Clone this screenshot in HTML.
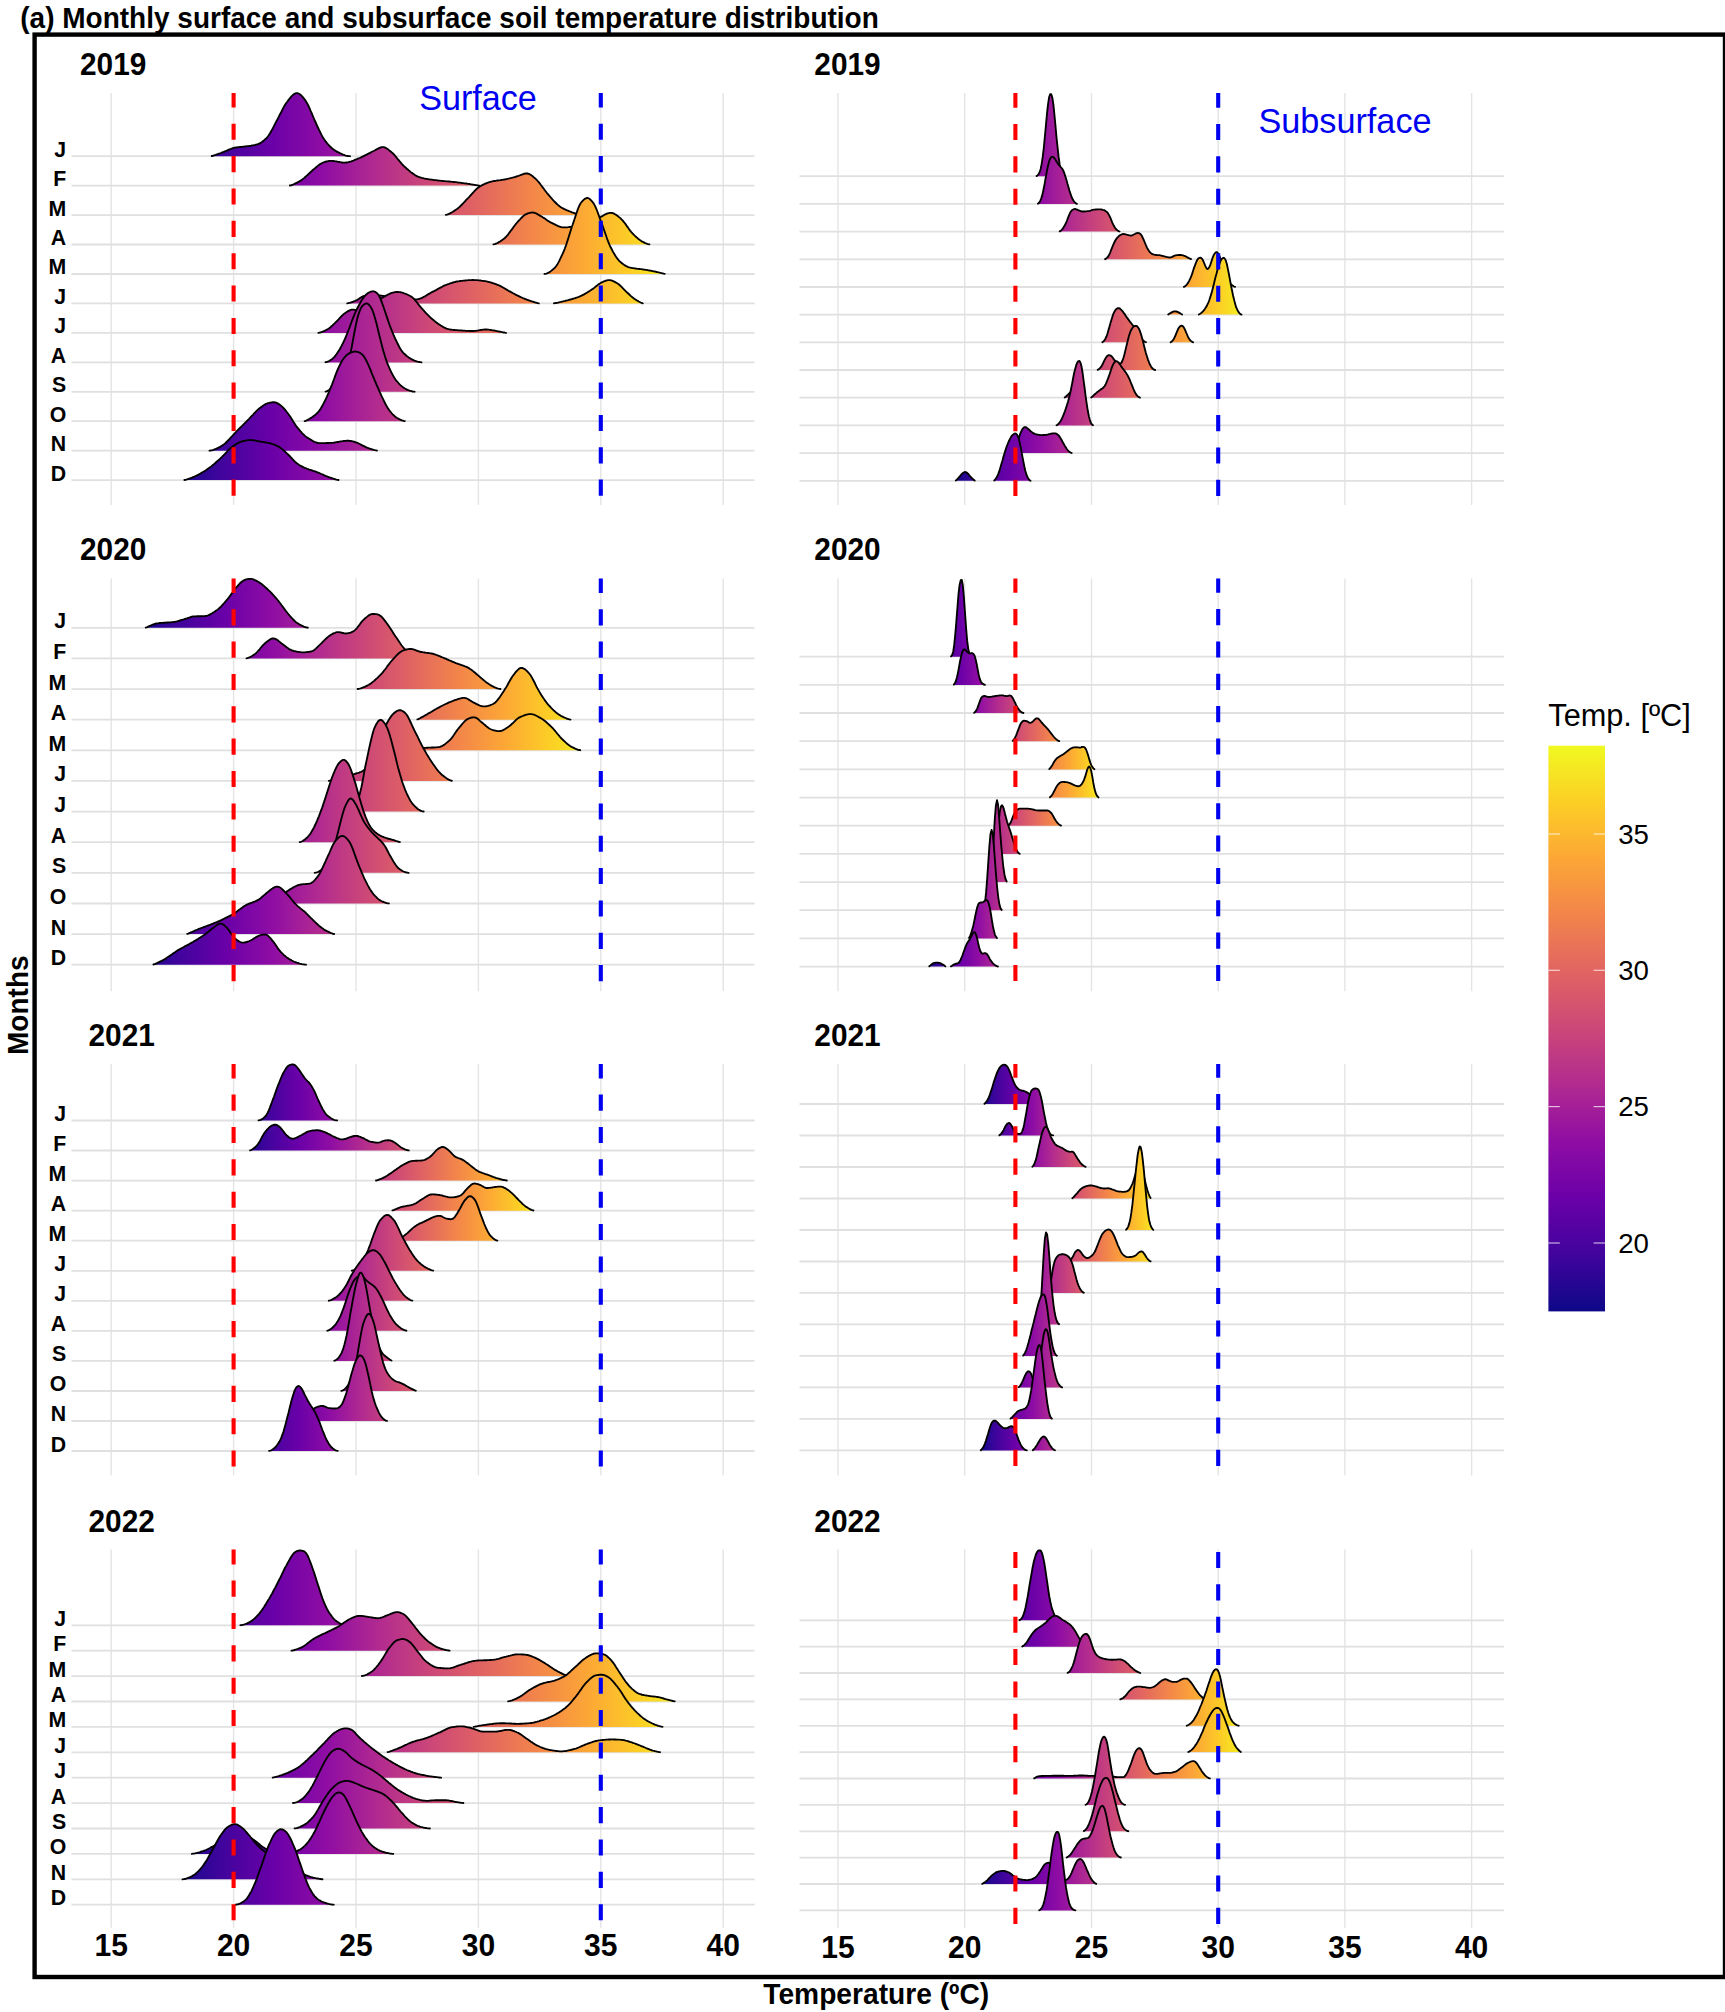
<!DOCTYPE html>
<html lang="en"><head><meta charset="utf-8"><title>Monthly surface and subsurface soil temperature distribution</title>
<style>html,body{margin:0;padding:0;background:#fff}svg{display:block}
text{font-family:"Liberation Sans",Arial,sans-serif;fill:#000}
.b{font-weight:bold}
.vg{stroke:#e4e4e4;stroke-width:1.4}
.hg{stroke:#e0e0e0;stroke-width:1.8}
.rl{fill:none;stroke:#000;stroke-width:1.85;stroke-linejoin:round;stroke-linecap:round}</style></head>
<body>
<svg width="1725" height="2012" viewBox="0 0 1725 2012">
<defs>
<linearGradient id="gL1" gradientUnits="userSpaceOnUse" x1="170.0" y1="0" x2="681.6" y2="0"><stop offset="0.0" stop-color="#0d0887"/><stop offset="0.1" stop-color="#41049d"/><stop offset="0.2" stop-color="#6a00a8"/><stop offset="0.3" stop-color="#8f0da4"/><stop offset="0.4" stop-color="#b12a90"/><stop offset="0.5" stop-color="#cc4778"/><stop offset="0.6" stop-color="#e16462"/><stop offset="0.7" stop-color="#f2844b"/><stop offset="0.8" stop-color="#fca636"/><stop offset="0.9" stop-color="#fcce25"/><stop offset="1.0" stop-color="#f0f921"/></linearGradient>
<linearGradient id="gL2" gradientUnits="userSpaceOnUse" x1="133.2" y1="0" x2="595.9" y2="0"><stop offset="0.0" stop-color="#0d0887"/><stop offset="0.1" stop-color="#41049d"/><stop offset="0.2" stop-color="#6a00a8"/><stop offset="0.3" stop-color="#8f0da4"/><stop offset="0.4" stop-color="#b12a90"/><stop offset="0.5" stop-color="#cc4778"/><stop offset="0.6" stop-color="#e16462"/><stop offset="0.7" stop-color="#f2844b"/><stop offset="0.8" stop-color="#fca636"/><stop offset="0.9" stop-color="#fcce25"/><stop offset="1.0" stop-color="#f0f921"/></linearGradient>
<linearGradient id="gL3" gradientUnits="userSpaceOnUse" x1="236.0" y1="0" x2="549.4" y2="0"><stop offset="0.0" stop-color="#0d0887"/><stop offset="0.1" stop-color="#41049d"/><stop offset="0.2" stop-color="#6a00a8"/><stop offset="0.3" stop-color="#8f0da4"/><stop offset="0.4" stop-color="#b12a90"/><stop offset="0.5" stop-color="#cc4778"/><stop offset="0.6" stop-color="#e16462"/><stop offset="0.7" stop-color="#f2844b"/><stop offset="0.8" stop-color="#fca636"/><stop offset="0.9" stop-color="#fcce25"/><stop offset="1.0" stop-color="#f0f921"/></linearGradient>
<linearGradient id="gL4" gradientUnits="userSpaceOnUse" x1="170.0" y1="0" x2="691.4" y2="0"><stop offset="0.0" stop-color="#0d0887"/><stop offset="0.1" stop-color="#41049d"/><stop offset="0.2" stop-color="#6a00a8"/><stop offset="0.3" stop-color="#8f0da4"/><stop offset="0.4" stop-color="#b12a90"/><stop offset="0.5" stop-color="#cc4778"/><stop offset="0.6" stop-color="#e16462"/><stop offset="0.7" stop-color="#f2844b"/><stop offset="0.8" stop-color="#fca636"/><stop offset="0.9" stop-color="#fcce25"/><stop offset="1.0" stop-color="#f0f921"/></linearGradient>
<linearGradient id="gR1" gradientUnits="userSpaceOnUse" x1="949.5" y1="0" x2="1248.6" y2="0"><stop offset="0.0" stop-color="#0d0887"/><stop offset="0.1" stop-color="#41049d"/><stop offset="0.2" stop-color="#6a00a8"/><stop offset="0.3" stop-color="#8f0da4"/><stop offset="0.4" stop-color="#b12a90"/><stop offset="0.5" stop-color="#cc4778"/><stop offset="0.6" stop-color="#e16462"/><stop offset="0.7" stop-color="#f2844b"/><stop offset="0.8" stop-color="#fca636"/><stop offset="0.9" stop-color="#fcce25"/><stop offset="1.0" stop-color="#f0f921"/></linearGradient>
<linearGradient id="gR2" gradientUnits="userSpaceOnUse" x1="924.2" y1="0" x2="1105.4" y2="0"><stop offset="0.0" stop-color="#0d0887"/><stop offset="0.1" stop-color="#41049d"/><stop offset="0.2" stop-color="#6a00a8"/><stop offset="0.3" stop-color="#8f0da4"/><stop offset="0.4" stop-color="#b12a90"/><stop offset="0.5" stop-color="#cc4778"/><stop offset="0.6" stop-color="#e16462"/><stop offset="0.7" stop-color="#f2844b"/><stop offset="0.8" stop-color="#fca636"/><stop offset="0.9" stop-color="#fcce25"/><stop offset="1.0" stop-color="#f0f921"/></linearGradient>
<linearGradient id="gR3" gradientUnits="userSpaceOnUse" x1="978.7" y1="0" x2="1161.1" y2="0"><stop offset="0.0" stop-color="#0d0887"/><stop offset="0.1" stop-color="#41049d"/><stop offset="0.2" stop-color="#6a00a8"/><stop offset="0.3" stop-color="#8f0da4"/><stop offset="0.4" stop-color="#b12a90"/><stop offset="0.5" stop-color="#cc4778"/><stop offset="0.6" stop-color="#e16462"/><stop offset="0.7" stop-color="#f2844b"/><stop offset="0.8" stop-color="#fca636"/><stop offset="0.9" stop-color="#fcce25"/><stop offset="1.0" stop-color="#f0f921"/></linearGradient>
<linearGradient id="gR4" gradientUnits="userSpaceOnUse" x1="977.4" y1="0" x2="1248.6" y2="0"><stop offset="0.0" stop-color="#0d0887"/><stop offset="0.1" stop-color="#41049d"/><stop offset="0.2" stop-color="#6a00a8"/><stop offset="0.3" stop-color="#8f0da4"/><stop offset="0.4" stop-color="#b12a90"/><stop offset="0.5" stop-color="#cc4778"/><stop offset="0.6" stop-color="#e16462"/><stop offset="0.7" stop-color="#f2844b"/><stop offset="0.8" stop-color="#fca636"/><stop offset="0.9" stop-color="#fcce25"/><stop offset="1.0" stop-color="#f0f921"/></linearGradient>
<linearGradient id="gbar" x1="0" y1="1" x2="0" y2="0"><stop offset="0.0" stop-color="#0d0887"/><stop offset="0.1" stop-color="#41049d"/><stop offset="0.2" stop-color="#6a00a8"/><stop offset="0.3" stop-color="#8f0da4"/><stop offset="0.4" stop-color="#b12a90"/><stop offset="0.5" stop-color="#cc4778"/><stop offset="0.6" stop-color="#e16462"/><stop offset="0.7" stop-color="#f2844b"/><stop offset="0.8" stop-color="#fca636"/><stop offset="0.9" stop-color="#fcce25"/><stop offset="1.0" stop-color="#f0f921"/></linearGradient>
</defs>
<rect width="1725" height="2012" fill="#fff"/>
<text transform="translate(20.3,27.5) scale(0.962,1)" font-size="29.1" class="b">(a) Monthly surface and subsurface soil temperature distribution</text>
<g id="L1"><line x1="111.2" y1="93.0" x2="111.2" y2="505.0" class="vg"/>
<line x1="233.6" y1="93.0" x2="233.6" y2="505.0" class="vg"/>
<line x1="356.0" y1="93.0" x2="356.0" y2="505.0" class="vg"/>
<line x1="478.4" y1="93.0" x2="478.4" y2="505.0" class="vg"/>
<line x1="600.8" y1="93.0" x2="600.8" y2="505.0" class="vg"/>
<line x1="723.2" y1="93.0" x2="723.2" y2="505.0" class="vg"/>
<line x1="71.5" y1="156.2" x2="754.5" y2="156.2" class="hg"/>
<line x1="71.5" y1="185.6" x2="754.5" y2="185.6" class="hg"/>
<line x1="71.5" y1="215.1" x2="754.5" y2="215.1" class="hg"/>
<line x1="71.5" y1="244.5" x2="754.5" y2="244.5" class="hg"/>
<line x1="71.5" y1="274.0" x2="754.5" y2="274.0" class="hg"/>
<line x1="71.5" y1="303.4" x2="754.5" y2="303.4" class="hg"/>
<line x1="71.5" y1="332.9" x2="754.5" y2="332.9" class="hg"/>
<line x1="71.5" y1="362.4" x2="754.5" y2="362.4" class="hg"/>
<line x1="71.5" y1="391.8" x2="754.5" y2="391.8" class="hg"/>
<line x1="71.5" y1="421.2" x2="754.5" y2="421.2" class="hg"/>
<line x1="71.5" y1="450.7" x2="754.5" y2="450.7" class="hg"/>
<line x1="71.5" y1="480.1" x2="754.5" y2="480.1" class="hg"/>
<path d="M211.7,156.2 L211.7,156.0 212.7,155.8 213.7,155.5 214.7,155.1 215.7,154.8 216.7,154.4 217.7,154.1 218.7,153.7 219.7,153.4 220.8,153.0 221.8,152.6 222.8,152.2 223.8,151.9 224.8,151.4 225.8,151.0 226.8,150.6 227.8,150.1 228.8,149.7 229.8,149.3 230.9,148.9 231.9,148.5 232.9,148.2 233.9,147.9 234.9,147.7 235.9,147.5 236.9,147.4 237.9,147.2 238.9,147.1 239.9,147.0 241.0,146.9 242.0,146.8 243.0,146.7 244.0,146.6 245.0,146.5 246.0,146.4 247.0,146.2 248.0,146.1 249.0,146.0 250.0,145.8 251.1,145.7 252.1,145.5 253.1,145.4 254.1,145.2 255.1,145.0 256.1,144.7 257.1,144.4 258.1,144.1 259.1,143.6 260.1,143.1 261.2,142.5 262.2,141.8 263.2,141.0 264.2,140.2 265.2,139.3 266.2,138.4 267.2,137.3 268.2,136.0 269.2,134.5 270.2,132.9 271.3,131.1 272.3,129.3 273.3,127.3 274.3,125.4 275.3,123.4 276.3,121.5 277.3,119.6 278.3,117.7 279.3,115.7 280.3,113.7 281.4,111.7 282.4,109.7 283.4,107.8 284.4,106.0 285.4,104.3 286.4,102.8 287.4,101.5 288.4,100.1 289.4,98.9 290.4,97.6 291.5,96.4 292.5,95.4 293.5,94.5 294.5,93.8 295.5,93.3 296.5,93.1 297.5,93.1 298.5,93.5 299.5,94.0 300.5,94.8 301.6,95.8 302.6,96.9 303.6,98.1 304.6,99.4 305.6,100.8 306.6,102.4 307.6,104.1 308.6,106.2 309.6,108.4 310.6,110.8 311.7,113.2 312.7,115.7 313.7,118.0 314.7,120.3 315.7,122.5 316.7,124.8 317.7,127.0 318.7,129.2 319.7,131.3 320.8,133.4 321.8,135.4 322.8,137.2 323.8,138.8 324.8,140.3 325.8,141.6 326.8,142.9 327.8,144.1 328.8,145.2 329.8,146.3 330.9,147.3 331.9,148.2 332.9,149.0 333.9,149.8 334.9,150.4 335.9,151.0 336.9,151.6 337.9,152.2 338.9,152.7 339.9,153.2 341.0,153.7 342.0,154.1 343.0,154.6 344.0,154.9 345.0,155.3 346.0,155.6 347.0,155.8 348.0,156.0 349.0,156.1 350.0,156.2 L350.0,156.2 Z" fill="url(#gL1)"/>
<polyline points="211.7,156.0 212.7,155.8 213.7,155.5 214.7,155.1 215.7,154.8 216.7,154.4 217.7,154.1 218.7,153.7 219.7,153.4 220.8,153.0 221.8,152.6 222.8,152.2 223.8,151.9 224.8,151.4 225.8,151.0 226.8,150.6 227.8,150.1 228.8,149.7 229.8,149.3 230.9,148.9 231.9,148.5 232.9,148.2 233.9,147.9 234.9,147.7 235.9,147.5 236.9,147.4 237.9,147.2 238.9,147.1 239.9,147.0 241.0,146.9 242.0,146.8 243.0,146.7 244.0,146.6 245.0,146.5 246.0,146.4 247.0,146.2 248.0,146.1 249.0,146.0 250.0,145.8 251.1,145.7 252.1,145.5 253.1,145.4 254.1,145.2 255.1,145.0 256.1,144.7 257.1,144.4 258.1,144.1 259.1,143.6 260.1,143.1 261.2,142.5 262.2,141.8 263.2,141.0 264.2,140.2 265.2,139.3 266.2,138.4 267.2,137.3 268.2,136.0 269.2,134.5 270.2,132.9 271.3,131.1 272.3,129.3 273.3,127.3 274.3,125.4 275.3,123.4 276.3,121.5 277.3,119.6 278.3,117.7 279.3,115.7 280.3,113.7 281.4,111.7 282.4,109.7 283.4,107.8 284.4,106.0 285.4,104.3 286.4,102.8 287.4,101.5 288.4,100.1 289.4,98.9 290.4,97.6 291.5,96.4 292.5,95.4 293.5,94.5 294.5,93.8 295.5,93.3 296.5,93.1 297.5,93.1 298.5,93.5 299.5,94.0 300.5,94.8 301.6,95.8 302.6,96.9 303.6,98.1 304.6,99.4 305.6,100.8 306.6,102.4 307.6,104.1 308.6,106.2 309.6,108.4 310.6,110.8 311.7,113.2 312.7,115.7 313.7,118.0 314.7,120.3 315.7,122.5 316.7,124.8 317.7,127.0 318.7,129.2 319.7,131.3 320.8,133.4 321.8,135.4 322.8,137.2 323.8,138.8 324.8,140.3 325.8,141.6 326.8,142.9 327.8,144.1 328.8,145.2 329.8,146.3 330.9,147.3 331.9,148.2 332.9,149.0 333.9,149.8 334.9,150.4 335.9,151.0 336.9,151.6 337.9,152.2 338.9,152.7 339.9,153.2 341.0,153.7 342.0,154.1 343.0,154.6 344.0,154.9 345.0,155.3 346.0,155.6 347.0,155.8 348.0,156.0 349.0,156.1 350.0,156.2" class="rl"/>
<path d="M289.9,185.6 L289.9,185.5 290.9,185.3 291.9,185.0 293.0,184.6 294.0,184.2 295.0,183.7 296.0,183.2 297.0,182.7 298.0,182.2 299.0,181.6 300.0,181.0 301.0,180.4 302.0,179.7 303.0,178.9 304.0,178.1 305.0,177.2 306.1,176.3 307.1,175.4 308.1,174.4 309.1,173.5 310.1,172.5 311.1,171.6 312.1,170.7 313.1,169.8 314.1,169.0 315.1,168.1 316.1,167.3 317.1,166.4 318.1,165.6 319.1,164.8 320.2,164.1 321.2,163.5 322.2,163.0 323.2,162.5 324.2,162.2 325.2,161.8 326.2,161.5 327.2,161.3 328.2,161.1 329.2,160.9 330.2,160.8 331.2,160.8 332.2,160.9 333.3,161.0 334.3,161.1 335.3,161.3 336.3,161.4 337.3,161.6 338.3,161.8 339.3,162.0 340.3,162.2 341.3,162.3 342.3,162.5 343.3,162.6 344.3,162.6 345.3,162.6 346.4,162.5 347.4,162.4 348.4,162.2 349.4,161.9 350.4,161.6 351.4,161.3 352.4,160.9 353.4,160.6 354.4,160.2 355.4,159.7 356.4,159.3 357.4,158.9 358.4,158.4 359.5,158.0 360.5,157.6 361.5,157.2 362.5,156.7 363.5,156.2 364.5,155.7 365.5,155.2 366.5,154.7 367.5,154.1 368.5,153.6 369.5,153.1 370.5,152.6 371.5,152.0 372.5,151.5 373.6,151.0 374.6,150.5 375.6,149.9 376.6,149.4 377.6,148.8 378.6,148.3 379.6,147.8 380.6,147.5 381.6,147.2 382.6,147.1 383.6,147.2 384.6,147.4 385.6,147.9 386.7,148.4 387.7,149.1 388.7,149.9 389.7,150.7 390.7,151.5 391.7,152.4 392.7,153.3 393.7,154.2 394.7,155.3 395.7,156.5 396.7,157.7 397.7,159.0 398.7,160.2 399.8,161.5 400.8,162.7 401.8,163.9 402.8,165.0 403.8,166.0 404.8,166.9 405.8,167.8 406.8,168.7 407.8,169.5 408.8,170.4 409.8,171.2 410.8,172.1 411.8,172.9 412.9,173.6 413.9,174.3 414.9,175.0 415.9,175.6 416.9,176.1 417.9,176.6 418.9,177.0 419.9,177.3 420.9,177.6 421.9,177.9 422.9,178.1 423.9,178.4 424.9,178.6 425.9,178.8 427.0,178.9 428.0,179.1 429.0,179.3 430.0,179.4 431.0,179.6 432.0,179.7 433.0,179.8 434.0,180.0 435.0,180.1 436.0,180.2 437.0,180.4 438.0,180.5 439.0,180.6 440.1,180.7 441.1,180.8 442.1,180.9 443.1,181.0 444.1,181.1 445.1,181.2 446.1,181.3 447.1,181.4 448.1,181.4 449.1,181.5 450.1,181.6 451.1,181.7 452.1,181.8 453.2,181.9 454.2,182.0 455.2,182.1 456.2,182.2 457.2,182.3 458.2,182.5 459.2,182.6 460.2,182.7 461.2,182.8 462.2,183.0 463.2,183.1 464.2,183.3 465.2,183.4 466.3,183.5 467.3,183.7 468.3,183.8 469.3,184.0 470.3,184.2 471.3,184.3 472.3,184.5 473.3,184.6 474.3,184.8 475.3,185.0 476.3,185.1 477.3,185.3 478.3,185.5 479.3,185.6 L479.3,185.6 Z" fill="url(#gL1)"/>
<polyline points="289.9,185.5 290.9,185.3 291.9,185.0 293.0,184.6 294.0,184.2 295.0,183.7 296.0,183.2 297.0,182.7 298.0,182.2 299.0,181.6 300.0,181.0 301.0,180.4 302.0,179.7 303.0,178.9 304.0,178.1 305.0,177.2 306.1,176.3 307.1,175.4 308.1,174.4 309.1,173.5 310.1,172.5 311.1,171.6 312.1,170.7 313.1,169.8 314.1,169.0 315.1,168.1 316.1,167.3 317.1,166.4 318.1,165.6 319.1,164.8 320.2,164.1 321.2,163.5 322.2,163.0 323.2,162.5 324.2,162.2 325.2,161.8 326.2,161.5 327.2,161.3 328.2,161.1 329.2,160.9 330.2,160.8 331.2,160.8 332.2,160.9 333.3,161.0 334.3,161.1 335.3,161.3 336.3,161.4 337.3,161.6 338.3,161.8 339.3,162.0 340.3,162.2 341.3,162.3 342.3,162.5 343.3,162.6 344.3,162.6 345.3,162.6 346.4,162.5 347.4,162.4 348.4,162.2 349.4,161.9 350.4,161.6 351.4,161.3 352.4,160.9 353.4,160.6 354.4,160.2 355.4,159.7 356.4,159.3 357.4,158.9 358.4,158.4 359.5,158.0 360.5,157.6 361.5,157.2 362.5,156.7 363.5,156.2 364.5,155.7 365.5,155.2 366.5,154.7 367.5,154.1 368.5,153.6 369.5,153.1 370.5,152.6 371.5,152.0 372.5,151.5 373.6,151.0 374.6,150.5 375.6,149.9 376.6,149.4 377.6,148.8 378.6,148.3 379.6,147.8 380.6,147.5 381.6,147.2 382.6,147.1 383.6,147.2 384.6,147.4 385.6,147.9 386.7,148.4 387.7,149.1 388.7,149.9 389.7,150.7 390.7,151.5 391.7,152.4 392.7,153.3 393.7,154.2 394.7,155.3 395.7,156.5 396.7,157.7 397.7,159.0 398.7,160.2 399.8,161.5 400.8,162.7 401.8,163.9 402.8,165.0 403.8,166.0 404.8,166.9 405.8,167.8 406.8,168.7 407.8,169.5 408.8,170.4 409.8,171.2 410.8,172.1 411.8,172.9 412.9,173.6 413.9,174.3 414.9,175.0 415.9,175.6 416.9,176.1 417.9,176.6 418.9,177.0 419.9,177.3 420.9,177.6 421.9,177.9 422.9,178.1 423.9,178.4 424.9,178.6 425.9,178.8 427.0,178.9 428.0,179.1 429.0,179.3 430.0,179.4 431.0,179.6 432.0,179.7 433.0,179.8 434.0,180.0 435.0,180.1 436.0,180.2 437.0,180.4 438.0,180.5 439.0,180.6 440.1,180.7 441.1,180.8 442.1,180.9 443.1,181.0 444.1,181.1 445.1,181.2 446.1,181.3 447.1,181.4 448.1,181.4 449.1,181.5 450.1,181.6 451.1,181.7 452.1,181.8 453.2,181.9 454.2,182.0 455.2,182.1 456.2,182.2 457.2,182.3 458.2,182.5 459.2,182.6 460.2,182.7 461.2,182.8 462.2,183.0 463.2,183.1 464.2,183.3 465.2,183.4 466.3,183.5 467.3,183.7 468.3,183.8 469.3,184.0 470.3,184.2 471.3,184.3 472.3,184.5 473.3,184.6 474.3,184.8 475.3,185.0 476.3,185.1 477.3,185.3 478.3,185.5 479.3,185.6" class="rl"/>
<path d="M445.8,215.1 L445.8,214.9 446.9,214.7 447.9,214.3 448.9,213.9 449.9,213.4 450.9,212.8 451.9,212.3 452.9,211.7 453.9,211.0 454.9,210.4 455.9,209.7 457.0,209.0 458.0,208.2 459.0,207.4 460.0,206.5 461.0,205.5 462.0,204.5 463.0,203.5 464.0,202.4 465.0,201.3 466.0,200.2 467.0,199.1 468.1,198.1 469.1,197.0 470.1,195.9 471.1,194.8 472.1,193.7 473.1,192.6 474.1,191.5 475.1,190.4 476.1,189.4 477.1,188.5 478.1,187.7 479.2,186.9 480.2,186.3 481.2,185.7 482.2,185.2 483.2,184.6 484.2,184.2 485.2,183.7 486.2,183.3 487.2,182.9 488.2,182.5 489.3,182.2 490.3,181.9 491.3,181.6 492.3,181.4 493.3,181.2 494.3,181.0 495.3,180.8 496.3,180.7 497.3,180.5 498.3,180.4 499.3,180.3 500.4,180.2 501.4,180.0 502.4,179.9 503.4,179.7 504.4,179.5 505.4,179.3 506.4,179.1 507.4,178.9 508.4,178.7 509.4,178.4 510.4,178.2 511.5,177.9 512.5,177.6 513.5,177.4 514.5,177.1 515.5,176.8 516.5,176.5 517.5,176.2 518.5,175.9 519.5,175.5 520.5,175.1 521.6,174.7 522.6,174.3 523.6,174.0 524.6,173.7 525.6,173.5 526.6,173.4 527.6,173.5 528.6,173.8 529.6,174.2 530.6,174.8 531.6,175.5 532.7,176.3 533.7,177.2 534.7,178.0 535.7,178.9 536.7,179.9 537.7,181.0 538.7,182.1 539.7,183.3 540.7,184.7 541.7,186.0 542.7,187.4 543.8,188.8 544.8,190.2 545.8,191.5 546.8,192.8 547.8,194.0 548.8,195.2 549.8,196.4 550.8,197.5 551.8,198.7 552.8,199.8 553.8,200.9 554.9,202.0 555.9,203.0 556.9,204.0 557.9,204.9 558.9,205.7 559.9,206.5 560.9,207.2 561.9,207.8 562.9,208.3 563.9,208.9 565.0,209.4 566.0,209.9 567.0,210.3 568.0,210.7 569.0,211.1 570.0,211.5 571.0,211.9 572.0,212.3 573.0,212.6 574.0,213.0 575.0,213.3 576.1,213.7 577.1,214.0 578.1,214.3 579.1,214.6 580.1,214.8 581.1,215.0 L581.1,215.1 Z" fill="url(#gL1)"/>
<polyline points="445.8,214.9 446.9,214.7 447.9,214.3 448.9,213.9 449.9,213.4 450.9,212.8 451.9,212.3 452.9,211.7 453.9,211.0 454.9,210.4 455.9,209.7 457.0,209.0 458.0,208.2 459.0,207.4 460.0,206.5 461.0,205.5 462.0,204.5 463.0,203.5 464.0,202.4 465.0,201.3 466.0,200.2 467.0,199.1 468.1,198.1 469.1,197.0 470.1,195.9 471.1,194.8 472.1,193.7 473.1,192.6 474.1,191.5 475.1,190.4 476.1,189.4 477.1,188.5 478.1,187.7 479.2,186.9 480.2,186.3 481.2,185.7 482.2,185.2 483.2,184.6 484.2,184.2 485.2,183.7 486.2,183.3 487.2,182.9 488.2,182.5 489.3,182.2 490.3,181.9 491.3,181.6 492.3,181.4 493.3,181.2 494.3,181.0 495.3,180.8 496.3,180.7 497.3,180.5 498.3,180.4 499.3,180.3 500.4,180.2 501.4,180.0 502.4,179.9 503.4,179.7 504.4,179.5 505.4,179.3 506.4,179.1 507.4,178.9 508.4,178.7 509.4,178.4 510.4,178.2 511.5,177.9 512.5,177.6 513.5,177.4 514.5,177.1 515.5,176.8 516.5,176.5 517.5,176.2 518.5,175.9 519.5,175.5 520.5,175.1 521.6,174.7 522.6,174.3 523.6,174.0 524.6,173.7 525.6,173.5 526.6,173.4 527.6,173.5 528.6,173.8 529.6,174.2 530.6,174.8 531.6,175.5 532.7,176.3 533.7,177.2 534.7,178.0 535.7,178.9 536.7,179.9 537.7,181.0 538.7,182.1 539.7,183.3 540.7,184.7 541.7,186.0 542.7,187.4 543.8,188.8 544.8,190.2 545.8,191.5 546.8,192.8 547.8,194.0 548.8,195.2 549.8,196.4 550.8,197.5 551.8,198.7 552.8,199.8 553.8,200.9 554.9,202.0 555.9,203.0 556.9,204.0 557.9,204.9 558.9,205.7 559.9,206.5 560.9,207.2 561.9,207.8 562.9,208.3 563.9,208.9 565.0,209.4 566.0,209.9 567.0,210.3 568.0,210.7 569.0,211.1 570.0,211.5 571.0,211.9 572.0,212.3 573.0,212.6 574.0,213.0 575.0,213.3 576.1,213.7 577.1,214.0 578.1,214.3 579.1,214.6 580.1,214.8 581.1,215.0" class="rl"/>
<path d="M493.4,244.5 L493.4,244.4 494.5,244.2 495.5,243.9 496.5,243.4 497.5,243.0 498.5,242.4 499.5,241.8 500.5,241.2 501.5,240.5 502.5,239.8 503.6,239.0 504.6,238.2 505.6,237.3 506.6,236.2 507.6,235.1 508.6,233.8 509.6,232.4 510.6,231.0 511.7,229.6 512.7,228.2 513.7,226.8 514.7,225.5 515.7,224.2 516.7,223.0 517.7,221.9 518.7,220.7 519.8,219.6 520.8,218.5 521.8,217.5 522.8,216.5 523.8,215.6 524.8,214.9 525.8,214.3 526.8,213.8 527.9,213.4 528.9,213.1 529.9,212.8 530.9,212.6 531.9,212.5 532.9,212.6 533.9,212.7 534.9,213.0 536.0,213.4 537.0,213.9 538.0,214.5 539.0,215.1 540.0,215.7 541.0,216.2 542.0,216.8 543.0,217.5 544.1,218.1 545.1,218.8 546.1,219.5 547.1,220.2 548.1,220.9 549.1,221.5 550.1,222.1 551.1,222.6 552.2,223.1 553.2,223.7 554.2,224.2 555.2,224.7 556.2,225.2 557.2,225.6 558.2,226.1 559.2,226.5 560.3,226.8 561.3,227.1 562.3,227.3 563.3,227.4 564.3,227.4 565.3,227.4 566.3,227.3 567.3,227.3 568.4,227.2 569.4,227.0 570.4,226.9 571.4,226.8 572.4,226.6 573.4,226.5 574.4,226.3 575.4,226.1 576.5,225.9 577.5,225.7 578.5,225.5 579.5,225.2 580.5,224.9 581.5,224.6 582.5,224.4 583.5,224.0 584.6,223.7 585.6,223.4 586.6,223.0 587.6,222.6 588.6,222.2 589.6,221.8 590.6,221.4 591.6,220.9 592.7,220.5 593.7,220.1 594.7,219.6 595.7,219.2 596.7,218.7 597.7,218.3 598.7,217.9 599.7,217.4 600.8,216.9 601.8,216.3 602.8,215.8 603.8,215.2 604.8,214.7 605.8,214.2 606.8,213.7 607.8,213.3 608.9,213.1 609.9,212.9 610.9,212.9 611.9,213.0 612.9,213.2 613.9,213.6 614.9,214.2 615.9,214.8 617.0,215.5 618.0,216.3 619.0,217.1 620.0,217.9 621.0,218.8 622.0,219.8 623.0,220.9 624.0,222.2 625.1,223.5 626.1,224.9 627.1,226.4 628.1,227.8 629.1,229.2 630.1,230.6 631.1,231.8 632.1,233.0 633.2,234.1 634.2,235.1 635.2,236.1 636.2,237.0 637.2,237.9 638.2,238.8 639.2,239.6 640.2,240.3 641.3,241.0 642.3,241.6 643.3,242.1 644.3,242.6 645.3,243.1 646.3,243.5 647.3,243.9 648.3,244.2 649.4,244.4 L649.4,244.5 Z" fill="url(#gL1)"/>
<polyline points="493.4,244.4 494.5,244.2 495.5,243.9 496.5,243.4 497.5,243.0 498.5,242.4 499.5,241.8 500.5,241.2 501.5,240.5 502.5,239.8 503.6,239.0 504.6,238.2 505.6,237.3 506.6,236.2 507.6,235.1 508.6,233.8 509.6,232.4 510.6,231.0 511.7,229.6 512.7,228.2 513.7,226.8 514.7,225.5 515.7,224.2 516.7,223.0 517.7,221.9 518.7,220.7 519.8,219.6 520.8,218.5 521.8,217.5 522.8,216.5 523.8,215.6 524.8,214.9 525.8,214.3 526.8,213.8 527.9,213.4 528.9,213.1 529.9,212.8 530.9,212.6 531.9,212.5 532.9,212.6 533.9,212.7 534.9,213.0 536.0,213.4 537.0,213.9 538.0,214.5 539.0,215.1 540.0,215.7 541.0,216.2 542.0,216.8 543.0,217.5 544.1,218.1 545.1,218.8 546.1,219.5 547.1,220.2 548.1,220.9 549.1,221.5 550.1,222.1 551.1,222.6 552.2,223.1 553.2,223.7 554.2,224.2 555.2,224.7 556.2,225.2 557.2,225.6 558.2,226.1 559.2,226.5 560.3,226.8 561.3,227.1 562.3,227.3 563.3,227.4 564.3,227.4 565.3,227.4 566.3,227.3 567.3,227.3 568.4,227.2 569.4,227.0 570.4,226.9 571.4,226.8 572.4,226.6 573.4,226.5 574.4,226.3 575.4,226.1 576.5,225.9 577.5,225.7 578.5,225.5 579.5,225.2 580.5,224.9 581.5,224.6 582.5,224.4 583.5,224.0 584.6,223.7 585.6,223.4 586.6,223.0 587.6,222.6 588.6,222.2 589.6,221.8 590.6,221.4 591.6,220.9 592.7,220.5 593.7,220.1 594.7,219.6 595.7,219.2 596.7,218.7 597.7,218.3 598.7,217.9 599.7,217.4 600.8,216.9 601.8,216.3 602.8,215.8 603.8,215.2 604.8,214.7 605.8,214.2 606.8,213.7 607.8,213.3 608.9,213.1 609.9,212.9 610.9,212.9 611.9,213.0 612.9,213.2 613.9,213.6 614.9,214.2 615.9,214.8 617.0,215.5 618.0,216.3 619.0,217.1 620.0,217.9 621.0,218.8 622.0,219.8 623.0,220.9 624.0,222.2 625.1,223.5 626.1,224.9 627.1,226.4 628.1,227.8 629.1,229.2 630.1,230.6 631.1,231.8 632.1,233.0 633.2,234.1 634.2,235.1 635.2,236.1 636.2,237.0 637.2,237.9 638.2,238.8 639.2,239.6 640.2,240.3 641.3,241.0 642.3,241.6 643.3,242.1 644.3,242.6 645.3,243.1 646.3,243.5 647.3,243.9 648.3,244.2 649.4,244.4" class="rl"/>
<path d="M544.5,274.0 L544.5,273.9 545.5,273.8 546.5,273.6 547.5,273.2 548.5,272.7 549.5,272.1 550.5,271.4 551.5,270.6 552.6,269.8 553.6,268.9 554.6,268.0 555.6,266.8 556.6,265.5 557.6,263.9 558.6,262.1 559.6,260.2 560.6,258.1 561.6,255.9 562.7,253.7 563.7,251.3 564.7,248.8 565.7,246.1 566.7,243.2 567.7,240.1 568.7,237.0 569.7,233.7 570.7,230.5 571.7,227.3 572.8,224.3 573.8,221.3 574.8,218.3 575.8,215.2 576.8,212.2 577.8,209.4 578.8,206.9 579.8,204.7 580.8,203.0 581.9,201.7 582.9,200.6 583.9,199.6 584.9,198.8 585.9,198.3 586.9,198.0 587.9,198.0 588.9,198.4 589.9,199.2 590.9,200.1 592.0,201.3 593.0,202.6 594.0,204.1 595.0,205.9 596.0,208.1 597.0,210.5 598.0,213.2 599.0,216.0 600.0,218.9 601.0,221.6 602.1,224.4 603.1,227.2 604.1,230.1 605.1,233.0 606.1,235.8 607.1,238.7 608.1,241.4 609.1,243.9 610.1,246.2 611.2,248.3 612.2,250.2 613.2,252.1 614.2,253.8 615.2,255.5 616.2,257.0 617.2,258.4 618.2,259.7 619.2,260.8 620.2,261.8 621.3,262.7 622.3,263.5 623.3,264.3 624.3,265.0 625.3,265.6 626.3,266.2 627.3,266.7 628.3,267.1 629.3,267.4 630.3,267.7 631.4,267.9 632.4,268.1 633.4,268.2 634.4,268.4 635.4,268.5 636.4,268.6 637.4,268.8 638.4,268.9 639.4,269.0 640.4,269.1 641.5,269.2 642.5,269.3 643.5,269.5 644.5,269.6 645.5,269.8 646.5,269.9 647.5,270.1 648.5,270.3 649.5,270.5 650.6,270.7 651.6,270.9 652.6,271.1 653.6,271.3 654.6,271.5 655.6,271.7 656.6,272.0 657.6,272.2 658.6,272.4 659.6,272.7 660.7,272.9 661.7,273.2 662.7,273.4 663.7,273.7 664.7,273.9 L664.7,274.0 Z" fill="url(#gL1)"/>
<polyline points="544.5,273.9 545.5,273.8 546.5,273.6 547.5,273.2 548.5,272.7 549.5,272.1 550.5,271.4 551.5,270.6 552.6,269.8 553.6,268.9 554.6,268.0 555.6,266.8 556.6,265.5 557.6,263.9 558.6,262.1 559.6,260.2 560.6,258.1 561.6,255.9 562.7,253.7 563.7,251.3 564.7,248.8 565.7,246.1 566.7,243.2 567.7,240.1 568.7,237.0 569.7,233.7 570.7,230.5 571.7,227.3 572.8,224.3 573.8,221.3 574.8,218.3 575.8,215.2 576.8,212.2 577.8,209.4 578.8,206.9 579.8,204.7 580.8,203.0 581.9,201.7 582.9,200.6 583.9,199.6 584.9,198.8 585.9,198.3 586.9,198.0 587.9,198.0 588.9,198.4 589.9,199.2 590.9,200.1 592.0,201.3 593.0,202.6 594.0,204.1 595.0,205.9 596.0,208.1 597.0,210.5 598.0,213.2 599.0,216.0 600.0,218.9 601.0,221.6 602.1,224.4 603.1,227.2 604.1,230.1 605.1,233.0 606.1,235.8 607.1,238.7 608.1,241.4 609.1,243.9 610.1,246.2 611.2,248.3 612.2,250.2 613.2,252.1 614.2,253.8 615.2,255.5 616.2,257.0 617.2,258.4 618.2,259.7 619.2,260.8 620.2,261.8 621.3,262.7 622.3,263.5 623.3,264.3 624.3,265.0 625.3,265.6 626.3,266.2 627.3,266.7 628.3,267.1 629.3,267.4 630.3,267.7 631.4,267.9 632.4,268.1 633.4,268.2 634.4,268.4 635.4,268.5 636.4,268.6 637.4,268.8 638.4,268.9 639.4,269.0 640.4,269.1 641.5,269.2 642.5,269.3 643.5,269.5 644.5,269.6 645.5,269.8 646.5,269.9 647.5,270.1 648.5,270.3 649.5,270.5 650.6,270.7 651.6,270.9 652.6,271.1 653.6,271.3 654.6,271.5 655.6,271.7 656.6,272.0 657.6,272.2 658.6,272.4 659.6,272.7 660.7,272.9 661.7,273.2 662.7,273.4 663.7,273.7 664.7,273.9" class="rl"/>
<path d="M347.2,303.4 L347.2,303.3 348.2,303.2 349.2,302.9 350.3,302.6 351.3,302.3 352.3,302.0 353.3,301.6 354.3,301.2 355.3,300.8 356.3,300.3 357.3,299.8 358.3,299.2 359.3,298.5 360.3,297.9 361.3,297.2 362.4,296.7 363.4,296.2 364.4,295.9 365.4,295.7 366.4,295.6 367.4,295.5 368.4,295.4 369.4,295.3 370.4,295.2 371.4,295.2 372.4,295.1 373.4,295.1 374.5,295.1 375.5,295.1 376.5,295.1 377.5,295.1 378.5,295.2 379.5,295.3 380.5,295.5 381.5,295.6 382.5,295.8 383.5,296.0 384.5,296.2 385.5,296.5 386.6,296.7 387.6,296.9 388.6,297.1 389.6,297.2 390.6,297.4 391.6,297.5 392.6,297.6 393.6,297.8 394.6,297.9 395.6,298.0 396.6,298.1 397.6,298.2 398.7,298.3 399.7,298.4 400.7,298.5 401.7,298.6 402.7,298.7 403.7,298.8 404.7,298.9 405.7,299.0 406.7,299.0 407.7,299.1 408.7,299.2 409.8,299.2 410.8,299.3 411.8,299.3 412.8,299.4 413.8,299.4 414.8,299.4 415.8,299.4 416.8,299.3 417.8,299.2 418.8,299.0 419.8,298.7 420.8,298.3 421.9,297.9 422.9,297.4 423.9,296.8 424.9,296.3 425.9,295.7 426.9,295.1 427.9,294.4 428.9,293.8 429.9,293.3 430.9,292.7 431.9,292.2 432.9,291.6 434.0,291.1 435.0,290.6 436.0,290.1 437.0,289.5 438.0,288.9 439.0,288.4 440.0,287.8 441.0,287.3 442.0,286.8 443.0,286.2 444.0,285.7 445.0,285.3 446.1,284.9 447.1,284.5 448.1,284.1 449.1,283.8 450.1,283.4 451.1,283.1 452.1,282.8 453.1,282.5 454.1,282.2 455.1,282.0 456.1,281.7 457.1,281.5 458.2,281.3 459.2,281.2 460.2,281.0 461.2,280.9 462.2,280.8 463.2,280.7 464.2,280.6 465.2,280.5 466.2,280.4 467.2,280.3 468.2,280.2 469.3,280.1 470.3,280.1 471.3,280.1 472.3,280.0 473.3,280.0 474.3,280.1 475.3,280.1 476.3,280.1 477.3,280.2 478.3,280.3 479.3,280.4 480.3,280.5 481.4,280.7 482.4,280.8 483.4,280.9 484.4,281.1 485.4,281.2 486.4,281.4 487.4,281.6 488.4,281.8 489.4,282.1 490.4,282.4 491.4,282.7 492.4,283.0 493.5,283.3 494.5,283.7 495.5,284.0 496.5,284.4 497.5,284.8 498.5,285.2 499.5,285.6 500.5,286.1 501.5,286.6 502.5,287.2 503.5,287.8 504.5,288.4 505.6,289.0 506.6,289.6 507.6,290.2 508.6,290.8 509.6,291.3 510.6,291.9 511.6,292.4 512.6,293.0 513.6,293.5 514.6,294.0 515.6,294.6 516.6,295.1 517.7,295.6 518.7,296.1 519.7,296.6 520.7,297.1 521.7,297.5 522.7,298.0 523.7,298.4 524.7,298.8 525.7,299.2 526.7,299.6 527.7,300.0 528.8,300.3 529.8,300.7 530.8,301.0 531.8,301.4 532.8,301.7 533.8,302.0 534.8,302.3 535.8,302.6 536.8,302.9 537.8,303.2 538.8,303.3 L538.8,303.4 Z" fill="url(#gL1)"/>
<polyline points="347.2,303.3 348.2,303.2 349.2,302.9 350.3,302.6 351.3,302.3 352.3,302.0 353.3,301.6 354.3,301.2 355.3,300.8 356.3,300.3 357.3,299.8 358.3,299.2 359.3,298.5 360.3,297.9 361.3,297.2 362.4,296.7 363.4,296.2 364.4,295.9 365.4,295.7 366.4,295.6 367.4,295.5 368.4,295.4 369.4,295.3 370.4,295.2 371.4,295.2 372.4,295.1 373.4,295.1 374.5,295.1 375.5,295.1 376.5,295.1 377.5,295.1 378.5,295.2 379.5,295.3 380.5,295.5 381.5,295.6 382.5,295.8 383.5,296.0 384.5,296.2 385.5,296.5 386.6,296.7 387.6,296.9 388.6,297.1 389.6,297.2 390.6,297.4 391.6,297.5 392.6,297.6 393.6,297.8 394.6,297.9 395.6,298.0 396.6,298.1 397.6,298.2 398.7,298.3 399.7,298.4 400.7,298.5 401.7,298.6 402.7,298.7 403.7,298.8 404.7,298.9 405.7,299.0 406.7,299.0 407.7,299.1 408.7,299.2 409.8,299.2 410.8,299.3 411.8,299.3 412.8,299.4 413.8,299.4 414.8,299.4 415.8,299.4 416.8,299.3 417.8,299.2 418.8,299.0 419.8,298.7 420.8,298.3 421.9,297.9 422.9,297.4 423.9,296.8 424.9,296.3 425.9,295.7 426.9,295.1 427.9,294.4 428.9,293.8 429.9,293.3 430.9,292.7 431.9,292.2 432.9,291.6 434.0,291.1 435.0,290.6 436.0,290.1 437.0,289.5 438.0,288.9 439.0,288.4 440.0,287.8 441.0,287.3 442.0,286.8 443.0,286.2 444.0,285.7 445.0,285.3 446.1,284.9 447.1,284.5 448.1,284.1 449.1,283.8 450.1,283.4 451.1,283.1 452.1,282.8 453.1,282.5 454.1,282.2 455.1,282.0 456.1,281.7 457.1,281.5 458.2,281.3 459.2,281.2 460.2,281.0 461.2,280.9 462.2,280.8 463.2,280.7 464.2,280.6 465.2,280.5 466.2,280.4 467.2,280.3 468.2,280.2 469.3,280.1 470.3,280.1 471.3,280.1 472.3,280.0 473.3,280.0 474.3,280.1 475.3,280.1 476.3,280.1 477.3,280.2 478.3,280.3 479.3,280.4 480.3,280.5 481.4,280.7 482.4,280.8 483.4,280.9 484.4,281.1 485.4,281.2 486.4,281.4 487.4,281.6 488.4,281.8 489.4,282.1 490.4,282.4 491.4,282.7 492.4,283.0 493.5,283.3 494.5,283.7 495.5,284.0 496.5,284.4 497.5,284.8 498.5,285.2 499.5,285.6 500.5,286.1 501.5,286.6 502.5,287.2 503.5,287.8 504.5,288.4 505.6,289.0 506.6,289.6 507.6,290.2 508.6,290.8 509.6,291.3 510.6,291.9 511.6,292.4 512.6,293.0 513.6,293.5 514.6,294.0 515.6,294.6 516.6,295.1 517.7,295.6 518.7,296.1 519.7,296.6 520.7,297.1 521.7,297.5 522.7,298.0 523.7,298.4 524.7,298.8 525.7,299.2 526.7,299.6 527.7,300.0 528.8,300.3 529.8,300.7 530.8,301.0 531.8,301.4 532.8,301.7 533.8,302.0 534.8,302.3 535.8,302.6 536.8,302.9 537.8,303.2 538.8,303.3" class="rl"/>
<path d="M553.9,303.4 L553.9,303.4 554.9,303.2 555.9,303.0 556.9,302.8 558.0,302.6 559.0,302.3 560.0,302.1 561.0,301.9 562.0,301.6 563.1,301.4 564.1,301.1 565.1,300.9 566.1,300.6 567.1,300.3 568.2,300.1 569.2,299.8 570.2,299.5 571.2,299.3 572.3,299.0 573.3,298.7 574.3,298.4 575.3,298.1 576.3,297.7 577.4,297.4 578.4,297.0 579.4,296.6 580.4,296.2 581.5,295.7 582.5,295.2 583.5,294.7 584.5,294.1 585.5,293.5 586.6,292.9 587.6,292.3 588.6,291.6 589.6,291.0 590.7,290.3 591.7,289.6 592.7,288.9 593.7,288.2 594.7,287.4 595.8,286.5 596.8,285.7 597.8,284.9 598.8,284.1 599.9,283.5 600.9,282.9 601.9,282.3 602.9,281.9 603.9,281.4 605.0,281.0 606.0,280.7 607.0,280.4 608.0,280.2 609.1,280.1 610.1,280.2 611.1,280.4 612.1,280.7 613.1,281.1 614.2,281.6 615.2,282.1 616.2,282.7 617.2,283.3 618.3,284.0 619.3,284.8 620.3,285.7 621.3,286.7 622.3,287.7 623.4,288.8 624.4,289.8 625.4,290.8 626.4,291.8 627.4,292.8 628.5,293.8 629.5,294.7 630.5,295.7 631.5,296.6 632.6,297.4 633.6,298.2 634.6,299.0 635.6,299.6 636.6,300.3 637.7,300.9 638.7,301.5 639.7,302.0 640.7,302.5 641.8,303.0 642.8,303.3 L642.8,303.4 Z" fill="url(#gL1)"/>
<polyline points="553.9,303.4 554.9,303.2 555.9,303.0 556.9,302.8 558.0,302.6 559.0,302.3 560.0,302.1 561.0,301.9 562.0,301.6 563.1,301.4 564.1,301.1 565.1,300.9 566.1,300.6 567.1,300.3 568.2,300.1 569.2,299.8 570.2,299.5 571.2,299.3 572.3,299.0 573.3,298.7 574.3,298.4 575.3,298.1 576.3,297.7 577.4,297.4 578.4,297.0 579.4,296.6 580.4,296.2 581.5,295.7 582.5,295.2 583.5,294.7 584.5,294.1 585.5,293.5 586.6,292.9 587.6,292.3 588.6,291.6 589.6,291.0 590.7,290.3 591.7,289.6 592.7,288.9 593.7,288.2 594.7,287.4 595.8,286.5 596.8,285.7 597.8,284.9 598.8,284.1 599.9,283.5 600.9,282.9 601.9,282.3 602.9,281.9 603.9,281.4 605.0,281.0 606.0,280.7 607.0,280.4 608.0,280.2 609.1,280.1 610.1,280.2 611.1,280.4 612.1,280.7 613.1,281.1 614.2,281.6 615.2,282.1 616.2,282.7 617.2,283.3 618.3,284.0 619.3,284.8 620.3,285.7 621.3,286.7 622.3,287.7 623.4,288.8 624.4,289.8 625.4,290.8 626.4,291.8 627.4,292.8 628.5,293.8 629.5,294.7 630.5,295.7 631.5,296.6 632.6,297.4 633.6,298.2 634.6,299.0 635.6,299.6 636.6,300.3 637.7,300.9 638.7,301.5 639.7,302.0 640.7,302.5 641.8,303.0 642.8,303.3" class="rl"/>
<path d="M318.4,332.9 L318.4,332.8 319.4,332.7 320.4,332.4 321.4,332.1 322.5,331.7 323.5,331.3 324.5,330.9 325.5,330.4 326.5,329.9 327.5,329.3 328.5,328.7 329.5,328.0 330.5,327.2 331.5,326.3 332.5,325.4 333.5,324.4 334.6,323.4 335.6,322.3 336.6,321.3 337.6,320.3 338.6,319.3 339.6,318.2 340.6,317.1 341.6,316.0 342.6,315.1 343.6,314.2 344.6,313.4 345.6,312.7 346.7,312.0 347.7,311.4 348.7,310.8 349.7,310.3 350.7,309.9 351.7,309.7 352.7,309.6 353.7,309.6 354.7,309.8 355.7,310.2 356.7,310.6 357.7,311.0 358.8,311.3 359.8,311.6 360.8,311.8 361.8,311.8 362.8,311.6 363.8,311.2 364.8,310.6 365.8,309.9 366.8,309.1 367.8,308.2 368.8,307.3 369.8,306.4 370.9,305.5 371.9,304.6 372.9,303.8 373.9,303.1 374.9,302.4 375.9,301.8 376.9,301.2 377.9,300.6 378.9,299.9 379.9,299.3 380.9,298.6 381.9,298.0 383.0,297.4 384.0,296.8 385.0,296.2 386.0,295.6 387.0,295.1 388.0,294.5 389.0,294.1 390.0,293.6 391.0,293.2 392.0,292.9 393.0,292.6 394.0,292.3 395.1,292.1 396.1,292.0 397.1,292.0 398.1,292.0 399.1,292.1 400.1,292.2 401.1,292.4 402.1,292.6 403.1,292.9 404.1,293.3 405.1,293.6 406.1,294.0 407.2,294.5 408.2,295.0 409.2,295.5 410.2,296.0 411.2,296.6 412.2,297.3 413.2,298.1 414.2,299.1 415.2,300.3 416.2,301.5 417.2,302.8 418.2,304.2 419.2,305.4 420.3,306.6 421.3,307.8 422.3,308.9 423.3,310.1 424.3,311.2 425.3,312.3 426.3,313.4 427.3,314.4 428.3,315.4 429.3,316.4 430.3,317.4 431.3,318.3 432.4,319.2 433.4,320.0 434.4,320.9 435.4,321.7 436.4,322.5 437.4,323.2 438.4,323.9 439.4,324.6 440.4,325.2 441.4,325.9 442.4,326.5 443.4,327.1 444.5,327.7 445.5,328.1 446.5,328.6 447.5,328.9 448.5,329.2 449.5,329.3 450.5,329.5 451.5,329.6 452.5,329.8 453.5,329.9 454.5,330.0 455.5,330.1 456.6,330.1 457.6,330.2 458.6,330.3 459.6,330.4 460.6,330.4 461.6,330.5 462.6,330.6 463.6,330.6 464.6,330.7 465.6,330.8 466.6,330.8 467.6,330.9 468.7,330.9 469.7,331.0 470.7,331.0 471.7,331.0 472.7,331.0 473.7,331.0 474.7,330.9 475.7,330.8 476.7,330.7 477.7,330.6 478.7,330.4 479.7,330.2 480.8,330.0 481.8,329.9 482.8,329.7 483.8,329.6 484.8,329.5 485.8,329.5 486.8,329.5 487.8,329.6 488.8,329.7 489.8,329.8 490.8,330.0 491.8,330.2 492.9,330.3 493.9,330.5 494.9,330.7 495.9,330.9 496.9,331.1 497.9,331.3 498.9,331.5 499.9,331.7 500.9,331.9 501.9,332.1 502.9,332.3 503.9,332.5 505.0,332.7 506.0,332.8 L506.0,332.9 Z" fill="url(#gL1)"/>
<polyline points="318.4,332.8 319.4,332.7 320.4,332.4 321.4,332.1 322.5,331.7 323.5,331.3 324.5,330.9 325.5,330.4 326.5,329.9 327.5,329.3 328.5,328.7 329.5,328.0 330.5,327.2 331.5,326.3 332.5,325.4 333.5,324.4 334.6,323.4 335.6,322.3 336.6,321.3 337.6,320.3 338.6,319.3 339.6,318.2 340.6,317.1 341.6,316.0 342.6,315.1 343.6,314.2 344.6,313.4 345.6,312.7 346.7,312.0 347.7,311.4 348.7,310.8 349.7,310.3 350.7,309.9 351.7,309.7 352.7,309.6 353.7,309.6 354.7,309.8 355.7,310.2 356.7,310.6 357.7,311.0 358.8,311.3 359.8,311.6 360.8,311.8 361.8,311.8 362.8,311.6 363.8,311.2 364.8,310.6 365.8,309.9 366.8,309.1 367.8,308.2 368.8,307.3 369.8,306.4 370.9,305.5 371.9,304.6 372.9,303.8 373.9,303.1 374.9,302.4 375.9,301.8 376.9,301.2 377.9,300.6 378.9,299.9 379.9,299.3 380.9,298.6 381.9,298.0 383.0,297.4 384.0,296.8 385.0,296.2 386.0,295.6 387.0,295.1 388.0,294.5 389.0,294.1 390.0,293.6 391.0,293.2 392.0,292.9 393.0,292.6 394.0,292.3 395.1,292.1 396.1,292.0 397.1,292.0 398.1,292.0 399.1,292.1 400.1,292.2 401.1,292.4 402.1,292.6 403.1,292.9 404.1,293.3 405.1,293.6 406.1,294.0 407.2,294.5 408.2,295.0 409.2,295.5 410.2,296.0 411.2,296.6 412.2,297.3 413.2,298.1 414.2,299.1 415.2,300.3 416.2,301.5 417.2,302.8 418.2,304.2 419.2,305.4 420.3,306.6 421.3,307.8 422.3,308.9 423.3,310.1 424.3,311.2 425.3,312.3 426.3,313.4 427.3,314.4 428.3,315.4 429.3,316.4 430.3,317.4 431.3,318.3 432.4,319.2 433.4,320.0 434.4,320.9 435.4,321.7 436.4,322.5 437.4,323.2 438.4,323.9 439.4,324.6 440.4,325.2 441.4,325.9 442.4,326.5 443.4,327.1 444.5,327.7 445.5,328.1 446.5,328.6 447.5,328.9 448.5,329.2 449.5,329.3 450.5,329.5 451.5,329.6 452.5,329.8 453.5,329.9 454.5,330.0 455.5,330.1 456.6,330.1 457.6,330.2 458.6,330.3 459.6,330.4 460.6,330.4 461.6,330.5 462.6,330.6 463.6,330.6 464.6,330.7 465.6,330.8 466.6,330.8 467.6,330.9 468.7,330.9 469.7,331.0 470.7,331.0 471.7,331.0 472.7,331.0 473.7,331.0 474.7,330.9 475.7,330.8 476.7,330.7 477.7,330.6 478.7,330.4 479.7,330.2 480.8,330.0 481.8,329.9 482.8,329.7 483.8,329.6 484.8,329.5 485.8,329.5 486.8,329.5 487.8,329.6 488.8,329.7 489.8,329.8 490.8,330.0 491.8,330.2 492.9,330.3 493.9,330.5 494.9,330.7 495.9,330.9 496.9,331.1 497.9,331.3 498.9,331.5 499.9,331.7 500.9,331.9 501.9,332.1 502.9,332.3 503.9,332.5 505.0,332.7 506.0,332.8" class="rl"/>
<path d="M325.5,362.4 L325.5,362.2 326.5,362.1 327.5,361.7 328.5,361.3 329.6,360.8 330.6,360.1 331.6,359.4 332.6,358.7 333.6,357.7 334.6,356.6 335.6,355.4 336.6,354.0 337.6,352.5 338.6,350.9 339.7,349.3 340.7,347.5 341.7,345.7 342.7,343.7 343.7,341.6 344.7,339.4 345.7,337.1 346.7,334.7 347.7,332.1 348.8,329.5 349.8,326.7 350.8,324.0 351.8,321.3 352.8,318.7 353.8,316.2 354.8,313.8 355.8,311.5 356.8,309.3 357.9,307.2 358.9,305.3 359.9,303.4 360.9,301.6 361.9,300.0 362.9,298.4 363.9,297.1 364.9,295.9 365.9,294.8 366.9,293.9 368.0,293.1 369.0,292.5 370.0,292.0 371.0,291.6 372.0,291.4 373.0,291.3 374.0,291.4 375.0,291.8 376.0,292.4 377.1,293.3 378.1,294.4 379.1,296.0 380.1,298.0 381.1,300.4 382.1,303.1 383.1,305.9 384.1,308.8 385.1,311.8 386.1,314.8 387.2,317.9 388.2,321.0 389.2,323.8 390.2,326.6 391.2,329.2 392.2,331.7 393.2,334.1 394.2,336.4 395.2,338.7 396.3,340.8 397.3,343.0 398.3,345.0 399.3,347.0 400.3,348.7 401.3,350.3 402.3,351.6 403.3,352.8 404.3,353.8 405.4,354.8 406.4,355.7 407.4,356.4 408.4,357.2 409.4,357.9 410.4,358.5 411.4,359.1 412.4,359.6 413.4,360.1 414.4,360.6 415.5,361.0 416.5,361.3 417.5,361.6 418.5,361.8 419.5,362.0 420.5,362.2 421.5,362.3 L421.5,362.4 Z" fill="url(#gL1)"/>
<polyline points="325.5,362.2 326.5,362.1 327.5,361.7 328.5,361.3 329.6,360.8 330.6,360.1 331.6,359.4 332.6,358.7 333.6,357.7 334.6,356.6 335.6,355.4 336.6,354.0 337.6,352.5 338.6,350.9 339.7,349.3 340.7,347.5 341.7,345.7 342.7,343.7 343.7,341.6 344.7,339.4 345.7,337.1 346.7,334.7 347.7,332.1 348.8,329.5 349.8,326.7 350.8,324.0 351.8,321.3 352.8,318.7 353.8,316.2 354.8,313.8 355.8,311.5 356.8,309.3 357.9,307.2 358.9,305.3 359.9,303.4 360.9,301.6 361.9,300.0 362.9,298.4 363.9,297.1 364.9,295.9 365.9,294.8 366.9,293.9 368.0,293.1 369.0,292.5 370.0,292.0 371.0,291.6 372.0,291.4 373.0,291.3 374.0,291.4 375.0,291.8 376.0,292.4 377.1,293.3 378.1,294.4 379.1,296.0 380.1,298.0 381.1,300.4 382.1,303.1 383.1,305.9 384.1,308.8 385.1,311.8 386.1,314.8 387.2,317.9 388.2,321.0 389.2,323.8 390.2,326.6 391.2,329.2 392.2,331.7 393.2,334.1 394.2,336.4 395.2,338.7 396.3,340.8 397.3,343.0 398.3,345.0 399.3,347.0 400.3,348.7 401.3,350.3 402.3,351.6 403.3,352.8 404.3,353.8 405.4,354.8 406.4,355.7 407.4,356.4 408.4,357.2 409.4,357.9 410.4,358.5 411.4,359.1 412.4,359.6 413.4,360.1 414.4,360.6 415.5,361.0 416.5,361.3 417.5,361.6 418.5,361.8 419.5,362.0 420.5,362.2 421.5,362.3" class="rl"/>
<path d="M325.5,391.8 L325.5,391.6 326.5,391.3 327.5,390.8 328.5,390.3 329.6,389.6 330.6,388.8 331.6,388.0 332.6,387.0 333.6,385.9 334.6,384.7 335.6,383.3 336.6,381.9 337.7,380.3 338.7,378.7 339.7,377.1 340.7,375.3 341.7,373.4 342.7,371.3 343.7,369.2 344.7,367.1 345.7,364.9 346.8,362.7 347.8,360.4 348.8,358.0 349.8,355.1 350.8,351.4 351.8,346.7 352.8,341.2 353.8,335.6 354.9,330.0 355.9,324.8 356.9,320.2 357.9,316.3 358.9,313.1 359.9,310.4 360.9,308.2 361.9,306.6 363.0,305.4 364.0,304.5 365.0,303.9 366.0,303.5 367.0,303.5 368.0,304.0 369.0,304.8 370.0,306.0 371.0,307.5 372.1,309.5 373.1,312.0 374.1,315.0 375.1,318.4 376.1,322.1 377.1,326.0 378.1,330.2 379.1,334.5 380.2,338.8 381.2,342.9 382.2,346.8 383.2,350.4 384.2,353.8 385.2,357.1 386.2,360.1 387.2,362.9 388.3,365.5 389.3,367.9 390.3,370.1 391.3,372.2 392.3,374.1 393.3,376.0 394.3,377.7 395.3,379.3 396.3,380.7 397.4,381.9 398.4,383.0 399.4,384.1 400.4,385.1 401.4,386.0 402.4,386.8 403.4,387.5 404.4,388.2 405.5,388.8 406.5,389.3 407.5,389.8 408.5,390.2 409.5,390.6 410.5,390.9 411.5,391.2 412.5,391.5 413.6,391.6 414.6,391.7 L414.6,391.8 Z" fill="url(#gL1)"/>
<polyline points="325.5,391.6 326.5,391.3 327.5,390.8 328.5,390.3 329.6,389.6 330.6,388.8 331.6,388.0 332.6,387.0 333.6,385.9 334.6,384.7 335.6,383.3 336.6,381.9 337.7,380.3 338.7,378.7 339.7,377.1 340.7,375.3 341.7,373.4 342.7,371.3 343.7,369.2 344.7,367.1 345.7,364.9 346.8,362.7 347.8,360.4 348.8,358.0 349.8,355.1 350.8,351.4 351.8,346.7 352.8,341.2 353.8,335.6 354.9,330.0 355.9,324.8 356.9,320.2 357.9,316.3 358.9,313.1 359.9,310.4 360.9,308.2 361.9,306.6 363.0,305.4 364.0,304.5 365.0,303.9 366.0,303.5 367.0,303.5 368.0,304.0 369.0,304.8 370.0,306.0 371.0,307.5 372.1,309.5 373.1,312.0 374.1,315.0 375.1,318.4 376.1,322.1 377.1,326.0 378.1,330.2 379.1,334.5 380.2,338.8 381.2,342.9 382.2,346.8 383.2,350.4 384.2,353.8 385.2,357.1 386.2,360.1 387.2,362.9 388.3,365.5 389.3,367.9 390.3,370.1 391.3,372.2 392.3,374.1 393.3,376.0 394.3,377.7 395.3,379.3 396.3,380.7 397.4,381.9 398.4,383.0 399.4,384.1 400.4,385.1 401.4,386.0 402.4,386.8 403.4,387.5 404.4,388.2 405.5,388.8 406.5,389.3 407.5,389.8 408.5,390.2 409.5,390.6 410.5,390.9 411.5,391.2 412.5,391.5 413.6,391.6 414.6,391.7" class="rl"/>
<path d="M304.6,421.2 L304.6,421.1 305.7,420.8 306.7,420.4 307.7,419.9 308.7,419.3 309.7,418.8 310.7,418.1 311.7,417.5 312.7,416.8 313.7,416.1 314.8,415.3 315.8,414.4 316.8,413.5 317.8,412.5 318.8,411.3 319.8,409.9 320.8,408.4 321.8,406.7 322.9,404.8 323.9,402.9 324.9,400.9 325.9,398.8 326.9,396.7 327.9,394.4 328.9,392.1 329.9,389.6 330.9,387.2 332.0,384.6 333.0,381.9 334.0,379.2 335.0,376.4 336.0,373.7 337.0,371.2 338.0,368.8 339.0,366.6 340.1,364.5 341.1,362.5 342.1,360.8 343.1,359.3 344.1,358.0 345.1,356.8 346.1,355.7 347.1,354.8 348.2,354.0 349.2,353.4 350.2,352.9 351.2,352.5 352.2,352.1 353.2,351.8 354.2,351.6 355.2,351.5 356.2,351.6 357.3,351.8 358.3,352.1 359.3,352.5 360.3,353.1 361.3,353.7 362.3,354.6 363.3,355.7 364.3,357.1 365.4,358.9 366.4,360.8 367.4,362.9 368.4,365.0 369.4,367.3 370.4,369.7 371.4,372.3 372.4,374.8 373.5,377.4 374.5,379.8 375.5,382.2 376.5,384.6 377.5,386.9 378.5,389.2 379.5,391.5 380.5,393.7 381.5,395.9 382.6,398.1 383.6,400.2 384.6,402.3 385.6,404.2 386.6,406.0 387.6,407.7 388.6,409.2 389.6,410.7 390.7,412.0 391.7,413.3 392.7,414.4 393.7,415.3 394.7,416.2 395.7,417.0 396.7,417.7 397.7,418.3 398.8,418.9 399.8,419.4 400.8,419.8 401.8,420.3 402.8,420.6 403.8,420.9 404.8,421.1 L404.8,421.2 Z" fill="url(#gL1)"/>
<polyline points="304.6,421.1 305.7,420.8 306.7,420.4 307.7,419.9 308.7,419.3 309.7,418.8 310.7,418.1 311.7,417.5 312.7,416.8 313.7,416.1 314.8,415.3 315.8,414.4 316.8,413.5 317.8,412.5 318.8,411.3 319.8,409.9 320.8,408.4 321.8,406.7 322.9,404.8 323.9,402.9 324.9,400.9 325.9,398.8 326.9,396.7 327.9,394.4 328.9,392.1 329.9,389.6 330.9,387.2 332.0,384.6 333.0,381.9 334.0,379.2 335.0,376.4 336.0,373.7 337.0,371.2 338.0,368.8 339.0,366.6 340.1,364.5 341.1,362.5 342.1,360.8 343.1,359.3 344.1,358.0 345.1,356.8 346.1,355.7 347.1,354.8 348.2,354.0 349.2,353.4 350.2,352.9 351.2,352.5 352.2,352.1 353.2,351.8 354.2,351.6 355.2,351.5 356.2,351.6 357.3,351.8 358.3,352.1 359.3,352.5 360.3,353.1 361.3,353.7 362.3,354.6 363.3,355.7 364.3,357.1 365.4,358.9 366.4,360.8 367.4,362.9 368.4,365.0 369.4,367.3 370.4,369.7 371.4,372.3 372.4,374.8 373.5,377.4 374.5,379.8 375.5,382.2 376.5,384.6 377.5,386.9 378.5,389.2 379.5,391.5 380.5,393.7 381.5,395.9 382.6,398.1 383.6,400.2 384.6,402.3 385.6,404.2 386.6,406.0 387.6,407.7 388.6,409.2 389.6,410.7 390.7,412.0 391.7,413.3 392.7,414.4 393.7,415.3 394.7,416.2 395.7,417.0 396.7,417.7 397.7,418.3 398.8,418.9 399.8,419.4 400.8,419.8 401.8,420.3 402.8,420.6 403.8,420.9 404.8,421.1" class="rl"/>
<path d="M209.5,450.7 L209.5,450.6 210.5,450.5 211.5,450.3 212.5,450.1 213.5,449.8 214.5,449.4 215.5,449.0 216.5,448.6 217.5,448.1 218.5,447.6 219.6,447.0 220.6,446.5 221.6,445.9 222.6,445.3 223.6,444.6 224.6,443.9 225.6,443.0 226.6,442.0 227.6,441.0 228.6,440.0 229.6,438.8 230.7,437.7 231.7,436.6 232.7,435.5 233.7,434.4 234.7,433.3 235.7,432.3 236.7,431.2 237.7,430.2 238.7,429.2 239.7,428.2 240.7,427.2 241.8,426.2 242.8,425.2 243.8,424.2 244.8,423.2 245.8,422.2 246.8,421.1 247.8,420.1 248.8,419.1 249.8,418.0 250.8,416.9 251.8,415.9 252.9,414.8 253.9,413.7 254.9,412.6 255.9,411.6 256.9,410.6 257.9,409.7 258.9,408.8 259.9,408.0 260.9,407.2 261.9,406.5 262.9,405.7 264.0,405.1 265.0,404.4 266.0,403.9 267.0,403.5 268.0,403.1 269.0,402.9 270.0,402.6 271.0,402.5 272.0,402.3 273.0,402.2 274.0,402.2 275.1,402.3 276.1,402.6 277.1,403.1 278.1,403.6 279.1,404.3 280.1,405.0 281.1,405.8 282.1,406.6 283.1,407.6 284.1,408.7 285.1,409.9 286.2,411.2 287.2,412.5 288.2,413.8 289.2,415.2 290.2,416.6 291.2,418.2 292.2,419.8 293.2,421.4 294.2,423.0 295.2,424.6 296.2,426.0 297.3,427.4 298.3,428.7 299.3,429.9 300.3,431.1 301.3,432.2 302.3,433.3 303.3,434.3 304.3,435.2 305.3,436.1 306.3,436.9 307.3,437.6 308.4,438.3 309.4,438.9 310.4,439.5 311.4,440.1 312.4,440.7 313.4,441.3 314.4,441.8 315.4,442.2 316.4,442.5 317.4,442.8 318.4,443.0 319.5,443.1 320.5,443.1 321.5,443.1 322.5,443.1 323.5,443.1 324.5,443.1 325.5,443.1 326.5,443.0 327.5,443.0 328.5,443.0 329.5,442.9 330.6,442.9 331.6,442.8 332.6,442.8 333.6,442.7 334.6,442.5 335.6,442.4 336.6,442.2 337.6,442.0 338.6,441.8 339.6,441.6 340.6,441.4 341.7,441.3 342.7,441.1 343.7,441.0 344.7,440.9 345.7,440.8 346.7,440.7 347.7,440.7 348.7,440.7 349.7,440.8 350.7,441.0 351.7,441.2 352.8,441.4 353.8,441.7 354.8,442.0 355.8,442.3 356.8,442.6 357.8,443.0 358.8,443.5 359.8,444.0 360.8,444.5 361.8,445.1 362.8,445.7 363.9,446.2 364.9,446.7 365.9,447.2 366.9,447.6 367.9,448.0 368.9,448.3 369.9,448.7 370.9,449.0 371.9,449.3 372.9,449.6 373.9,449.9 375.0,450.2 376.0,450.4 377.0,450.6 L377.0,450.7 Z" fill="url(#gL1)"/>
<polyline points="209.5,450.6 210.5,450.5 211.5,450.3 212.5,450.1 213.5,449.8 214.5,449.4 215.5,449.0 216.5,448.6 217.5,448.1 218.5,447.6 219.6,447.0 220.6,446.5 221.6,445.9 222.6,445.3 223.6,444.6 224.6,443.9 225.6,443.0 226.6,442.0 227.6,441.0 228.6,440.0 229.6,438.8 230.7,437.7 231.7,436.6 232.7,435.5 233.7,434.4 234.7,433.3 235.7,432.3 236.7,431.2 237.7,430.2 238.7,429.2 239.7,428.2 240.7,427.2 241.8,426.2 242.8,425.2 243.8,424.2 244.8,423.2 245.8,422.2 246.8,421.1 247.8,420.1 248.8,419.1 249.8,418.0 250.8,416.9 251.8,415.9 252.9,414.8 253.9,413.7 254.9,412.6 255.9,411.6 256.9,410.6 257.9,409.7 258.9,408.8 259.9,408.0 260.9,407.2 261.9,406.5 262.9,405.7 264.0,405.1 265.0,404.4 266.0,403.9 267.0,403.5 268.0,403.1 269.0,402.9 270.0,402.6 271.0,402.5 272.0,402.3 273.0,402.2 274.0,402.2 275.1,402.3 276.1,402.6 277.1,403.1 278.1,403.6 279.1,404.3 280.1,405.0 281.1,405.8 282.1,406.6 283.1,407.6 284.1,408.7 285.1,409.9 286.2,411.2 287.2,412.5 288.2,413.8 289.2,415.2 290.2,416.6 291.2,418.2 292.2,419.8 293.2,421.4 294.2,423.0 295.2,424.6 296.2,426.0 297.3,427.4 298.3,428.7 299.3,429.9 300.3,431.1 301.3,432.2 302.3,433.3 303.3,434.3 304.3,435.2 305.3,436.1 306.3,436.9 307.3,437.6 308.4,438.3 309.4,438.9 310.4,439.5 311.4,440.1 312.4,440.7 313.4,441.3 314.4,441.8 315.4,442.2 316.4,442.5 317.4,442.8 318.4,443.0 319.5,443.1 320.5,443.1 321.5,443.1 322.5,443.1 323.5,443.1 324.5,443.1 325.5,443.1 326.5,443.0 327.5,443.0 328.5,443.0 329.5,442.9 330.6,442.9 331.6,442.8 332.6,442.8 333.6,442.7 334.6,442.5 335.6,442.4 336.6,442.2 337.6,442.0 338.6,441.8 339.6,441.6 340.6,441.4 341.7,441.3 342.7,441.1 343.7,441.0 344.7,440.9 345.7,440.8 346.7,440.7 347.7,440.7 348.7,440.7 349.7,440.8 350.7,441.0 351.7,441.2 352.8,441.4 353.8,441.7 354.8,442.0 355.8,442.3 356.8,442.6 357.8,443.0 358.8,443.5 359.8,444.0 360.8,444.5 361.8,445.1 362.8,445.7 363.9,446.2 364.9,446.7 365.9,447.2 366.9,447.6 367.9,448.0 368.9,448.3 369.9,448.7 370.9,449.0 371.9,449.3 372.9,449.6 373.9,449.9 375.0,450.2 376.0,450.4 377.0,450.6" class="rl"/>
<path d="M184.4,480.1 L184.4,480.0 185.4,479.8 186.4,479.6 187.4,479.2 188.4,478.9 189.5,478.5 190.5,478.2 191.5,477.8 192.5,477.4 193.5,476.9 194.5,476.5 195.5,476.0 196.5,475.6 197.5,475.1 198.5,474.6 199.5,474.1 200.5,473.5 201.5,472.9 202.5,472.3 203.5,471.7 204.6,471.1 205.6,470.4 206.6,469.7 207.6,469.0 208.6,468.3 209.6,467.6 210.6,466.9 211.6,466.1 212.6,465.3 213.6,464.5 214.6,463.6 215.6,462.7 216.6,461.8 217.6,460.9 218.7,460.0 219.7,459.1 220.7,458.1 221.7,457.2 222.7,456.2 223.7,455.2 224.7,454.2 225.7,453.1 226.7,452.0 227.7,450.9 228.7,449.9 229.7,448.9 230.7,448.0 231.7,447.2 232.7,446.4 233.8,445.7 234.8,445.0 235.8,444.3 236.8,443.7 237.8,443.1 238.8,442.6 239.8,442.2 240.8,441.8 241.8,441.5 242.8,441.2 243.8,441.0 244.8,440.8 245.8,440.6 246.8,440.4 247.8,440.2 248.9,440.1 249.9,440.1 250.9,440.0 251.9,440.1 252.9,440.2 253.9,440.3 254.9,440.5 255.9,440.7 256.9,440.9 257.9,441.1 258.9,441.3 259.9,441.5 260.9,441.7 261.9,441.8 263.0,442.0 264.0,442.1 265.0,442.3 266.0,442.5 267.0,442.6 268.0,442.8 269.0,443.0 270.0,443.3 271.0,443.5 272.0,443.9 273.0,444.2 274.0,444.6 275.0,445.0 276.0,445.4 277.0,445.9 278.1,446.4 279.1,447.0 280.1,447.6 281.1,448.3 282.1,449.1 283.1,449.9 284.1,450.8 285.1,451.7 286.1,452.6 287.1,453.6 288.1,454.5 289.1,455.5 290.1,456.5 291.1,457.6 292.1,458.7 293.2,459.8 294.2,460.9 295.2,461.9 296.2,462.8 297.2,463.6 298.2,464.3 299.2,465.0 300.2,465.6 301.2,466.1 302.2,466.6 303.2,467.1 304.2,467.6 305.2,468.0 306.2,468.4 307.2,468.8 308.3,469.2 309.3,469.6 310.3,469.9 311.3,470.2 312.3,470.5 313.3,470.9 314.3,471.2 315.3,471.5 316.3,471.9 317.3,472.3 318.3,472.7 319.3,473.1 320.3,473.5 321.3,474.0 322.4,474.4 323.4,474.9 324.4,475.3 325.4,475.8 326.4,476.2 327.4,476.6 328.4,477.0 329.4,477.3 330.4,477.7 331.4,478.0 332.4,478.3 333.4,478.7 334.4,479.0 335.4,479.3 336.4,479.6 337.5,479.8 338.5,480.0 L338.5,480.1 Z" fill="url(#gL1)"/>
<polyline points="184.4,480.0 185.4,479.8 186.4,479.6 187.4,479.2 188.4,478.9 189.5,478.5 190.5,478.2 191.5,477.8 192.5,477.4 193.5,476.9 194.5,476.5 195.5,476.0 196.5,475.6 197.5,475.1 198.5,474.6 199.5,474.1 200.5,473.5 201.5,472.9 202.5,472.3 203.5,471.7 204.6,471.1 205.6,470.4 206.6,469.7 207.6,469.0 208.6,468.3 209.6,467.6 210.6,466.9 211.6,466.1 212.6,465.3 213.6,464.5 214.6,463.6 215.6,462.7 216.6,461.8 217.6,460.9 218.7,460.0 219.7,459.1 220.7,458.1 221.7,457.2 222.7,456.2 223.7,455.2 224.7,454.2 225.7,453.1 226.7,452.0 227.7,450.9 228.7,449.9 229.7,448.9 230.7,448.0 231.7,447.2 232.7,446.4 233.8,445.7 234.8,445.0 235.8,444.3 236.8,443.7 237.8,443.1 238.8,442.6 239.8,442.2 240.8,441.8 241.8,441.5 242.8,441.2 243.8,441.0 244.8,440.8 245.8,440.6 246.8,440.4 247.8,440.2 248.9,440.1 249.9,440.1 250.9,440.0 251.9,440.1 252.9,440.2 253.9,440.3 254.9,440.5 255.9,440.7 256.9,440.9 257.9,441.1 258.9,441.3 259.9,441.5 260.9,441.7 261.9,441.8 263.0,442.0 264.0,442.1 265.0,442.3 266.0,442.5 267.0,442.6 268.0,442.8 269.0,443.0 270.0,443.3 271.0,443.5 272.0,443.9 273.0,444.2 274.0,444.6 275.0,445.0 276.0,445.4 277.0,445.9 278.1,446.4 279.1,447.0 280.1,447.6 281.1,448.3 282.1,449.1 283.1,449.9 284.1,450.8 285.1,451.7 286.1,452.6 287.1,453.6 288.1,454.5 289.1,455.5 290.1,456.5 291.1,457.6 292.1,458.7 293.2,459.8 294.2,460.9 295.2,461.9 296.2,462.8 297.2,463.6 298.2,464.3 299.2,465.0 300.2,465.6 301.2,466.1 302.2,466.6 303.2,467.1 304.2,467.6 305.2,468.0 306.2,468.4 307.2,468.8 308.3,469.2 309.3,469.6 310.3,469.9 311.3,470.2 312.3,470.5 313.3,470.9 314.3,471.2 315.3,471.5 316.3,471.9 317.3,472.3 318.3,472.7 319.3,473.1 320.3,473.5 321.3,474.0 322.4,474.4 323.4,474.9 324.4,475.3 325.4,475.8 326.4,476.2 327.4,476.6 328.4,477.0 329.4,477.3 330.4,477.7 331.4,478.0 332.4,478.3 333.4,478.7 334.4,479.0 335.4,479.3 336.4,479.6 337.5,479.8 338.5,480.0" class="rl"/>
<path d="M233.6,93.0V107.5M233.6,123.8V139.8M233.6,156.1V172.2M233.6,188.5V204.6M233.6,220.8V236.9M233.6,253.2V269.2M233.6,285.5V301.6M233.6,317.9V334.0M233.6,350.2V366.3M233.6,382.6V398.7M233.6,414.9V431.0M233.6,447.2V463.4M233.6,479.6V495.7" stroke="#ff0000" stroke-width="4.1" fill="none"/>
<path d="M600.8,93.0V107.5M600.8,123.8V139.8M600.8,156.1V172.2M600.8,188.5V204.6M600.8,220.8V236.9M600.8,253.2V269.2M600.8,285.5V301.6M600.8,317.9V334.0M600.8,350.2V366.3M600.8,382.6V398.7M600.8,414.9V431.0M600.8,447.2V463.4M600.8,479.6V495.7" stroke="#0000f0" stroke-width="4.1" fill="none"/>
<text transform="translate(80.0,74.8) scale(0.947,1)" font-size="31.5" class="b">2019</text>
<text transform="translate(66.2,156.6) scale(0.98,1)" font-size="21.7" text-anchor="end" class="b">J</text>
<text transform="translate(66.2,186.0) scale(0.98,1)" font-size="21.7" text-anchor="end" class="b">F</text>
<text transform="translate(66.2,215.5) scale(0.98,1)" font-size="21.7" text-anchor="end" class="b">M</text>
<text transform="translate(66.2,244.9) scale(0.98,1)" font-size="21.7" text-anchor="end" class="b">A</text>
<text transform="translate(66.2,274.4) scale(0.98,1)" font-size="21.7" text-anchor="end" class="b">M</text>
<text transform="translate(66.2,303.8) scale(0.98,1)" font-size="21.7" text-anchor="end" class="b">J</text>
<text transform="translate(66.2,333.3) scale(0.98,1)" font-size="21.7" text-anchor="end" class="b">J</text>
<text transform="translate(66.2,362.8) scale(0.98,1)" font-size="21.7" text-anchor="end" class="b">A</text>
<text transform="translate(66.2,392.2) scale(0.98,1)" font-size="21.7" text-anchor="end" class="b">S</text>
<text transform="translate(66.2,421.6) scale(0.98,1)" font-size="21.7" text-anchor="end" class="b">O</text>
<text transform="translate(66.2,451.1) scale(0.98,1)" font-size="21.7" text-anchor="end" class="b">N</text>
<text transform="translate(66.2,480.5) scale(0.98,1)" font-size="21.7" text-anchor="end" class="b">D</text></g>
<g id="L2"><line x1="111.2" y1="578.5" x2="111.2" y2="991.3" class="vg"/>
<line x1="233.6" y1="578.5" x2="233.6" y2="991.3" class="vg"/>
<line x1="356.0" y1="578.5" x2="356.0" y2="991.3" class="vg"/>
<line x1="478.4" y1="578.5" x2="478.4" y2="991.3" class="vg"/>
<line x1="600.8" y1="578.5" x2="600.8" y2="991.3" class="vg"/>
<line x1="723.2" y1="578.5" x2="723.2" y2="991.3" class="vg"/>
<line x1="71.5" y1="627.8" x2="754.5" y2="627.8" class="hg"/>
<line x1="71.5" y1="658.4" x2="754.5" y2="658.4" class="hg"/>
<line x1="71.5" y1="689.1" x2="754.5" y2="689.1" class="hg"/>
<line x1="71.5" y1="719.7" x2="754.5" y2="719.7" class="hg"/>
<line x1="71.5" y1="750.3" x2="754.5" y2="750.3" class="hg"/>
<line x1="71.5" y1="780.9" x2="754.5" y2="780.9" class="hg"/>
<line x1="71.5" y1="811.6" x2="754.5" y2="811.6" class="hg"/>
<line x1="71.5" y1="842.2" x2="754.5" y2="842.2" class="hg"/>
<line x1="71.5" y1="872.8" x2="754.5" y2="872.8" class="hg"/>
<line x1="71.5" y1="903.5" x2="754.5" y2="903.5" class="hg"/>
<line x1="71.5" y1="934.1" x2="754.5" y2="934.1" class="hg"/>
<line x1="71.5" y1="964.7" x2="754.5" y2="964.7" class="hg"/>
<path d="M145.7,627.8 L145.7,627.6 146.7,627.3 147.7,626.8 148.7,626.4 149.7,625.9 150.7,625.5 151.7,625.1 152.7,624.7 153.7,624.3 154.7,624.0 155.7,623.7 156.7,623.5 157.7,623.3 158.7,623.2 159.8,623.0 160.8,622.9 161.8,622.9 162.8,622.8 163.8,622.7 164.8,622.7 165.8,622.6 166.8,622.5 167.8,622.5 168.8,622.4 169.8,622.3 170.8,622.3 171.8,622.2 172.9,622.1 173.9,621.9 174.9,621.8 175.9,621.6 176.9,621.4 177.9,621.1 178.9,620.8 179.9,620.5 180.9,620.2 181.9,619.9 182.9,619.6 183.9,619.3 184.9,618.9 185.9,618.6 187.0,618.3 188.0,618.0 189.0,617.7 190.0,617.3 191.0,617.0 192.0,616.7 193.0,616.5 194.0,616.4 195.0,616.3 196.0,616.3 197.0,616.2 198.0,616.2 199.0,616.2 200.0,616.2 201.1,616.2 202.1,616.1 203.1,616.1 204.1,616.1 205.1,616.0 206.1,615.8 207.1,615.6 208.1,615.3 209.1,614.9 210.1,614.4 211.1,613.9 212.1,613.3 213.1,612.6 214.2,612.0 215.2,611.3 216.2,610.6 217.2,609.9 218.2,609.1 219.2,608.2 220.2,607.3 221.2,606.3 222.2,605.2 223.2,604.1 224.2,603.0 225.2,601.8 226.2,600.7 227.2,599.5 228.3,598.2 229.3,596.9 230.3,595.5 231.3,594.1 232.3,592.7 233.3,591.3 234.3,589.9 235.3,588.6 236.3,587.4 237.3,586.3 238.3,585.1 239.3,584.0 240.3,583.0 241.4,582.0 242.4,581.2 243.4,580.6 244.4,580.1 245.4,579.7 246.4,579.4 247.4,579.2 248.4,579.0 249.4,578.9 250.4,578.8 251.4,578.9 252.4,579.1 253.4,579.4 254.4,579.9 255.5,580.3 256.5,580.9 257.5,581.4 258.5,582.0 259.5,582.6 260.5,583.3 261.5,584.0 262.5,584.8 263.5,585.6 264.5,586.5 265.5,587.4 266.5,588.3 267.5,589.2 268.5,590.2 269.6,591.1 270.6,592.2 271.6,593.2 272.6,594.3 273.6,595.4 274.6,596.5 275.6,597.6 276.6,598.8 277.6,600.0 278.6,601.2 279.6,602.5 280.6,603.8 281.6,605.2 282.7,606.6 283.7,608.0 284.7,609.4 285.7,610.7 286.7,612.0 287.7,613.3 288.7,614.5 289.7,615.7 290.7,616.8 291.7,617.9 292.7,619.0 293.7,620.0 294.7,621.0 295.7,621.9 296.8,622.7 297.8,623.3 298.8,624.0 299.8,624.6 300.8,625.1 301.8,625.7 302.8,626.1 303.8,626.6 304.8,627.0 305.8,627.3 306.8,627.5 307.8,627.7 L307.8,627.8 Z" fill="url(#gL2)"/>
<polyline points="145.7,627.6 146.7,627.3 147.7,626.8 148.7,626.4 149.7,625.9 150.7,625.5 151.7,625.1 152.7,624.7 153.7,624.3 154.7,624.0 155.7,623.7 156.7,623.5 157.7,623.3 158.7,623.2 159.8,623.0 160.8,622.9 161.8,622.9 162.8,622.8 163.8,622.7 164.8,622.7 165.8,622.6 166.8,622.5 167.8,622.5 168.8,622.4 169.8,622.3 170.8,622.3 171.8,622.2 172.9,622.1 173.9,621.9 174.9,621.8 175.9,621.6 176.9,621.4 177.9,621.1 178.9,620.8 179.9,620.5 180.9,620.2 181.9,619.9 182.9,619.6 183.9,619.3 184.9,618.9 185.9,618.6 187.0,618.3 188.0,618.0 189.0,617.7 190.0,617.3 191.0,617.0 192.0,616.7 193.0,616.5 194.0,616.4 195.0,616.3 196.0,616.3 197.0,616.2 198.0,616.2 199.0,616.2 200.0,616.2 201.1,616.2 202.1,616.1 203.1,616.1 204.1,616.1 205.1,616.0 206.1,615.8 207.1,615.6 208.1,615.3 209.1,614.9 210.1,614.4 211.1,613.9 212.1,613.3 213.1,612.6 214.2,612.0 215.2,611.3 216.2,610.6 217.2,609.9 218.2,609.1 219.2,608.2 220.2,607.3 221.2,606.3 222.2,605.2 223.2,604.1 224.2,603.0 225.2,601.8 226.2,600.7 227.2,599.5 228.3,598.2 229.3,596.9 230.3,595.5 231.3,594.1 232.3,592.7 233.3,591.3 234.3,589.9 235.3,588.6 236.3,587.4 237.3,586.3 238.3,585.1 239.3,584.0 240.3,583.0 241.4,582.0 242.4,581.2 243.4,580.6 244.4,580.1 245.4,579.7 246.4,579.4 247.4,579.2 248.4,579.0 249.4,578.9 250.4,578.8 251.4,578.9 252.4,579.1 253.4,579.4 254.4,579.9 255.5,580.3 256.5,580.9 257.5,581.4 258.5,582.0 259.5,582.6 260.5,583.3 261.5,584.0 262.5,584.8 263.5,585.6 264.5,586.5 265.5,587.4 266.5,588.3 267.5,589.2 268.5,590.2 269.6,591.1 270.6,592.2 271.6,593.2 272.6,594.3 273.6,595.4 274.6,596.5 275.6,597.6 276.6,598.8 277.6,600.0 278.6,601.2 279.6,602.5 280.6,603.8 281.6,605.2 282.7,606.6 283.7,608.0 284.7,609.4 285.7,610.7 286.7,612.0 287.7,613.3 288.7,614.5 289.7,615.7 290.7,616.8 291.7,617.9 292.7,619.0 293.7,620.0 294.7,621.0 295.7,621.9 296.8,622.7 297.8,623.3 298.8,624.0 299.8,624.6 300.8,625.1 301.8,625.7 302.8,626.1 303.8,626.6 304.8,627.0 305.8,627.3 306.8,627.5 307.8,627.7" class="rl"/>
<path d="M246.5,658.4 L246.5,658.3 247.5,658.1 248.5,657.7 249.5,657.3 250.5,656.8 251.5,656.3 252.5,655.7 253.5,655.0 254.5,654.4 255.5,653.6 256.5,652.7 257.5,651.7 258.5,650.5 259.6,649.3 260.6,648.0 261.6,646.8 262.6,645.7 263.6,644.6 264.6,643.7 265.6,642.8 266.6,642.0 267.6,641.2 268.6,640.4 269.6,639.7 270.6,639.1 271.6,638.7 272.6,638.5 273.6,638.4 274.7,638.6 275.7,639.0 276.7,639.6 277.7,640.3 278.7,641.1 279.7,641.9 280.7,642.7 281.7,643.5 282.7,644.2 283.7,644.9 284.7,645.7 285.7,646.5 286.7,647.3 287.7,648.0 288.7,648.7 289.8,649.4 290.8,649.9 291.8,650.4 292.8,650.7 293.8,651.0 294.8,651.2 295.8,651.4 296.8,651.6 297.8,651.8 298.8,651.9 299.8,652.1 300.8,652.2 301.8,652.3 302.8,652.3 303.8,652.3 304.9,652.3 305.9,652.2 306.9,652.1 307.9,652.0 308.9,651.9 309.9,651.7 310.9,651.5 311.9,651.2 312.9,650.8 313.9,650.2 314.9,649.4 315.9,648.6 316.9,647.6 317.9,646.6 318.9,645.6 320.0,644.6 321.0,643.6 322.0,642.7 323.0,641.7 324.0,640.7 325.0,639.7 326.0,638.7 327.0,637.8 328.0,636.9 329.0,636.1 330.0,635.4 331.0,634.8 332.0,634.2 333.0,633.7 334.0,633.2 335.1,632.8 336.1,632.4 337.1,632.2 338.1,632.1 339.1,632.1 340.1,632.3 341.1,632.5 342.1,632.8 343.1,633.0 344.1,633.3 345.1,633.4 346.1,633.5 347.1,633.4 348.1,633.2 349.1,633.0 350.1,632.7 351.2,632.3 352.2,631.8 353.2,631.3 354.2,630.7 355.2,629.9 356.2,628.9 357.2,627.8 358.2,626.4 359.2,625.1 360.2,623.7 361.2,622.4 362.2,621.2 363.2,620.2 364.2,619.2 365.2,618.3 366.3,617.4 367.3,616.6 368.3,615.8 369.3,615.1 370.3,614.6 371.3,614.2 372.3,614.0 373.3,613.9 374.3,614.0 375.3,614.1 376.3,614.2 377.3,614.4 378.3,614.7 379.3,615.1 380.3,615.7 381.4,616.5 382.4,617.6 383.4,618.8 384.4,620.1 385.4,621.4 386.4,622.8 387.4,624.1 388.4,625.5 389.4,627.0 390.4,628.5 391.4,630.0 392.4,631.6 393.4,633.2 394.4,634.8 395.4,636.3 396.5,637.8 397.5,639.3 398.5,640.8 399.5,642.3 400.5,643.8 401.5,645.2 402.5,646.5 403.5,647.7 404.5,648.8 405.5,649.9 406.5,650.9 407.5,651.9 408.5,652.8 409.5,653.6 410.5,654.3 411.6,655.0 412.6,655.6 413.6,656.1 414.6,656.6 415.6,657.1 416.6,657.5 417.6,657.9 418.6,658.1 419.6,658.3 L419.6,658.4 Z" fill="url(#gL2)"/>
<polyline points="246.5,658.3 247.5,658.1 248.5,657.7 249.5,657.3 250.5,656.8 251.5,656.3 252.5,655.7 253.5,655.0 254.5,654.4 255.5,653.6 256.5,652.7 257.5,651.7 258.5,650.5 259.6,649.3 260.6,648.0 261.6,646.8 262.6,645.7 263.6,644.6 264.6,643.7 265.6,642.8 266.6,642.0 267.6,641.2 268.6,640.4 269.6,639.7 270.6,639.1 271.6,638.7 272.6,638.5 273.6,638.4 274.7,638.6 275.7,639.0 276.7,639.6 277.7,640.3 278.7,641.1 279.7,641.9 280.7,642.7 281.7,643.5 282.7,644.2 283.7,644.9 284.7,645.7 285.7,646.5 286.7,647.3 287.7,648.0 288.7,648.7 289.8,649.4 290.8,649.9 291.8,650.4 292.8,650.7 293.8,651.0 294.8,651.2 295.8,651.4 296.8,651.6 297.8,651.8 298.8,651.9 299.8,652.1 300.8,652.2 301.8,652.3 302.8,652.3 303.8,652.3 304.9,652.3 305.9,652.2 306.9,652.1 307.9,652.0 308.9,651.9 309.9,651.7 310.9,651.5 311.9,651.2 312.9,650.8 313.9,650.2 314.9,649.4 315.9,648.6 316.9,647.6 317.9,646.6 318.9,645.6 320.0,644.6 321.0,643.6 322.0,642.7 323.0,641.7 324.0,640.7 325.0,639.7 326.0,638.7 327.0,637.8 328.0,636.9 329.0,636.1 330.0,635.4 331.0,634.8 332.0,634.2 333.0,633.7 334.0,633.2 335.1,632.8 336.1,632.4 337.1,632.2 338.1,632.1 339.1,632.1 340.1,632.3 341.1,632.5 342.1,632.8 343.1,633.0 344.1,633.3 345.1,633.4 346.1,633.5 347.1,633.4 348.1,633.2 349.1,633.0 350.1,632.7 351.2,632.3 352.2,631.8 353.2,631.3 354.2,630.7 355.2,629.9 356.2,628.9 357.2,627.8 358.2,626.4 359.2,625.1 360.2,623.7 361.2,622.4 362.2,621.2 363.2,620.2 364.2,619.2 365.2,618.3 366.3,617.4 367.3,616.6 368.3,615.8 369.3,615.1 370.3,614.6 371.3,614.2 372.3,614.0 373.3,613.9 374.3,614.0 375.3,614.1 376.3,614.2 377.3,614.4 378.3,614.7 379.3,615.1 380.3,615.7 381.4,616.5 382.4,617.6 383.4,618.8 384.4,620.1 385.4,621.4 386.4,622.8 387.4,624.1 388.4,625.5 389.4,627.0 390.4,628.5 391.4,630.0 392.4,631.6 393.4,633.2 394.4,634.8 395.4,636.3 396.5,637.8 397.5,639.3 398.5,640.8 399.5,642.3 400.5,643.8 401.5,645.2 402.5,646.5 403.5,647.7 404.5,648.8 405.5,649.9 406.5,650.9 407.5,651.9 408.5,652.8 409.5,653.6 410.5,654.3 411.6,655.0 412.6,655.6 413.6,656.1 414.6,656.6 415.6,657.1 416.6,657.5 417.6,657.9 418.6,658.1 419.6,658.3" class="rl"/>
<path d="M357.6,689.1 L357.6,689.0 358.6,688.8 359.6,688.6 360.7,688.3 361.7,688.0 362.7,687.6 363.7,687.2 364.7,686.8 365.7,686.3 366.7,685.8 367.7,685.3 368.8,684.7 369.8,684.1 370.8,683.5 371.8,682.7 372.8,681.9 373.8,681.1 374.8,680.2 375.8,679.3 376.9,678.4 377.9,677.4 378.9,676.4 379.9,675.4 380.9,674.4 381.9,673.3 382.9,672.1 383.9,670.8 385.0,669.5 386.0,668.2 387.0,666.8 388.0,665.4 389.0,664.1 390.0,662.8 391.0,661.5 392.0,660.3 393.1,659.2 394.1,658.1 395.1,657.0 396.1,655.9 397.1,654.9 398.1,653.9 399.1,653.0 400.1,652.2 401.2,651.5 402.2,650.9 403.2,650.5 404.2,650.1 405.2,649.8 406.2,649.5 407.2,649.3 408.2,649.1 409.3,649.0 410.3,649.0 411.3,649.0 412.3,649.2 413.3,649.4 414.3,649.7 415.3,650.1 416.3,650.5 417.4,650.8 418.4,651.2 419.4,651.5 420.4,651.8 421.4,652.0 422.4,652.2 423.4,652.4 424.4,652.5 425.5,652.6 426.5,652.8 427.5,652.9 428.5,653.0 429.5,653.2 430.5,653.3 431.5,653.5 432.5,653.7 433.6,654.0 434.6,654.3 435.6,654.6 436.6,655.0 437.6,655.4 438.6,655.8 439.6,656.2 440.6,656.6 441.7,657.1 442.7,657.5 443.7,657.9 444.7,658.3 445.7,658.7 446.7,659.2 447.7,659.6 448.7,660.1 449.8,660.5 450.8,660.9 451.8,661.4 452.8,661.8 453.8,662.2 454.8,662.7 455.8,663.1 456.8,663.4 457.9,663.8 458.9,664.2 459.9,664.5 460.9,664.8 461.9,665.2 462.9,665.5 463.9,665.9 464.9,666.3 466.0,666.7 467.0,667.1 468.0,667.7 469.0,668.2 470.0,668.9 471.0,669.6 472.0,670.3 473.0,671.1 474.1,672.0 475.1,672.8 476.1,673.7 477.1,674.5 478.1,675.4 479.1,676.2 480.1,677.1 481.1,678.0 482.2,678.9 483.2,679.7 484.2,680.6 485.2,681.4 486.2,682.2 487.2,682.9 488.2,683.6 489.2,684.3 490.3,685.0 491.3,685.6 492.3,686.2 493.3,686.7 494.3,687.2 495.3,687.6 496.3,688.0 497.3,688.3 498.4,688.6 499.4,688.8 500.4,689.0 L500.4,689.1 Z" fill="url(#gL2)"/>
<polyline points="357.6,689.0 358.6,688.8 359.6,688.6 360.7,688.3 361.7,688.0 362.7,687.6 363.7,687.2 364.7,686.8 365.7,686.3 366.7,685.8 367.7,685.3 368.8,684.7 369.8,684.1 370.8,683.5 371.8,682.7 372.8,681.9 373.8,681.1 374.8,680.2 375.8,679.3 376.9,678.4 377.9,677.4 378.9,676.4 379.9,675.4 380.9,674.4 381.9,673.3 382.9,672.1 383.9,670.8 385.0,669.5 386.0,668.2 387.0,666.8 388.0,665.4 389.0,664.1 390.0,662.8 391.0,661.5 392.0,660.3 393.1,659.2 394.1,658.1 395.1,657.0 396.1,655.9 397.1,654.9 398.1,653.9 399.1,653.0 400.1,652.2 401.2,651.5 402.2,650.9 403.2,650.5 404.2,650.1 405.2,649.8 406.2,649.5 407.2,649.3 408.2,649.1 409.3,649.0 410.3,649.0 411.3,649.0 412.3,649.2 413.3,649.4 414.3,649.7 415.3,650.1 416.3,650.5 417.4,650.8 418.4,651.2 419.4,651.5 420.4,651.8 421.4,652.0 422.4,652.2 423.4,652.4 424.4,652.5 425.5,652.6 426.5,652.8 427.5,652.9 428.5,653.0 429.5,653.2 430.5,653.3 431.5,653.5 432.5,653.7 433.6,654.0 434.6,654.3 435.6,654.6 436.6,655.0 437.6,655.4 438.6,655.8 439.6,656.2 440.6,656.6 441.7,657.1 442.7,657.5 443.7,657.9 444.7,658.3 445.7,658.7 446.7,659.2 447.7,659.6 448.7,660.1 449.8,660.5 450.8,660.9 451.8,661.4 452.8,661.8 453.8,662.2 454.8,662.7 455.8,663.1 456.8,663.4 457.9,663.8 458.9,664.2 459.9,664.5 460.9,664.8 461.9,665.2 462.9,665.5 463.9,665.9 464.9,666.3 466.0,666.7 467.0,667.1 468.0,667.7 469.0,668.2 470.0,668.9 471.0,669.6 472.0,670.3 473.0,671.1 474.1,672.0 475.1,672.8 476.1,673.7 477.1,674.5 478.1,675.4 479.1,676.2 480.1,677.1 481.1,678.0 482.2,678.9 483.2,679.7 484.2,680.6 485.2,681.4 486.2,682.2 487.2,682.9 488.2,683.6 489.2,684.3 490.3,685.0 491.3,685.6 492.3,686.2 493.3,686.7 494.3,687.2 495.3,687.6 496.3,688.0 497.3,688.3 498.4,688.6 499.4,688.8 500.4,689.0" class="rl"/>
<path d="M417.4,719.7 L417.4,719.4 418.4,719.1 419.4,718.5 420.4,718.0 421.4,717.4 422.5,716.8 423.5,716.3 424.5,715.7 425.5,715.1 426.5,714.6 427.5,714.0 428.5,713.4 429.5,712.8 430.5,712.3 431.5,711.7 432.5,711.1 433.5,710.5 434.5,709.9 435.5,709.3 436.6,708.7 437.6,708.2 438.6,707.6 439.6,707.1 440.6,706.5 441.6,706.0 442.6,705.5 443.6,705.0 444.6,704.5 445.6,704.0 446.6,703.6 447.6,703.1 448.6,702.6 449.6,702.2 450.7,701.8 451.7,701.4 452.7,701.0 453.7,700.6 454.7,700.2 455.7,699.9 456.7,699.6 457.7,699.2 458.7,698.9 459.7,698.6 460.7,698.3 461.7,698.1 462.7,697.9 463.7,697.8 464.8,697.9 465.8,698.1 466.8,698.5 467.8,699.0 468.8,699.6 469.8,700.3 470.8,700.9 471.8,701.5 472.8,702.1 473.8,702.6 474.8,703.1 475.8,703.6 476.8,704.2 477.8,704.7 478.9,705.2 479.9,705.6 480.9,705.9 481.9,706.2 482.9,706.4 483.9,706.4 484.9,706.4 485.9,706.3 486.9,706.1 487.9,705.9 488.9,705.6 489.9,705.3 490.9,704.9 491.9,704.5 493.0,704.0 494.0,703.4 495.0,702.7 496.0,701.8 497.0,700.7 498.0,699.4 499.0,698.1 500.0,696.7 501.0,695.2 502.0,693.7 503.0,692.2 504.0,690.7 505.0,689.1 506.1,687.4 507.1,685.7 508.1,683.8 509.1,682.0 510.1,680.2 511.1,678.5 512.1,676.9 513.1,675.5 514.1,674.2 515.1,672.9 516.1,671.7 517.1,670.6 518.1,669.6 519.1,668.7 520.2,668.2 521.2,667.9 522.2,668.0 523.2,668.3 524.2,668.8 525.2,669.5 526.2,670.4 527.2,671.3 528.2,672.4 529.2,673.5 530.2,674.8 531.2,676.3 532.2,678.1 533.2,680.0 534.3,682.0 535.3,684.1 536.3,686.2 537.3,688.1 538.3,689.9 539.3,691.6 540.3,693.3 541.3,694.9 542.3,696.4 543.3,698.0 544.3,699.5 545.3,700.9 546.3,702.3 547.3,703.6 548.4,704.8 549.4,706.0 550.4,707.0 551.4,708.1 552.4,709.1 553.4,710.1 554.4,711.0 555.4,711.9 556.4,712.7 557.4,713.5 558.4,714.3 559.4,714.9 560.4,715.5 561.4,716.1 562.5,716.6 563.5,717.1 564.5,717.6 565.5,718.0 566.5,718.5 567.5,718.8 568.5,719.1 569.5,719.4 570.5,719.6 L570.5,719.7 Z" fill="url(#gL2)"/>
<polyline points="417.4,719.4 418.4,719.1 419.4,718.5 420.4,718.0 421.4,717.4 422.5,716.8 423.5,716.3 424.5,715.7 425.5,715.1 426.5,714.6 427.5,714.0 428.5,713.4 429.5,712.8 430.5,712.3 431.5,711.7 432.5,711.1 433.5,710.5 434.5,709.9 435.5,709.3 436.6,708.7 437.6,708.2 438.6,707.6 439.6,707.1 440.6,706.5 441.6,706.0 442.6,705.5 443.6,705.0 444.6,704.5 445.6,704.0 446.6,703.6 447.6,703.1 448.6,702.6 449.6,702.2 450.7,701.8 451.7,701.4 452.7,701.0 453.7,700.6 454.7,700.2 455.7,699.9 456.7,699.6 457.7,699.2 458.7,698.9 459.7,698.6 460.7,698.3 461.7,698.1 462.7,697.9 463.7,697.8 464.8,697.9 465.8,698.1 466.8,698.5 467.8,699.0 468.8,699.6 469.8,700.3 470.8,700.9 471.8,701.5 472.8,702.1 473.8,702.6 474.8,703.1 475.8,703.6 476.8,704.2 477.8,704.7 478.9,705.2 479.9,705.6 480.9,705.9 481.9,706.2 482.9,706.4 483.9,706.4 484.9,706.4 485.9,706.3 486.9,706.1 487.9,705.9 488.9,705.6 489.9,705.3 490.9,704.9 491.9,704.5 493.0,704.0 494.0,703.4 495.0,702.7 496.0,701.8 497.0,700.7 498.0,699.4 499.0,698.1 500.0,696.7 501.0,695.2 502.0,693.7 503.0,692.2 504.0,690.7 505.0,689.1 506.1,687.4 507.1,685.7 508.1,683.8 509.1,682.0 510.1,680.2 511.1,678.5 512.1,676.9 513.1,675.5 514.1,674.2 515.1,672.9 516.1,671.7 517.1,670.6 518.1,669.6 519.1,668.7 520.2,668.2 521.2,667.9 522.2,668.0 523.2,668.3 524.2,668.8 525.2,669.5 526.2,670.4 527.2,671.3 528.2,672.4 529.2,673.5 530.2,674.8 531.2,676.3 532.2,678.1 533.2,680.0 534.3,682.0 535.3,684.1 536.3,686.2 537.3,688.1 538.3,689.9 539.3,691.6 540.3,693.3 541.3,694.9 542.3,696.4 543.3,698.0 544.3,699.5 545.3,700.9 546.3,702.3 547.3,703.6 548.4,704.8 549.4,706.0 550.4,707.0 551.4,708.1 552.4,709.1 553.4,710.1 554.4,711.0 555.4,711.9 556.4,712.7 557.4,713.5 558.4,714.3 559.4,714.9 560.4,715.5 561.4,716.1 562.5,716.6 563.5,717.1 564.5,717.6 565.5,718.0 566.5,718.5 567.5,718.8 568.5,719.1 569.5,719.4 570.5,719.6" class="rl"/>
<path d="M405.5,750.3 L405.5,750.2 406.5,750.1 407.5,750.0 408.5,749.8 409.6,749.6 410.6,749.5 411.6,749.3 412.6,749.1 413.6,749.0 414.6,748.8 415.6,748.7 416.6,748.6 417.6,748.5 418.6,748.3 419.7,748.2 420.7,748.1 421.7,748.0 422.7,748.0 423.7,747.9 424.7,747.8 425.7,747.8 426.7,747.7 427.7,747.7 428.7,747.6 429.8,747.6 430.8,747.6 431.8,747.5 432.8,747.5 433.8,747.5 434.8,747.4 435.8,747.4 436.8,747.3 437.8,747.2 438.8,747.1 439.9,746.8 440.9,746.5 441.9,746.1 442.9,745.5 443.9,744.9 444.9,744.2 445.9,743.4 446.9,742.6 447.9,741.8 448.9,740.9 449.9,740.0 451.0,738.9 452.0,737.6 453.0,736.2 454.0,734.8 455.0,733.3 456.0,731.8 457.0,730.4 458.0,729.0 459.0,727.8 460.0,726.6 461.1,725.3 462.1,724.1 463.1,723.0 464.1,721.9 465.1,720.9 466.1,720.0 467.1,719.3 468.1,718.8 469.1,718.4 470.1,718.0 471.2,717.7 472.2,717.5 473.2,717.3 474.2,717.3 475.2,717.5 476.2,717.9 477.2,718.5 478.2,719.3 479.2,720.1 480.2,721.1 481.3,722.0 482.3,722.8 483.3,723.6 484.3,724.5 485.3,725.3 486.3,726.2 487.3,727.0 488.3,727.8 489.3,728.5 490.3,729.0 491.4,729.5 492.4,729.9 493.4,730.2 494.4,730.5 495.4,730.7 496.4,730.9 497.4,731.1 498.4,731.1 499.4,731.2 500.4,731.0 501.5,730.8 502.5,730.4 503.5,729.9 504.5,729.4 505.5,728.8 506.5,728.1 507.5,727.4 508.5,726.7 509.5,726.0 510.5,725.2 511.5,724.3 512.6,723.3 513.6,722.3 514.6,721.3 515.6,720.3 516.6,719.4 517.6,718.6 518.6,717.9 519.6,717.3 520.6,716.8 521.6,716.4 522.7,716.0 523.7,715.6 524.7,715.2 525.7,714.9 526.7,714.6 527.7,714.4 528.7,714.2 529.7,714.1 530.7,714.1 531.7,714.2 532.8,714.4 533.8,714.6 534.8,715.0 535.8,715.5 536.8,716.0 537.8,716.5 538.8,717.1 539.8,717.6 540.8,718.2 541.8,718.8 542.9,719.5 543.9,720.2 544.9,721.0 545.9,721.8 546.9,722.7 547.9,723.6 548.9,724.5 549.9,725.5 550.9,726.4 551.9,727.4 553.0,728.5 554.0,729.6 555.0,730.8 556.0,732.0 557.0,733.3 558.0,734.5 559.0,735.7 560.0,736.9 561.0,738.0 562.0,739.0 563.1,740.0 564.1,741.0 565.1,741.9 566.1,742.9 567.1,743.7 568.1,744.6 569.1,745.3 570.1,746.0 571.1,746.7 572.1,747.2 573.2,747.7 574.2,748.2 575.2,748.7 576.2,749.1 577.2,749.5 578.2,749.8 579.2,750.0 580.2,750.2 L580.2,750.3 Z" fill="url(#gL2)"/>
<polyline points="405.5,750.2 406.5,750.1 407.5,750.0 408.5,749.8 409.6,749.6 410.6,749.5 411.6,749.3 412.6,749.1 413.6,749.0 414.6,748.8 415.6,748.7 416.6,748.6 417.6,748.5 418.6,748.3 419.7,748.2 420.7,748.1 421.7,748.0 422.7,748.0 423.7,747.9 424.7,747.8 425.7,747.8 426.7,747.7 427.7,747.7 428.7,747.6 429.8,747.6 430.8,747.6 431.8,747.5 432.8,747.5 433.8,747.5 434.8,747.4 435.8,747.4 436.8,747.3 437.8,747.2 438.8,747.1 439.9,746.8 440.9,746.5 441.9,746.1 442.9,745.5 443.9,744.9 444.9,744.2 445.9,743.4 446.9,742.6 447.9,741.8 448.9,740.9 449.9,740.0 451.0,738.9 452.0,737.6 453.0,736.2 454.0,734.8 455.0,733.3 456.0,731.8 457.0,730.4 458.0,729.0 459.0,727.8 460.0,726.6 461.1,725.3 462.1,724.1 463.1,723.0 464.1,721.9 465.1,720.9 466.1,720.0 467.1,719.3 468.1,718.8 469.1,718.4 470.1,718.0 471.2,717.7 472.2,717.5 473.2,717.3 474.2,717.3 475.2,717.5 476.2,717.9 477.2,718.5 478.2,719.3 479.2,720.1 480.2,721.1 481.3,722.0 482.3,722.8 483.3,723.6 484.3,724.5 485.3,725.3 486.3,726.2 487.3,727.0 488.3,727.8 489.3,728.5 490.3,729.0 491.4,729.5 492.4,729.9 493.4,730.2 494.4,730.5 495.4,730.7 496.4,730.9 497.4,731.1 498.4,731.1 499.4,731.2 500.4,731.0 501.5,730.8 502.5,730.4 503.5,729.9 504.5,729.4 505.5,728.8 506.5,728.1 507.5,727.4 508.5,726.7 509.5,726.0 510.5,725.2 511.5,724.3 512.6,723.3 513.6,722.3 514.6,721.3 515.6,720.3 516.6,719.4 517.6,718.6 518.6,717.9 519.6,717.3 520.6,716.8 521.6,716.4 522.7,716.0 523.7,715.6 524.7,715.2 525.7,714.9 526.7,714.6 527.7,714.4 528.7,714.2 529.7,714.1 530.7,714.1 531.7,714.2 532.8,714.4 533.8,714.6 534.8,715.0 535.8,715.5 536.8,716.0 537.8,716.5 538.8,717.1 539.8,717.6 540.8,718.2 541.8,718.8 542.9,719.5 543.9,720.2 544.9,721.0 545.9,721.8 546.9,722.7 547.9,723.6 548.9,724.5 549.9,725.5 550.9,726.4 551.9,727.4 553.0,728.5 554.0,729.6 555.0,730.8 556.0,732.0 557.0,733.3 558.0,734.5 559.0,735.7 560.0,736.9 561.0,738.0 562.0,739.0 563.1,740.0 564.1,741.0 565.1,741.9 566.1,742.9 567.1,743.7 568.1,744.6 569.1,745.3 570.1,746.0 571.1,746.7 572.1,747.2 573.2,747.7 574.2,748.2 575.2,748.7 576.2,749.1 577.2,749.5 578.2,749.8 579.2,750.0 580.2,750.2" class="rl"/>
<path d="M328.8,780.9 L328.8,780.8 329.8,780.6 330.8,780.3 331.8,780.0 332.8,779.7 333.9,779.4 334.9,779.1 335.9,778.8 336.9,778.5 337.9,778.2 338.9,777.9 339.9,777.6 340.9,777.3 341.9,777.0 342.9,776.7 343.9,776.4 344.9,776.2 346.0,775.9 347.0,775.7 348.0,775.4 349.0,775.2 350.0,775.0 351.0,774.8 352.0,774.5 353.0,774.3 354.0,774.1 355.0,773.8 356.0,773.5 357.0,773.2 358.1,772.9 359.1,772.6 360.1,772.2 361.1,771.8 362.1,771.3 363.1,770.7 364.1,770.0 365.1,769.2 366.1,768.0 367.1,766.7 368.1,765.2 369.2,763.5 370.2,761.7 371.2,759.8 372.2,757.8 373.2,755.7 374.2,753.6 375.2,751.4 376.2,749.3 377.2,747.1 378.2,744.9 379.2,742.4 380.2,739.8 381.3,737.1 382.3,734.3 383.3,731.6 384.3,729.0 385.3,726.6 386.3,724.5 387.3,722.5 388.3,720.8 389.3,719.1 390.3,717.5 391.3,716.1 392.3,714.8 393.4,713.7 394.4,712.8 395.4,712.0 396.4,711.4 397.4,710.8 398.4,710.4 399.4,710.2 400.4,710.2 401.4,710.5 402.4,711.0 403.4,711.6 404.5,712.3 405.5,713.3 406.5,714.5 407.5,716.0 408.5,717.8 409.5,719.8 410.5,722.0 411.5,724.2 412.5,726.4 413.5,728.5 414.5,730.6 415.5,732.6 416.6,734.7 417.6,736.7 418.6,738.8 419.6,740.8 420.6,742.8 421.6,744.8 422.6,746.7 423.6,748.5 424.6,750.3 425.6,752.1 426.6,753.9 427.6,755.6 428.7,757.2 429.7,758.9 430.7,760.4 431.7,761.9 432.7,763.4 433.7,764.9 434.7,766.3 435.7,767.7 436.7,769.1 437.7,770.4 438.7,771.6 439.8,772.7 440.8,773.8 441.8,774.7 442.8,775.5 443.8,776.3 444.8,777.1 445.8,777.8 446.8,778.5 447.8,779.1 448.8,779.7 449.8,780.1 450.8,780.5 451.9,780.8 L451.9,780.9 Z" fill="url(#gL2)"/>
<polyline points="328.8,780.8 329.8,780.6 330.8,780.3 331.8,780.0 332.8,779.7 333.9,779.4 334.9,779.1 335.9,778.8 336.9,778.5 337.9,778.2 338.9,777.9 339.9,777.6 340.9,777.3 341.9,777.0 342.9,776.7 343.9,776.4 344.9,776.2 346.0,775.9 347.0,775.7 348.0,775.4 349.0,775.2 350.0,775.0 351.0,774.8 352.0,774.5 353.0,774.3 354.0,774.1 355.0,773.8 356.0,773.5 357.0,773.2 358.1,772.9 359.1,772.6 360.1,772.2 361.1,771.8 362.1,771.3 363.1,770.7 364.1,770.0 365.1,769.2 366.1,768.0 367.1,766.7 368.1,765.2 369.2,763.5 370.2,761.7 371.2,759.8 372.2,757.8 373.2,755.7 374.2,753.6 375.2,751.4 376.2,749.3 377.2,747.1 378.2,744.9 379.2,742.4 380.2,739.8 381.3,737.1 382.3,734.3 383.3,731.6 384.3,729.0 385.3,726.6 386.3,724.5 387.3,722.5 388.3,720.8 389.3,719.1 390.3,717.5 391.3,716.1 392.3,714.8 393.4,713.7 394.4,712.8 395.4,712.0 396.4,711.4 397.4,710.8 398.4,710.4 399.4,710.2 400.4,710.2 401.4,710.5 402.4,711.0 403.4,711.6 404.5,712.3 405.5,713.3 406.5,714.5 407.5,716.0 408.5,717.8 409.5,719.8 410.5,722.0 411.5,724.2 412.5,726.4 413.5,728.5 414.5,730.6 415.5,732.6 416.6,734.7 417.6,736.7 418.6,738.8 419.6,740.8 420.6,742.8 421.6,744.8 422.6,746.7 423.6,748.5 424.6,750.3 425.6,752.1 426.6,753.9 427.6,755.6 428.7,757.2 429.7,758.9 430.7,760.4 431.7,761.9 432.7,763.4 433.7,764.9 434.7,766.3 435.7,767.7 436.7,769.1 437.7,770.4 438.7,771.6 439.8,772.7 440.8,773.8 441.8,774.7 442.8,775.5 443.8,776.3 444.8,777.1 445.8,777.8 446.8,778.5 447.8,779.1 448.8,779.7 449.8,780.1 450.8,780.5 451.9,780.8" class="rl"/>
<path d="M346.0,811.6 L346.0,811.5 347.1,811.4 348.1,811.2 349.1,810.9 350.1,810.4 351.1,809.8 352.2,809.2 353.2,808.4 354.2,807.5 355.2,806.3 356.2,804.7 357.3,802.3 358.3,799.3 359.3,795.7 360.3,791.6 361.4,787.2 362.4,782.2 363.4,776.8 364.4,771.3 365.4,766.0 366.5,760.9 367.5,756.1 368.5,751.4 369.5,746.8 370.5,742.3 371.6,737.8 372.6,733.8 373.6,730.3 374.6,727.6 375.7,725.3 376.7,723.4 377.7,721.9 378.7,720.7 379.7,720.0 380.8,719.8 381.8,720.2 382.8,721.0 383.8,722.2 384.9,723.6 385.9,725.3 386.9,727.3 387.9,729.6 388.9,732.5 390.0,735.9 391.0,739.5 392.0,743.3 393.0,747.2 394.0,751.1 395.1,755.2 396.1,759.5 397.1,763.6 398.1,767.7 399.2,771.5 400.2,775.1 401.2,778.4 402.2,781.7 403.2,784.7 404.3,787.5 405.3,790.1 406.3,792.5 407.3,794.8 408.4,796.9 409.4,798.9 410.4,800.7 411.4,802.3 412.4,803.7 413.5,804.9 414.5,806.0 415.5,806.9 416.5,807.8 417.5,808.7 418.6,809.5 419.6,810.1 420.6,810.7 421.6,811.1 422.7,811.4 423.7,811.5 L423.7,811.6 Z" fill="url(#gL2)"/>
<polyline points="346.0,811.5 347.1,811.4 348.1,811.2 349.1,810.9 350.1,810.4 351.1,809.8 352.2,809.2 353.2,808.4 354.2,807.5 355.2,806.3 356.2,804.7 357.3,802.3 358.3,799.3 359.3,795.7 360.3,791.6 361.4,787.2 362.4,782.2 363.4,776.8 364.4,771.3 365.4,766.0 366.5,760.9 367.5,756.1 368.5,751.4 369.5,746.8 370.5,742.3 371.6,737.8 372.6,733.8 373.6,730.3 374.6,727.6 375.7,725.3 376.7,723.4 377.7,721.9 378.7,720.7 379.7,720.0 380.8,719.8 381.8,720.2 382.8,721.0 383.8,722.2 384.9,723.6 385.9,725.3 386.9,727.3 387.9,729.6 388.9,732.5 390.0,735.9 391.0,739.5 392.0,743.3 393.0,747.2 394.0,751.1 395.1,755.2 396.1,759.5 397.1,763.6 398.1,767.7 399.2,771.5 400.2,775.1 401.2,778.4 402.2,781.7 403.2,784.7 404.3,787.5 405.3,790.1 406.3,792.5 407.3,794.8 408.4,796.9 409.4,798.9 410.4,800.7 411.4,802.3 412.4,803.7 413.5,804.9 414.5,806.0 415.5,806.9 416.5,807.8 417.5,808.7 418.6,809.5 419.6,810.1 420.6,810.7 421.6,811.1 422.7,811.4 423.7,811.5" class="rl"/>
<path d="M299.7,842.2 L299.7,842.1 300.7,841.9 301.7,841.5 302.7,841.0 303.7,840.3 304.8,839.6 305.8,838.7 306.8,837.8 307.8,836.8 308.8,835.7 309.8,834.5 310.8,833.0 311.8,831.3 312.8,829.5 313.9,827.6 314.9,825.5 315.9,823.3 316.9,821.1 317.9,818.7 318.9,816.3 319.9,813.7 320.9,810.9 322.0,808.1 323.0,805.1 324.0,802.1 325.0,799.1 326.0,796.0 327.0,792.9 328.0,789.7 329.0,786.5 330.1,783.3 331.1,780.3 332.1,777.4 333.1,774.7 334.1,772.3 335.1,770.0 336.1,767.9 337.1,765.9 338.1,764.2 339.2,762.9 340.2,761.8 341.2,760.9 342.2,760.2 343.2,759.9 344.2,759.9 345.2,760.4 346.2,761.3 347.3,762.5 348.3,764.0 349.3,765.8 350.3,768.1 351.3,770.7 352.3,773.6 353.3,776.7 354.3,779.9 355.4,783.3 356.4,786.8 357.4,790.5 358.4,794.1 359.4,797.7 360.4,801.1 361.4,804.4 362.4,807.7 363.4,810.9 364.5,813.8 365.5,816.6 366.5,819.0 367.5,821.3 368.5,823.4 369.5,825.3 370.5,827.0 371.5,828.5 372.6,829.7 373.6,830.7 374.6,831.7 375.6,832.5 376.6,833.3 377.6,834.0 378.6,834.6 379.6,835.2 380.7,835.8 381.7,836.3 382.7,836.7 383.7,837.1 384.7,837.5 385.7,837.9 386.7,838.2 387.7,838.5 388.7,838.8 389.8,839.0 390.8,839.3 391.8,839.6 392.8,839.9 393.8,840.2 394.8,840.5 395.8,840.9 396.8,841.2 397.9,841.5 398.9,841.8 399.9,842.1 L399.9,842.2 Z" fill="url(#gL2)"/>
<polyline points="299.7,842.1 300.7,841.9 301.7,841.5 302.7,841.0 303.7,840.3 304.8,839.6 305.8,838.7 306.8,837.8 307.8,836.8 308.8,835.7 309.8,834.5 310.8,833.0 311.8,831.3 312.8,829.5 313.9,827.6 314.9,825.5 315.9,823.3 316.9,821.1 317.9,818.7 318.9,816.3 319.9,813.7 320.9,810.9 322.0,808.1 323.0,805.1 324.0,802.1 325.0,799.1 326.0,796.0 327.0,792.9 328.0,789.7 329.0,786.5 330.1,783.3 331.1,780.3 332.1,777.4 333.1,774.7 334.1,772.3 335.1,770.0 336.1,767.9 337.1,765.9 338.1,764.2 339.2,762.9 340.2,761.8 341.2,760.9 342.2,760.2 343.2,759.9 344.2,759.9 345.2,760.4 346.2,761.3 347.3,762.5 348.3,764.0 349.3,765.8 350.3,768.1 351.3,770.7 352.3,773.6 353.3,776.7 354.3,779.9 355.4,783.3 356.4,786.8 357.4,790.5 358.4,794.1 359.4,797.7 360.4,801.1 361.4,804.4 362.4,807.7 363.4,810.9 364.5,813.8 365.5,816.6 366.5,819.0 367.5,821.3 368.5,823.4 369.5,825.3 370.5,827.0 371.5,828.5 372.6,829.7 373.6,830.7 374.6,831.7 375.6,832.5 376.6,833.3 377.6,834.0 378.6,834.6 379.6,835.2 380.7,835.8 381.7,836.3 382.7,836.7 383.7,837.1 384.7,837.5 385.7,837.9 386.7,838.2 387.7,838.5 388.7,838.8 389.8,839.0 390.8,839.3 391.8,839.6 392.8,839.9 393.8,840.2 394.8,840.5 395.8,840.9 396.8,841.2 397.9,841.5 398.9,841.8 399.9,842.1" class="rl"/>
<path d="M314.7,872.8 L314.7,872.8 315.7,872.6 316.8,872.4 317.8,872.0 318.8,871.5 319.8,870.9 320.8,870.2 321.9,869.4 322.9,868.5 323.9,867.6 324.9,866.5 326.0,865.2 327.0,863.6 328.0,861.9 329.0,859.9 330.0,857.7 331.1,855.4 332.1,852.8 333.1,849.9 334.1,846.6 335.1,843.0 336.2,839.2 337.2,835.3 338.2,831.4 339.2,827.4 340.2,823.3 341.3,819.1 342.3,815.2 343.3,811.7 344.3,808.7 345.3,806.1 346.4,803.9 347.4,801.9 348.4,800.2 349.4,799.1 350.5,798.5 351.5,798.7 352.5,799.4 353.5,800.6 354.5,802.2 355.6,803.9 356.6,805.8 357.6,807.8 358.6,810.0 359.6,812.3 360.7,814.8 361.7,817.1 362.7,819.3 363.7,821.2 364.7,822.9 365.8,824.5 366.8,826.0 367.8,827.4 368.8,828.7 369.9,830.0 370.9,831.2 371.9,832.4 372.9,833.4 373.9,834.5 375.0,835.5 376.0,836.4 377.0,837.4 378.0,838.4 379.0,839.4 380.1,840.3 381.1,841.3 382.1,842.4 383.1,843.6 384.1,844.9 385.2,846.5 386.2,848.3 387.2,850.2 388.2,852.2 389.2,854.1 390.3,856.0 391.3,857.8 392.3,859.5 393.3,861.2 394.4,862.9 395.4,864.5 396.4,865.9 397.4,867.2 398.4,868.3 399.5,869.1 400.5,869.8 401.5,870.4 402.5,871.0 403.5,871.5 404.6,871.9 405.6,872.3 406.6,872.5 407.6,872.7 408.6,872.8 L408.6,872.8 Z" fill="url(#gL2)"/>
<polyline points="314.7,872.8 315.7,872.6 316.8,872.4 317.8,872.0 318.8,871.5 319.8,870.9 320.8,870.2 321.9,869.4 322.9,868.5 323.9,867.6 324.9,866.5 326.0,865.2 327.0,863.6 328.0,861.9 329.0,859.9 330.0,857.7 331.1,855.4 332.1,852.8 333.1,849.9 334.1,846.6 335.1,843.0 336.2,839.2 337.2,835.3 338.2,831.4 339.2,827.4 340.2,823.3 341.3,819.1 342.3,815.2 343.3,811.7 344.3,808.7 345.3,806.1 346.4,803.9 347.4,801.9 348.4,800.2 349.4,799.1 350.5,798.5 351.5,798.7 352.5,799.4 353.5,800.6 354.5,802.2 355.6,803.9 356.6,805.8 357.6,807.8 358.6,810.0 359.6,812.3 360.7,814.8 361.7,817.1 362.7,819.3 363.7,821.2 364.7,822.9 365.8,824.5 366.8,826.0 367.8,827.4 368.8,828.7 369.9,830.0 370.9,831.2 371.9,832.4 372.9,833.4 373.9,834.5 375.0,835.5 376.0,836.4 377.0,837.4 378.0,838.4 379.0,839.4 380.1,840.3 381.1,841.3 382.1,842.4 383.1,843.6 384.1,844.9 385.2,846.5 386.2,848.3 387.2,850.2 388.2,852.2 389.2,854.1 390.3,856.0 391.3,857.8 392.3,859.5 393.3,861.2 394.4,862.9 395.4,864.5 396.4,865.9 397.4,867.2 398.4,868.3 399.5,869.1 400.5,869.8 401.5,870.4 402.5,871.0 403.5,871.5 404.6,871.9 405.6,872.3 406.6,872.5 407.6,872.7 408.6,872.8" class="rl"/>
<path d="M267.8,903.5 L267.8,903.3 268.8,903.0 269.8,902.6 270.8,902.1 271.8,901.6 272.8,901.1 273.8,900.5 274.8,900.0 275.8,899.4 276.8,898.8 277.9,898.2 278.9,897.6 279.9,896.9 280.9,896.3 281.9,895.5 282.9,894.7 283.9,893.9 284.9,893.1 285.9,892.3 286.9,891.4 288.0,890.7 289.0,890.0 290.0,889.4 291.0,888.8 292.0,888.2 293.0,887.6 294.0,887.0 295.0,886.5 296.0,886.0 297.0,885.6 298.0,885.2 299.1,884.9 300.1,884.7 301.1,884.5 302.1,884.3 303.1,884.2 304.1,884.1 305.1,884.1 306.1,884.0 307.1,883.9 308.1,883.8 309.2,883.6 310.2,883.4 311.2,883.0 312.2,882.4 313.2,881.6 314.2,880.6 315.2,879.5 316.2,878.3 317.2,877.1 318.2,875.7 319.3,874.2 320.3,872.4 321.3,870.5 322.3,868.4 323.3,866.2 324.3,864.0 325.3,861.8 326.3,859.5 327.3,857.4 328.3,855.1 329.4,852.8 330.4,850.5 331.4,848.2 332.4,846.0 333.4,844.0 334.4,842.4 335.4,841.0 336.4,839.8 337.4,838.7 338.4,837.8 339.4,837.0 340.5,836.3 341.5,836.0 342.5,835.9 343.5,836.1 344.5,836.6 345.5,837.4 346.5,838.3 347.5,839.4 348.5,840.6 349.5,842.1 350.6,843.9 351.6,846.1 352.6,848.6 353.6,851.3 354.6,854.1 355.6,856.9 356.6,859.7 357.6,862.3 358.6,864.8 359.6,867.4 360.7,869.9 361.7,872.4 362.7,874.7 363.7,877.0 364.7,879.2 365.7,881.2 366.7,883.2 367.7,885.1 368.7,886.9 369.7,888.7 370.7,890.4 371.8,891.9 372.8,893.3 373.8,894.6 374.8,895.7 375.8,896.7 376.8,897.7 377.8,898.6 378.8,899.4 379.8,900.1 380.8,900.7 381.9,901.3 382.9,901.7 383.9,902.1 384.9,902.5 385.9,902.8 386.9,903.1 387.9,903.3 388.9,903.4 L388.9,903.5 Z" fill="url(#gL2)"/>
<polyline points="267.8,903.3 268.8,903.0 269.8,902.6 270.8,902.1 271.8,901.6 272.8,901.1 273.8,900.5 274.8,900.0 275.8,899.4 276.8,898.8 277.9,898.2 278.9,897.6 279.9,896.9 280.9,896.3 281.9,895.5 282.9,894.7 283.9,893.9 284.9,893.1 285.9,892.3 286.9,891.4 288.0,890.7 289.0,890.0 290.0,889.4 291.0,888.8 292.0,888.2 293.0,887.6 294.0,887.0 295.0,886.5 296.0,886.0 297.0,885.6 298.0,885.2 299.1,884.9 300.1,884.7 301.1,884.5 302.1,884.3 303.1,884.2 304.1,884.1 305.1,884.1 306.1,884.0 307.1,883.9 308.1,883.8 309.2,883.6 310.2,883.4 311.2,883.0 312.2,882.4 313.2,881.6 314.2,880.6 315.2,879.5 316.2,878.3 317.2,877.1 318.2,875.7 319.3,874.2 320.3,872.4 321.3,870.5 322.3,868.4 323.3,866.2 324.3,864.0 325.3,861.8 326.3,859.5 327.3,857.4 328.3,855.1 329.4,852.8 330.4,850.5 331.4,848.2 332.4,846.0 333.4,844.0 334.4,842.4 335.4,841.0 336.4,839.8 337.4,838.7 338.4,837.8 339.4,837.0 340.5,836.3 341.5,836.0 342.5,835.9 343.5,836.1 344.5,836.6 345.5,837.4 346.5,838.3 347.5,839.4 348.5,840.6 349.5,842.1 350.6,843.9 351.6,846.1 352.6,848.6 353.6,851.3 354.6,854.1 355.6,856.9 356.6,859.7 357.6,862.3 358.6,864.8 359.6,867.4 360.7,869.9 361.7,872.4 362.7,874.7 363.7,877.0 364.7,879.2 365.7,881.2 366.7,883.2 367.7,885.1 368.7,886.9 369.7,888.7 370.7,890.4 371.8,891.9 372.8,893.3 373.8,894.6 374.8,895.7 375.8,896.7 376.8,897.7 377.8,898.6 378.8,899.4 379.8,900.1 380.8,900.7 381.9,901.3 382.9,901.7 383.9,902.1 384.9,902.5 385.9,902.8 386.9,903.1 387.9,903.3 388.9,903.4" class="rl"/>
<path d="M187.3,934.1 L187.3,933.9 188.3,933.6 189.3,933.1 190.3,932.7 191.3,932.2 192.4,931.8 193.4,931.3 194.4,930.9 195.4,930.4 196.4,930.0 197.4,929.6 198.4,929.1 199.4,928.7 200.5,928.3 201.5,927.9 202.5,927.6 203.5,927.2 204.5,926.8 205.5,926.5 206.5,926.1 207.5,925.7 208.6,925.3 209.6,925.0 210.6,924.6 211.6,924.2 212.6,923.8 213.6,923.4 214.6,922.9 215.6,922.5 216.7,922.1 217.7,921.7 218.7,921.2 219.7,920.8 220.7,920.3 221.7,919.9 222.7,919.4 223.8,918.9 224.8,918.4 225.8,917.9 226.8,917.4 227.8,916.9 228.8,916.4 229.8,915.9 230.8,915.3 231.9,914.8 232.9,914.2 233.9,913.6 234.9,912.9 235.9,912.2 236.9,911.5 237.9,910.7 238.9,909.9 240.0,909.2 241.0,908.4 242.0,907.7 243.0,906.9 244.0,906.3 245.0,905.7 246.0,905.1 247.0,904.6 248.1,904.1 249.1,903.7 250.1,903.3 251.1,902.9 252.1,902.6 253.1,902.2 254.1,901.8 255.1,901.4 256.2,900.9 257.2,900.4 258.2,899.9 259.2,899.2 260.2,898.5 261.2,897.7 262.2,896.8 263.2,895.9 264.3,895.0 265.3,894.1 266.3,893.2 267.3,892.4 268.3,891.6 269.3,890.8 270.3,890.0 271.3,889.2 272.4,888.5 273.4,887.8 274.4,887.3 275.4,886.8 276.4,886.6 277.4,886.6 278.4,886.8 279.4,887.2 280.5,887.8 281.5,888.6 282.5,889.5 283.5,890.5 284.5,891.5 285.5,892.6 286.5,893.6 287.5,894.6 288.6,895.8 289.6,896.9 290.6,898.2 291.6,899.5 292.6,900.7 293.6,901.9 294.6,903.1 295.7,904.2 296.7,905.2 297.7,906.1 298.7,906.9 299.7,907.8 300.7,908.6 301.7,909.4 302.7,910.2 303.8,911.0 304.8,911.9 305.8,912.8 306.8,913.8 307.8,914.8 308.8,915.8 309.8,916.9 310.8,917.9 311.9,918.9 312.9,920.0 313.9,920.9 314.9,921.9 315.9,922.8 316.9,923.8 317.9,924.7 318.9,925.6 320.0,926.5 321.0,927.3 322.0,928.1 323.0,928.8 324.0,929.5 325.0,930.1 326.0,930.7 327.0,931.2 328.1,931.7 329.1,932.2 330.1,932.7 331.1,933.1 332.1,933.4 333.1,933.8 334.1,934.0 L334.1,934.1 Z" fill="url(#gL2)"/>
<polyline points="187.3,933.9 188.3,933.6 189.3,933.1 190.3,932.7 191.3,932.2 192.4,931.8 193.4,931.3 194.4,930.9 195.4,930.4 196.4,930.0 197.4,929.6 198.4,929.1 199.4,928.7 200.5,928.3 201.5,927.9 202.5,927.6 203.5,927.2 204.5,926.8 205.5,926.5 206.5,926.1 207.5,925.7 208.6,925.3 209.6,925.0 210.6,924.6 211.6,924.2 212.6,923.8 213.6,923.4 214.6,922.9 215.6,922.5 216.7,922.1 217.7,921.7 218.7,921.2 219.7,920.8 220.7,920.3 221.7,919.9 222.7,919.4 223.8,918.9 224.8,918.4 225.8,917.9 226.8,917.4 227.8,916.9 228.8,916.4 229.8,915.9 230.8,915.3 231.9,914.8 232.9,914.2 233.9,913.6 234.9,912.9 235.9,912.2 236.9,911.5 237.9,910.7 238.9,909.9 240.0,909.2 241.0,908.4 242.0,907.7 243.0,906.9 244.0,906.3 245.0,905.7 246.0,905.1 247.0,904.6 248.1,904.1 249.1,903.7 250.1,903.3 251.1,902.9 252.1,902.6 253.1,902.2 254.1,901.8 255.1,901.4 256.2,900.9 257.2,900.4 258.2,899.9 259.2,899.2 260.2,898.5 261.2,897.7 262.2,896.8 263.2,895.9 264.3,895.0 265.3,894.1 266.3,893.2 267.3,892.4 268.3,891.6 269.3,890.8 270.3,890.0 271.3,889.2 272.4,888.5 273.4,887.8 274.4,887.3 275.4,886.8 276.4,886.6 277.4,886.6 278.4,886.8 279.4,887.2 280.5,887.8 281.5,888.6 282.5,889.5 283.5,890.5 284.5,891.5 285.5,892.6 286.5,893.6 287.5,894.6 288.6,895.8 289.6,896.9 290.6,898.2 291.6,899.5 292.6,900.7 293.6,901.9 294.6,903.1 295.7,904.2 296.7,905.2 297.7,906.1 298.7,906.9 299.7,907.8 300.7,908.6 301.7,909.4 302.7,910.2 303.8,911.0 304.8,911.9 305.8,912.8 306.8,913.8 307.8,914.8 308.8,915.8 309.8,916.9 310.8,917.9 311.9,918.9 312.9,920.0 313.9,920.9 314.9,921.9 315.9,922.8 316.9,923.8 317.9,924.7 318.9,925.6 320.0,926.5 321.0,927.3 322.0,928.1 323.0,928.8 324.0,929.5 325.0,930.1 326.0,930.7 327.0,931.2 328.1,931.7 329.1,932.2 330.1,932.7 331.1,933.1 332.1,933.4 333.1,933.8 334.1,934.0" class="rl"/>
<path d="M153.5,964.7 L153.5,964.5 154.5,964.2 155.5,963.9 156.5,963.4 157.5,962.9 158.5,962.4 159.5,961.9 160.5,961.4 161.6,960.9 162.6,960.4 163.6,959.8 164.6,959.2 165.6,958.6 166.6,958.0 167.6,957.3 168.6,956.6 169.6,955.9 170.6,955.2 171.7,954.5 172.7,953.8 173.7,953.1 174.7,952.4 175.7,951.7 176.7,951.0 177.7,950.4 178.7,949.8 179.7,949.2 180.7,948.7 181.8,948.1 182.8,947.5 183.8,947.0 184.8,946.4 185.8,945.9 186.8,945.4 187.8,944.8 188.8,944.3 189.8,943.7 190.8,943.1 191.9,942.5 192.9,942.0 193.9,941.4 194.9,940.8 195.9,940.2 196.9,939.6 197.9,939.0 198.9,938.3 199.9,937.7 200.9,937.1 201.9,936.4 203.0,935.8 204.0,935.1 205.0,934.4 206.0,933.6 207.0,932.8 208.0,932.0 209.0,931.2 210.0,930.3 211.0,929.5 212.0,928.7 213.1,927.9 214.1,927.2 215.1,926.4 216.1,925.6 217.1,924.9 218.1,924.3 219.1,923.8 220.1,923.6 221.1,923.6 222.1,923.9 223.2,924.5 224.2,925.2 225.2,926.2 226.2,927.2 227.2,928.2 228.2,929.4 229.2,930.8 230.2,932.2 231.2,933.7 232.2,935.2 233.3,936.5 234.3,937.6 235.3,938.6 236.3,939.4 237.3,940.2 238.3,940.9 239.3,941.5 240.3,942.0 241.3,942.4 242.3,942.6 243.3,942.6 244.4,942.5 245.4,942.3 246.4,942.0 247.4,941.7 248.4,941.4 249.4,941.0 250.4,940.5 251.4,940.1 252.4,939.5 253.4,938.8 254.5,938.1 255.5,937.5 256.5,936.8 257.5,936.3 258.5,935.9 259.5,935.5 260.5,935.2 261.5,934.9 262.5,934.6 263.5,934.5 264.6,934.4 265.6,934.5 266.6,934.8 267.6,935.5 268.6,936.3 269.6,937.3 270.6,938.4 271.6,939.6 272.6,940.8 273.6,942.1 274.7,943.5 275.7,945.0 276.7,946.5 277.7,948.0 278.7,949.4 279.7,950.7 280.7,951.9 281.7,952.9 282.7,953.9 283.7,954.9 284.8,955.7 285.8,956.6 286.8,957.4 287.8,958.1 288.8,958.8 289.8,959.4 290.8,959.9 291.8,960.5 292.8,961.0 293.8,961.5 294.8,961.9 295.9,962.3 296.9,962.7 297.9,963.0 298.9,963.3 299.9,963.6 300.9,963.8 301.9,964.1 302.9,964.3 303.9,964.4 304.9,964.6 306.0,964.7 L306.0,964.7 Z" fill="url(#gL2)"/>
<polyline points="153.5,964.5 154.5,964.2 155.5,963.9 156.5,963.4 157.5,962.9 158.5,962.4 159.5,961.9 160.5,961.4 161.6,960.9 162.6,960.4 163.6,959.8 164.6,959.2 165.6,958.6 166.6,958.0 167.6,957.3 168.6,956.6 169.6,955.9 170.6,955.2 171.7,954.5 172.7,953.8 173.7,953.1 174.7,952.4 175.7,951.7 176.7,951.0 177.7,950.4 178.7,949.8 179.7,949.2 180.7,948.7 181.8,948.1 182.8,947.5 183.8,947.0 184.8,946.4 185.8,945.9 186.8,945.4 187.8,944.8 188.8,944.3 189.8,943.7 190.8,943.1 191.9,942.5 192.9,942.0 193.9,941.4 194.9,940.8 195.9,940.2 196.9,939.6 197.9,939.0 198.9,938.3 199.9,937.7 200.9,937.1 201.9,936.4 203.0,935.8 204.0,935.1 205.0,934.4 206.0,933.6 207.0,932.8 208.0,932.0 209.0,931.2 210.0,930.3 211.0,929.5 212.0,928.7 213.1,927.9 214.1,927.2 215.1,926.4 216.1,925.6 217.1,924.9 218.1,924.3 219.1,923.8 220.1,923.6 221.1,923.6 222.1,923.9 223.2,924.5 224.2,925.2 225.2,926.2 226.2,927.2 227.2,928.2 228.2,929.4 229.2,930.8 230.2,932.2 231.2,933.7 232.2,935.2 233.3,936.5 234.3,937.6 235.3,938.6 236.3,939.4 237.3,940.2 238.3,940.9 239.3,941.5 240.3,942.0 241.3,942.4 242.3,942.6 243.3,942.6 244.4,942.5 245.4,942.3 246.4,942.0 247.4,941.7 248.4,941.4 249.4,941.0 250.4,940.5 251.4,940.1 252.4,939.5 253.4,938.8 254.5,938.1 255.5,937.5 256.5,936.8 257.5,936.3 258.5,935.9 259.5,935.5 260.5,935.2 261.5,934.9 262.5,934.6 263.5,934.5 264.6,934.4 265.6,934.5 266.6,934.8 267.6,935.5 268.6,936.3 269.6,937.3 270.6,938.4 271.6,939.6 272.6,940.8 273.6,942.1 274.7,943.5 275.7,945.0 276.7,946.5 277.7,948.0 278.7,949.4 279.7,950.7 280.7,951.9 281.7,952.9 282.7,953.9 283.7,954.9 284.8,955.7 285.8,956.6 286.8,957.4 287.8,958.1 288.8,958.8 289.8,959.4 290.8,959.9 291.8,960.5 292.8,961.0 293.8,961.5 294.8,961.9 295.9,962.3 296.9,962.7 297.9,963.0 298.9,963.3 299.9,963.6 300.9,963.8 301.9,964.1 302.9,964.3 303.9,964.4 304.9,964.6 306.0,964.7" class="rl"/>
<path d="M233.6,578.5V593.0M233.6,609.2V625.4M233.6,641.6V657.7M233.6,674.0V690.1M233.6,706.3V722.4M233.6,738.6V754.8M233.6,771.0V787.1M233.6,803.4V819.5M233.6,835.7V851.8M233.6,868.0V884.1M233.6,900.4V916.5M233.6,932.8V948.9M233.6,965.1V981.2" stroke="#ff0000" stroke-width="4.1" fill="none"/>
<path d="M600.8,578.5V593.0M600.8,609.2V625.4M600.8,641.6V657.7M600.8,674.0V690.1M600.8,706.3V722.4M600.8,738.6V754.8M600.8,771.0V787.1M600.8,803.4V819.5M600.8,835.7V851.8M600.8,868.0V884.1M600.8,900.4V916.5M600.8,932.8V948.9M600.8,965.1V981.2" stroke="#0000f0" stroke-width="4.1" fill="none"/>
<text transform="translate(80.0,559.6) scale(0.947,1)" font-size="31.5" class="b">2020</text>
<text transform="translate(66.2,628.2) scale(0.98,1)" font-size="21.7" text-anchor="end" class="b">J</text>
<text transform="translate(66.2,658.8) scale(0.98,1)" font-size="21.7" text-anchor="end" class="b">F</text>
<text transform="translate(66.2,689.5) scale(0.98,1)" font-size="21.7" text-anchor="end" class="b">M</text>
<text transform="translate(66.2,720.1) scale(0.98,1)" font-size="21.7" text-anchor="end" class="b">A</text>
<text transform="translate(66.2,750.7) scale(0.98,1)" font-size="21.7" text-anchor="end" class="b">M</text>
<text transform="translate(66.2,781.3) scale(0.98,1)" font-size="21.7" text-anchor="end" class="b">J</text>
<text transform="translate(66.2,812.0) scale(0.98,1)" font-size="21.7" text-anchor="end" class="b">J</text>
<text transform="translate(66.2,842.6) scale(0.98,1)" font-size="21.7" text-anchor="end" class="b">A</text>
<text transform="translate(66.2,873.2) scale(0.98,1)" font-size="21.7" text-anchor="end" class="b">S</text>
<text transform="translate(66.2,903.9) scale(0.98,1)" font-size="21.7" text-anchor="end" class="b">O</text>
<text transform="translate(66.2,934.5) scale(0.98,1)" font-size="21.7" text-anchor="end" class="b">N</text>
<text transform="translate(66.2,965.1) scale(0.98,1)" font-size="21.7" text-anchor="end" class="b">D</text></g>
<g id="L3"><line x1="111.2" y1="1064.1" x2="111.2" y2="1475.5" class="vg"/>
<line x1="233.6" y1="1064.1" x2="233.6" y2="1475.5" class="vg"/>
<line x1="356.0" y1="1064.1" x2="356.0" y2="1475.5" class="vg"/>
<line x1="478.4" y1="1064.1" x2="478.4" y2="1475.5" class="vg"/>
<line x1="600.8" y1="1064.1" x2="600.8" y2="1475.5" class="vg"/>
<line x1="723.2" y1="1064.1" x2="723.2" y2="1475.5" class="vg"/>
<line x1="71.5" y1="1120.5" x2="754.5" y2="1120.5" class="hg"/>
<line x1="71.5" y1="1150.5" x2="754.5" y2="1150.5" class="hg"/>
<line x1="71.5" y1="1180.6" x2="754.5" y2="1180.6" class="hg"/>
<line x1="71.5" y1="1210.7" x2="754.5" y2="1210.7" class="hg"/>
<line x1="71.5" y1="1240.7" x2="754.5" y2="1240.7" class="hg"/>
<line x1="71.5" y1="1270.8" x2="754.5" y2="1270.8" class="hg"/>
<line x1="71.5" y1="1300.8" x2="754.5" y2="1300.8" class="hg"/>
<line x1="71.5" y1="1330.8" x2="754.5" y2="1330.8" class="hg"/>
<line x1="71.5" y1="1360.9" x2="754.5" y2="1360.9" class="hg"/>
<line x1="71.5" y1="1391.0" x2="754.5" y2="1391.0" class="hg"/>
<line x1="71.5" y1="1421.0" x2="754.5" y2="1421.0" class="hg"/>
<line x1="71.5" y1="1451.0" x2="754.5" y2="1451.0" class="hg"/>
<path d="M258.5,1120.5 L258.5,1120.4 259.6,1120.2 260.6,1119.9 261.6,1119.4 262.6,1118.7 263.7,1117.9 264.7,1117.0 265.7,1115.9 266.7,1114.4 267.7,1112.6 268.8,1110.3 269.8,1107.8 270.8,1105.1 271.8,1102.5 272.8,1099.7 273.9,1097.0 274.9,1094.1 275.9,1091.2 276.9,1088.4 277.9,1085.7 279.0,1083.1 280.0,1080.5 281.0,1078.0 282.0,1075.7 283.0,1073.5 284.1,1071.6 285.1,1069.9 286.1,1068.3 287.1,1067.0 288.1,1066.0 289.2,1065.3 290.2,1064.9 291.2,1064.7 292.2,1064.5 293.2,1064.5 294.3,1064.8 295.3,1065.3 296.3,1066.3 297.3,1067.5 298.3,1068.8 299.4,1070.2 300.4,1071.7 301.4,1073.2 302.4,1074.9 303.5,1076.4 304.5,1077.8 305.5,1079.0 306.5,1080.1 307.5,1081.1 308.6,1082.1 309.6,1083.3 310.6,1084.7 311.6,1086.3 312.6,1088.0 313.7,1089.9 314.7,1091.9 315.7,1094.1 316.7,1096.5 317.7,1098.9 318.8,1101.2 319.8,1103.4 320.8,1105.5 321.8,1107.5 322.8,1109.4 323.9,1111.1 324.9,1112.7 325.9,1114.0 326.9,1115.1 327.9,1116.0 329.0,1116.8 330.0,1117.5 331.0,1118.2 332.0,1118.8 333.0,1119.4 334.1,1119.8 335.1,1120.1 336.1,1120.3 337.1,1120.4 L337.1,1120.5 Z" fill="url(#gL3)"/>
<polyline points="258.5,1120.4 259.6,1120.2 260.6,1119.9 261.6,1119.4 262.6,1118.7 263.7,1117.9 264.7,1117.0 265.7,1115.9 266.7,1114.4 267.7,1112.6 268.8,1110.3 269.8,1107.8 270.8,1105.1 271.8,1102.5 272.8,1099.7 273.9,1097.0 274.9,1094.1 275.9,1091.2 276.9,1088.4 277.9,1085.7 279.0,1083.1 280.0,1080.5 281.0,1078.0 282.0,1075.7 283.0,1073.5 284.1,1071.6 285.1,1069.9 286.1,1068.3 287.1,1067.0 288.1,1066.0 289.2,1065.3 290.2,1064.9 291.2,1064.7 292.2,1064.5 293.2,1064.5 294.3,1064.8 295.3,1065.3 296.3,1066.3 297.3,1067.5 298.3,1068.8 299.4,1070.2 300.4,1071.7 301.4,1073.2 302.4,1074.9 303.5,1076.4 304.5,1077.8 305.5,1079.0 306.5,1080.1 307.5,1081.1 308.6,1082.1 309.6,1083.3 310.6,1084.7 311.6,1086.3 312.6,1088.0 313.7,1089.9 314.7,1091.9 315.7,1094.1 316.7,1096.5 317.7,1098.9 318.8,1101.2 319.8,1103.4 320.8,1105.5 321.8,1107.5 322.8,1109.4 323.9,1111.1 324.9,1112.7 325.9,1114.0 326.9,1115.1 327.9,1116.0 329.0,1116.8 330.0,1117.5 331.0,1118.2 332.0,1118.8 333.0,1119.4 334.1,1119.8 335.1,1120.1 336.1,1120.3 337.1,1120.4" class="rl"/>
<path d="M250.1,1150.5 L250.1,1150.4 251.1,1150.0 252.1,1149.5 253.1,1148.8 254.1,1148.0 255.1,1147.1 256.2,1146.1 257.2,1145.0 258.2,1143.7 259.2,1142.2 260.2,1140.5 261.2,1138.6 262.2,1136.7 263.2,1134.9 264.2,1133.3 265.3,1131.9 266.3,1130.6 267.3,1129.3 268.3,1128.3 269.3,1127.3 270.3,1126.6 271.3,1125.9 272.3,1125.4 273.3,1125.0 274.4,1124.7 275.4,1124.7 276.4,1124.9 277.4,1125.4 278.4,1126.0 279.4,1126.8 280.4,1127.7 281.4,1128.8 282.4,1130.1 283.5,1131.5 284.5,1132.9 285.5,1134.1 286.5,1135.1 287.5,1136.0 288.5,1136.9 289.5,1137.6 290.5,1138.2 291.5,1138.6 292.6,1138.7 293.6,1138.7 294.6,1138.4 295.6,1138.0 296.6,1137.6 297.6,1137.1 298.6,1136.6 299.6,1136.0 300.6,1135.5 301.7,1135.0 302.7,1134.4 303.7,1133.9 304.7,1133.3 305.7,1132.7 306.7,1132.2 307.7,1131.7 308.7,1131.4 309.7,1131.1 310.8,1130.9 311.8,1130.7 312.8,1130.5 313.8,1130.4 314.8,1130.3 315.8,1130.2 316.8,1130.2 317.8,1130.2 318.8,1130.3 319.9,1130.5 320.9,1130.8 321.9,1131.1 322.9,1131.5 323.9,1131.8 324.9,1132.2 325.9,1132.6 326.9,1133.1 327.9,1133.6 329.0,1134.1 330.0,1134.7 331.0,1135.2 332.0,1135.8 333.0,1136.3 334.0,1136.7 335.0,1137.2 336.0,1137.6 337.0,1138.0 338.1,1138.4 339.1,1138.8 340.1,1139.1 341.1,1139.3 342.1,1139.4 343.1,1139.4 344.1,1139.2 345.1,1139.0 346.1,1138.6 347.2,1138.2 348.2,1137.8 349.2,1137.4 350.2,1137.1 351.2,1136.8 352.2,1136.5 353.2,1136.2 354.2,1136.0 355.2,1135.9 356.3,1135.9 357.3,1136.0 358.3,1136.2 359.3,1136.6 360.3,1136.9 361.3,1137.4 362.3,1137.8 363.3,1138.2 364.3,1138.7 365.4,1139.3 366.4,1139.8 367.4,1140.4 368.4,1140.9 369.4,1141.3 370.4,1141.6 371.4,1141.9 372.4,1142.0 373.4,1142.2 374.5,1142.4 375.5,1142.5 376.5,1142.6 377.5,1142.6 378.5,1142.6 379.5,1142.4 380.5,1142.1 381.5,1141.7 382.5,1141.2 383.6,1140.9 384.6,1140.6 385.6,1140.4 386.6,1140.3 387.6,1140.2 388.6,1140.2 389.6,1140.3 390.6,1140.5 391.6,1140.9 392.7,1141.4 393.7,1142.0 394.7,1142.6 395.7,1143.3 396.7,1144.0 397.7,1144.8 398.7,1145.6 399.7,1146.4 400.7,1147.2 401.8,1147.8 402.8,1148.4 403.8,1148.8 404.8,1149.3 405.8,1149.7 406.8,1150.0 407.8,1150.3 408.8,1150.4 L408.8,1150.5 Z" fill="url(#gL3)"/>
<polyline points="250.1,1150.4 251.1,1150.0 252.1,1149.5 253.1,1148.8 254.1,1148.0 255.1,1147.1 256.2,1146.1 257.2,1145.0 258.2,1143.7 259.2,1142.2 260.2,1140.5 261.2,1138.6 262.2,1136.7 263.2,1134.9 264.2,1133.3 265.3,1131.9 266.3,1130.6 267.3,1129.3 268.3,1128.3 269.3,1127.3 270.3,1126.6 271.3,1125.9 272.3,1125.4 273.3,1125.0 274.4,1124.7 275.4,1124.7 276.4,1124.9 277.4,1125.4 278.4,1126.0 279.4,1126.8 280.4,1127.7 281.4,1128.8 282.4,1130.1 283.5,1131.5 284.5,1132.9 285.5,1134.1 286.5,1135.1 287.5,1136.0 288.5,1136.9 289.5,1137.6 290.5,1138.2 291.5,1138.6 292.6,1138.7 293.6,1138.7 294.6,1138.4 295.6,1138.0 296.6,1137.6 297.6,1137.1 298.6,1136.6 299.6,1136.0 300.6,1135.5 301.7,1135.0 302.7,1134.4 303.7,1133.9 304.7,1133.3 305.7,1132.7 306.7,1132.2 307.7,1131.7 308.7,1131.4 309.7,1131.1 310.8,1130.9 311.8,1130.7 312.8,1130.5 313.8,1130.4 314.8,1130.3 315.8,1130.2 316.8,1130.2 317.8,1130.2 318.8,1130.3 319.9,1130.5 320.9,1130.8 321.9,1131.1 322.9,1131.5 323.9,1131.8 324.9,1132.2 325.9,1132.6 326.9,1133.1 327.9,1133.6 329.0,1134.1 330.0,1134.7 331.0,1135.2 332.0,1135.8 333.0,1136.3 334.0,1136.7 335.0,1137.2 336.0,1137.6 337.0,1138.0 338.1,1138.4 339.1,1138.8 340.1,1139.1 341.1,1139.3 342.1,1139.4 343.1,1139.4 344.1,1139.2 345.1,1139.0 346.1,1138.6 347.2,1138.2 348.2,1137.8 349.2,1137.4 350.2,1137.1 351.2,1136.8 352.2,1136.5 353.2,1136.2 354.2,1136.0 355.2,1135.9 356.3,1135.9 357.3,1136.0 358.3,1136.2 359.3,1136.6 360.3,1136.9 361.3,1137.4 362.3,1137.8 363.3,1138.2 364.3,1138.7 365.4,1139.3 366.4,1139.8 367.4,1140.4 368.4,1140.9 369.4,1141.3 370.4,1141.6 371.4,1141.9 372.4,1142.0 373.4,1142.2 374.5,1142.4 375.5,1142.5 376.5,1142.6 377.5,1142.6 378.5,1142.6 379.5,1142.4 380.5,1142.1 381.5,1141.7 382.5,1141.2 383.6,1140.9 384.6,1140.6 385.6,1140.4 386.6,1140.3 387.6,1140.2 388.6,1140.2 389.6,1140.3 390.6,1140.5 391.6,1140.9 392.7,1141.4 393.7,1142.0 394.7,1142.6 395.7,1143.3 396.7,1144.0 397.7,1144.8 398.7,1145.6 399.7,1146.4 400.7,1147.2 401.8,1147.8 402.8,1148.4 403.8,1148.8 404.8,1149.3 405.8,1149.7 406.8,1150.0 407.8,1150.3 408.8,1150.4" class="rl"/>
<path d="M376.0,1180.6 L376.0,1180.5 377.0,1180.3 378.0,1180.0 379.0,1179.6 380.0,1179.2 381.0,1178.8 382.0,1178.4 383.1,1177.9 384.1,1177.4 385.1,1176.9 386.1,1176.3 387.1,1175.7 388.1,1175.0 389.1,1174.3 390.2,1173.6 391.2,1172.9 392.2,1172.2 393.2,1171.5 394.2,1170.8 395.2,1170.1 396.2,1169.4 397.3,1168.6 398.3,1167.9 399.3,1167.2 400.3,1166.5 401.3,1165.9 402.3,1165.3 403.3,1164.7 404.4,1164.1 405.4,1163.6 406.4,1163.1 407.4,1162.6 408.4,1162.1 409.4,1161.7 410.4,1161.4 411.5,1161.1 412.5,1160.9 413.5,1160.8 414.5,1160.8 415.5,1160.7 416.5,1160.7 417.5,1160.7 418.6,1160.6 419.6,1160.6 420.6,1160.6 421.6,1160.5 422.6,1160.4 423.6,1160.2 424.7,1159.9 425.7,1159.4 426.7,1158.9 427.7,1158.3 428.7,1157.7 429.7,1157.0 430.7,1156.2 431.8,1155.3 432.8,1154.2 433.8,1153.1 434.8,1152.0 435.8,1150.9 436.8,1149.9 437.8,1149.1 438.9,1148.4 439.9,1147.8 440.9,1147.3 441.9,1147.0 442.9,1147.0 443.9,1147.2 444.9,1147.6 446.0,1148.2 447.0,1149.0 448.0,1149.8 449.0,1150.6 450.0,1151.6 451.0,1152.6 452.0,1153.7 453.1,1154.8 454.1,1155.8 455.1,1156.6 456.1,1157.2 457.1,1157.6 458.1,1158.0 459.1,1158.4 460.2,1158.7 461.2,1159.1 462.2,1159.6 463.2,1160.1 464.2,1160.7 465.2,1161.4 466.2,1162.2 467.3,1163.0 468.3,1163.8 469.3,1164.6 470.3,1165.4 471.3,1166.2 472.3,1167.0 473.3,1167.8 474.4,1168.6 475.4,1169.4 476.4,1170.1 477.4,1170.7 478.4,1171.3 479.4,1171.8 480.4,1172.2 481.5,1172.6 482.5,1173.0 483.5,1173.4 484.5,1173.7 485.5,1174.1 486.5,1174.4 487.5,1174.7 488.6,1175.1 489.6,1175.5 490.6,1175.9 491.6,1176.3 492.6,1176.7 493.6,1177.1 494.7,1177.4 495.7,1177.8 496.7,1178.1 497.7,1178.4 498.7,1178.7 499.7,1179.0 500.7,1179.3 501.8,1179.5 502.8,1179.8 503.8,1180.0 504.8,1180.2 505.8,1180.4 506.8,1180.5 L506.8,1180.6 Z" fill="url(#gL3)"/>
<polyline points="376.0,1180.5 377.0,1180.3 378.0,1180.0 379.0,1179.6 380.0,1179.2 381.0,1178.8 382.0,1178.4 383.1,1177.9 384.1,1177.4 385.1,1176.9 386.1,1176.3 387.1,1175.7 388.1,1175.0 389.1,1174.3 390.2,1173.6 391.2,1172.9 392.2,1172.2 393.2,1171.5 394.2,1170.8 395.2,1170.1 396.2,1169.4 397.3,1168.6 398.3,1167.9 399.3,1167.2 400.3,1166.5 401.3,1165.9 402.3,1165.3 403.3,1164.7 404.4,1164.1 405.4,1163.6 406.4,1163.1 407.4,1162.6 408.4,1162.1 409.4,1161.7 410.4,1161.4 411.5,1161.1 412.5,1160.9 413.5,1160.8 414.5,1160.8 415.5,1160.7 416.5,1160.7 417.5,1160.7 418.6,1160.6 419.6,1160.6 420.6,1160.6 421.6,1160.5 422.6,1160.4 423.6,1160.2 424.7,1159.9 425.7,1159.4 426.7,1158.9 427.7,1158.3 428.7,1157.7 429.7,1157.0 430.7,1156.2 431.8,1155.3 432.8,1154.2 433.8,1153.1 434.8,1152.0 435.8,1150.9 436.8,1149.9 437.8,1149.1 438.9,1148.4 439.9,1147.8 440.9,1147.3 441.9,1147.0 442.9,1147.0 443.9,1147.2 444.9,1147.6 446.0,1148.2 447.0,1149.0 448.0,1149.8 449.0,1150.6 450.0,1151.6 451.0,1152.6 452.0,1153.7 453.1,1154.8 454.1,1155.8 455.1,1156.6 456.1,1157.2 457.1,1157.6 458.1,1158.0 459.1,1158.4 460.2,1158.7 461.2,1159.1 462.2,1159.6 463.2,1160.1 464.2,1160.7 465.2,1161.4 466.2,1162.2 467.3,1163.0 468.3,1163.8 469.3,1164.6 470.3,1165.4 471.3,1166.2 472.3,1167.0 473.3,1167.8 474.4,1168.6 475.4,1169.4 476.4,1170.1 477.4,1170.7 478.4,1171.3 479.4,1171.8 480.4,1172.2 481.5,1172.6 482.5,1173.0 483.5,1173.4 484.5,1173.7 485.5,1174.1 486.5,1174.4 487.5,1174.7 488.6,1175.1 489.6,1175.5 490.6,1175.9 491.6,1176.3 492.6,1176.7 493.6,1177.1 494.7,1177.4 495.7,1177.8 496.7,1178.1 497.7,1178.4 498.7,1178.7 499.7,1179.0 500.7,1179.3 501.8,1179.5 502.8,1179.8 503.8,1180.0 504.8,1180.2 505.8,1180.4 506.8,1180.5" class="rl"/>
<path d="M392.5,1210.7 L392.5,1210.4 393.6,1210.1 394.6,1209.7 395.6,1209.2 396.6,1208.8 397.6,1208.3 398.6,1208.0 399.6,1207.6 400.7,1207.2 401.7,1206.9 402.7,1206.7 403.7,1206.5 404.7,1206.3 405.7,1206.1 406.7,1205.9 407.8,1205.7 408.8,1205.6 409.8,1205.4 410.8,1205.2 411.8,1204.9 412.8,1204.6 413.8,1204.2 414.8,1203.8 415.9,1203.2 416.9,1202.6 417.9,1201.9 418.9,1201.2 419.9,1200.5 420.9,1199.9 421.9,1199.2 423.0,1198.6 424.0,1198.0 425.0,1197.3 426.0,1196.7 427.0,1196.1 428.0,1195.5 429.0,1195.0 430.1,1194.7 431.1,1194.5 432.1,1194.4 433.1,1194.4 434.1,1194.4 435.1,1194.5 436.1,1194.6 437.1,1194.7 438.2,1194.9 439.2,1195.0 440.2,1195.1 441.2,1195.3 442.2,1195.5 443.2,1195.8 444.2,1196.1 445.3,1196.4 446.3,1196.7 447.3,1196.9 448.3,1197.2 449.3,1197.3 450.3,1197.4 451.3,1197.4 452.4,1197.3 453.4,1197.3 454.4,1197.1 455.4,1197.0 456.4,1196.8 457.4,1196.5 458.4,1196.3 459.4,1195.9 460.5,1195.5 461.5,1194.8 462.5,1193.9 463.5,1192.8 464.5,1191.6 465.5,1190.4 466.5,1189.3 467.6,1188.2 468.6,1187.2 469.6,1186.3 470.6,1185.3 471.6,1184.5 472.6,1183.9 473.6,1183.6 474.6,1183.5 475.7,1183.6 476.7,1183.8 477.7,1184.1 478.7,1184.4 479.7,1184.8 480.7,1185.2 481.7,1185.8 482.8,1186.4 483.8,1187.0 484.8,1187.5 485.8,1187.8 486.8,1188.0 487.8,1188.0 488.8,1187.9 489.9,1187.8 490.9,1187.6 491.9,1187.5 492.9,1187.3 493.9,1187.2 494.9,1187.0 495.9,1186.9 496.9,1186.8 498.0,1186.7 499.0,1186.6 500.0,1186.6 501.0,1186.6 502.0,1186.8 503.0,1187.1 504.0,1187.6 505.1,1188.1 506.1,1188.8 507.1,1189.4 508.1,1190.1 509.1,1190.8 510.1,1191.6 511.1,1192.5 512.2,1193.4 513.2,1194.4 514.2,1195.4 515.2,1196.4 516.2,1197.5 517.2,1198.5 518.2,1199.5 519.2,1200.6 520.3,1201.7 521.3,1202.7 522.3,1203.7 523.3,1204.6 524.3,1205.4 525.3,1206.2 526.3,1206.9 527.4,1207.5 528.4,1208.2 529.4,1208.8 530.4,1209.3 531.4,1209.8 532.4,1210.2 533.4,1210.5 L533.4,1210.7 Z" fill="url(#gL3)"/>
<polyline points="392.5,1210.4 393.6,1210.1 394.6,1209.7 395.6,1209.2 396.6,1208.8 397.6,1208.3 398.6,1208.0 399.6,1207.6 400.7,1207.2 401.7,1206.9 402.7,1206.7 403.7,1206.5 404.7,1206.3 405.7,1206.1 406.7,1205.9 407.8,1205.7 408.8,1205.6 409.8,1205.4 410.8,1205.2 411.8,1204.9 412.8,1204.6 413.8,1204.2 414.8,1203.8 415.9,1203.2 416.9,1202.6 417.9,1201.9 418.9,1201.2 419.9,1200.5 420.9,1199.9 421.9,1199.2 423.0,1198.6 424.0,1198.0 425.0,1197.3 426.0,1196.7 427.0,1196.1 428.0,1195.5 429.0,1195.0 430.1,1194.7 431.1,1194.5 432.1,1194.4 433.1,1194.4 434.1,1194.4 435.1,1194.5 436.1,1194.6 437.1,1194.7 438.2,1194.9 439.2,1195.0 440.2,1195.1 441.2,1195.3 442.2,1195.5 443.2,1195.8 444.2,1196.1 445.3,1196.4 446.3,1196.7 447.3,1196.9 448.3,1197.2 449.3,1197.3 450.3,1197.4 451.3,1197.4 452.4,1197.3 453.4,1197.3 454.4,1197.1 455.4,1197.0 456.4,1196.8 457.4,1196.5 458.4,1196.3 459.4,1195.9 460.5,1195.5 461.5,1194.8 462.5,1193.9 463.5,1192.8 464.5,1191.6 465.5,1190.4 466.5,1189.3 467.6,1188.2 468.6,1187.2 469.6,1186.3 470.6,1185.3 471.6,1184.5 472.6,1183.9 473.6,1183.6 474.6,1183.5 475.7,1183.6 476.7,1183.8 477.7,1184.1 478.7,1184.4 479.7,1184.8 480.7,1185.2 481.7,1185.8 482.8,1186.4 483.8,1187.0 484.8,1187.5 485.8,1187.8 486.8,1188.0 487.8,1188.0 488.8,1187.9 489.9,1187.8 490.9,1187.6 491.9,1187.5 492.9,1187.3 493.9,1187.2 494.9,1187.0 495.9,1186.9 496.9,1186.8 498.0,1186.7 499.0,1186.6 500.0,1186.6 501.0,1186.6 502.0,1186.8 503.0,1187.1 504.0,1187.6 505.1,1188.1 506.1,1188.8 507.1,1189.4 508.1,1190.1 509.1,1190.8 510.1,1191.6 511.1,1192.5 512.2,1193.4 513.2,1194.4 514.2,1195.4 515.2,1196.4 516.2,1197.5 517.2,1198.5 518.2,1199.5 519.2,1200.6 520.3,1201.7 521.3,1202.7 522.3,1203.7 523.3,1204.6 524.3,1205.4 525.3,1206.2 526.3,1206.9 527.4,1207.5 528.4,1208.2 529.4,1208.8 530.4,1209.3 531.4,1209.8 532.4,1210.2 533.4,1210.5" class="rl"/>
<path d="M397.2,1240.7 L397.2,1240.4 398.3,1239.9 399.3,1239.3 400.3,1238.6 401.3,1237.9 402.3,1237.1 403.3,1236.4 404.3,1235.6 405.3,1234.8 406.4,1233.9 407.4,1233.1 408.4,1232.1 409.4,1231.2 410.4,1230.3 411.4,1229.3 412.4,1228.4 413.4,1227.6 414.4,1226.8 415.5,1226.1 416.5,1225.4 417.5,1224.8 418.5,1224.2 419.5,1223.7 420.5,1223.2 421.5,1222.8 422.5,1222.3 423.6,1221.8 424.6,1221.3 425.6,1220.8 426.6,1220.3 427.6,1219.8 428.6,1219.3 429.6,1218.8 430.6,1218.3 431.7,1217.8 432.7,1217.4 433.7,1217.0 434.7,1216.7 435.7,1216.4 436.7,1216.1 437.7,1215.9 438.7,1215.8 439.7,1215.8 440.8,1216.0 441.8,1216.4 442.8,1217.0 443.8,1217.5 444.8,1218.0 445.8,1218.4 446.8,1218.6 447.8,1218.9 448.9,1219.0 449.9,1219.2 450.9,1219.2 451.9,1219.1 452.9,1218.7 453.9,1217.9 454.9,1216.8 455.9,1215.3 457.0,1213.7 458.0,1212.0 459.0,1210.3 460.0,1208.6 461.0,1206.7 462.0,1204.8 463.0,1203.0 464.0,1201.4 465.0,1200.1 466.1,1198.8 467.1,1197.8 468.1,1196.9 469.1,1196.4 470.1,1196.2 471.1,1196.4 472.1,1197.0 473.1,1197.9 474.2,1199.0 475.2,1200.4 476.2,1202.3 477.2,1204.7 478.2,1207.4 479.2,1210.3 480.2,1213.1 481.2,1215.9 482.3,1218.7 483.3,1221.4 484.3,1224.0 485.3,1226.4 486.3,1228.6 487.3,1230.7 488.3,1232.6 489.3,1234.2 490.3,1235.6 491.4,1236.7 492.4,1237.7 493.4,1238.6 494.4,1239.3 495.4,1239.9 496.4,1240.4 497.4,1240.6 L497.4,1240.7 Z" fill="url(#gL3)"/>
<polyline points="397.2,1240.4 398.3,1239.9 399.3,1239.3 400.3,1238.6 401.3,1237.9 402.3,1237.1 403.3,1236.4 404.3,1235.6 405.3,1234.8 406.4,1233.9 407.4,1233.1 408.4,1232.1 409.4,1231.2 410.4,1230.3 411.4,1229.3 412.4,1228.4 413.4,1227.6 414.4,1226.8 415.5,1226.1 416.5,1225.4 417.5,1224.8 418.5,1224.2 419.5,1223.7 420.5,1223.2 421.5,1222.8 422.5,1222.3 423.6,1221.8 424.6,1221.3 425.6,1220.8 426.6,1220.3 427.6,1219.8 428.6,1219.3 429.6,1218.8 430.6,1218.3 431.7,1217.8 432.7,1217.4 433.7,1217.0 434.7,1216.7 435.7,1216.4 436.7,1216.1 437.7,1215.9 438.7,1215.8 439.7,1215.8 440.8,1216.0 441.8,1216.4 442.8,1217.0 443.8,1217.5 444.8,1218.0 445.8,1218.4 446.8,1218.6 447.8,1218.9 448.9,1219.0 449.9,1219.2 450.9,1219.2 451.9,1219.1 452.9,1218.7 453.9,1217.9 454.9,1216.8 455.9,1215.3 457.0,1213.7 458.0,1212.0 459.0,1210.3 460.0,1208.6 461.0,1206.7 462.0,1204.8 463.0,1203.0 464.0,1201.4 465.0,1200.1 466.1,1198.8 467.1,1197.8 468.1,1196.9 469.1,1196.4 470.1,1196.2 471.1,1196.4 472.1,1197.0 473.1,1197.9 474.2,1199.0 475.2,1200.4 476.2,1202.3 477.2,1204.7 478.2,1207.4 479.2,1210.3 480.2,1213.1 481.2,1215.9 482.3,1218.7 483.3,1221.4 484.3,1224.0 485.3,1226.4 486.3,1228.6 487.3,1230.7 488.3,1232.6 489.3,1234.2 490.3,1235.6 491.4,1236.7 492.4,1237.7 493.4,1238.6 494.4,1239.3 495.4,1239.9 496.4,1240.4 497.4,1240.6" class="rl"/>
<path d="M351.8,1270.8 L351.8,1270.6 352.9,1270.5 353.9,1270.1 354.9,1269.6 355.9,1268.9 356.9,1268.2 358.0,1267.3 359.0,1266.3 360.0,1265.3 361.0,1264.0 362.0,1262.5 363.0,1260.8 364.1,1258.9 365.1,1256.9 366.1,1254.7 367.1,1252.4 368.1,1250.0 369.1,1247.4 370.2,1244.6 371.2,1241.7 372.2,1238.8 373.2,1236.0 374.2,1233.3 375.3,1230.6 376.3,1228.1 377.3,1225.6 378.3,1223.5 379.3,1221.6 380.3,1220.1 381.4,1218.9 382.4,1217.8 383.4,1216.8 384.4,1216.0 385.4,1215.4 386.4,1215.0 387.5,1215.0 388.5,1215.2 389.5,1215.7 390.5,1216.5 391.5,1217.5 392.5,1218.6 393.6,1219.8 394.6,1221.1 395.6,1222.7 396.6,1224.6 397.6,1226.7 398.7,1228.9 399.7,1231.1 400.7,1233.4 401.7,1235.5 402.7,1237.5 403.7,1239.4 404.8,1241.3 405.8,1243.2 406.8,1245.0 407.8,1246.8 408.8,1248.5 409.8,1250.2 410.9,1251.8 411.9,1253.4 412.9,1254.9 413.9,1256.4 414.9,1257.8 416.0,1259.1 417.0,1260.3 418.0,1261.4 419.0,1262.4 420.0,1263.3 421.0,1264.2 422.1,1265.0 423.1,1265.8 424.1,1266.5 425.1,1267.1 426.1,1267.7 427.1,1268.2 428.2,1268.8 429.2,1269.2 430.2,1269.7 431.2,1270.1 432.2,1270.4 433.2,1270.6 L433.2,1270.8 Z" fill="url(#gL3)"/>
<polyline points="351.8,1270.6 352.9,1270.5 353.9,1270.1 354.9,1269.6 355.9,1268.9 356.9,1268.2 358.0,1267.3 359.0,1266.3 360.0,1265.3 361.0,1264.0 362.0,1262.5 363.0,1260.8 364.1,1258.9 365.1,1256.9 366.1,1254.7 367.1,1252.4 368.1,1250.0 369.1,1247.4 370.2,1244.6 371.2,1241.7 372.2,1238.8 373.2,1236.0 374.2,1233.3 375.3,1230.6 376.3,1228.1 377.3,1225.6 378.3,1223.5 379.3,1221.6 380.3,1220.1 381.4,1218.9 382.4,1217.8 383.4,1216.8 384.4,1216.0 385.4,1215.4 386.4,1215.0 387.5,1215.0 388.5,1215.2 389.5,1215.7 390.5,1216.5 391.5,1217.5 392.5,1218.6 393.6,1219.8 394.6,1221.1 395.6,1222.7 396.6,1224.6 397.6,1226.7 398.7,1228.9 399.7,1231.1 400.7,1233.4 401.7,1235.5 402.7,1237.5 403.7,1239.4 404.8,1241.3 405.8,1243.2 406.8,1245.0 407.8,1246.8 408.8,1248.5 409.8,1250.2 410.9,1251.8 411.9,1253.4 412.9,1254.9 413.9,1256.4 414.9,1257.8 416.0,1259.1 417.0,1260.3 418.0,1261.4 419.0,1262.4 420.0,1263.3 421.0,1264.2 422.1,1265.0 423.1,1265.8 424.1,1266.5 425.1,1267.1 426.1,1267.7 427.1,1268.2 428.2,1268.8 429.2,1269.2 430.2,1269.7 431.2,1270.1 432.2,1270.4 433.2,1270.6" class="rl"/>
<path d="M328.8,1300.8 L328.8,1300.7 329.9,1300.4 330.9,1300.1 331.9,1299.7 332.9,1299.1 333.9,1298.5 334.9,1297.9 336.0,1297.2 337.0,1296.5 338.0,1295.6 339.0,1294.7 340.0,1293.6 341.1,1292.5 342.1,1291.3 343.1,1289.9 344.1,1288.5 345.1,1287.0 346.2,1285.3 347.2,1283.5 348.2,1281.5 349.2,1279.5 350.2,1277.5 351.2,1275.5 352.3,1273.7 353.3,1271.9 354.3,1270.3 355.3,1268.7 356.3,1267.2 357.4,1265.7 358.4,1264.3 359.4,1262.9 360.4,1261.5 361.4,1260.2 362.4,1258.8 363.5,1257.5 364.5,1256.2 365.5,1255.0 366.5,1253.8 367.5,1252.9 368.6,1252.1 369.6,1251.4 370.6,1250.8 371.6,1250.4 372.6,1250.2 373.7,1250.2 374.7,1250.4 375.7,1250.9 376.7,1251.6 377.7,1252.3 378.7,1253.3 379.8,1254.4 380.8,1255.7 381.8,1257.3 382.8,1258.9 383.8,1260.7 384.9,1262.5 385.9,1264.5 386.9,1266.5 387.9,1268.6 388.9,1270.7 390.0,1272.7 391.0,1274.8 392.0,1276.7 393.0,1278.6 394.0,1280.4 395.0,1282.2 396.1,1283.9 397.1,1285.6 398.1,1287.2 399.1,1288.7 400.1,1290.2 401.2,1291.7 402.2,1293.0 403.2,1294.3 404.2,1295.4 405.2,1296.4 406.2,1297.3 407.3,1298.1 408.3,1298.8 409.3,1299.4 410.3,1300.0 411.3,1300.4 412.4,1300.6 L412.4,1300.8 Z" fill="url(#gL3)"/>
<polyline points="328.8,1300.7 329.9,1300.4 330.9,1300.1 331.9,1299.7 332.9,1299.1 333.9,1298.5 334.9,1297.9 336.0,1297.2 337.0,1296.5 338.0,1295.6 339.0,1294.7 340.0,1293.6 341.1,1292.5 342.1,1291.3 343.1,1289.9 344.1,1288.5 345.1,1287.0 346.2,1285.3 347.2,1283.5 348.2,1281.5 349.2,1279.5 350.2,1277.5 351.2,1275.5 352.3,1273.7 353.3,1271.9 354.3,1270.3 355.3,1268.7 356.3,1267.2 357.4,1265.7 358.4,1264.3 359.4,1262.9 360.4,1261.5 361.4,1260.2 362.4,1258.8 363.5,1257.5 364.5,1256.2 365.5,1255.0 366.5,1253.8 367.5,1252.9 368.6,1252.1 369.6,1251.4 370.6,1250.8 371.6,1250.4 372.6,1250.2 373.7,1250.2 374.7,1250.4 375.7,1250.9 376.7,1251.6 377.7,1252.3 378.7,1253.3 379.8,1254.4 380.8,1255.7 381.8,1257.3 382.8,1258.9 383.8,1260.7 384.9,1262.5 385.9,1264.5 386.9,1266.5 387.9,1268.6 388.9,1270.7 390.0,1272.7 391.0,1274.8 392.0,1276.7 393.0,1278.6 394.0,1280.4 395.0,1282.2 396.1,1283.9 397.1,1285.6 398.1,1287.2 399.1,1288.7 400.1,1290.2 401.2,1291.7 402.2,1293.0 403.2,1294.3 404.2,1295.4 405.2,1296.4 406.2,1297.3 407.3,1298.1 408.3,1298.8 409.3,1299.4 410.3,1300.0 411.3,1300.4 412.4,1300.6" class="rl"/>
<path d="M327.3,1330.8 L327.3,1330.7 328.4,1330.4 329.4,1329.9 330.4,1329.3 331.4,1328.6 332.4,1327.7 333.4,1326.8 334.4,1325.7 335.5,1324.5 336.5,1323.1 337.5,1321.6 338.5,1319.8 339.5,1317.9 340.5,1315.8 341.5,1313.4 342.5,1310.7 343.6,1307.9 344.6,1305.1 345.6,1302.1 346.6,1299.0 347.6,1295.9 348.6,1292.9 349.6,1290.1 350.7,1287.4 351.7,1285.0 352.7,1282.8 353.7,1281.0 354.7,1279.6 355.7,1278.4 356.7,1277.5 357.7,1276.9 358.8,1276.5 359.8,1276.2 360.8,1276.0 361.8,1276.1 362.8,1276.6 363.8,1277.5 364.8,1278.7 365.9,1279.8 366.9,1280.9 367.9,1281.7 368.9,1282.5 369.9,1283.2 370.9,1283.9 371.9,1284.6 372.9,1285.4 374.0,1286.3 375.0,1287.2 376.0,1288.4 377.0,1289.7 378.0,1291.3 379.0,1293.0 380.0,1294.9 381.1,1296.8 382.1,1298.8 383.1,1300.9 384.1,1303.0 385.1,1305.3 386.1,1307.5 387.1,1309.8 388.2,1311.9 389.2,1313.9 390.2,1315.7 391.2,1317.3 392.2,1318.9 393.2,1320.4 394.2,1321.9 395.2,1323.1 396.3,1324.3 397.3,1325.3 398.3,1326.2 399.3,1327.0 400.3,1327.8 401.3,1328.5 402.3,1329.1 403.4,1329.7 404.4,1330.1 405.4,1330.5 406.4,1330.7 L406.4,1330.8 Z" fill="url(#gL3)"/>
<polyline points="327.3,1330.7 328.4,1330.4 329.4,1329.9 330.4,1329.3 331.4,1328.6 332.4,1327.7 333.4,1326.8 334.4,1325.7 335.5,1324.5 336.5,1323.1 337.5,1321.6 338.5,1319.8 339.5,1317.9 340.5,1315.8 341.5,1313.4 342.5,1310.7 343.6,1307.9 344.6,1305.1 345.6,1302.1 346.6,1299.0 347.6,1295.9 348.6,1292.9 349.6,1290.1 350.7,1287.4 351.7,1285.0 352.7,1282.8 353.7,1281.0 354.7,1279.6 355.7,1278.4 356.7,1277.5 357.7,1276.9 358.8,1276.5 359.8,1276.2 360.8,1276.0 361.8,1276.1 362.8,1276.6 363.8,1277.5 364.8,1278.7 365.9,1279.8 366.9,1280.9 367.9,1281.7 368.9,1282.5 369.9,1283.2 370.9,1283.9 371.9,1284.6 372.9,1285.4 374.0,1286.3 375.0,1287.2 376.0,1288.4 377.0,1289.7 378.0,1291.3 379.0,1293.0 380.0,1294.9 381.1,1296.8 382.1,1298.8 383.1,1300.9 384.1,1303.0 385.1,1305.3 386.1,1307.5 387.1,1309.8 388.2,1311.9 389.2,1313.9 390.2,1315.7 391.2,1317.3 392.2,1318.9 393.2,1320.4 394.2,1321.9 395.2,1323.1 396.3,1324.3 397.3,1325.3 398.3,1326.2 399.3,1327.0 400.3,1327.8 401.3,1328.5 402.3,1329.1 403.4,1329.7 404.4,1330.1 405.4,1330.5 406.4,1330.7" class="rl"/>
<path d="M334.3,1360.9 L334.3,1360.7 335.3,1360.4 336.3,1359.8 337.4,1359.0 338.4,1357.9 339.4,1356.6 340.4,1355.0 341.5,1353.1 342.5,1350.7 343.5,1347.8 344.5,1344.3 345.5,1340.2 346.6,1335.5 347.6,1330.2 348.6,1324.4 349.6,1318.3 350.6,1312.2 351.7,1306.3 352.7,1300.7 353.7,1295.3 354.7,1290.3 355.7,1285.6 356.8,1281.4 357.8,1277.9 358.8,1275.0 359.8,1273.1 360.8,1272.6 361.9,1273.4 362.9,1275.4 363.9,1278.3 364.9,1282.1 366.0,1286.8 367.0,1292.1 368.0,1297.9 369.0,1303.9 370.0,1309.7 371.1,1315.2 372.1,1320.3 373.1,1325.1 374.1,1329.6 375.1,1333.7 376.2,1337.5 377.2,1341.0 378.2,1344.2 379.2,1347.1 380.2,1349.5 381.3,1351.5 382.3,1353.1 383.3,1354.3 384.3,1355.3 385.4,1356.2 386.4,1357.0 387.4,1357.8 388.4,1358.5 389.4,1359.3 390.5,1360.0 391.5,1360.5 L391.5,1360.9 Z" fill="url(#gL3)"/>
<polyline points="334.3,1360.7 335.3,1360.4 336.3,1359.8 337.4,1359.0 338.4,1357.9 339.4,1356.6 340.4,1355.0 341.5,1353.1 342.5,1350.7 343.5,1347.8 344.5,1344.3 345.5,1340.2 346.6,1335.5 347.6,1330.2 348.6,1324.4 349.6,1318.3 350.6,1312.2 351.7,1306.3 352.7,1300.7 353.7,1295.3 354.7,1290.3 355.7,1285.6 356.8,1281.4 357.8,1277.9 358.8,1275.0 359.8,1273.1 360.8,1272.6 361.9,1273.4 362.9,1275.4 363.9,1278.3 364.9,1282.1 366.0,1286.8 367.0,1292.1 368.0,1297.9 369.0,1303.9 370.0,1309.7 371.1,1315.2 372.1,1320.3 373.1,1325.1 374.1,1329.6 375.1,1333.7 376.2,1337.5 377.2,1341.0 378.2,1344.2 379.2,1347.1 380.2,1349.5 381.3,1351.5 382.3,1353.1 383.3,1354.3 384.3,1355.3 385.4,1356.2 386.4,1357.0 387.4,1357.8 388.4,1358.5 389.4,1359.3 390.5,1360.0 391.5,1360.5" class="rl"/>
<path d="M341.3,1391.0 L341.3,1390.8 342.3,1390.6 343.3,1390.1 344.3,1389.4 345.4,1388.5 346.4,1387.4 347.4,1386.1 348.4,1384.4 349.4,1382.4 350.5,1380.1 351.5,1377.6 352.5,1374.9 353.5,1371.8 354.5,1368.3 355.6,1364.1 356.6,1359.3 357.6,1353.6 358.6,1347.6 359.7,1341.4 360.7,1335.4 361.7,1330.1 362.7,1325.8 363.7,1322.3 364.8,1319.5 365.8,1317.2 366.8,1315.3 367.8,1314.2 368.8,1313.8 369.9,1314.4 370.9,1315.6 371.9,1317.5 372.9,1320.1 374.0,1323.4 375.0,1327.5 376.0,1331.9 377.0,1336.5 378.0,1341.1 379.1,1345.8 380.1,1350.3 381.1,1354.6 382.1,1358.8 383.1,1362.6 384.2,1365.9 385.2,1368.6 386.2,1370.8 387.2,1372.8 388.3,1374.4 389.3,1375.8 390.3,1377.0 391.3,1378.1 392.3,1379.0 393.4,1379.8 394.4,1380.5 395.4,1381.1 396.4,1381.5 397.5,1381.9 398.5,1382.2 399.5,1382.5 400.5,1382.9 401.5,1383.3 402.6,1383.8 403.6,1384.3 404.6,1384.9 405.6,1385.5 406.6,1386.1 407.7,1386.7 408.7,1387.3 409.7,1387.9 410.7,1388.4 411.8,1388.9 412.8,1389.4 413.8,1389.9 414.8,1390.4 415.8,1390.7 L415.8,1391.0 Z" fill="url(#gL3)"/>
<polyline points="341.3,1390.8 342.3,1390.6 343.3,1390.1 344.3,1389.4 345.4,1388.5 346.4,1387.4 347.4,1386.1 348.4,1384.4 349.4,1382.4 350.5,1380.1 351.5,1377.6 352.5,1374.9 353.5,1371.8 354.5,1368.3 355.6,1364.1 356.6,1359.3 357.6,1353.6 358.6,1347.6 359.7,1341.4 360.7,1335.4 361.7,1330.1 362.7,1325.8 363.7,1322.3 364.8,1319.5 365.8,1317.2 366.8,1315.3 367.8,1314.2 368.8,1313.8 369.9,1314.4 370.9,1315.6 371.9,1317.5 372.9,1320.1 374.0,1323.4 375.0,1327.5 376.0,1331.9 377.0,1336.5 378.0,1341.1 379.1,1345.8 380.1,1350.3 381.1,1354.6 382.1,1358.8 383.1,1362.6 384.2,1365.9 385.2,1368.6 386.2,1370.8 387.2,1372.8 388.3,1374.4 389.3,1375.8 390.3,1377.0 391.3,1378.1 392.3,1379.0 393.4,1379.8 394.4,1380.5 395.4,1381.1 396.4,1381.5 397.5,1381.9 398.5,1382.2 399.5,1382.5 400.5,1382.9 401.5,1383.3 402.6,1383.8 403.6,1384.3 404.6,1384.9 405.6,1385.5 406.6,1386.1 407.7,1386.7 408.7,1387.3 409.7,1387.9 410.7,1388.4 411.8,1388.9 412.8,1389.4 413.8,1389.9 414.8,1390.4 415.8,1390.7" class="rl"/>
<path d="M298.9,1421.0 L298.9,1420.7 299.9,1420.3 300.9,1419.8 301.9,1419.1 302.9,1418.4 303.9,1417.6 304.9,1416.8 306.0,1415.9 307.0,1414.9 308.0,1413.8 309.0,1412.8 310.0,1411.7 311.0,1410.8 312.0,1410.0 313.0,1409.2 314.1,1408.5 315.1,1407.9 316.1,1407.4 317.1,1407.0 318.1,1406.6 319.1,1406.3 320.1,1406.1 321.2,1405.9 322.2,1405.9 323.2,1406.0 324.2,1406.3 325.2,1406.7 326.2,1407.2 327.2,1407.6 328.2,1407.9 329.3,1408.1 330.3,1408.2 331.3,1408.3 332.3,1408.4 333.3,1408.5 334.3,1408.5 335.3,1408.5 336.3,1408.4 337.4,1408.2 338.4,1407.8 339.4,1407.1 340.4,1406.2 341.4,1405.0 342.4,1403.4 343.4,1401.2 344.4,1398.6 345.5,1395.7 346.5,1392.5 347.5,1389.0 348.5,1385.2 349.5,1381.4 350.5,1377.6 351.5,1373.8 352.6,1370.2 353.6,1366.8 354.6,1363.8 355.6,1361.4 356.6,1359.3 357.6,1357.6 358.6,1356.3 359.6,1355.5 360.7,1355.5 361.7,1356.1 362.7,1357.2 363.7,1358.9 364.7,1361.2 365.7,1364.3 366.7,1368.1 367.7,1372.5 368.8,1377.3 369.8,1382.1 370.8,1387.0 371.8,1391.7 372.8,1395.8 373.8,1399.4 374.8,1402.6 375.8,1405.5 376.9,1408.1 377.9,1410.4 378.9,1412.6 379.9,1414.5 380.9,1416.1 381.9,1417.4 382.9,1418.5 383.9,1419.4 385.0,1420.1 386.0,1420.6 387.0,1420.9 L387.0,1421.0 Z" fill="url(#gL3)"/>
<polyline points="298.9,1420.7 299.9,1420.3 300.9,1419.8 301.9,1419.1 302.9,1418.4 303.9,1417.6 304.9,1416.8 306.0,1415.9 307.0,1414.9 308.0,1413.8 309.0,1412.8 310.0,1411.7 311.0,1410.8 312.0,1410.0 313.0,1409.2 314.1,1408.5 315.1,1407.9 316.1,1407.4 317.1,1407.0 318.1,1406.6 319.1,1406.3 320.1,1406.1 321.2,1405.9 322.2,1405.9 323.2,1406.0 324.2,1406.3 325.2,1406.7 326.2,1407.2 327.2,1407.6 328.2,1407.9 329.3,1408.1 330.3,1408.2 331.3,1408.3 332.3,1408.4 333.3,1408.5 334.3,1408.5 335.3,1408.5 336.3,1408.4 337.4,1408.2 338.4,1407.8 339.4,1407.1 340.4,1406.2 341.4,1405.0 342.4,1403.4 343.4,1401.2 344.4,1398.6 345.5,1395.7 346.5,1392.5 347.5,1389.0 348.5,1385.2 349.5,1381.4 350.5,1377.6 351.5,1373.8 352.6,1370.2 353.6,1366.8 354.6,1363.8 355.6,1361.4 356.6,1359.3 357.6,1357.6 358.6,1356.3 359.6,1355.5 360.7,1355.5 361.7,1356.1 362.7,1357.2 363.7,1358.9 364.7,1361.2 365.7,1364.3 366.7,1368.1 367.7,1372.5 368.8,1377.3 369.8,1382.1 370.8,1387.0 371.8,1391.7 372.8,1395.8 373.8,1399.4 374.8,1402.6 375.8,1405.5 376.9,1408.1 377.9,1410.4 378.9,1412.6 379.9,1414.5 380.9,1416.1 381.9,1417.4 382.9,1418.5 383.9,1419.4 385.0,1420.1 386.0,1420.6 387.0,1420.9" class="rl"/>
<path d="M269.1,1451.0 L269.1,1450.9 270.2,1450.7 271.2,1450.3 272.2,1449.7 273.2,1449.0 274.2,1448.2 275.3,1447.2 276.3,1446.1 277.3,1444.8 278.3,1443.3 279.4,1441.6 280.4,1439.6 281.4,1437.3 282.4,1434.7 283.5,1431.6 284.5,1428.1 285.5,1424.4 286.5,1420.5 287.5,1416.5 288.6,1412.4 289.6,1408.3 290.6,1404.2 291.6,1400.3 292.7,1396.6 293.7,1393.3 294.7,1390.4 295.7,1388.3 296.8,1386.9 297.8,1386.1 298.8,1386.0 299.8,1386.5 300.8,1387.6 301.9,1389.0 302.9,1390.9 303.9,1393.0 304.9,1395.1 306.0,1397.1 307.0,1399.1 308.0,1401.0 309.0,1402.8 310.1,1404.4 311.1,1406.0 312.1,1407.5 313.1,1409.1 314.2,1410.7 315.2,1412.6 316.2,1414.6 317.2,1416.8 318.2,1419.2 319.3,1421.6 320.3,1424.3 321.3,1427.0 322.3,1429.8 323.4,1432.4 324.4,1434.9 325.4,1437.3 326.4,1439.5 327.5,1441.5 328.5,1443.3 329.5,1444.9 330.5,1446.2 331.5,1447.3 332.6,1448.3 333.6,1449.1 334.6,1449.8 335.6,1450.3 336.7,1450.7 337.7,1450.9 L337.7,1451.0 Z" fill="url(#gL3)"/>
<polyline points="269.1,1450.9 270.2,1450.7 271.2,1450.3 272.2,1449.7 273.2,1449.0 274.2,1448.2 275.3,1447.2 276.3,1446.1 277.3,1444.8 278.3,1443.3 279.4,1441.6 280.4,1439.6 281.4,1437.3 282.4,1434.7 283.5,1431.6 284.5,1428.1 285.5,1424.4 286.5,1420.5 287.5,1416.5 288.6,1412.4 289.6,1408.3 290.6,1404.2 291.6,1400.3 292.7,1396.6 293.7,1393.3 294.7,1390.4 295.7,1388.3 296.8,1386.9 297.8,1386.1 298.8,1386.0 299.8,1386.5 300.8,1387.6 301.9,1389.0 302.9,1390.9 303.9,1393.0 304.9,1395.1 306.0,1397.1 307.0,1399.1 308.0,1401.0 309.0,1402.8 310.1,1404.4 311.1,1406.0 312.1,1407.5 313.1,1409.1 314.2,1410.7 315.2,1412.6 316.2,1414.6 317.2,1416.8 318.2,1419.2 319.3,1421.6 320.3,1424.3 321.3,1427.0 322.3,1429.8 323.4,1432.4 324.4,1434.9 325.4,1437.3 326.4,1439.5 327.5,1441.5 328.5,1443.3 329.5,1444.9 330.5,1446.2 331.5,1447.3 332.6,1448.3 333.6,1449.1 334.6,1449.8 335.6,1450.3 336.7,1450.7 337.7,1450.9" class="rl"/>
<path d="M233.6,1064.1V1078.4M233.6,1094.6V1110.7M233.6,1127.0V1143.1M233.6,1159.3V1175.4M233.6,1191.7V1207.8M233.6,1224.0V1240.1M233.6,1256.4V1272.5M233.6,1288.8V1304.8M233.6,1321.1V1337.2M233.6,1353.5V1369.5M233.6,1385.8V1401.9M233.6,1418.2V1434.2M233.6,1450.5V1466.6" stroke="#ff0000" stroke-width="4.1" fill="none"/>
<path d="M600.8,1064.1V1078.4M600.8,1094.6V1110.7M600.8,1127.0V1143.1M600.8,1159.3V1175.4M600.8,1191.7V1207.8M600.8,1224.0V1240.1M600.8,1256.4V1272.5M600.8,1288.8V1304.8M600.8,1321.1V1337.2M600.8,1353.5V1369.5M600.8,1385.8V1401.9M600.8,1418.2V1434.2M600.8,1450.5V1466.6" stroke="#0000f0" stroke-width="4.1" fill="none"/>
<text transform="translate(88.5,1045.7) scale(0.947,1)" font-size="31.5" class="b">2021</text>
<text transform="translate(66.2,1120.9) scale(0.98,1)" font-size="21.7" text-anchor="end" class="b">J</text>
<text transform="translate(66.2,1151.0) scale(0.98,1)" font-size="21.7" text-anchor="end" class="b">F</text>
<text transform="translate(66.2,1181.0) scale(0.98,1)" font-size="21.7" text-anchor="end" class="b">M</text>
<text transform="translate(66.2,1211.1) scale(0.98,1)" font-size="21.7" text-anchor="end" class="b">A</text>
<text transform="translate(66.2,1241.1) scale(0.98,1)" font-size="21.7" text-anchor="end" class="b">M</text>
<text transform="translate(66.2,1271.2) scale(0.98,1)" font-size="21.7" text-anchor="end" class="b">J</text>
<text transform="translate(66.2,1301.2) scale(0.98,1)" font-size="21.7" text-anchor="end" class="b">J</text>
<text transform="translate(66.2,1331.2) scale(0.98,1)" font-size="21.7" text-anchor="end" class="b">A</text>
<text transform="translate(66.2,1361.3) scale(0.98,1)" font-size="21.7" text-anchor="end" class="b">S</text>
<text transform="translate(66.2,1391.4) scale(0.98,1)" font-size="21.7" text-anchor="end" class="b">O</text>
<text transform="translate(66.2,1421.4) scale(0.98,1)" font-size="21.7" text-anchor="end" class="b">N</text>
<text transform="translate(66.2,1451.5) scale(0.98,1)" font-size="21.7" text-anchor="end" class="b">D</text></g>
<g id="L4"><line x1="111.2" y1="1549.5" x2="111.2" y2="1927.7" class="vg"/>
<line x1="233.6" y1="1549.5" x2="233.6" y2="1927.7" class="vg"/>
<line x1="356.0" y1="1549.5" x2="356.0" y2="1927.7" class="vg"/>
<line x1="478.4" y1="1549.5" x2="478.4" y2="1927.7" class="vg"/>
<line x1="600.8" y1="1549.5" x2="600.8" y2="1927.7" class="vg"/>
<line x1="723.2" y1="1549.5" x2="723.2" y2="1927.7" class="vg"/>
<line x1="71.5" y1="1625.3" x2="754.5" y2="1625.3" class="hg"/>
<line x1="71.5" y1="1650.7" x2="754.5" y2="1650.7" class="hg"/>
<line x1="71.5" y1="1676.1" x2="754.5" y2="1676.1" class="hg"/>
<line x1="71.5" y1="1701.5" x2="754.5" y2="1701.5" class="hg"/>
<line x1="71.5" y1="1726.9" x2="754.5" y2="1726.9" class="hg"/>
<line x1="71.5" y1="1752.3" x2="754.5" y2="1752.3" class="hg"/>
<line x1="71.5" y1="1777.7" x2="754.5" y2="1777.7" class="hg"/>
<line x1="71.5" y1="1803.1" x2="754.5" y2="1803.1" class="hg"/>
<line x1="71.5" y1="1828.5" x2="754.5" y2="1828.5" class="hg"/>
<line x1="71.5" y1="1853.9" x2="754.5" y2="1853.9" class="hg"/>
<line x1="71.5" y1="1879.3" x2="754.5" y2="1879.3" class="hg"/>
<line x1="71.5" y1="1904.7" x2="754.5" y2="1904.7" class="hg"/>
<path d="M240.4,1625.3 L240.4,1625.2 241.5,1625.1 242.5,1624.9 243.5,1624.7 244.5,1624.4 245.5,1624.0 246.6,1623.6 247.6,1623.1 248.6,1622.6 249.6,1622.1 250.6,1621.5 251.6,1620.9 252.7,1620.1 253.7,1619.3 254.7,1618.3 255.7,1617.3 256.7,1616.3 257.8,1615.2 258.8,1614.1 259.8,1612.9 260.8,1611.6 261.8,1610.2 262.8,1608.7 263.9,1607.2 264.9,1605.6 265.9,1604.0 266.9,1602.3 267.9,1600.6 269.0,1598.9 270.0,1597.2 271.0,1595.4 272.0,1593.6 273.0,1591.7 274.0,1589.8 275.1,1587.9 276.1,1586.0 277.1,1584.0 278.1,1582.0 279.1,1580.0 280.2,1577.9 281.2,1575.8 282.2,1573.7 283.2,1571.6 284.2,1569.5 285.2,1567.5 286.3,1565.6 287.3,1563.7 288.3,1561.9 289.3,1560.1 290.3,1558.3 291.4,1556.6 292.4,1555.0 293.4,1553.7 294.4,1552.7 295.4,1551.9 296.5,1551.4 297.5,1550.9 298.5,1550.6 299.5,1550.5 300.5,1550.5 301.5,1550.6 302.6,1550.8 303.6,1551.2 304.6,1551.7 305.6,1552.6 306.6,1553.9 307.7,1555.7 308.7,1558.0 309.7,1560.5 310.7,1563.1 311.7,1565.8 312.7,1568.7 313.8,1571.7 314.8,1574.9 315.8,1578.0 316.8,1581.2 317.8,1584.4 318.9,1587.6 319.9,1590.8 320.9,1593.9 321.9,1596.9 322.9,1599.7 323.9,1602.2 325.0,1604.6 326.0,1606.8 327.0,1608.9 328.0,1610.8 329.0,1612.5 330.1,1614.0 331.1,1615.4 332.1,1616.8 333.1,1618.0 334.1,1619.1 335.1,1620.1 336.2,1621.0 337.2,1621.8 338.2,1622.4 339.2,1623.0 340.2,1623.6 341.3,1624.0 342.3,1624.5 343.3,1624.8 344.3,1625.1 345.3,1625.2 L345.3,1625.3 Z" fill="url(#gL4)"/>
<polyline points="240.4,1625.2 241.5,1625.1 242.5,1624.9 243.5,1624.7 244.5,1624.4 245.5,1624.0 246.6,1623.6 247.6,1623.1 248.6,1622.6 249.6,1622.1 250.6,1621.5 251.6,1620.9 252.7,1620.1 253.7,1619.3 254.7,1618.3 255.7,1617.3 256.7,1616.3 257.8,1615.2 258.8,1614.1 259.8,1612.9 260.8,1611.6 261.8,1610.2 262.8,1608.7 263.9,1607.2 264.9,1605.6 265.9,1604.0 266.9,1602.3 267.9,1600.6 269.0,1598.9 270.0,1597.2 271.0,1595.4 272.0,1593.6 273.0,1591.7 274.0,1589.8 275.1,1587.9 276.1,1586.0 277.1,1584.0 278.1,1582.0 279.1,1580.0 280.2,1577.9 281.2,1575.8 282.2,1573.7 283.2,1571.6 284.2,1569.5 285.2,1567.5 286.3,1565.6 287.3,1563.7 288.3,1561.9 289.3,1560.1 290.3,1558.3 291.4,1556.6 292.4,1555.0 293.4,1553.7 294.4,1552.7 295.4,1551.9 296.5,1551.4 297.5,1550.9 298.5,1550.6 299.5,1550.5 300.5,1550.5 301.5,1550.6 302.6,1550.8 303.6,1551.2 304.6,1551.7 305.6,1552.6 306.6,1553.9 307.7,1555.7 308.7,1558.0 309.7,1560.5 310.7,1563.1 311.7,1565.8 312.7,1568.7 313.8,1571.7 314.8,1574.9 315.8,1578.0 316.8,1581.2 317.8,1584.4 318.9,1587.6 319.9,1590.8 320.9,1593.9 321.9,1596.9 322.9,1599.7 323.9,1602.2 325.0,1604.6 326.0,1606.8 327.0,1608.9 328.0,1610.8 329.0,1612.5 330.1,1614.0 331.1,1615.4 332.1,1616.8 333.1,1618.0 334.1,1619.1 335.1,1620.1 336.2,1621.0 337.2,1621.8 338.2,1622.4 339.2,1623.0 340.2,1623.6 341.3,1624.0 342.3,1624.5 343.3,1624.8 344.3,1625.1 345.3,1625.2" class="rl"/>
<path d="M291.5,1650.7 L291.5,1650.6 292.5,1650.5 293.5,1650.3 294.5,1650.0 295.5,1649.7 296.5,1649.4 297.5,1649.0 298.5,1648.6 299.5,1648.2 300.5,1647.8 301.5,1647.3 302.6,1646.8 303.6,1646.2 304.6,1645.6 305.6,1644.9 306.6,1644.1 307.6,1643.3 308.6,1642.6 309.6,1641.8 310.6,1641.0 311.6,1640.2 312.6,1639.5 313.6,1638.9 314.6,1638.3 315.6,1637.7 316.7,1637.2 317.7,1636.7 318.7,1636.2 319.7,1635.7 320.7,1635.2 321.7,1634.7 322.7,1634.2 323.7,1633.7 324.7,1633.3 325.7,1632.8 326.7,1632.3 327.7,1631.8 328.7,1631.3 329.7,1630.8 330.8,1630.3 331.8,1629.8 332.8,1629.4 333.8,1628.9 334.8,1628.4 335.8,1627.9 336.8,1627.3 337.8,1626.8 338.8,1626.2 339.8,1625.6 340.8,1625.0 341.8,1624.3 342.8,1623.6 343.8,1622.8 344.9,1622.1 345.9,1621.4 346.9,1620.7 347.9,1620.1 348.9,1619.5 349.9,1619.0 350.9,1618.5 351.9,1618.0 352.9,1617.6 353.9,1617.2 354.9,1616.8 355.9,1616.4 356.9,1616.2 357.9,1616.0 359.0,1615.8 360.0,1615.8 361.0,1615.9 362.0,1616.0 363.0,1616.1 364.0,1616.2 365.0,1616.4 366.0,1616.6 367.0,1616.7 368.0,1616.9 369.0,1617.1 370.0,1617.2 371.0,1617.4 372.0,1617.5 373.0,1617.7 374.1,1617.9 375.1,1618.0 376.1,1618.1 377.1,1618.2 378.1,1618.2 379.1,1618.1 380.1,1618.0 381.1,1617.7 382.1,1617.4 383.1,1617.0 384.1,1616.6 385.1,1616.1 386.1,1615.7 387.1,1615.3 388.2,1614.9 389.2,1614.5 390.2,1614.1 391.2,1613.7 392.2,1613.3 393.2,1612.9 394.2,1612.5 395.2,1612.3 396.2,1612.1 397.2,1612.1 398.2,1612.2 399.2,1612.4 400.2,1612.7 401.2,1613.1 402.3,1613.5 403.3,1614.0 404.3,1614.6 405.3,1615.4 406.3,1616.4 407.3,1617.5 408.3,1618.7 409.3,1619.9 410.3,1621.1 411.3,1622.3 412.3,1623.6 413.3,1624.8 414.3,1626.1 415.3,1627.5 416.4,1628.8 417.4,1630.1 418.4,1631.4 419.4,1632.6 420.4,1633.8 421.4,1634.9 422.4,1635.9 423.4,1637.0 424.4,1638.0 425.4,1639.0 426.4,1639.9 427.4,1640.8 428.4,1641.6 429.4,1642.4 430.5,1643.1 431.5,1643.8 432.5,1644.4 433.5,1645.1 434.5,1645.7 435.5,1646.3 436.5,1646.8 437.5,1647.3 438.5,1647.7 439.5,1648.1 440.5,1648.5 441.5,1648.8 442.5,1649.1 443.5,1649.4 444.6,1649.7 445.6,1650.0 446.6,1650.2 447.6,1650.4 448.6,1650.5 449.6,1650.6 L449.6,1650.7 Z" fill="url(#gL4)"/>
<polyline points="291.5,1650.6 292.5,1650.5 293.5,1650.3 294.5,1650.0 295.5,1649.7 296.5,1649.4 297.5,1649.0 298.5,1648.6 299.5,1648.2 300.5,1647.8 301.5,1647.3 302.6,1646.8 303.6,1646.2 304.6,1645.6 305.6,1644.9 306.6,1644.1 307.6,1643.3 308.6,1642.6 309.6,1641.8 310.6,1641.0 311.6,1640.2 312.6,1639.5 313.6,1638.9 314.6,1638.3 315.6,1637.7 316.7,1637.2 317.7,1636.7 318.7,1636.2 319.7,1635.7 320.7,1635.2 321.7,1634.7 322.7,1634.2 323.7,1633.7 324.7,1633.3 325.7,1632.8 326.7,1632.3 327.7,1631.8 328.7,1631.3 329.7,1630.8 330.8,1630.3 331.8,1629.8 332.8,1629.4 333.8,1628.9 334.8,1628.4 335.8,1627.9 336.8,1627.3 337.8,1626.8 338.8,1626.2 339.8,1625.6 340.8,1625.0 341.8,1624.3 342.8,1623.6 343.8,1622.8 344.9,1622.1 345.9,1621.4 346.9,1620.7 347.9,1620.1 348.9,1619.5 349.9,1619.0 350.9,1618.5 351.9,1618.0 352.9,1617.6 353.9,1617.2 354.9,1616.8 355.9,1616.4 356.9,1616.2 357.9,1616.0 359.0,1615.8 360.0,1615.8 361.0,1615.9 362.0,1616.0 363.0,1616.1 364.0,1616.2 365.0,1616.4 366.0,1616.6 367.0,1616.7 368.0,1616.9 369.0,1617.1 370.0,1617.2 371.0,1617.4 372.0,1617.5 373.0,1617.7 374.1,1617.9 375.1,1618.0 376.1,1618.1 377.1,1618.2 378.1,1618.2 379.1,1618.1 380.1,1618.0 381.1,1617.7 382.1,1617.4 383.1,1617.0 384.1,1616.6 385.1,1616.1 386.1,1615.7 387.1,1615.3 388.2,1614.9 389.2,1614.5 390.2,1614.1 391.2,1613.7 392.2,1613.3 393.2,1612.9 394.2,1612.5 395.2,1612.3 396.2,1612.1 397.2,1612.1 398.2,1612.2 399.2,1612.4 400.2,1612.7 401.2,1613.1 402.3,1613.5 403.3,1614.0 404.3,1614.6 405.3,1615.4 406.3,1616.4 407.3,1617.5 408.3,1618.7 409.3,1619.9 410.3,1621.1 411.3,1622.3 412.3,1623.6 413.3,1624.8 414.3,1626.1 415.3,1627.5 416.4,1628.8 417.4,1630.1 418.4,1631.4 419.4,1632.6 420.4,1633.8 421.4,1634.9 422.4,1635.9 423.4,1637.0 424.4,1638.0 425.4,1639.0 426.4,1639.9 427.4,1640.8 428.4,1641.6 429.4,1642.4 430.5,1643.1 431.5,1643.8 432.5,1644.4 433.5,1645.1 434.5,1645.7 435.5,1646.3 436.5,1646.8 437.5,1647.3 438.5,1647.7 439.5,1648.1 440.5,1648.5 441.5,1648.8 442.5,1649.1 443.5,1649.4 444.6,1649.7 445.6,1650.0 446.6,1650.2 447.6,1650.4 448.6,1650.5 449.6,1650.6" class="rl"/>
<path d="M361.9,1676.1 L361.9,1676.0 362.9,1675.9 363.9,1675.6 364.9,1675.3 366.0,1674.9 367.0,1674.5 368.0,1673.9 369.0,1673.4 370.0,1672.7 371.0,1672.1 372.0,1671.4 373.0,1670.6 374.0,1669.7 375.0,1668.6 376.0,1667.5 377.0,1666.3 378.1,1665.0 379.1,1663.6 380.1,1662.3 381.1,1660.8 382.1,1659.4 383.1,1657.8 384.1,1656.1 385.1,1654.4 386.1,1652.7 387.1,1651.0 388.1,1649.5 389.1,1648.1 390.2,1646.8 391.2,1645.5 392.2,1644.3 393.2,1643.2 394.2,1642.2 395.2,1641.3 396.2,1640.7 397.2,1640.2 398.2,1639.8 399.2,1639.6 400.2,1639.3 401.2,1639.1 402.3,1639.0 403.3,1639.0 404.3,1639.2 405.3,1639.5 406.3,1639.9 407.3,1640.4 408.3,1641.0 409.3,1641.7 410.3,1642.5 411.3,1643.5 412.3,1644.6 413.3,1645.9 414.4,1647.2 415.4,1648.6 416.4,1649.9 417.4,1651.2 418.4,1652.5 419.4,1653.7 420.4,1655.0 421.4,1656.3 422.4,1657.6 423.4,1658.8 424.4,1659.9 425.4,1660.9 426.5,1661.8 427.5,1662.6 428.5,1663.3 429.5,1664.0 430.5,1664.7 431.5,1665.3 432.5,1665.9 433.5,1666.4 434.5,1666.8 435.5,1667.2 436.5,1667.5 437.5,1667.7 438.6,1667.8 439.6,1667.9 440.6,1668.0 441.6,1668.1 442.6,1668.2 443.6,1668.2 444.6,1668.3 445.6,1668.3 446.6,1668.3 447.6,1668.3 448.6,1668.3 449.6,1668.3 450.7,1668.1 451.7,1667.9 452.7,1667.7 453.7,1667.3 454.7,1667.0 455.7,1666.6 456.7,1666.2 457.7,1665.8 458.7,1665.4 459.7,1665.1 460.7,1664.8 461.7,1664.4 462.8,1664.1 463.8,1663.8 464.8,1663.5 465.8,1663.2 466.8,1662.9 467.8,1662.5 468.8,1662.2 469.8,1661.9 470.8,1661.7 471.8,1661.4 472.8,1661.2 473.8,1661.0 474.9,1660.8 475.9,1660.7 476.9,1660.6 477.9,1660.5 478.9,1660.4 479.9,1660.4 480.9,1660.3 481.9,1660.3 482.9,1660.3 483.9,1660.2 484.9,1660.2 485.9,1660.2 487.0,1660.2 488.0,1660.1 489.0,1660.1 490.0,1660.0 491.0,1660.0 492.0,1659.9 493.0,1659.8 494.0,1659.7 495.0,1659.6 496.0,1659.4 497.0,1659.1 498.0,1658.9 499.1,1658.6 500.1,1658.3 501.1,1658.0 502.1,1657.7 503.1,1657.4 504.1,1657.1 505.1,1656.8 506.1,1656.6 507.1,1656.3 508.1,1656.1 509.1,1655.8 510.1,1655.6 511.2,1655.3 512.2,1655.1 513.2,1654.8 514.2,1654.6 515.2,1654.5 516.2,1654.4 517.2,1654.3 518.2,1654.3 519.2,1654.3 520.2,1654.4 521.2,1654.4 522.2,1654.5 523.3,1654.5 524.3,1654.6 525.3,1654.7 526.3,1654.8 527.3,1655.0 528.3,1655.2 529.3,1655.5 530.3,1655.8 531.3,1656.1 532.3,1656.6 533.3,1657.0 534.3,1657.4 535.4,1657.9 536.4,1658.4 537.4,1658.9 538.4,1659.4 539.4,1659.9 540.4,1660.5 541.4,1661.1 542.4,1661.7 543.4,1662.3 544.4,1662.9 545.4,1663.5 546.4,1664.2 547.5,1664.8 548.5,1665.5 549.5,1666.2 550.5,1666.9 551.5,1667.6 552.5,1668.3 553.5,1668.9 554.5,1669.6 555.5,1670.2 556.5,1670.7 557.5,1671.3 558.5,1671.8 559.6,1672.4 560.6,1672.9 561.6,1673.4 562.6,1673.9 563.6,1674.4 564.6,1674.8 565.6,1675.2 566.6,1675.6 567.6,1675.9 L567.6,1676.1 Z" fill="url(#gL4)"/>
<polyline points="361.9,1676.0 362.9,1675.9 363.9,1675.6 364.9,1675.3 366.0,1674.9 367.0,1674.5 368.0,1673.9 369.0,1673.4 370.0,1672.7 371.0,1672.1 372.0,1671.4 373.0,1670.6 374.0,1669.7 375.0,1668.6 376.0,1667.5 377.0,1666.3 378.1,1665.0 379.1,1663.6 380.1,1662.3 381.1,1660.8 382.1,1659.4 383.1,1657.8 384.1,1656.1 385.1,1654.4 386.1,1652.7 387.1,1651.0 388.1,1649.5 389.1,1648.1 390.2,1646.8 391.2,1645.5 392.2,1644.3 393.2,1643.2 394.2,1642.2 395.2,1641.3 396.2,1640.7 397.2,1640.2 398.2,1639.8 399.2,1639.6 400.2,1639.3 401.2,1639.1 402.3,1639.0 403.3,1639.0 404.3,1639.2 405.3,1639.5 406.3,1639.9 407.3,1640.4 408.3,1641.0 409.3,1641.7 410.3,1642.5 411.3,1643.5 412.3,1644.6 413.3,1645.9 414.4,1647.2 415.4,1648.6 416.4,1649.9 417.4,1651.2 418.4,1652.5 419.4,1653.7 420.4,1655.0 421.4,1656.3 422.4,1657.6 423.4,1658.8 424.4,1659.9 425.4,1660.9 426.5,1661.8 427.5,1662.6 428.5,1663.3 429.5,1664.0 430.5,1664.7 431.5,1665.3 432.5,1665.9 433.5,1666.4 434.5,1666.8 435.5,1667.2 436.5,1667.5 437.5,1667.7 438.6,1667.8 439.6,1667.9 440.6,1668.0 441.6,1668.1 442.6,1668.2 443.6,1668.2 444.6,1668.3 445.6,1668.3 446.6,1668.3 447.6,1668.3 448.6,1668.3 449.6,1668.3 450.7,1668.1 451.7,1667.9 452.7,1667.7 453.7,1667.3 454.7,1667.0 455.7,1666.6 456.7,1666.2 457.7,1665.8 458.7,1665.4 459.7,1665.1 460.7,1664.8 461.7,1664.4 462.8,1664.1 463.8,1663.8 464.8,1663.5 465.8,1663.2 466.8,1662.9 467.8,1662.5 468.8,1662.2 469.8,1661.9 470.8,1661.7 471.8,1661.4 472.8,1661.2 473.8,1661.0 474.9,1660.8 475.9,1660.7 476.9,1660.6 477.9,1660.5 478.9,1660.4 479.9,1660.4 480.9,1660.3 481.9,1660.3 482.9,1660.3 483.9,1660.2 484.9,1660.2 485.9,1660.2 487.0,1660.2 488.0,1660.1 489.0,1660.1 490.0,1660.0 491.0,1660.0 492.0,1659.9 493.0,1659.8 494.0,1659.7 495.0,1659.6 496.0,1659.4 497.0,1659.1 498.0,1658.9 499.1,1658.6 500.1,1658.3 501.1,1658.0 502.1,1657.7 503.1,1657.4 504.1,1657.1 505.1,1656.8 506.1,1656.6 507.1,1656.3 508.1,1656.1 509.1,1655.8 510.1,1655.6 511.2,1655.3 512.2,1655.1 513.2,1654.8 514.2,1654.6 515.2,1654.5 516.2,1654.4 517.2,1654.3 518.2,1654.3 519.2,1654.3 520.2,1654.4 521.2,1654.4 522.2,1654.5 523.3,1654.5 524.3,1654.6 525.3,1654.7 526.3,1654.8 527.3,1655.0 528.3,1655.2 529.3,1655.5 530.3,1655.8 531.3,1656.1 532.3,1656.6 533.3,1657.0 534.3,1657.4 535.4,1657.9 536.4,1658.4 537.4,1658.9 538.4,1659.4 539.4,1659.9 540.4,1660.5 541.4,1661.1 542.4,1661.7 543.4,1662.3 544.4,1662.9 545.4,1663.5 546.4,1664.2 547.5,1664.8 548.5,1665.5 549.5,1666.2 550.5,1666.9 551.5,1667.6 552.5,1668.3 553.5,1668.9 554.5,1669.6 555.5,1670.2 556.5,1670.7 557.5,1671.3 558.5,1671.8 559.6,1672.4 560.6,1672.9 561.6,1673.4 562.6,1673.9 563.6,1674.4 564.6,1674.8 565.6,1675.2 566.6,1675.6 567.6,1675.9" class="rl"/>
<path d="M508.1,1701.5 L508.1,1701.4 509.1,1701.2 510.2,1700.9 511.2,1700.6 512.2,1700.3 513.2,1699.9 514.2,1699.5 515.2,1699.1 516.2,1698.7 517.2,1698.2 518.2,1697.7 519.2,1697.2 520.2,1696.5 521.3,1695.9 522.3,1695.2 523.3,1694.4 524.3,1693.7 525.3,1692.9 526.3,1692.2 527.3,1691.5 528.3,1690.8 529.3,1690.1 530.3,1689.5 531.4,1688.9 532.4,1688.3 533.4,1687.7 534.4,1687.2 535.4,1686.6 536.4,1686.1 537.4,1685.6 538.4,1685.1 539.4,1684.6 540.4,1684.2 541.4,1683.8 542.5,1683.5 543.5,1683.2 544.5,1682.9 545.5,1682.7 546.5,1682.4 547.5,1682.2 548.5,1682.0 549.5,1681.8 550.5,1681.6 551.5,1681.4 552.6,1681.1 553.6,1680.9 554.6,1680.6 555.6,1680.2 556.6,1679.9 557.6,1679.5 558.6,1679.1 559.6,1678.6 560.6,1678.2 561.6,1677.7 562.6,1677.2 563.7,1676.6 564.7,1676.0 565.7,1675.4 566.7,1674.7 567.7,1673.9 568.7,1673.0 569.7,1672.1 570.7,1671.2 571.7,1670.2 572.7,1669.3 573.7,1668.3 574.8,1667.4 575.8,1666.5 576.8,1665.6 577.8,1664.7 578.8,1663.7 579.8,1662.8 580.8,1661.8 581.8,1660.9 582.8,1660.0 583.8,1659.2 584.9,1658.5 585.9,1657.8 586.9,1657.1 587.9,1656.5 588.9,1655.9 589.9,1655.4 590.9,1654.8 591.9,1654.4 592.9,1654.0 593.9,1653.7 594.9,1653.5 596.0,1653.4 597.0,1653.4 598.0,1653.4 599.0,1653.5 600.0,1653.7 601.0,1653.8 602.0,1654.0 603.0,1654.2 604.0,1654.5 605.0,1654.9 606.1,1655.5 607.1,1656.3 608.1,1657.2 609.1,1658.1 610.1,1659.1 611.1,1660.2 612.1,1661.4 613.1,1662.6 614.1,1664.0 615.1,1665.6 616.1,1667.2 617.2,1668.8 618.2,1670.4 619.2,1672.1 620.2,1673.6 621.2,1675.1 622.2,1676.6 623.2,1678.1 624.2,1679.5 625.2,1681.0 626.2,1682.4 627.3,1683.7 628.3,1684.9 629.3,1686.1 630.3,1687.1 631.3,1688.1 632.3,1689.1 633.3,1689.9 634.3,1690.8 635.3,1691.6 636.3,1692.3 637.3,1692.9 638.4,1693.5 639.4,1693.9 640.4,1694.2 641.4,1694.5 642.4,1694.8 643.4,1695.0 644.4,1695.2 645.4,1695.3 646.4,1695.5 647.4,1695.7 648.5,1695.8 649.5,1696.0 650.5,1696.1 651.5,1696.3 652.5,1696.4 653.5,1696.5 654.5,1696.6 655.5,1696.7 656.5,1696.9 657.5,1697.0 658.5,1697.2 659.6,1697.4 660.6,1697.6 661.6,1697.9 662.6,1698.2 663.6,1698.5 664.6,1698.8 665.6,1699.1 666.6,1699.3 667.6,1699.6 668.6,1699.9 669.6,1700.2 670.7,1700.4 671.7,1700.7 672.7,1701.0 673.7,1701.2 674.7,1701.4 L674.7,1701.5 Z" fill="url(#gL4)"/>
<polyline points="508.1,1701.4 509.1,1701.2 510.2,1700.9 511.2,1700.6 512.2,1700.3 513.2,1699.9 514.2,1699.5 515.2,1699.1 516.2,1698.7 517.2,1698.2 518.2,1697.7 519.2,1697.2 520.2,1696.5 521.3,1695.9 522.3,1695.2 523.3,1694.4 524.3,1693.7 525.3,1692.9 526.3,1692.2 527.3,1691.5 528.3,1690.8 529.3,1690.1 530.3,1689.5 531.4,1688.9 532.4,1688.3 533.4,1687.7 534.4,1687.2 535.4,1686.6 536.4,1686.1 537.4,1685.6 538.4,1685.1 539.4,1684.6 540.4,1684.2 541.4,1683.8 542.5,1683.5 543.5,1683.2 544.5,1682.9 545.5,1682.7 546.5,1682.4 547.5,1682.2 548.5,1682.0 549.5,1681.8 550.5,1681.6 551.5,1681.4 552.6,1681.1 553.6,1680.9 554.6,1680.6 555.6,1680.2 556.6,1679.9 557.6,1679.5 558.6,1679.1 559.6,1678.6 560.6,1678.2 561.6,1677.7 562.6,1677.2 563.7,1676.6 564.7,1676.0 565.7,1675.4 566.7,1674.7 567.7,1673.9 568.7,1673.0 569.7,1672.1 570.7,1671.2 571.7,1670.2 572.7,1669.3 573.7,1668.3 574.8,1667.4 575.8,1666.5 576.8,1665.6 577.8,1664.7 578.8,1663.7 579.8,1662.8 580.8,1661.8 581.8,1660.9 582.8,1660.0 583.8,1659.2 584.9,1658.5 585.9,1657.8 586.9,1657.1 587.9,1656.5 588.9,1655.9 589.9,1655.4 590.9,1654.8 591.9,1654.4 592.9,1654.0 593.9,1653.7 594.9,1653.5 596.0,1653.4 597.0,1653.4 598.0,1653.4 599.0,1653.5 600.0,1653.7 601.0,1653.8 602.0,1654.0 603.0,1654.2 604.0,1654.5 605.0,1654.9 606.1,1655.5 607.1,1656.3 608.1,1657.2 609.1,1658.1 610.1,1659.1 611.1,1660.2 612.1,1661.4 613.1,1662.6 614.1,1664.0 615.1,1665.6 616.1,1667.2 617.2,1668.8 618.2,1670.4 619.2,1672.1 620.2,1673.6 621.2,1675.1 622.2,1676.6 623.2,1678.1 624.2,1679.5 625.2,1681.0 626.2,1682.4 627.3,1683.7 628.3,1684.9 629.3,1686.1 630.3,1687.1 631.3,1688.1 632.3,1689.1 633.3,1689.9 634.3,1690.8 635.3,1691.6 636.3,1692.3 637.3,1692.9 638.4,1693.5 639.4,1693.9 640.4,1694.2 641.4,1694.5 642.4,1694.8 643.4,1695.0 644.4,1695.2 645.4,1695.3 646.4,1695.5 647.4,1695.7 648.5,1695.8 649.5,1696.0 650.5,1696.1 651.5,1696.3 652.5,1696.4 653.5,1696.5 654.5,1696.6 655.5,1696.7 656.5,1696.9 657.5,1697.0 658.5,1697.2 659.6,1697.4 660.6,1697.6 661.6,1697.9 662.6,1698.2 663.6,1698.5 664.6,1698.8 665.6,1699.1 666.6,1699.3 667.6,1699.6 668.6,1699.9 669.6,1700.2 670.7,1700.4 671.7,1700.7 672.7,1701.0 673.7,1701.2 674.7,1701.4" class="rl"/>
<path d="M473.7,1726.9 L473.7,1726.8 474.7,1726.7 475.7,1726.5 476.7,1726.3 477.7,1726.1 478.7,1725.9 479.8,1725.7 480.8,1725.6 481.8,1725.4 482.8,1725.2 483.8,1725.1 484.8,1724.9 485.8,1724.8 486.8,1724.6 487.8,1724.5 488.8,1724.4 489.8,1724.2 490.9,1724.1 491.9,1724.0 492.9,1723.8 493.9,1723.7 494.9,1723.6 495.9,1723.5 496.9,1723.4 497.9,1723.3 498.9,1723.3 499.9,1723.2 501.0,1723.2 502.0,1723.2 503.0,1723.2 504.0,1723.2 505.0,1723.2 506.0,1723.3 507.0,1723.3 508.0,1723.4 509.0,1723.4 510.0,1723.5 511.0,1723.5 512.1,1723.6 513.1,1723.7 514.1,1723.7 515.1,1723.7 516.1,1723.8 517.1,1723.8 518.1,1723.8 519.1,1723.8 520.1,1723.7 521.1,1723.7 522.2,1723.7 523.2,1723.6 524.2,1723.6 525.2,1723.5 526.2,1723.4 527.2,1723.4 528.2,1723.3 529.2,1723.2 530.2,1723.1 531.2,1723.0 532.3,1722.9 533.3,1722.7 534.3,1722.5 535.3,1722.2 536.3,1721.9 537.3,1721.7 538.3,1721.4 539.3,1721.1 540.3,1720.7 541.3,1720.4 542.3,1720.1 543.4,1719.8 544.4,1719.4 545.4,1719.1 546.4,1718.7 547.4,1718.3 548.4,1717.9 549.4,1717.4 550.4,1717.0 551.4,1716.5 552.4,1716.0 553.5,1715.5 554.5,1715.0 555.5,1714.5 556.5,1713.9 557.5,1713.3 558.5,1712.7 559.5,1712.1 560.5,1711.4 561.5,1710.7 562.5,1710.0 563.5,1709.3 564.6,1708.5 565.6,1707.7 566.6,1706.8 567.6,1705.9 568.6,1705.0 569.6,1703.9 570.6,1702.8 571.6,1701.7 572.6,1700.5 573.6,1699.2 574.7,1698.0 575.7,1696.7 576.7,1695.4 577.7,1694.1 578.7,1692.7 579.7,1691.3 580.7,1689.9 581.7,1688.4 582.7,1687.0 583.7,1685.6 584.7,1684.4 585.8,1683.2 586.8,1682.1 587.8,1681.1 588.8,1680.1 589.8,1679.1 590.8,1678.2 591.8,1677.4 592.8,1676.7 593.8,1676.1 594.8,1675.6 595.9,1675.3 596.9,1675.1 597.9,1675.0 598.9,1674.8 599.9,1674.7 600.9,1674.7 601.9,1674.7 602.9,1674.8 603.9,1675.0 604.9,1675.4 605.9,1675.9 607.0,1676.4 608.0,1677.0 609.0,1677.6 610.0,1678.4 611.0,1679.3 612.0,1680.3 613.0,1681.4 614.0,1682.6 615.0,1683.8 616.0,1685.1 617.1,1686.3 618.1,1687.7 619.1,1689.0 620.1,1690.5 621.1,1692.0 622.1,1693.6 623.1,1695.2 624.1,1696.8 625.1,1698.4 626.1,1699.8 627.2,1701.2 628.2,1702.6 629.2,1703.9 630.2,1705.1 631.2,1706.4 632.2,1707.6 633.2,1708.7 634.2,1709.8 635.2,1710.9 636.2,1711.9 637.2,1712.9 638.3,1713.9 639.3,1714.8 640.3,1715.7 641.3,1716.6 642.3,1717.4 643.3,1718.2 644.3,1718.9 645.3,1719.6 646.3,1720.3 647.3,1720.9 648.4,1721.5 649.4,1722.0 650.4,1722.5 651.4,1723.0 652.4,1723.5 653.4,1723.9 654.4,1724.4 655.4,1724.8 656.4,1725.1 657.4,1725.5 658.4,1725.8 659.5,1726.1 660.5,1726.4 661.5,1726.6 662.5,1726.8 L662.5,1726.9 Z" fill="url(#gL4)"/>
<polyline points="473.7,1726.8 474.7,1726.7 475.7,1726.5 476.7,1726.3 477.7,1726.1 478.7,1725.9 479.8,1725.7 480.8,1725.6 481.8,1725.4 482.8,1725.2 483.8,1725.1 484.8,1724.9 485.8,1724.8 486.8,1724.6 487.8,1724.5 488.8,1724.4 489.8,1724.2 490.9,1724.1 491.9,1724.0 492.9,1723.8 493.9,1723.7 494.9,1723.6 495.9,1723.5 496.9,1723.4 497.9,1723.3 498.9,1723.3 499.9,1723.2 501.0,1723.2 502.0,1723.2 503.0,1723.2 504.0,1723.2 505.0,1723.2 506.0,1723.3 507.0,1723.3 508.0,1723.4 509.0,1723.4 510.0,1723.5 511.0,1723.5 512.1,1723.6 513.1,1723.7 514.1,1723.7 515.1,1723.7 516.1,1723.8 517.1,1723.8 518.1,1723.8 519.1,1723.8 520.1,1723.7 521.1,1723.7 522.2,1723.7 523.2,1723.6 524.2,1723.6 525.2,1723.5 526.2,1723.4 527.2,1723.4 528.2,1723.3 529.2,1723.2 530.2,1723.1 531.2,1723.0 532.3,1722.9 533.3,1722.7 534.3,1722.5 535.3,1722.2 536.3,1721.9 537.3,1721.7 538.3,1721.4 539.3,1721.1 540.3,1720.7 541.3,1720.4 542.3,1720.1 543.4,1719.8 544.4,1719.4 545.4,1719.1 546.4,1718.7 547.4,1718.3 548.4,1717.9 549.4,1717.4 550.4,1717.0 551.4,1716.5 552.4,1716.0 553.5,1715.5 554.5,1715.0 555.5,1714.5 556.5,1713.9 557.5,1713.3 558.5,1712.7 559.5,1712.1 560.5,1711.4 561.5,1710.7 562.5,1710.0 563.5,1709.3 564.6,1708.5 565.6,1707.7 566.6,1706.8 567.6,1705.9 568.6,1705.0 569.6,1703.9 570.6,1702.8 571.6,1701.7 572.6,1700.5 573.6,1699.2 574.7,1698.0 575.7,1696.7 576.7,1695.4 577.7,1694.1 578.7,1692.7 579.7,1691.3 580.7,1689.9 581.7,1688.4 582.7,1687.0 583.7,1685.6 584.7,1684.4 585.8,1683.2 586.8,1682.1 587.8,1681.1 588.8,1680.1 589.8,1679.1 590.8,1678.2 591.8,1677.4 592.8,1676.7 593.8,1676.1 594.8,1675.6 595.9,1675.3 596.9,1675.1 597.9,1675.0 598.9,1674.8 599.9,1674.7 600.9,1674.7 601.9,1674.7 602.9,1674.8 603.9,1675.0 604.9,1675.4 605.9,1675.9 607.0,1676.4 608.0,1677.0 609.0,1677.6 610.0,1678.4 611.0,1679.3 612.0,1680.3 613.0,1681.4 614.0,1682.6 615.0,1683.8 616.0,1685.1 617.1,1686.3 618.1,1687.7 619.1,1689.0 620.1,1690.5 621.1,1692.0 622.1,1693.6 623.1,1695.2 624.1,1696.8 625.1,1698.4 626.1,1699.8 627.2,1701.2 628.2,1702.6 629.2,1703.9 630.2,1705.1 631.2,1706.4 632.2,1707.6 633.2,1708.7 634.2,1709.8 635.2,1710.9 636.2,1711.9 637.2,1712.9 638.3,1713.9 639.3,1714.8 640.3,1715.7 641.3,1716.6 642.3,1717.4 643.3,1718.2 644.3,1718.9 645.3,1719.6 646.3,1720.3 647.3,1720.9 648.4,1721.5 649.4,1722.0 650.4,1722.5 651.4,1723.0 652.4,1723.5 653.4,1723.9 654.4,1724.4 655.4,1724.8 656.4,1725.1 657.4,1725.5 658.4,1725.8 659.5,1726.1 660.5,1726.4 661.5,1726.6 662.5,1726.8" class="rl"/>
<path d="M387.6,1752.3 L387.6,1752.1 388.6,1751.9 389.6,1751.6 390.6,1751.2 391.6,1750.9 392.6,1750.5 393.6,1750.1 394.6,1749.7 395.6,1749.4 396.6,1749.0 397.6,1748.6 398.7,1748.2 399.7,1747.7 400.7,1747.3 401.7,1746.8 402.7,1746.4 403.7,1745.9 404.7,1745.4 405.7,1744.9 406.7,1744.5 407.7,1744.0 408.7,1743.5 409.7,1743.1 410.7,1742.7 411.7,1742.3 412.7,1741.9 413.7,1741.6 414.7,1741.3 415.7,1741.0 416.7,1740.7 417.7,1740.4 418.8,1740.1 419.8,1739.9 420.8,1739.6 421.8,1739.3 422.8,1739.1 423.8,1738.8 424.8,1738.5 425.8,1738.2 426.8,1737.8 427.8,1737.5 428.8,1737.1 429.8,1736.7 430.8,1736.3 431.8,1735.8 432.8,1735.4 433.8,1735.0 434.8,1734.5 435.8,1734.1 436.8,1733.6 437.9,1733.2 438.9,1732.7 439.9,1732.3 440.9,1731.8 441.9,1731.3 442.9,1730.8 443.9,1730.3 444.9,1729.8 445.9,1729.3 446.9,1728.8 447.9,1728.4 448.9,1728.0 449.9,1727.7 450.9,1727.4 451.9,1727.2 452.9,1727.1 453.9,1726.9 454.9,1726.8 455.9,1726.6 456.9,1726.5 458.0,1726.4 459.0,1726.4 460.0,1726.3 461.0,1726.3 462.0,1726.3 463.0,1726.4 464.0,1726.5 465.0,1726.7 466.0,1726.9 467.0,1727.1 468.0,1727.3 469.0,1727.5 470.0,1727.7 471.0,1728.0 472.0,1728.3 473.0,1728.6 474.0,1729.0 475.0,1729.3 476.0,1729.7 477.1,1730.1 478.1,1730.5 479.1,1730.8 480.1,1731.1 481.1,1731.3 482.1,1731.5 483.1,1731.6 484.1,1731.6 485.1,1731.6 486.1,1731.6 487.1,1731.6 488.1,1731.6 489.1,1731.6 490.1,1731.6 491.1,1731.6 492.1,1731.6 493.1,1731.6 494.1,1731.6 495.1,1731.6 496.1,1731.6 497.2,1731.5 498.2,1731.4 499.2,1731.2 500.2,1731.0 501.2,1730.8 502.2,1730.6 503.2,1730.4 504.2,1730.2 505.2,1730.0 506.2,1729.9 507.2,1729.8 508.2,1729.8 509.2,1729.9 510.2,1730.0 511.2,1730.2 512.2,1730.5 513.2,1730.8 514.2,1731.2 515.2,1731.6 516.3,1732.0 517.3,1732.5 518.3,1732.9 519.3,1733.5 520.3,1734.1 521.3,1734.7 522.3,1735.4 523.3,1736.2 524.3,1736.9 525.3,1737.7 526.3,1738.4 527.3,1739.1 528.3,1739.8 529.3,1740.5 530.3,1741.2 531.3,1741.9 532.3,1742.6 533.3,1743.3 534.3,1743.9 535.3,1744.5 536.4,1745.1 537.4,1745.6 538.4,1746.0 539.4,1746.5 540.4,1747.0 541.4,1747.4 542.4,1747.8 543.4,1748.2 544.4,1748.5 545.4,1748.9 546.4,1749.2 547.4,1749.4 548.4,1749.7 549.4,1749.9 550.4,1750.1 551.4,1750.2 552.4,1750.4 553.4,1750.6 554.4,1750.7 555.4,1750.9 556.5,1751.0 557.5,1751.1 558.5,1751.2 559.5,1751.3 560.5,1751.3 561.5,1751.3 562.5,1751.3 563.5,1751.2 564.5,1751.1 565.5,1751.0 566.5,1750.8 567.5,1750.6 568.5,1750.4 569.5,1750.2 570.5,1750.0 571.5,1749.7 572.5,1749.5 573.5,1749.2 574.5,1748.9 575.6,1748.6 576.6,1748.3 577.6,1747.9 578.6,1747.5 579.6,1747.0 580.6,1746.6 581.6,1746.1 582.6,1745.7 583.6,1745.3 584.6,1744.8 585.6,1744.4 586.6,1744.1 587.6,1743.7 588.6,1743.3 589.6,1743.0 590.6,1742.6 591.6,1742.3 592.6,1741.9 593.6,1741.6 594.6,1741.3 595.7,1741.0 596.7,1740.8 597.7,1740.6 598.7,1740.4 599.7,1740.3 600.7,1740.2 601.7,1740.1 602.7,1740.0 603.7,1739.9 604.7,1739.8 605.7,1739.7 606.7,1739.6 607.7,1739.6 608.7,1739.5 609.7,1739.5 610.7,1739.5 611.7,1739.4 612.7,1739.4 613.7,1739.5 614.8,1739.5 615.8,1739.5 616.8,1739.6 617.8,1739.6 618.8,1739.6 619.8,1739.7 620.8,1739.8 621.8,1739.9 622.8,1740.0 623.8,1740.2 624.8,1740.4 625.8,1740.7 626.8,1740.9 627.8,1741.2 628.8,1741.5 629.8,1741.8 630.8,1742.1 631.8,1742.4 632.8,1742.8 633.8,1743.1 634.9,1743.5 635.9,1743.9 636.9,1744.3 637.9,1744.7 638.9,1745.1 639.9,1745.5 640.9,1745.9 641.9,1746.3 642.9,1746.7 643.9,1747.1 644.9,1747.5 645.9,1748.0 646.9,1748.4 647.9,1748.8 648.9,1749.2 649.9,1749.6 650.9,1750.0 651.9,1750.3 652.9,1750.6 654.0,1750.9 655.0,1751.2 656.0,1751.4 657.0,1751.7 658.0,1751.9 659.0,1752.1 660.0,1752.2 L660.0,1752.3 Z" fill="url(#gL4)"/>
<polyline points="387.6,1752.1 388.6,1751.9 389.6,1751.6 390.6,1751.2 391.6,1750.9 392.6,1750.5 393.6,1750.1 394.6,1749.7 395.6,1749.4 396.6,1749.0 397.6,1748.6 398.7,1748.2 399.7,1747.7 400.7,1747.3 401.7,1746.8 402.7,1746.4 403.7,1745.9 404.7,1745.4 405.7,1744.9 406.7,1744.5 407.7,1744.0 408.7,1743.5 409.7,1743.1 410.7,1742.7 411.7,1742.3 412.7,1741.9 413.7,1741.6 414.7,1741.3 415.7,1741.0 416.7,1740.7 417.7,1740.4 418.8,1740.1 419.8,1739.9 420.8,1739.6 421.8,1739.3 422.8,1739.1 423.8,1738.8 424.8,1738.5 425.8,1738.2 426.8,1737.8 427.8,1737.5 428.8,1737.1 429.8,1736.7 430.8,1736.3 431.8,1735.8 432.8,1735.4 433.8,1735.0 434.8,1734.5 435.8,1734.1 436.8,1733.6 437.9,1733.2 438.9,1732.7 439.9,1732.3 440.9,1731.8 441.9,1731.3 442.9,1730.8 443.9,1730.3 444.9,1729.8 445.9,1729.3 446.9,1728.8 447.9,1728.4 448.9,1728.0 449.9,1727.7 450.9,1727.4 451.9,1727.2 452.9,1727.1 453.9,1726.9 454.9,1726.8 455.9,1726.6 456.9,1726.5 458.0,1726.4 459.0,1726.4 460.0,1726.3 461.0,1726.3 462.0,1726.3 463.0,1726.4 464.0,1726.5 465.0,1726.7 466.0,1726.9 467.0,1727.1 468.0,1727.3 469.0,1727.5 470.0,1727.7 471.0,1728.0 472.0,1728.3 473.0,1728.6 474.0,1729.0 475.0,1729.3 476.0,1729.7 477.1,1730.1 478.1,1730.5 479.1,1730.8 480.1,1731.1 481.1,1731.3 482.1,1731.5 483.1,1731.6 484.1,1731.6 485.1,1731.6 486.1,1731.6 487.1,1731.6 488.1,1731.6 489.1,1731.6 490.1,1731.6 491.1,1731.6 492.1,1731.6 493.1,1731.6 494.1,1731.6 495.1,1731.6 496.1,1731.6 497.2,1731.5 498.2,1731.4 499.2,1731.2 500.2,1731.0 501.2,1730.8 502.2,1730.6 503.2,1730.4 504.2,1730.2 505.2,1730.0 506.2,1729.9 507.2,1729.8 508.2,1729.8 509.2,1729.9 510.2,1730.0 511.2,1730.2 512.2,1730.5 513.2,1730.8 514.2,1731.2 515.2,1731.6 516.3,1732.0 517.3,1732.5 518.3,1732.9 519.3,1733.5 520.3,1734.1 521.3,1734.7 522.3,1735.4 523.3,1736.2 524.3,1736.9 525.3,1737.7 526.3,1738.4 527.3,1739.1 528.3,1739.8 529.3,1740.5 530.3,1741.2 531.3,1741.9 532.3,1742.6 533.3,1743.3 534.3,1743.9 535.3,1744.5 536.4,1745.1 537.4,1745.6 538.4,1746.0 539.4,1746.5 540.4,1747.0 541.4,1747.4 542.4,1747.8 543.4,1748.2 544.4,1748.5 545.4,1748.9 546.4,1749.2 547.4,1749.4 548.4,1749.7 549.4,1749.9 550.4,1750.1 551.4,1750.2 552.4,1750.4 553.4,1750.6 554.4,1750.7 555.4,1750.9 556.5,1751.0 557.5,1751.1 558.5,1751.2 559.5,1751.3 560.5,1751.3 561.5,1751.3 562.5,1751.3 563.5,1751.2 564.5,1751.1 565.5,1751.0 566.5,1750.8 567.5,1750.6 568.5,1750.4 569.5,1750.2 570.5,1750.0 571.5,1749.7 572.5,1749.5 573.5,1749.2 574.5,1748.9 575.6,1748.6 576.6,1748.3 577.6,1747.9 578.6,1747.5 579.6,1747.0 580.6,1746.6 581.6,1746.1 582.6,1745.7 583.6,1745.3 584.6,1744.8 585.6,1744.4 586.6,1744.1 587.6,1743.7 588.6,1743.3 589.6,1743.0 590.6,1742.6 591.6,1742.3 592.6,1741.9 593.6,1741.6 594.6,1741.3 595.7,1741.0 596.7,1740.8 597.7,1740.6 598.7,1740.4 599.7,1740.3 600.7,1740.2 601.7,1740.1 602.7,1740.0 603.7,1739.9 604.7,1739.8 605.7,1739.7 606.7,1739.6 607.7,1739.6 608.7,1739.5 609.7,1739.5 610.7,1739.5 611.7,1739.4 612.7,1739.4 613.7,1739.5 614.8,1739.5 615.8,1739.5 616.8,1739.6 617.8,1739.6 618.8,1739.6 619.8,1739.7 620.8,1739.8 621.8,1739.9 622.8,1740.0 623.8,1740.2 624.8,1740.4 625.8,1740.7 626.8,1740.9 627.8,1741.2 628.8,1741.5 629.8,1741.8 630.8,1742.1 631.8,1742.4 632.8,1742.8 633.8,1743.1 634.9,1743.5 635.9,1743.9 636.9,1744.3 637.9,1744.7 638.9,1745.1 639.9,1745.5 640.9,1745.9 641.9,1746.3 642.9,1746.7 643.9,1747.1 644.9,1747.5 645.9,1748.0 646.9,1748.4 647.9,1748.8 648.9,1749.2 649.9,1749.6 650.9,1750.0 651.9,1750.3 652.9,1750.6 654.0,1750.9 655.0,1751.2 656.0,1751.4 657.0,1751.7 658.0,1751.9 659.0,1752.1 660.0,1752.2" class="rl"/>
<path d="M272.7,1777.7 L272.7,1777.6 273.7,1777.4 274.7,1777.2 275.7,1776.9 276.7,1776.7 277.7,1776.4 278.7,1776.1 279.8,1775.7 280.8,1775.4 281.8,1775.1 282.8,1774.7 283.8,1774.3 284.8,1774.0 285.8,1773.6 286.8,1773.2 287.8,1772.8 288.8,1772.3 289.8,1771.9 290.8,1771.4 291.9,1770.9 292.9,1770.4 293.9,1769.9 294.9,1769.4 295.9,1768.8 296.9,1768.2 297.9,1767.6 298.9,1766.9 299.9,1766.2 300.9,1765.4 301.9,1764.6 303.0,1763.8 304.0,1762.9 305.0,1762.0 306.0,1761.0 307.0,1760.1 308.0,1759.1 309.0,1758.1 310.0,1757.2 311.0,1756.2 312.0,1755.3 313.0,1754.3 314.0,1753.3 315.1,1752.3 316.1,1751.3 317.1,1750.3 318.1,1749.2 319.1,1748.2 320.1,1747.2 321.1,1746.2 322.1,1745.1 323.1,1744.1 324.1,1743.1 325.1,1742.0 326.1,1740.9 327.2,1739.8 328.2,1738.7 329.2,1737.6 330.2,1736.6 331.2,1735.6 332.2,1734.6 333.2,1733.8 334.2,1733.0 335.2,1732.3 336.2,1731.7 337.2,1731.0 338.3,1730.5 339.3,1729.9 340.3,1729.5 341.3,1729.1 342.3,1728.8 343.3,1728.6 344.3,1728.4 345.3,1728.3 346.3,1728.3 347.3,1728.4 348.3,1728.6 349.3,1728.9 350.4,1729.3 351.4,1729.7 352.4,1730.3 353.4,1731.1 354.4,1732.0 355.4,1733.1 356.4,1734.3 357.4,1735.4 358.4,1736.5 359.4,1737.5 360.4,1738.5 361.5,1739.4 362.5,1740.3 363.5,1741.2 364.5,1742.1 365.5,1742.9 366.5,1743.8 367.5,1744.6 368.5,1745.4 369.5,1746.3 370.5,1747.1 371.5,1747.9 372.5,1748.7 373.6,1749.5 374.6,1750.3 375.6,1751.0 376.6,1751.8 377.6,1752.6 378.6,1753.3 379.6,1754.0 380.6,1754.8 381.6,1755.5 382.6,1756.2 383.6,1756.9 384.7,1757.5 385.7,1758.2 386.7,1758.9 387.7,1759.5 388.7,1760.2 389.7,1760.8 390.7,1761.4 391.7,1762.0 392.7,1762.6 393.7,1763.2 394.7,1763.8 395.7,1764.4 396.8,1764.9 397.8,1765.5 398.8,1766.0 399.8,1766.6 400.8,1767.1 401.8,1767.6 402.8,1768.1 403.8,1768.6 404.8,1769.1 405.8,1769.5 406.8,1770.0 407.8,1770.4 408.9,1770.8 409.9,1771.2 410.9,1771.6 411.9,1771.9 412.9,1772.3 413.9,1772.6 414.9,1773.0 415.9,1773.3 416.9,1773.6 417.9,1773.9 418.9,1774.1 420.0,1774.4 421.0,1774.6 422.0,1774.8 423.0,1775.0 424.0,1775.2 425.0,1775.4 426.0,1775.6 427.0,1775.8 428.0,1776.0 429.0,1776.1 430.0,1776.3 431.0,1776.4 432.1,1776.6 433.1,1776.7 434.1,1776.9 435.1,1777.0 436.1,1777.1 437.1,1777.2 438.1,1777.4 439.1,1777.5 440.1,1777.6 441.1,1777.7 L441.1,1777.7 Z" fill="url(#gL4)"/>
<polyline points="272.7,1777.6 273.7,1777.4 274.7,1777.2 275.7,1776.9 276.7,1776.7 277.7,1776.4 278.7,1776.1 279.8,1775.7 280.8,1775.4 281.8,1775.1 282.8,1774.7 283.8,1774.3 284.8,1774.0 285.8,1773.6 286.8,1773.2 287.8,1772.8 288.8,1772.3 289.8,1771.9 290.8,1771.4 291.9,1770.9 292.9,1770.4 293.9,1769.9 294.9,1769.4 295.9,1768.8 296.9,1768.2 297.9,1767.6 298.9,1766.9 299.9,1766.2 300.9,1765.4 301.9,1764.6 303.0,1763.8 304.0,1762.9 305.0,1762.0 306.0,1761.0 307.0,1760.1 308.0,1759.1 309.0,1758.1 310.0,1757.2 311.0,1756.2 312.0,1755.3 313.0,1754.3 314.0,1753.3 315.1,1752.3 316.1,1751.3 317.1,1750.3 318.1,1749.2 319.1,1748.2 320.1,1747.2 321.1,1746.2 322.1,1745.1 323.1,1744.1 324.1,1743.1 325.1,1742.0 326.1,1740.9 327.2,1739.8 328.2,1738.7 329.2,1737.6 330.2,1736.6 331.2,1735.6 332.2,1734.6 333.2,1733.8 334.2,1733.0 335.2,1732.3 336.2,1731.7 337.2,1731.0 338.3,1730.5 339.3,1729.9 340.3,1729.5 341.3,1729.1 342.3,1728.8 343.3,1728.6 344.3,1728.4 345.3,1728.3 346.3,1728.3 347.3,1728.4 348.3,1728.6 349.3,1728.9 350.4,1729.3 351.4,1729.7 352.4,1730.3 353.4,1731.1 354.4,1732.0 355.4,1733.1 356.4,1734.3 357.4,1735.4 358.4,1736.5 359.4,1737.5 360.4,1738.5 361.5,1739.4 362.5,1740.3 363.5,1741.2 364.5,1742.1 365.5,1742.9 366.5,1743.8 367.5,1744.6 368.5,1745.4 369.5,1746.3 370.5,1747.1 371.5,1747.9 372.5,1748.7 373.6,1749.5 374.6,1750.3 375.6,1751.0 376.6,1751.8 377.6,1752.6 378.6,1753.3 379.6,1754.0 380.6,1754.8 381.6,1755.5 382.6,1756.2 383.6,1756.9 384.7,1757.5 385.7,1758.2 386.7,1758.9 387.7,1759.5 388.7,1760.2 389.7,1760.8 390.7,1761.4 391.7,1762.0 392.7,1762.6 393.7,1763.2 394.7,1763.8 395.7,1764.4 396.8,1764.9 397.8,1765.5 398.8,1766.0 399.8,1766.6 400.8,1767.1 401.8,1767.6 402.8,1768.1 403.8,1768.6 404.8,1769.1 405.8,1769.5 406.8,1770.0 407.8,1770.4 408.9,1770.8 409.9,1771.2 410.9,1771.6 411.9,1771.9 412.9,1772.3 413.9,1772.6 414.9,1773.0 415.9,1773.3 416.9,1773.6 417.9,1773.9 418.9,1774.1 420.0,1774.4 421.0,1774.6 422.0,1774.8 423.0,1775.0 424.0,1775.2 425.0,1775.4 426.0,1775.6 427.0,1775.8 428.0,1776.0 429.0,1776.1 430.0,1776.3 431.0,1776.4 432.1,1776.6 433.1,1776.7 434.1,1776.9 435.1,1777.0 436.1,1777.1 437.1,1777.2 438.1,1777.4 439.1,1777.5 440.1,1777.6 441.1,1777.7" class="rl"/>
<path d="M293.0,1803.1 L293.0,1803.0 294.1,1802.9 295.1,1802.7 296.1,1802.4 297.1,1802.0 298.1,1801.5 299.1,1801.0 300.1,1800.4 301.1,1799.8 302.1,1799.0 303.1,1798.2 304.1,1797.3 305.1,1796.2 306.1,1795.0 307.2,1793.7 308.2,1792.4 309.2,1791.0 310.2,1789.5 311.2,1787.8 312.2,1786.1 313.2,1784.3 314.2,1782.4 315.2,1780.4 316.2,1778.5 317.2,1776.5 318.2,1774.5 319.2,1772.4 320.3,1770.3 321.3,1768.2 322.3,1766.1 323.3,1764.2 324.3,1762.3 325.3,1760.6 326.3,1758.9 327.3,1757.3 328.3,1755.8 329.3,1754.4 330.3,1753.1 331.3,1752.0 332.3,1751.2 333.4,1750.5 334.4,1749.9 335.4,1749.4 336.4,1749.0 337.4,1748.8 338.4,1748.7 339.4,1748.8 340.4,1749.1 341.4,1749.5 342.4,1750.0 343.4,1750.6 344.4,1751.2 345.4,1752.0 346.5,1752.9 347.5,1753.9 348.5,1754.9 349.5,1755.9 350.5,1756.9 351.5,1757.8 352.5,1758.6 353.5,1759.3 354.5,1760.1 355.5,1760.8 356.5,1761.4 357.5,1762.1 358.6,1762.7 359.6,1763.3 360.6,1763.9 361.6,1764.5 362.6,1765.0 363.6,1765.5 364.6,1766.0 365.6,1766.5 366.6,1767.0 367.6,1767.5 368.6,1768.0 369.6,1768.5 370.6,1769.1 371.7,1769.6 372.7,1770.3 373.7,1770.9 374.7,1771.6 375.7,1772.2 376.7,1772.9 377.7,1773.6 378.7,1774.4 379.7,1775.1 380.7,1775.9 381.7,1776.7 382.7,1777.5 383.7,1778.4 384.8,1779.2 385.8,1780.1 386.8,1781.0 387.8,1781.8 388.8,1782.7 389.8,1783.5 390.8,1784.3 391.8,1785.1 392.8,1785.9 393.8,1786.7 394.8,1787.5 395.8,1788.2 396.8,1789.0 397.9,1789.7 398.9,1790.4 399.9,1791.0 400.9,1791.6 401.9,1792.2 402.9,1792.8 403.9,1793.4 404.9,1793.9 405.9,1794.5 406.9,1795.0 407.9,1795.5 408.9,1796.0 409.9,1796.4 411.0,1796.9 412.0,1797.3 413.0,1797.8 414.0,1798.2 415.0,1798.5 416.0,1798.9 417.0,1799.1 418.0,1799.4 419.0,1799.6 420.0,1799.9 421.0,1800.1 422.0,1800.3 423.1,1800.5 424.1,1800.6 425.1,1800.7 426.1,1800.8 427.1,1800.8 428.1,1800.8 429.1,1800.7 430.1,1800.6 431.1,1800.5 432.1,1800.4 433.1,1800.3 434.1,1800.3 435.1,1800.2 436.2,1800.2 437.2,1800.2 438.2,1800.2 439.2,1800.2 440.2,1800.2 441.2,1800.2 442.2,1800.2 443.2,1800.2 444.2,1800.2 445.2,1800.2 446.2,1800.2 447.2,1800.3 448.2,1800.4 449.3,1800.6 450.3,1800.8 451.3,1801.0 452.3,1801.2 453.3,1801.4 454.3,1801.6 455.3,1801.8 456.3,1802.0 457.3,1802.1 458.3,1802.3 459.3,1802.5 460.3,1802.6 461.3,1802.8 462.4,1802.9 463.4,1803.0 L463.4,1803.1 Z" fill="url(#gL4)"/>
<polyline points="293.0,1803.0 294.1,1802.9 295.1,1802.7 296.1,1802.4 297.1,1802.0 298.1,1801.5 299.1,1801.0 300.1,1800.4 301.1,1799.8 302.1,1799.0 303.1,1798.2 304.1,1797.3 305.1,1796.2 306.1,1795.0 307.2,1793.7 308.2,1792.4 309.2,1791.0 310.2,1789.5 311.2,1787.8 312.2,1786.1 313.2,1784.3 314.2,1782.4 315.2,1780.4 316.2,1778.5 317.2,1776.5 318.2,1774.5 319.2,1772.4 320.3,1770.3 321.3,1768.2 322.3,1766.1 323.3,1764.2 324.3,1762.3 325.3,1760.6 326.3,1758.9 327.3,1757.3 328.3,1755.8 329.3,1754.4 330.3,1753.1 331.3,1752.0 332.3,1751.2 333.4,1750.5 334.4,1749.9 335.4,1749.4 336.4,1749.0 337.4,1748.8 338.4,1748.7 339.4,1748.8 340.4,1749.1 341.4,1749.5 342.4,1750.0 343.4,1750.6 344.4,1751.2 345.4,1752.0 346.5,1752.9 347.5,1753.9 348.5,1754.9 349.5,1755.9 350.5,1756.9 351.5,1757.8 352.5,1758.6 353.5,1759.3 354.5,1760.1 355.5,1760.8 356.5,1761.4 357.5,1762.1 358.6,1762.7 359.6,1763.3 360.6,1763.9 361.6,1764.5 362.6,1765.0 363.6,1765.5 364.6,1766.0 365.6,1766.5 366.6,1767.0 367.6,1767.5 368.6,1768.0 369.6,1768.5 370.6,1769.1 371.7,1769.6 372.7,1770.3 373.7,1770.9 374.7,1771.6 375.7,1772.2 376.7,1772.9 377.7,1773.6 378.7,1774.4 379.7,1775.1 380.7,1775.9 381.7,1776.7 382.7,1777.5 383.7,1778.4 384.8,1779.2 385.8,1780.1 386.8,1781.0 387.8,1781.8 388.8,1782.7 389.8,1783.5 390.8,1784.3 391.8,1785.1 392.8,1785.9 393.8,1786.7 394.8,1787.5 395.8,1788.2 396.8,1789.0 397.9,1789.7 398.9,1790.4 399.9,1791.0 400.9,1791.6 401.9,1792.2 402.9,1792.8 403.9,1793.4 404.9,1793.9 405.9,1794.5 406.9,1795.0 407.9,1795.5 408.9,1796.0 409.9,1796.4 411.0,1796.9 412.0,1797.3 413.0,1797.8 414.0,1798.2 415.0,1798.5 416.0,1798.9 417.0,1799.1 418.0,1799.4 419.0,1799.6 420.0,1799.9 421.0,1800.1 422.0,1800.3 423.1,1800.5 424.1,1800.6 425.1,1800.7 426.1,1800.8 427.1,1800.8 428.1,1800.8 429.1,1800.7 430.1,1800.6 431.1,1800.5 432.1,1800.4 433.1,1800.3 434.1,1800.3 435.1,1800.2 436.2,1800.2 437.2,1800.2 438.2,1800.2 439.2,1800.2 440.2,1800.2 441.2,1800.2 442.2,1800.2 443.2,1800.2 444.2,1800.2 445.2,1800.2 446.2,1800.2 447.2,1800.3 448.2,1800.4 449.3,1800.6 450.3,1800.8 451.3,1801.0 452.3,1801.2 453.3,1801.4 454.3,1801.6 455.3,1801.8 456.3,1802.0 457.3,1802.1 458.3,1802.3 459.3,1802.5 460.3,1802.6 461.3,1802.8 462.4,1802.9 463.4,1803.0" class="rl"/>
<path d="M294.6,1828.5 L294.6,1828.4 295.6,1828.3 296.6,1828.1 297.6,1827.8 298.6,1827.5 299.7,1827.1 300.7,1826.6 301.7,1826.1 302.7,1825.6 303.7,1825.1 304.7,1824.5 305.7,1823.9 306.7,1823.2 307.7,1822.4 308.7,1821.5 309.7,1820.5 310.8,1819.5 311.8,1818.4 312.8,1817.3 313.8,1816.0 314.8,1814.7 315.8,1813.3 316.8,1811.6 317.8,1809.9 318.8,1808.1 319.8,1806.3 320.9,1804.5 321.9,1802.7 322.9,1801.1 323.9,1799.5 324.9,1798.0 325.9,1796.5 326.9,1795.0 327.9,1793.6 328.9,1792.2 329.9,1790.9 330.9,1789.7 332.0,1788.6 333.0,1787.6 334.0,1786.6 335.0,1785.7 336.0,1784.9 337.0,1784.1 338.0,1783.4 339.0,1782.8 340.0,1782.3 341.0,1781.9 342.0,1781.6 343.1,1781.4 344.1,1781.1 345.1,1781.0 346.1,1780.9 347.1,1780.9 348.1,1780.9 349.1,1781.1 350.1,1781.4 351.1,1781.7 352.1,1782.0 353.2,1782.4 354.2,1782.8 355.2,1783.1 356.2,1783.5 357.2,1784.0 358.2,1784.4 359.2,1784.9 360.2,1785.3 361.2,1785.8 362.2,1786.2 363.2,1786.7 364.3,1787.1 365.3,1787.4 366.3,1787.8 367.3,1788.1 368.3,1788.5 369.3,1788.8 370.3,1789.1 371.3,1789.4 372.3,1789.8 373.3,1790.1 374.3,1790.5 375.4,1790.8 376.4,1791.2 377.4,1791.5 378.4,1791.9 379.4,1792.3 380.4,1792.7 381.4,1793.2 382.4,1793.7 383.4,1794.3 384.4,1794.9 385.5,1795.6 386.5,1796.4 387.5,1797.3 388.5,1798.1 389.5,1799.1 390.5,1800.0 391.5,1801.0 392.5,1802.0 393.5,1803.1 394.5,1804.2 395.5,1805.4 396.6,1806.6 397.6,1807.8 398.6,1809.1 399.6,1810.3 400.6,1811.5 401.6,1812.6 402.6,1813.7 403.6,1814.8 404.6,1816.0 405.6,1817.1 406.6,1818.1 407.7,1819.2 408.7,1820.1 409.7,1821.0 410.7,1821.8 411.7,1822.5 412.7,1823.1 413.7,1823.7 414.7,1824.3 415.7,1824.9 416.7,1825.4 417.7,1825.8 418.8,1826.2 419.8,1826.6 420.8,1826.9 421.8,1827.1 422.8,1827.4 423.8,1827.6 424.8,1827.8 425.8,1828.0 426.8,1828.2 427.8,1828.3 428.9,1828.4 429.9,1828.5 L429.9,1828.5 Z" fill="url(#gL4)"/>
<polyline points="294.6,1828.4 295.6,1828.3 296.6,1828.1 297.6,1827.8 298.6,1827.5 299.7,1827.1 300.7,1826.6 301.7,1826.1 302.7,1825.6 303.7,1825.1 304.7,1824.5 305.7,1823.9 306.7,1823.2 307.7,1822.4 308.7,1821.5 309.7,1820.5 310.8,1819.5 311.8,1818.4 312.8,1817.3 313.8,1816.0 314.8,1814.7 315.8,1813.3 316.8,1811.6 317.8,1809.9 318.8,1808.1 319.8,1806.3 320.9,1804.5 321.9,1802.7 322.9,1801.1 323.9,1799.5 324.9,1798.0 325.9,1796.5 326.9,1795.0 327.9,1793.6 328.9,1792.2 329.9,1790.9 330.9,1789.7 332.0,1788.6 333.0,1787.6 334.0,1786.6 335.0,1785.7 336.0,1784.9 337.0,1784.1 338.0,1783.4 339.0,1782.8 340.0,1782.3 341.0,1781.9 342.0,1781.6 343.1,1781.4 344.1,1781.1 345.1,1781.0 346.1,1780.9 347.1,1780.9 348.1,1780.9 349.1,1781.1 350.1,1781.4 351.1,1781.7 352.1,1782.0 353.2,1782.4 354.2,1782.8 355.2,1783.1 356.2,1783.5 357.2,1784.0 358.2,1784.4 359.2,1784.9 360.2,1785.3 361.2,1785.8 362.2,1786.2 363.2,1786.7 364.3,1787.1 365.3,1787.4 366.3,1787.8 367.3,1788.1 368.3,1788.5 369.3,1788.8 370.3,1789.1 371.3,1789.4 372.3,1789.8 373.3,1790.1 374.3,1790.5 375.4,1790.8 376.4,1791.2 377.4,1791.5 378.4,1791.9 379.4,1792.3 380.4,1792.7 381.4,1793.2 382.4,1793.7 383.4,1794.3 384.4,1794.9 385.5,1795.6 386.5,1796.4 387.5,1797.3 388.5,1798.1 389.5,1799.1 390.5,1800.0 391.5,1801.0 392.5,1802.0 393.5,1803.1 394.5,1804.2 395.5,1805.4 396.6,1806.6 397.6,1807.8 398.6,1809.1 399.6,1810.3 400.6,1811.5 401.6,1812.6 402.6,1813.7 403.6,1814.8 404.6,1816.0 405.6,1817.1 406.6,1818.1 407.7,1819.2 408.7,1820.1 409.7,1821.0 410.7,1821.8 411.7,1822.5 412.7,1823.1 413.7,1823.7 414.7,1824.3 415.7,1824.9 416.7,1825.4 417.7,1825.8 418.8,1826.2 419.8,1826.6 420.8,1826.9 421.8,1827.1 422.8,1827.4 423.8,1827.6 424.8,1827.8 425.8,1828.0 426.8,1828.2 427.8,1828.3 428.9,1828.4 429.9,1828.5" class="rl"/>
<path d="M191.9,1853.9 L191.9,1853.8 192.9,1853.7 193.9,1853.6 194.9,1853.4 195.9,1853.1 196.9,1852.9 198.0,1852.6 199.0,1852.4 200.0,1852.1 201.0,1851.7 202.0,1851.4 203.0,1851.1 204.0,1850.7 205.0,1850.4 206.0,1850.0 207.0,1849.5 208.0,1849.0 209.0,1848.5 210.0,1848.0 211.0,1847.4 212.0,1846.8 213.1,1846.3 214.1,1845.7 215.1,1845.1 216.1,1844.5 217.1,1843.9 218.1,1843.3 219.1,1842.7 220.1,1842.1 221.1,1841.4 222.1,1840.8 223.1,1840.1 224.1,1839.5 225.1,1839.0 226.1,1838.5 227.1,1838.1 228.2,1837.7 229.2,1837.4 230.2,1837.1 231.2,1836.8 232.2,1836.6 233.2,1836.4 234.2,1836.2 235.2,1836.1 236.2,1836.0 237.2,1835.9 238.2,1835.9 239.2,1836.0 240.2,1836.1 241.2,1836.2 242.2,1836.3 243.3,1836.5 244.3,1836.7 245.3,1836.9 246.3,1837.1 247.3,1837.3 248.3,1837.6 249.3,1837.9 250.3,1838.2 251.3,1838.6 252.3,1839.1 253.3,1839.6 254.3,1840.2 255.3,1840.9 256.3,1841.7 257.3,1842.5 258.4,1843.4 259.4,1844.3 260.4,1845.2 261.4,1846.0 262.4,1846.7 263.4,1847.4 264.4,1848.0 265.4,1848.6 266.4,1849.1 267.4,1849.6 268.4,1850.1 269.4,1850.6 270.4,1851.0 271.4,1851.4 272.4,1851.7 273.4,1851.9 274.5,1852.1 275.5,1852.2 276.5,1852.2 277.5,1852.3 278.5,1852.3 279.5,1852.3 280.5,1852.3 281.5,1852.4 282.5,1852.4 283.5,1852.4 284.5,1852.4 285.5,1852.4 286.5,1852.5 287.5,1852.5 288.5,1852.5 289.6,1852.5 290.6,1852.4 291.6,1852.4 292.6,1852.2 293.6,1852.0 294.6,1851.8 295.6,1851.4 296.6,1851.1 297.6,1850.7 298.6,1850.2 299.6,1849.8 300.6,1849.2 301.6,1848.5 302.6,1847.8 303.6,1846.9 304.7,1845.9 305.7,1844.8 306.7,1843.7 307.7,1842.5 308.7,1841.2 309.7,1839.8 310.7,1838.4 311.7,1836.8 312.7,1835.1 313.7,1833.3 314.7,1831.5 315.7,1829.6 316.7,1827.6 317.7,1825.4 318.7,1823.2 319.8,1820.9 320.8,1818.5 321.8,1816.3 322.8,1814.1 323.8,1812.0 324.8,1810.0 325.8,1808.0 326.8,1806.1 327.8,1804.3 328.8,1802.5 329.8,1800.8 330.8,1799.3 331.8,1797.8 332.8,1796.5 333.8,1795.3 334.8,1794.3 335.9,1793.5 336.9,1793.0 337.9,1792.7 338.9,1792.5 339.9,1792.6 340.9,1792.9 341.9,1793.5 342.9,1794.2 343.9,1795.3 344.9,1796.7 345.9,1798.4 346.9,1800.3 347.9,1802.3 348.9,1804.4 349.9,1806.5 351.0,1808.8 352.0,1811.1 353.0,1813.4 354.0,1815.7 355.0,1817.9 356.0,1820.1 357.0,1822.3 358.0,1824.4 359.0,1826.4 360.0,1828.4 361.0,1830.3 362.0,1832.1 363.0,1833.8 364.0,1835.4 365.0,1837.0 366.1,1838.5 367.1,1839.9 368.1,1841.3 369.1,1842.6 370.1,1843.7 371.1,1844.7 372.1,1845.6 373.1,1846.5 374.1,1847.2 375.1,1847.9 376.1,1848.6 377.1,1849.2 378.1,1849.8 379.1,1850.3 380.1,1850.8 381.2,1851.2 382.2,1851.6 383.2,1851.9 384.2,1852.2 385.2,1852.5 386.2,1852.8 387.2,1853.0 388.2,1853.2 389.2,1853.4 390.2,1853.6 391.2,1853.7 392.2,1853.8 393.2,1853.9 L393.2,1853.9 Z" fill="url(#gL4)"/>
<polyline points="191.9,1853.8 192.9,1853.7 193.9,1853.6 194.9,1853.4 195.9,1853.1 196.9,1852.9 198.0,1852.6 199.0,1852.4 200.0,1852.1 201.0,1851.7 202.0,1851.4 203.0,1851.1 204.0,1850.7 205.0,1850.4 206.0,1850.0 207.0,1849.5 208.0,1849.0 209.0,1848.5 210.0,1848.0 211.0,1847.4 212.0,1846.8 213.1,1846.3 214.1,1845.7 215.1,1845.1 216.1,1844.5 217.1,1843.9 218.1,1843.3 219.1,1842.7 220.1,1842.1 221.1,1841.4 222.1,1840.8 223.1,1840.1 224.1,1839.5 225.1,1839.0 226.1,1838.5 227.1,1838.1 228.2,1837.7 229.2,1837.4 230.2,1837.1 231.2,1836.8 232.2,1836.6 233.2,1836.4 234.2,1836.2 235.2,1836.1 236.2,1836.0 237.2,1835.9 238.2,1835.9 239.2,1836.0 240.2,1836.1 241.2,1836.2 242.2,1836.3 243.3,1836.5 244.3,1836.7 245.3,1836.9 246.3,1837.1 247.3,1837.3 248.3,1837.6 249.3,1837.9 250.3,1838.2 251.3,1838.6 252.3,1839.1 253.3,1839.6 254.3,1840.2 255.3,1840.9 256.3,1841.7 257.3,1842.5 258.4,1843.4 259.4,1844.3 260.4,1845.2 261.4,1846.0 262.4,1846.7 263.4,1847.4 264.4,1848.0 265.4,1848.6 266.4,1849.1 267.4,1849.6 268.4,1850.1 269.4,1850.6 270.4,1851.0 271.4,1851.4 272.4,1851.7 273.4,1851.9 274.5,1852.1 275.5,1852.2 276.5,1852.2 277.5,1852.3 278.5,1852.3 279.5,1852.3 280.5,1852.3 281.5,1852.4 282.5,1852.4 283.5,1852.4 284.5,1852.4 285.5,1852.4 286.5,1852.5 287.5,1852.5 288.5,1852.5 289.6,1852.5 290.6,1852.4 291.6,1852.4 292.6,1852.2 293.6,1852.0 294.6,1851.8 295.6,1851.4 296.6,1851.1 297.6,1850.7 298.6,1850.2 299.6,1849.8 300.6,1849.2 301.6,1848.5 302.6,1847.8 303.6,1846.9 304.7,1845.9 305.7,1844.8 306.7,1843.7 307.7,1842.5 308.7,1841.2 309.7,1839.8 310.7,1838.4 311.7,1836.8 312.7,1835.1 313.7,1833.3 314.7,1831.5 315.7,1829.6 316.7,1827.6 317.7,1825.4 318.7,1823.2 319.8,1820.9 320.8,1818.5 321.8,1816.3 322.8,1814.1 323.8,1812.0 324.8,1810.0 325.8,1808.0 326.8,1806.1 327.8,1804.3 328.8,1802.5 329.8,1800.8 330.8,1799.3 331.8,1797.8 332.8,1796.5 333.8,1795.3 334.8,1794.3 335.9,1793.5 336.9,1793.0 337.9,1792.7 338.9,1792.5 339.9,1792.6 340.9,1792.9 341.9,1793.5 342.9,1794.2 343.9,1795.3 344.9,1796.7 345.9,1798.4 346.9,1800.3 347.9,1802.3 348.9,1804.4 349.9,1806.5 351.0,1808.8 352.0,1811.1 353.0,1813.4 354.0,1815.7 355.0,1817.9 356.0,1820.1 357.0,1822.3 358.0,1824.4 359.0,1826.4 360.0,1828.4 361.0,1830.3 362.0,1832.1 363.0,1833.8 364.0,1835.4 365.0,1837.0 366.1,1838.5 367.1,1839.9 368.1,1841.3 369.1,1842.6 370.1,1843.7 371.1,1844.7 372.1,1845.6 373.1,1846.5 374.1,1847.2 375.1,1847.9 376.1,1848.6 377.1,1849.2 378.1,1849.8 379.1,1850.3 380.1,1850.8 381.2,1851.2 382.2,1851.6 383.2,1851.9 384.2,1852.2 385.2,1852.5 386.2,1852.8 387.2,1853.0 388.2,1853.2 389.2,1853.4 390.2,1853.6 391.2,1853.7 392.2,1853.8 393.2,1853.9" class="rl"/>
<path d="M182.5,1879.3 L182.5,1879.3 183.5,1879.2 184.6,1879.0 185.6,1878.8 186.6,1878.5 187.6,1878.1 188.6,1877.7 189.6,1877.3 190.6,1876.8 191.7,1876.3 192.7,1875.7 193.7,1875.2 194.7,1874.5 195.7,1873.7 196.7,1872.8 197.7,1871.9 198.7,1870.8 199.8,1869.7 200.8,1868.5 201.8,1867.3 202.8,1866.0 203.8,1864.6 204.8,1863.1 205.8,1861.5 206.9,1859.9 207.9,1858.1 208.9,1856.3 209.9,1854.5 210.9,1852.7 211.9,1850.9 212.9,1849.0 214.0,1847.2 215.0,1845.3 216.0,1843.3 217.0,1841.5 218.0,1839.6 219.0,1837.9 220.0,1836.3 221.1,1834.8 222.1,1833.4 223.1,1832.0 224.1,1830.6 225.1,1829.4 226.1,1828.4 227.1,1827.5 228.2,1826.7 229.2,1826.1 230.2,1825.5 231.2,1825.0 232.2,1824.6 233.2,1824.3 234.2,1824.1 235.3,1824.2 236.3,1824.4 237.3,1824.7 238.3,1825.2 239.3,1825.9 240.3,1826.5 241.3,1827.3 242.4,1828.1 243.4,1828.9 244.4,1829.9 245.4,1831.0 246.4,1832.1 247.4,1833.3 248.4,1834.5 249.5,1835.7 250.5,1837.0 251.5,1838.2 252.5,1839.4 253.5,1840.7 254.5,1842.0 255.5,1843.2 256.6,1844.4 257.6,1845.4 258.6,1846.4 259.6,1847.4 260.6,1848.3 261.6,1849.2 262.6,1850.0 263.7,1850.8 264.7,1851.6 265.7,1852.4 266.7,1853.1 267.7,1853.9 268.7,1854.6 269.7,1855.3 270.8,1856.0 271.8,1856.6 272.8,1857.3 273.8,1857.9 274.8,1858.6 275.8,1859.3 276.8,1859.9 277.9,1860.6 278.9,1861.3 279.9,1862.0 280.9,1862.7 281.9,1863.4 282.9,1864.1 283.9,1864.8 285.0,1865.4 286.0,1866.0 287.0,1866.6 288.0,1867.1 289.0,1867.6 290.0,1868.1 291.0,1868.6 292.0,1869.1 293.1,1869.6 294.1,1870.1 295.1,1870.6 296.1,1871.0 297.1,1871.5 298.1,1872.0 299.1,1872.4 300.2,1872.9 301.2,1873.3 302.2,1873.7 303.2,1874.1 304.2,1874.5 305.2,1874.9 306.2,1875.3 307.3,1875.7 308.3,1876.1 309.3,1876.4 310.3,1876.8 311.3,1877.1 312.3,1877.4 313.3,1877.7 314.4,1877.9 315.4,1878.1 316.4,1878.3 317.4,1878.5 318.4,1878.7 319.4,1878.9 320.4,1879.0 321.5,1879.2 322.5,1879.2 L322.5,1879.3 Z" fill="url(#gL4)"/>
<polyline points="182.5,1879.3 183.5,1879.2 184.6,1879.0 185.6,1878.8 186.6,1878.5 187.6,1878.1 188.6,1877.7 189.6,1877.3 190.6,1876.8 191.7,1876.3 192.7,1875.7 193.7,1875.2 194.7,1874.5 195.7,1873.7 196.7,1872.8 197.7,1871.9 198.7,1870.8 199.8,1869.7 200.8,1868.5 201.8,1867.3 202.8,1866.0 203.8,1864.6 204.8,1863.1 205.8,1861.5 206.9,1859.9 207.9,1858.1 208.9,1856.3 209.9,1854.5 210.9,1852.7 211.9,1850.9 212.9,1849.0 214.0,1847.2 215.0,1845.3 216.0,1843.3 217.0,1841.5 218.0,1839.6 219.0,1837.9 220.0,1836.3 221.1,1834.8 222.1,1833.4 223.1,1832.0 224.1,1830.6 225.1,1829.4 226.1,1828.4 227.1,1827.5 228.2,1826.7 229.2,1826.1 230.2,1825.5 231.2,1825.0 232.2,1824.6 233.2,1824.3 234.2,1824.1 235.3,1824.2 236.3,1824.4 237.3,1824.7 238.3,1825.2 239.3,1825.9 240.3,1826.5 241.3,1827.3 242.4,1828.1 243.4,1828.9 244.4,1829.9 245.4,1831.0 246.4,1832.1 247.4,1833.3 248.4,1834.5 249.5,1835.7 250.5,1837.0 251.5,1838.2 252.5,1839.4 253.5,1840.7 254.5,1842.0 255.5,1843.2 256.6,1844.4 257.6,1845.4 258.6,1846.4 259.6,1847.4 260.6,1848.3 261.6,1849.2 262.6,1850.0 263.7,1850.8 264.7,1851.6 265.7,1852.4 266.7,1853.1 267.7,1853.9 268.7,1854.6 269.7,1855.3 270.8,1856.0 271.8,1856.6 272.8,1857.3 273.8,1857.9 274.8,1858.6 275.8,1859.3 276.8,1859.9 277.9,1860.6 278.9,1861.3 279.9,1862.0 280.9,1862.7 281.9,1863.4 282.9,1864.1 283.9,1864.8 285.0,1865.4 286.0,1866.0 287.0,1866.6 288.0,1867.1 289.0,1867.6 290.0,1868.1 291.0,1868.6 292.0,1869.1 293.1,1869.6 294.1,1870.1 295.1,1870.6 296.1,1871.0 297.1,1871.5 298.1,1872.0 299.1,1872.4 300.2,1872.9 301.2,1873.3 302.2,1873.7 303.2,1874.1 304.2,1874.5 305.2,1874.9 306.2,1875.3 307.3,1875.7 308.3,1876.1 309.3,1876.4 310.3,1876.8 311.3,1877.1 312.3,1877.4 313.3,1877.7 314.4,1877.9 315.4,1878.1 316.4,1878.3 317.4,1878.5 318.4,1878.7 319.4,1878.9 320.4,1879.0 321.5,1879.2 322.5,1879.2" class="rl"/>
<path d="M235.7,1904.7 L235.7,1904.7 236.8,1904.5 237.8,1904.3 238.8,1904.0 239.8,1903.6 240.9,1903.1 241.9,1902.5 242.9,1901.9 243.9,1901.2 244.9,1900.4 246.0,1899.5 247.0,1898.3 248.0,1896.9 249.0,1895.3 250.0,1893.5 251.1,1891.6 252.1,1889.6 253.1,1887.5 254.1,1885.2 255.1,1882.8 256.2,1880.2 257.2,1877.5 258.2,1874.7 259.2,1871.8 260.2,1869.0 261.3,1866.1 262.3,1863.2 263.3,1860.2 264.3,1857.2 265.4,1854.2 266.4,1851.4 267.4,1848.7 268.4,1846.2 269.4,1843.8 270.5,1841.6 271.5,1839.4 272.5,1837.4 273.5,1835.5 274.5,1833.9 275.6,1832.6 276.6,1831.5 277.6,1830.7 278.6,1830.0 279.6,1829.5 280.7,1829.2 281.7,1829.3 282.7,1829.5 283.7,1830.0 284.7,1830.7 285.8,1831.6 286.8,1832.7 287.8,1834.0 288.8,1835.6 289.9,1837.5 290.9,1839.5 291.9,1841.7 292.9,1844.0 293.9,1846.3 295.0,1848.8 296.0,1851.5 297.0,1854.4 298.0,1857.4 299.0,1860.4 300.1,1863.4 301.1,1866.3 302.1,1869.2 303.1,1872.1 304.1,1874.9 305.2,1877.8 306.2,1880.5 307.2,1883.1 308.2,1885.4 309.2,1887.6 310.3,1889.5 311.3,1891.2 312.3,1892.9 313.3,1894.4 314.3,1895.8 315.4,1897.0 316.4,1898.0 317.4,1898.9 318.4,1899.7 319.5,1900.3 320.5,1900.9 321.5,1901.5 322.5,1901.9 323.5,1902.4 324.6,1902.7 325.6,1903.0 326.6,1903.3 327.6,1903.6 328.6,1903.9 329.7,1904.1 330.7,1904.3 331.7,1904.5 332.7,1904.6 333.7,1904.7 L333.7,1904.7 Z" fill="url(#gL4)"/>
<polyline points="235.7,1904.7 236.8,1904.5 237.8,1904.3 238.8,1904.0 239.8,1903.6 240.9,1903.1 241.9,1902.5 242.9,1901.9 243.9,1901.2 244.9,1900.4 246.0,1899.5 247.0,1898.3 248.0,1896.9 249.0,1895.3 250.0,1893.5 251.1,1891.6 252.1,1889.6 253.1,1887.5 254.1,1885.2 255.1,1882.8 256.2,1880.2 257.2,1877.5 258.2,1874.7 259.2,1871.8 260.2,1869.0 261.3,1866.1 262.3,1863.2 263.3,1860.2 264.3,1857.2 265.4,1854.2 266.4,1851.4 267.4,1848.7 268.4,1846.2 269.4,1843.8 270.5,1841.6 271.5,1839.4 272.5,1837.4 273.5,1835.5 274.5,1833.9 275.6,1832.6 276.6,1831.5 277.6,1830.7 278.6,1830.0 279.6,1829.5 280.7,1829.2 281.7,1829.3 282.7,1829.5 283.7,1830.0 284.7,1830.7 285.8,1831.6 286.8,1832.7 287.8,1834.0 288.8,1835.6 289.9,1837.5 290.9,1839.5 291.9,1841.7 292.9,1844.0 293.9,1846.3 295.0,1848.8 296.0,1851.5 297.0,1854.4 298.0,1857.4 299.0,1860.4 300.1,1863.4 301.1,1866.3 302.1,1869.2 303.1,1872.1 304.1,1874.9 305.2,1877.8 306.2,1880.5 307.2,1883.1 308.2,1885.4 309.2,1887.6 310.3,1889.5 311.3,1891.2 312.3,1892.9 313.3,1894.4 314.3,1895.8 315.4,1897.0 316.4,1898.0 317.4,1898.9 318.4,1899.7 319.5,1900.3 320.5,1900.9 321.5,1901.5 322.5,1901.9 323.5,1902.4 324.6,1902.7 325.6,1903.0 326.6,1903.3 327.6,1903.6 328.6,1903.9 329.7,1904.1 330.7,1904.3 331.7,1904.5 332.7,1904.6 333.7,1904.7" class="rl"/>
<path d="M233.6,1549.5V1564.4M233.6,1580.6V1596.7M233.6,1613.0V1629.1M233.6,1645.3V1661.4M233.6,1677.7V1693.8M233.6,1710.0V1726.1M233.6,1742.4V1758.5M233.6,1774.8V1790.8M233.6,1807.1V1823.2M233.6,1839.5V1855.5M233.6,1871.8V1887.9M233.6,1904.2V1920.2" stroke="#ff0000" stroke-width="4.1" fill="none"/>
<path d="M600.8,1549.5V1564.4M600.8,1580.6V1596.7M600.8,1613.0V1629.1M600.8,1645.3V1661.4M600.8,1677.7V1693.8M600.8,1710.0V1726.1M600.8,1742.4V1758.5M600.8,1774.8V1790.8M600.8,1807.1V1823.2M600.8,1839.5V1855.5M600.8,1871.8V1887.9M600.8,1904.2V1920.2" stroke="#0000f0" stroke-width="4.1" fill="none"/>
<text transform="translate(88.5,1531.8) scale(0.947,1)" font-size="31.5" class="b">2022</text>
<text transform="translate(66.2,1625.7) scale(0.98,1)" font-size="21.7" text-anchor="end" class="b">J</text>
<text transform="translate(66.2,1651.1) scale(0.98,1)" font-size="21.7" text-anchor="end" class="b">F</text>
<text transform="translate(66.2,1676.5) scale(0.98,1)" font-size="21.7" text-anchor="end" class="b">M</text>
<text transform="translate(66.2,1701.9) scale(0.98,1)" font-size="21.7" text-anchor="end" class="b">A</text>
<text transform="translate(66.2,1727.3) scale(0.98,1)" font-size="21.7" text-anchor="end" class="b">M</text>
<text transform="translate(66.2,1752.7) scale(0.98,1)" font-size="21.7" text-anchor="end" class="b">J</text>
<text transform="translate(66.2,1778.1) scale(0.98,1)" font-size="21.7" text-anchor="end" class="b">J</text>
<text transform="translate(66.2,1803.5) scale(0.98,1)" font-size="21.7" text-anchor="end" class="b">A</text>
<text transform="translate(66.2,1828.9) scale(0.98,1)" font-size="21.7" text-anchor="end" class="b">S</text>
<text transform="translate(66.2,1854.3) scale(0.98,1)" font-size="21.7" text-anchor="end" class="b">O</text>
<text transform="translate(66.2,1879.7) scale(0.98,1)" font-size="21.7" text-anchor="end" class="b">N</text>
<text transform="translate(66.2,1905.1) scale(0.98,1)" font-size="21.7" text-anchor="end" class="b">D</text></g>
<g id="R1"><line x1="838.0" y1="93.0" x2="838.0" y2="505.0" class="vg"/>
<line x1="964.7" y1="93.0" x2="964.7" y2="505.0" class="vg"/>
<line x1="1091.5" y1="93.0" x2="1091.5" y2="505.0" class="vg"/>
<line x1="1218.2" y1="93.0" x2="1218.2" y2="505.0" class="vg"/>
<line x1="1344.9" y1="93.0" x2="1344.9" y2="505.0" class="vg"/>
<line x1="1471.6" y1="93.0" x2="1471.6" y2="505.0" class="vg"/>
<line x1="799.5" y1="176.2" x2="1504.0" y2="176.2" class="hg"/>
<line x1="799.5" y1="203.9" x2="1504.0" y2="203.9" class="hg"/>
<line x1="799.5" y1="231.6" x2="1504.0" y2="231.6" class="hg"/>
<line x1="799.5" y1="259.3" x2="1504.0" y2="259.3" class="hg"/>
<line x1="799.5" y1="287.0" x2="1504.0" y2="287.0" class="hg"/>
<line x1="799.5" y1="314.6" x2="1504.0" y2="314.6" class="hg"/>
<line x1="799.5" y1="342.3" x2="1504.0" y2="342.3" class="hg"/>
<line x1="799.5" y1="370.0" x2="1504.0" y2="370.0" class="hg"/>
<line x1="799.5" y1="397.7" x2="1504.0" y2="397.7" class="hg"/>
<line x1="799.5" y1="425.4" x2="1504.0" y2="425.4" class="hg"/>
<line x1="799.5" y1="453.1" x2="1504.0" y2="453.1" class="hg"/>
<line x1="799.5" y1="480.8" x2="1504.0" y2="480.8" class="hg"/>
<path d="M1036.5,176.2 L1036.5,176.1 1037.5,175.5 1038.6,174.2 1039.6,172.2 1040.7,169.0 1041.7,163.6 1042.8,156.2 1043.9,147.0 1044.9,136.2 1046.0,124.6 1047.0,113.3 1048.1,103.9 1049.1,97.3 1050.2,94.1 1051.2,94.1 1052.3,97.5 1053.4,104.7 1054.4,114.6 1055.5,126.0 1056.5,137.3 1057.6,147.7 1058.6,156.9 1059.7,164.5 1060.8,170.0 1061.8,173.4 1062.9,175.2 1063.9,176.0 L1063.9,176.2 Z" fill="url(#gR1)"/>
<polyline points="1036.5,176.1 1037.5,175.5 1038.6,174.2 1039.6,172.2 1040.7,169.0 1041.7,163.6 1042.8,156.2 1043.9,147.0 1044.9,136.2 1046.0,124.6 1047.0,113.3 1048.1,103.9 1049.1,97.3 1050.2,94.1 1051.2,94.1 1052.3,97.5 1053.4,104.7 1054.4,114.6 1055.5,126.0 1056.5,137.3 1057.6,147.7 1058.6,156.9 1059.7,164.5 1060.8,170.0 1061.8,173.4 1062.9,175.2 1063.9,176.0" class="rl"/>
<path d="M1037.9,203.9 L1037.9,203.7 1039.0,202.8 1040.1,201.2 1041.1,198.8 1042.2,195.4 1043.2,191.0 1044.3,185.8 1045.3,179.9 1046.4,173.9 1047.4,168.5 1048.5,163.7 1049.5,160.2 1050.6,158.0 1051.6,156.8 1052.7,156.8 1053.7,157.5 1054.8,158.6 1055.8,160.3 1056.9,162.2 1058.0,163.8 1059.0,165.2 1060.1,166.4 1061.1,167.5 1062.2,168.7 1063.2,170.4 1064.3,173.1 1065.3,176.3 1066.4,179.8 1067.4,183.6 1068.5,187.3 1069.5,190.8 1070.6,194.1 1071.6,197.0 1072.7,199.3 1073.7,201.1 1074.8,202.4 1075.9,203.3 1076.9,203.8 L1076.9,203.9 Z" fill="url(#gR1)"/>
<polyline points="1037.9,203.7 1039.0,202.8 1040.1,201.2 1041.1,198.8 1042.2,195.4 1043.2,191.0 1044.3,185.8 1045.3,179.9 1046.4,173.9 1047.4,168.5 1048.5,163.7 1049.5,160.2 1050.6,158.0 1051.6,156.8 1052.7,156.8 1053.7,157.5 1054.8,158.6 1055.8,160.3 1056.9,162.2 1058.0,163.8 1059.0,165.2 1060.1,166.4 1061.1,167.5 1062.2,168.7 1063.2,170.4 1064.3,173.1 1065.3,176.3 1066.4,179.8 1067.4,183.6 1068.5,187.3 1069.5,190.8 1070.6,194.1 1071.6,197.0 1072.7,199.3 1073.7,201.1 1074.8,202.4 1075.9,203.3 1076.9,203.8" class="rl"/>
<path d="M1059.7,231.6 L1059.7,231.4 1060.7,230.8 1061.7,229.8 1062.8,228.6 1063.8,227.1 1064.8,225.3 1065.9,223.2 1066.9,220.8 1067.9,218.1 1069.0,215.3 1070.0,213.0 1071.0,211.3 1072.0,210.2 1073.1,209.5 1074.1,209.1 1075.1,209.0 1076.2,209.3 1077.2,209.7 1078.2,210.2 1079.3,210.6 1080.3,211.0 1081.3,211.3 1082.4,211.5 1083.4,211.5 1084.4,211.5 1085.5,211.4 1086.5,211.3 1087.5,211.2 1088.6,211.1 1089.6,210.9 1090.6,210.6 1091.7,210.2 1092.7,209.9 1093.7,209.7 1094.8,209.6 1095.8,209.5 1096.8,209.4 1097.9,209.3 1098.9,209.3 1099.9,209.3 1101.0,209.4 1102.0,209.6 1103.0,209.9 1104.1,210.2 1105.1,210.7 1106.1,211.4 1107.2,212.3 1108.2,213.6 1109.2,215.4 1110.3,217.7 1111.3,220.1 1112.3,222.6 1113.4,224.8 1114.4,226.7 1115.4,228.3 1116.5,229.5 1117.5,230.4 1118.5,231.1 1119.6,231.5 L1119.6,231.6 Z" fill="url(#gR1)"/>
<polyline points="1059.7,231.4 1060.7,230.8 1061.7,229.8 1062.8,228.6 1063.8,227.1 1064.8,225.3 1065.9,223.2 1066.9,220.8 1067.9,218.1 1069.0,215.3 1070.0,213.0 1071.0,211.3 1072.0,210.2 1073.1,209.5 1074.1,209.1 1075.1,209.0 1076.2,209.3 1077.2,209.7 1078.2,210.2 1079.3,210.6 1080.3,211.0 1081.3,211.3 1082.4,211.5 1083.4,211.5 1084.4,211.5 1085.5,211.4 1086.5,211.3 1087.5,211.2 1088.6,211.1 1089.6,210.9 1090.6,210.6 1091.7,210.2 1092.7,209.9 1093.7,209.7 1094.8,209.6 1095.8,209.5 1096.8,209.4 1097.9,209.3 1098.9,209.3 1099.9,209.3 1101.0,209.4 1102.0,209.6 1103.0,209.9 1104.1,210.2 1105.1,210.7 1106.1,211.4 1107.2,212.3 1108.2,213.6 1109.2,215.4 1110.3,217.7 1111.3,220.1 1112.3,222.6 1113.4,224.8 1114.4,226.7 1115.4,228.3 1116.5,229.5 1117.5,230.4 1118.5,231.1 1119.6,231.5" class="rl"/>
<path d="M1105.1,259.3 L1105.1,259.2 1106.1,258.7 1107.1,257.7 1108.2,256.5 1109.2,254.8 1110.2,252.5 1111.2,249.8 1112.3,247.1 1113.3,244.7 1114.3,242.5 1115.3,240.5 1116.3,238.9 1117.4,237.6 1118.4,236.5 1119.4,235.6 1120.4,235.0 1121.5,234.5 1122.5,234.2 1123.5,234.0 1124.5,234.1 1125.6,234.4 1126.6,234.7 1127.6,234.9 1128.6,235.2 1129.6,235.4 1130.7,235.6 1131.7,235.5 1132.7,235.1 1133.7,234.5 1134.8,234.0 1135.8,233.5 1136.8,233.2 1137.8,233.0 1138.8,233.1 1139.9,233.6 1140.9,234.5 1141.9,236.0 1142.9,238.2 1144.0,240.5 1145.0,243.0 1146.0,245.4 1147.0,247.6 1148.0,249.5 1149.1,251.1 1150.1,252.4 1151.1,253.2 1152.1,253.9 1153.2,254.4 1154.2,254.7 1155.2,254.9 1156.2,255.0 1157.2,255.1 1158.3,255.1 1159.3,255.2 1160.3,255.4 1161.3,255.6 1162.4,255.8 1163.4,256.1 1164.4,256.4 1165.4,256.6 1166.5,256.9 1167.5,257.1 1168.5,257.3 1169.5,257.5 1170.5,257.4 1171.6,257.1 1172.6,256.6 1173.6,256.1 1174.6,255.7 1175.7,255.4 1176.7,255.2 1177.7,255.1 1178.7,255.0 1179.7,255.0 1180.8,255.0 1181.8,255.2 1182.8,255.4 1183.8,255.7 1184.9,256.0 1185.9,256.5 1186.9,257.1 1187.9,257.7 1188.9,258.2 1190.0,258.7 1191.0,259.1 L1191.0,259.3 Z" fill="url(#gR1)"/>
<polyline points="1105.1,259.2 1106.1,258.7 1107.1,257.7 1108.2,256.5 1109.2,254.8 1110.2,252.5 1111.2,249.8 1112.3,247.1 1113.3,244.7 1114.3,242.5 1115.3,240.5 1116.3,238.9 1117.4,237.6 1118.4,236.5 1119.4,235.6 1120.4,235.0 1121.5,234.5 1122.5,234.2 1123.5,234.0 1124.5,234.1 1125.6,234.4 1126.6,234.7 1127.6,234.9 1128.6,235.2 1129.6,235.4 1130.7,235.6 1131.7,235.5 1132.7,235.1 1133.7,234.5 1134.8,234.0 1135.8,233.5 1136.8,233.2 1137.8,233.0 1138.8,233.1 1139.9,233.6 1140.9,234.5 1141.9,236.0 1142.9,238.2 1144.0,240.5 1145.0,243.0 1146.0,245.4 1147.0,247.6 1148.0,249.5 1149.1,251.1 1150.1,252.4 1151.1,253.2 1152.1,253.9 1153.2,254.4 1154.2,254.7 1155.2,254.9 1156.2,255.0 1157.2,255.1 1158.3,255.1 1159.3,255.2 1160.3,255.4 1161.3,255.6 1162.4,255.8 1163.4,256.1 1164.4,256.4 1165.4,256.6 1166.5,256.9 1167.5,257.1 1168.5,257.3 1169.5,257.5 1170.5,257.4 1171.6,257.1 1172.6,256.6 1173.6,256.1 1174.6,255.7 1175.7,255.4 1176.7,255.2 1177.7,255.1 1178.7,255.0 1179.7,255.0 1180.8,255.0 1181.8,255.2 1182.8,255.4 1183.8,255.7 1184.9,256.0 1185.9,256.5 1186.9,257.1 1187.9,257.7 1188.9,258.2 1190.0,258.7 1191.0,259.1" class="rl"/>
<path d="M1183.9,287.0 L1183.9,286.8 1185.0,286.3 1186.0,285.4 1187.0,284.3 1188.0,282.9 1189.0,281.1 1190.1,279.0 1191.1,276.7 1192.1,273.9 1193.1,270.8 1194.1,267.6 1195.2,264.8 1196.2,262.2 1197.2,260.0 1198.2,258.6 1199.2,257.9 1200.3,257.7 1201.3,258.1 1202.3,259.2 1203.3,261.0 1204.3,263.5 1205.4,266.1 1206.4,268.1 1207.4,269.1 1208.4,268.5 1209.5,266.7 1210.5,264.3 1211.5,261.2 1212.5,258.1 1213.5,255.5 1214.6,253.6 1215.6,252.5 1216.6,252.2 1217.6,252.7 1218.6,254.1 1219.7,256.6 1220.7,259.9 1221.7,263.4 1222.7,266.9 1223.7,270.2 1224.8,273.2 1225.8,275.9 1226.8,278.2 1227.8,280.1 1228.8,281.7 1229.9,283.1 1230.9,284.2 1231.9,285.1 1232.9,285.8 1233.9,286.5 1235.0,286.9 L1235.0,287.0 Z" fill="url(#gR1)"/>
<polyline points="1183.9,286.8 1185.0,286.3 1186.0,285.4 1187.0,284.3 1188.0,282.9 1189.0,281.1 1190.1,279.0 1191.1,276.7 1192.1,273.9 1193.1,270.8 1194.1,267.6 1195.2,264.8 1196.2,262.2 1197.2,260.0 1198.2,258.6 1199.2,257.9 1200.3,257.7 1201.3,258.1 1202.3,259.2 1203.3,261.0 1204.3,263.5 1205.4,266.1 1206.4,268.1 1207.4,269.1 1208.4,268.5 1209.5,266.7 1210.5,264.3 1211.5,261.2 1212.5,258.1 1213.5,255.5 1214.6,253.6 1215.6,252.5 1216.6,252.2 1217.6,252.7 1218.6,254.1 1219.7,256.6 1220.7,259.9 1221.7,263.4 1222.7,266.9 1223.7,270.2 1224.8,273.2 1225.8,275.9 1226.8,278.2 1227.8,280.1 1228.8,281.7 1229.9,283.1 1230.9,284.2 1231.9,285.1 1232.9,285.8 1233.9,286.5 1235.0,286.9" class="rl"/>
<path d="M1168.2,314.6 L1168.2,314.5 1169.3,313.8 1170.5,313.1 1171.7,312.4 1172.8,311.9 1174.0,311.4 1175.1,311.3 1176.3,311.5 1177.5,311.9 1178.6,312.4 1179.8,313.1 1180.9,313.8 1182.1,314.5 L1182.1,314.6 Z" fill="url(#gR1)"/>
<polyline points="1168.2,314.5 1169.3,313.8 1170.5,313.1 1171.7,312.4 1172.8,311.9 1174.0,311.4 1175.1,311.3 1176.3,311.5 1177.5,311.9 1178.6,312.4 1179.8,313.1 1180.9,313.8 1182.1,314.5" class="rl"/>
<path d="M1198.8,314.6 L1198.8,314.5 1199.8,314.0 1200.9,313.3 1201.9,312.3 1202.9,311.3 1204.0,310.1 1205.0,308.7 1206.1,307.1 1207.1,305.2 1208.1,303.1 1209.2,300.5 1210.2,297.4 1211.3,293.9 1212.3,290.2 1213.4,286.1 1214.4,281.8 1215.4,277.6 1216.5,273.7 1217.5,269.8 1218.6,266.4 1219.6,263.4 1220.6,260.9 1221.7,259.0 1222.7,258.1 1223.8,257.8 1224.8,258.6 1225.8,260.6 1226.9,264.2 1227.9,269.1 1229.0,274.5 1230.0,280.0 1231.0,285.6 1232.1,290.8 1233.1,295.7 1234.2,300.1 1235.2,304.1 1236.2,307.4 1237.3,309.7 1238.3,311.6 1239.4,313.1 1240.4,314.1 1241.5,314.6 L1241.5,314.6 Z" fill="url(#gR1)"/>
<polyline points="1198.8,314.5 1199.8,314.0 1200.9,313.3 1201.9,312.3 1202.9,311.3 1204.0,310.1 1205.0,308.7 1206.1,307.1 1207.1,305.2 1208.1,303.1 1209.2,300.5 1210.2,297.4 1211.3,293.9 1212.3,290.2 1213.4,286.1 1214.4,281.8 1215.4,277.6 1216.5,273.7 1217.5,269.8 1218.6,266.4 1219.6,263.4 1220.6,260.9 1221.7,259.0 1222.7,258.1 1223.8,257.8 1224.8,258.6 1225.8,260.6 1226.9,264.2 1227.9,269.1 1229.0,274.5 1230.0,280.0 1231.0,285.6 1232.1,290.8 1233.1,295.7 1234.2,300.1 1235.2,304.1 1236.2,307.4 1237.3,309.7 1238.3,311.6 1239.4,313.1 1240.4,314.1 1241.5,314.6" class="rl"/>
<path d="M1102.3,342.3 L1102.3,342.2 1103.4,341.5 1104.4,340.3 1105.4,338.7 1106.5,336.5 1107.5,333.5 1108.5,329.9 1109.6,326.2 1110.6,322.6 1111.7,319.0 1112.7,315.7 1113.7,313.1 1114.8,311.0 1115.8,309.5 1116.9,308.6 1117.9,308.2 1118.9,308.2 1120.0,308.7 1121.0,309.6 1122.0,310.6 1123.1,311.9 1124.1,313.4 1125.2,314.9 1126.2,316.4 1127.2,317.9 1128.3,319.4 1129.3,320.8 1130.3,322.2 1131.4,323.5 1132.4,324.8 1133.5,326.1 1134.5,327.4 1135.5,328.8 1136.6,330.3 1137.6,331.8 1138.6,333.4 1139.7,335.3 1140.7,337.2 1141.8,338.9 1142.8,340.1 1143.8,341.1 1144.9,341.8 1145.9,342.2 L1145.9,342.3 Z" fill="url(#gR1)"/>
<polyline points="1102.3,342.2 1103.4,341.5 1104.4,340.3 1105.4,338.7 1106.5,336.5 1107.5,333.5 1108.5,329.9 1109.6,326.2 1110.6,322.6 1111.7,319.0 1112.7,315.7 1113.7,313.1 1114.8,311.0 1115.8,309.5 1116.9,308.6 1117.9,308.2 1118.9,308.2 1120.0,308.7 1121.0,309.6 1122.0,310.6 1123.1,311.9 1124.1,313.4 1125.2,314.9 1126.2,316.4 1127.2,317.9 1128.3,319.4 1129.3,320.8 1130.3,322.2 1131.4,323.5 1132.4,324.8 1133.5,326.1 1134.5,327.4 1135.5,328.8 1136.6,330.3 1137.6,331.8 1138.6,333.4 1139.7,335.3 1140.7,337.2 1141.8,338.9 1142.8,340.1 1143.8,341.1 1144.9,341.8 1145.9,342.2" class="rl"/>
<path d="M1170.6,342.3 L1170.6,342.2 1171.7,341.6 1172.7,340.5 1173.8,338.9 1174.9,336.8 1176.0,334.1 1177.1,331.3 1178.1,329.1 1179.2,327.3 1180.3,326.1 1181.4,325.6 1182.4,325.9 1183.5,327.0 1184.6,328.9 1185.7,331.4 1186.8,334.0 1187.8,336.4 1188.9,338.5 1190.0,340.0 1191.1,341.1 1192.1,341.9 1193.2,342.3 L1193.2,342.3 Z" fill="url(#gR1)"/>
<polyline points="1170.6,342.2 1171.7,341.6 1172.7,340.5 1173.8,338.9 1174.9,336.8 1176.0,334.1 1177.1,331.3 1178.1,329.1 1179.2,327.3 1180.3,326.1 1181.4,325.6 1182.4,325.9 1183.5,327.0 1184.6,328.9 1185.7,331.4 1186.8,334.0 1187.8,336.4 1188.9,338.5 1190.0,340.0 1191.1,341.1 1192.1,341.9 1193.2,342.3" class="rl"/>
<path d="M1097.7,370.0 L1097.7,369.9 1098.7,369.3 1099.7,368.4 1100.8,367.2 1101.8,365.7 1102.8,363.8 1103.8,361.6 1104.9,359.5 1105.9,357.8 1106.9,356.3 1108.0,355.4 1109.0,355.1 1110.0,355.3 1111.0,355.9 1112.1,356.8 1113.1,358.2 1114.1,359.6 1115.1,360.9 1116.2,361.9 1117.2,362.7 1118.2,363.1 1119.2,363.4 1120.3,363.5 1121.3,363.0 1122.3,361.0 1123.4,358.0 1124.4,354.5 1125.4,350.4 1126.4,346.1 1127.5,341.7 1128.5,337.6 1129.5,334.2 1130.5,331.4 1131.6,329.3 1132.6,327.7 1133.6,326.6 1134.7,326.0 1135.7,325.8 1136.7,326.0 1137.7,326.9 1138.8,328.5 1139.8,330.7 1140.8,333.6 1141.8,337.1 1142.9,341.1 1143.9,345.3 1144.9,349.3 1145.9,353.1 1147.0,356.5 1148.0,359.6 1149.0,362.4 1150.1,364.8 1151.1,366.7 1152.1,368.0 1153.1,369.0 1154.2,369.7 1155.2,370.0 L1155.2,370.0 Z" fill="url(#gR1)"/>
<polyline points="1097.7,369.9 1098.7,369.3 1099.7,368.4 1100.8,367.2 1101.8,365.7 1102.8,363.8 1103.8,361.6 1104.9,359.5 1105.9,357.8 1106.9,356.3 1108.0,355.4 1109.0,355.1 1110.0,355.3 1111.0,355.9 1112.1,356.8 1113.1,358.2 1114.1,359.6 1115.1,360.9 1116.2,361.9 1117.2,362.7 1118.2,363.1 1119.2,363.4 1120.3,363.5 1121.3,363.0 1122.3,361.0 1123.4,358.0 1124.4,354.5 1125.4,350.4 1126.4,346.1 1127.5,341.7 1128.5,337.6 1129.5,334.2 1130.5,331.4 1131.6,329.3 1132.6,327.7 1133.6,326.6 1134.7,326.0 1135.7,325.8 1136.7,326.0 1137.7,326.9 1138.8,328.5 1139.8,330.7 1140.8,333.6 1141.8,337.1 1142.9,341.1 1143.9,345.3 1144.9,349.3 1145.9,353.1 1147.0,356.5 1148.0,359.6 1149.0,362.4 1150.1,364.8 1151.1,366.7 1152.1,368.0 1153.1,369.0 1154.2,369.7 1155.2,370.0" class="rl"/>
<path d="M1064.7,397.7 L1064.7,397.5 1065.7,396.7 1066.8,395.7 1067.9,394.7 1069.0,393.6 1070.1,392.5 1071.2,391.8 1072.3,391.6 1073.4,391.8 1074.5,392.1 1075.5,392.5 1076.6,393.1 1077.7,394.0 1078.8,395.1 1079.9,396.3 1081.0,397.4 L1081.0,397.7 Z" fill="url(#gR1)"/>
<polyline points="1064.7,397.5 1065.7,396.7 1066.8,395.7 1067.9,394.7 1069.0,393.6 1070.1,392.5 1071.2,391.8 1072.3,391.6 1073.4,391.8 1074.5,392.1 1075.5,392.5 1076.6,393.1 1077.7,394.0 1078.8,395.1 1079.9,396.3 1081.0,397.4" class="rl"/>
<path d="M1091.2,397.7 L1091.2,397.5 1092.2,396.7 1093.3,395.7 1094.3,394.7 1095.3,393.8 1096.4,392.9 1097.4,392.0 1098.5,391.2 1099.5,390.4 1100.5,389.6 1101.6,388.9 1102.6,388.2 1103.6,387.3 1104.7,386.0 1105.7,384.1 1106.8,381.7 1107.8,379.2 1108.8,376.4 1109.9,373.4 1110.9,370.2 1112.0,367.1 1113.0,364.7 1114.0,362.9 1115.1,361.7 1116.1,361.1 1117.1,361.4 1118.2,362.2 1119.2,363.4 1120.3,364.9 1121.3,366.6 1122.3,368.0 1123.4,369.3 1124.4,370.6 1125.4,372.0 1126.5,373.6 1127.5,375.3 1128.6,377.3 1129.6,379.4 1130.6,382.0 1131.7,384.7 1132.7,387.2 1133.7,389.7 1134.8,392.0 1135.8,393.9 1136.9,395.4 1137.9,396.4 1138.9,397.2 1140.0,397.6 L1140.0,397.7 Z" fill="url(#gR1)"/>
<polyline points="1091.2,397.5 1092.2,396.7 1093.3,395.7 1094.3,394.7 1095.3,393.8 1096.4,392.9 1097.4,392.0 1098.5,391.2 1099.5,390.4 1100.5,389.6 1101.6,388.9 1102.6,388.2 1103.6,387.3 1104.7,386.0 1105.7,384.1 1106.8,381.7 1107.8,379.2 1108.8,376.4 1109.9,373.4 1110.9,370.2 1112.0,367.1 1113.0,364.7 1114.0,362.9 1115.1,361.7 1116.1,361.1 1117.1,361.4 1118.2,362.2 1119.2,363.4 1120.3,364.9 1121.3,366.6 1122.3,368.0 1123.4,369.3 1124.4,370.6 1125.4,372.0 1126.5,373.6 1127.5,375.3 1128.6,377.3 1129.6,379.4 1130.6,382.0 1131.7,384.7 1132.7,387.2 1133.7,389.7 1134.8,392.0 1135.8,393.9 1136.9,395.4 1137.9,396.4 1138.9,397.2 1140.0,397.6" class="rl"/>
<path d="M1056.5,425.4 L1056.5,425.3 1057.5,424.7 1058.6,423.7 1059.6,422.5 1060.7,420.9 1061.7,419.0 1062.8,416.7 1063.8,414.1 1064.9,411.3 1065.9,408.4 1066.9,405.2 1068.0,401.7 1069.0,397.9 1070.1,393.6 1071.1,388.7 1072.2,383.2 1073.2,377.7 1074.2,372.7 1075.3,368.4 1076.3,364.9 1077.4,362.4 1078.4,361.1 1079.5,361.0 1080.5,362.7 1081.6,366.8 1082.6,373.0 1083.6,380.5 1084.7,388.7 1085.7,396.8 1086.8,404.3 1087.8,410.8 1088.9,416.2 1089.9,420.1 1091.0,422.9 1092.0,424.5 1093.0,425.2 L1093.0,425.4 Z" fill="url(#gR1)"/>
<polyline points="1056.5,425.3 1057.5,424.7 1058.6,423.7 1059.6,422.5 1060.7,420.9 1061.7,419.0 1062.8,416.7 1063.8,414.1 1064.9,411.3 1065.9,408.4 1066.9,405.2 1068.0,401.7 1069.0,397.9 1070.1,393.6 1071.1,388.7 1072.2,383.2 1073.2,377.7 1074.2,372.7 1075.3,368.4 1076.3,364.9 1077.4,362.4 1078.4,361.1 1079.5,361.0 1080.5,362.7 1081.6,366.8 1082.6,373.0 1083.6,380.5 1084.7,388.7 1085.7,396.8 1086.8,404.3 1087.8,410.8 1088.9,416.2 1089.9,420.1 1091.0,422.9 1092.0,424.5 1093.0,425.2" class="rl"/>
<path d="M1013.3,453.1 L1013.3,452.6 1014.3,450.9 1015.3,448.6 1016.4,446.0 1017.4,443.1 1018.4,439.7 1019.4,436.1 1020.5,433.1 1021.5,430.8 1022.5,429.0 1023.5,427.8 1024.6,427.1 1025.6,427.1 1026.6,427.6 1027.6,428.4 1028.7,429.3 1029.7,430.3 1030.7,431.2 1031.7,432.0 1032.8,432.7 1033.8,433.4 1034.8,433.9 1035.8,434.2 1036.9,434.5 1037.9,434.7 1038.9,434.9 1039.9,435.0 1041.0,435.1 1042.0,435.1 1043.0,435.0 1044.0,435.0 1045.1,434.9 1046.1,434.8 1047.1,434.6 1048.1,434.4 1049.2,434.1 1050.2,433.9 1051.2,433.6 1052.2,433.5 1053.3,433.4 1054.3,433.3 1055.3,433.4 1056.3,433.7 1057.4,434.4 1058.4,435.2 1059.4,436.4 1060.4,438.0 1061.5,439.8 1062.5,441.7 1063.5,443.5 1064.5,445.4 1065.6,447.1 1066.6,448.7 1067.6,450.0 1068.6,451.1 1069.7,452.0 1070.7,452.6 1071.7,453.0 L1071.7,453.1 Z" fill="url(#gR1)"/>
<polyline points="1013.3,452.6 1014.3,450.9 1015.3,448.6 1016.4,446.0 1017.4,443.1 1018.4,439.7 1019.4,436.1 1020.5,433.1 1021.5,430.8 1022.5,429.0 1023.5,427.8 1024.6,427.1 1025.6,427.1 1026.6,427.6 1027.6,428.4 1028.7,429.3 1029.7,430.3 1030.7,431.2 1031.7,432.0 1032.8,432.7 1033.8,433.4 1034.8,433.9 1035.8,434.2 1036.9,434.5 1037.9,434.7 1038.9,434.9 1039.9,435.0 1041.0,435.1 1042.0,435.1 1043.0,435.0 1044.0,435.0 1045.1,434.9 1046.1,434.8 1047.1,434.6 1048.1,434.4 1049.2,434.1 1050.2,433.9 1051.2,433.6 1052.2,433.5 1053.3,433.4 1054.3,433.3 1055.3,433.4 1056.3,433.7 1057.4,434.4 1058.4,435.2 1059.4,436.4 1060.4,438.0 1061.5,439.8 1062.5,441.7 1063.5,443.5 1064.5,445.4 1065.6,447.1 1066.6,448.7 1067.6,450.0 1068.6,451.1 1069.7,452.0 1070.7,452.6 1071.7,453.0" class="rl"/>
<path d="M955.8,480.8 L955.8,480.5 956.9,479.6 958.0,478.5 959.1,477.2 960.2,475.9 961.3,474.5 962.4,473.4 963.6,472.5 964.7,472.0 965.8,472.1 966.9,472.8 968.0,473.7 969.1,475.0 970.2,476.4 971.4,477.6 972.5,478.7 973.6,479.8 974.7,480.6 L974.7,480.8 Z" fill="url(#gR1)"/>
<polyline points="955.8,480.5 956.9,479.6 958.0,478.5 959.1,477.2 960.2,475.9 961.3,474.5 962.4,473.4 963.6,472.5 964.7,472.0 965.8,472.1 966.9,472.8 968.0,473.7 969.1,475.0 970.2,476.4 971.4,477.6 972.5,478.7 973.6,479.8 974.7,480.6" class="rl"/>
<path d="M994.2,480.8 L994.2,480.5 995.2,479.6 996.2,478.1 997.3,476.2 998.3,473.8 999.4,470.9 1000.4,467.5 1001.4,464.0 1002.5,460.4 1003.5,456.6 1004.6,453.1 1005.6,449.8 1006.6,446.7 1007.7,444.0 1008.7,441.5 1009.8,439.3 1010.8,437.3 1011.8,435.8 1012.9,434.7 1013.9,434.0 1014.9,433.5 1016.0,433.6 1017.0,434.6 1018.1,436.7 1019.1,440.1 1020.1,444.6 1021.2,449.8 1022.2,455.5 1023.3,461.1 1024.3,466.2 1025.3,470.7 1026.4,474.4 1027.4,477.1 1028.5,478.9 1029.5,480.1 1030.5,480.7 L1030.5,480.8 Z" fill="url(#gR1)"/>
<polyline points="994.2,480.5 995.2,479.6 996.2,478.1 997.3,476.2 998.3,473.8 999.4,470.9 1000.4,467.5 1001.4,464.0 1002.5,460.4 1003.5,456.6 1004.6,453.1 1005.6,449.8 1006.6,446.7 1007.7,444.0 1008.7,441.5 1009.8,439.3 1010.8,437.3 1011.8,435.8 1012.9,434.7 1013.9,434.0 1014.9,433.5 1016.0,433.6 1017.0,434.6 1018.1,436.7 1019.1,440.1 1020.1,444.6 1021.2,449.8 1022.2,455.5 1023.3,461.1 1024.3,466.2 1025.3,470.7 1026.4,474.4 1027.4,477.1 1028.5,478.9 1029.5,480.1 1030.5,480.7" class="rl"/>
<path d="M1015.4,93.0V107.7M1015.4,123.9V140.0M1015.4,156.3V172.4M1015.4,188.7V204.8M1015.4,221.0V237.1M1015.4,253.3V269.4M1015.4,285.7V301.8M1015.4,318.1V334.2M1015.4,350.4V366.5M1015.4,382.8V398.9M1015.4,415.1V431.2M1015.4,447.5V463.6M1015.4,479.8V495.9" stroke="#ff0000" stroke-width="4.1" fill="none"/>
<path d="M1218.2,93.0V107.7M1218.2,123.9V140.0M1218.2,156.3V172.4M1218.2,188.7V204.8M1218.2,221.0V237.1M1218.2,253.3V269.4M1218.2,285.7V301.8M1218.2,318.1V334.2M1218.2,350.4V366.5M1218.2,382.8V398.9M1218.2,415.1V431.2M1218.2,447.5V463.6M1218.2,479.8V495.9" stroke="#0000f0" stroke-width="4.1" fill="none"/>
<text transform="translate(814.3,74.8) scale(0.947,1)" font-size="31.5" class="b">2019</text></g>
<g id="R2"><line x1="838.0" y1="578.5" x2="838.0" y2="991.3" class="vg"/>
<line x1="964.7" y1="578.5" x2="964.7" y2="991.3" class="vg"/>
<line x1="1091.5" y1="578.5" x2="1091.5" y2="991.3" class="vg"/>
<line x1="1218.2" y1="578.5" x2="1218.2" y2="991.3" class="vg"/>
<line x1="1344.9" y1="578.5" x2="1344.9" y2="991.3" class="vg"/>
<line x1="1471.6" y1="578.5" x2="1471.6" y2="991.3" class="vg"/>
<line x1="799.5" y1="656.7" x2="1504.0" y2="656.7" class="hg"/>
<line x1="799.5" y1="684.9" x2="1504.0" y2="684.9" class="hg"/>
<line x1="799.5" y1="713.0" x2="1504.0" y2="713.0" class="hg"/>
<line x1="799.5" y1="741.2" x2="1504.0" y2="741.2" class="hg"/>
<line x1="799.5" y1="769.4" x2="1504.0" y2="769.4" class="hg"/>
<line x1="799.5" y1="797.6" x2="1504.0" y2="797.6" class="hg"/>
<line x1="799.5" y1="825.7" x2="1504.0" y2="825.7" class="hg"/>
<line x1="799.5" y1="853.9" x2="1504.0" y2="853.9" class="hg"/>
<line x1="799.5" y1="882.1" x2="1504.0" y2="882.1" class="hg"/>
<line x1="799.5" y1="910.2" x2="1504.0" y2="910.2" class="hg"/>
<line x1="799.5" y1="938.4" x2="1504.0" y2="938.4" class="hg"/>
<line x1="799.5" y1="966.6" x2="1504.0" y2="966.6" class="hg"/>
<path d="M951.0,656.7 L951.0,656.4 952.1,655.1 953.2,651.7 954.2,644.9 955.3,634.0 956.4,620.8 957.5,606.8 958.5,594.1 959.6,584.9 960.7,580.2 961.8,580.0 962.8,585.2 963.9,597.1 965.0,612.9 966.1,628.0 967.1,640.2 968.2,648.6 969.3,653.2 970.3,655.5 971.4,656.5 L971.4,656.7 Z" fill="url(#gR2)"/>
<polyline points="951.0,656.4 952.1,655.1 953.2,651.7 954.2,644.9 955.3,634.0 956.4,620.8 957.5,606.8 958.5,594.1 959.6,584.9 960.7,580.2 961.8,580.0 962.8,585.2 963.9,597.1 965.0,612.9 966.1,628.0 967.1,640.2 968.2,648.6 969.3,653.2 970.3,655.5 971.4,656.5" class="rl"/>
<path d="M953.8,684.9 L953.8,684.6 954.8,683.3 955.9,681.0 956.9,677.4 958.0,672.6 959.0,667.1 960.0,661.5 961.1,656.5 962.1,652.6 963.1,650.3 964.2,649.3 965.2,649.6 966.3,650.9 967.3,652.0 968.3,652.9 969.4,653.3 970.4,653.3 971.5,653.1 972.5,653.2 973.5,653.9 974.6,655.8 975.6,659.2 976.7,664.1 977.7,669.7 978.7,674.8 979.8,678.9 980.8,681.4 981.8,682.9 982.9,683.9 983.9,684.5 985.0,684.8 L985.0,684.9 Z" fill="url(#gR2)"/>
<polyline points="953.8,684.6 954.8,683.3 955.9,681.0 956.9,677.4 958.0,672.6 959.0,667.1 960.0,661.5 961.1,656.5 962.1,652.6 963.1,650.3 964.2,649.3 965.2,649.6 966.3,650.9 967.3,652.0 968.3,652.9 969.4,653.3 970.4,653.3 971.5,653.1 972.5,653.2 973.5,653.9 974.6,655.8 975.6,659.2 976.7,664.1 977.7,669.7 978.7,674.8 979.8,678.9 980.8,681.4 981.8,682.9 982.9,683.9 983.9,684.5 985.0,684.8" class="rl"/>
<path d="M974.2,713.0 L974.2,712.8 975.2,711.9 976.3,710.3 977.3,708.3 978.3,705.7 979.3,702.8 980.3,700.0 981.4,697.7 982.4,696.6 983.4,696.1 984.4,695.9 985.5,696.1 986.5,696.5 987.5,696.9 988.5,697.0 989.6,697.0 990.6,696.8 991.6,696.7 992.6,696.5 993.7,696.4 994.7,696.2 995.7,696.0 996.7,695.9 997.8,695.7 998.8,695.6 999.8,695.4 1000.8,695.3 1001.9,695.3 1002.9,695.3 1003.9,695.6 1004.9,695.8 1006.0,696.0 1007.0,696.1 1008.0,695.9 1009.0,695.7 1010.0,695.5 1011.1,695.9 1012.1,697.1 1013.1,698.7 1014.1,700.8 1015.2,703.0 1016.2,705.1 1017.2,706.9 1018.2,708.6 1019.3,710.0 1020.3,711.2 1021.3,712.1 1022.3,712.7 1023.4,713.0 L1023.4,713.0 Z" fill="url(#gR2)"/>
<polyline points="974.2,712.8 975.2,711.9 976.3,710.3 977.3,708.3 978.3,705.7 979.3,702.8 980.3,700.0 981.4,697.7 982.4,696.6 983.4,696.1 984.4,695.9 985.5,696.1 986.5,696.5 987.5,696.9 988.5,697.0 989.6,697.0 990.6,696.8 991.6,696.7 992.6,696.5 993.7,696.4 994.7,696.2 995.7,696.0 996.7,695.9 997.8,695.7 998.8,695.6 999.8,695.4 1000.8,695.3 1001.9,695.3 1002.9,695.3 1003.9,695.6 1004.9,695.8 1006.0,696.0 1007.0,696.1 1008.0,695.9 1009.0,695.7 1010.0,695.5 1011.1,695.9 1012.1,697.1 1013.1,698.7 1014.1,700.8 1015.2,703.0 1016.2,705.1 1017.2,706.9 1018.2,708.6 1019.3,710.0 1020.3,711.2 1021.3,712.1 1022.3,712.7 1023.4,713.0" class="rl"/>
<path d="M1012.8,741.2 L1012.8,740.9 1013.8,739.7 1014.9,737.9 1015.9,735.8 1016.9,733.3 1017.9,730.6 1019.0,727.8 1020.0,725.1 1021.0,723.1 1022.1,721.8 1023.1,721.0 1024.1,720.7 1025.2,720.8 1026.2,721.0 1027.2,721.4 1028.2,722.0 1029.3,722.7 1030.3,722.9 1031.3,722.5 1032.4,721.9 1033.4,720.9 1034.4,719.8 1035.5,718.9 1036.5,718.3 1037.5,718.3 1038.6,718.9 1039.6,720.0 1040.6,721.2 1041.6,722.5 1042.7,723.7 1043.7,724.8 1044.7,725.9 1045.8,726.9 1046.8,728.0 1047.8,729.2 1048.9,730.5 1049.9,731.8 1050.9,733.2 1052.0,734.5 1053.0,735.8 1054.0,737.0 1055.0,738.1 1056.1,739.1 1057.1,740.0 1058.1,740.6 1059.2,741.1 L1059.2,741.2 Z" fill="url(#gR2)"/>
<polyline points="1012.8,740.9 1013.8,739.7 1014.9,737.9 1015.9,735.8 1016.9,733.3 1017.9,730.6 1019.0,727.8 1020.0,725.1 1021.0,723.1 1022.1,721.8 1023.1,721.0 1024.1,720.7 1025.2,720.8 1026.2,721.0 1027.2,721.4 1028.2,722.0 1029.3,722.7 1030.3,722.9 1031.3,722.5 1032.4,721.9 1033.4,720.9 1034.4,719.8 1035.5,718.9 1036.5,718.3 1037.5,718.3 1038.6,718.9 1039.6,720.0 1040.6,721.2 1041.6,722.5 1042.7,723.7 1043.7,724.8 1044.7,725.9 1045.8,726.9 1046.8,728.0 1047.8,729.2 1048.9,730.5 1049.9,731.8 1050.9,733.2 1052.0,734.5 1053.0,735.8 1054.0,737.0 1055.0,738.1 1056.1,739.1 1057.1,740.0 1058.1,740.6 1059.2,741.1" class="rl"/>
<path d="M1049.3,769.4 L1049.3,769.1 1050.4,767.9 1051.4,766.4 1052.4,764.9 1053.4,763.1 1054.5,761.3 1055.5,759.8 1056.5,758.6 1057.5,757.8 1058.6,757.1 1059.6,756.4 1060.6,755.8 1061.6,755.2 1062.7,754.6 1063.7,754.0 1064.7,753.2 1065.7,752.4 1066.8,751.6 1067.8,750.7 1068.8,750.0 1069.8,749.2 1070.8,748.5 1071.9,748.0 1072.9,747.7 1073.9,747.4 1074.9,747.3 1076.0,747.2 1077.0,747.3 1078.0,747.4 1079.0,747.6 1080.1,747.6 1081.1,747.3 1082.1,746.8 1083.1,746.8 1084.2,747.1 1085.2,748.0 1086.2,749.7 1087.2,752.5 1088.3,755.9 1089.3,759.4 1090.3,762.6 1091.3,765.1 1092.4,767.1 1093.4,768.4 1094.4,769.2 L1094.4,769.4 Z" fill="url(#gR2)"/>
<polyline points="1049.3,769.1 1050.4,767.9 1051.4,766.4 1052.4,764.9 1053.4,763.1 1054.5,761.3 1055.5,759.8 1056.5,758.6 1057.5,757.8 1058.6,757.1 1059.6,756.4 1060.6,755.8 1061.6,755.2 1062.7,754.6 1063.7,754.0 1064.7,753.2 1065.7,752.4 1066.8,751.6 1067.8,750.7 1068.8,750.0 1069.8,749.2 1070.8,748.5 1071.9,748.0 1072.9,747.7 1073.9,747.4 1074.9,747.3 1076.0,747.2 1077.0,747.3 1078.0,747.4 1079.0,747.6 1080.1,747.6 1081.1,747.3 1082.1,746.8 1083.1,746.8 1084.2,747.1 1085.2,748.0 1086.2,749.7 1087.2,752.5 1088.3,755.9 1089.3,759.4 1090.3,762.6 1091.3,765.1 1092.4,767.1 1093.4,768.4 1094.4,769.2" class="rl"/>
<path d="M1049.9,797.6 L1049.9,797.3 1050.9,796.4 1052.0,795.0 1053.0,793.4 1054.0,791.5 1055.1,789.4 1056.1,787.4 1057.1,785.7 1058.2,784.3 1059.2,783.3 1060.2,782.6 1061.3,782.2 1062.3,781.9 1063.3,781.9 1064.4,782.0 1065.4,782.1 1066.4,782.2 1067.5,782.4 1068.5,782.6 1069.5,783.0 1070.6,783.3 1071.6,783.8 1072.6,784.3 1073.7,784.8 1074.7,785.3 1075.7,785.7 1076.8,786.0 1077.8,786.2 1078.8,786.2 1079.9,785.9 1080.9,785.0 1081.9,783.8 1083.0,782.1 1084.0,779.8 1085.1,776.9 1086.1,773.4 1087.1,770.0 1088.2,767.4 1089.2,766.5 1090.2,767.8 1091.3,771.3 1092.3,776.7 1093.3,782.7 1094.4,788.1 1095.4,792.1 1096.4,794.8 1097.5,796.5 1098.5,797.4 L1098.5,797.6 Z" fill="url(#gR2)"/>
<polyline points="1049.9,797.3 1050.9,796.4 1052.0,795.0 1053.0,793.4 1054.0,791.5 1055.1,789.4 1056.1,787.4 1057.1,785.7 1058.2,784.3 1059.2,783.3 1060.2,782.6 1061.3,782.2 1062.3,781.9 1063.3,781.9 1064.4,782.0 1065.4,782.1 1066.4,782.2 1067.5,782.4 1068.5,782.6 1069.5,783.0 1070.6,783.3 1071.6,783.8 1072.6,784.3 1073.7,784.8 1074.7,785.3 1075.7,785.7 1076.8,786.0 1077.8,786.2 1078.8,786.2 1079.9,785.9 1080.9,785.0 1081.9,783.8 1083.0,782.1 1084.0,779.8 1085.1,776.9 1086.1,773.4 1087.1,770.0 1088.2,767.4 1089.2,766.5 1090.2,767.8 1091.3,771.3 1092.3,776.7 1093.3,782.7 1094.4,788.1 1095.4,792.1 1096.4,794.8 1097.5,796.5 1098.5,797.4" class="rl"/>
<path d="M1008.5,825.7 L1008.5,825.4 1009.6,824.3 1010.6,822.5 1011.6,820.3 1012.6,817.6 1013.7,814.9 1014.7,812.7 1015.7,811.0 1016.8,809.9 1017.8,809.3 1018.8,808.9 1019.8,808.7 1020.9,808.6 1021.9,808.6 1022.9,808.6 1024.0,808.6 1025.0,808.6 1026.0,808.6 1027.1,808.6 1028.1,808.7 1029.1,808.8 1030.1,808.9 1031.2,809.1 1032.2,809.3 1033.2,809.5 1034.3,809.8 1035.3,810.1 1036.3,810.3 1037.3,810.4 1038.4,810.5 1039.4,810.5 1040.4,810.5 1041.5,810.5 1042.5,810.5 1043.5,810.5 1044.6,810.5 1045.6,810.5 1046.6,810.5 1047.6,810.5 1048.7,810.9 1049.7,811.6 1050.7,812.5 1051.8,813.7 1052.8,815.4 1053.8,817.2 1054.8,819.1 1055.9,820.8 1056.9,822.2 1057.9,823.4 1059.0,824.4 1060.0,825.1 1061.0,825.6 L1061.0,825.7 Z" fill="url(#gR2)"/>
<polyline points="1008.5,825.4 1009.6,824.3 1010.6,822.5 1011.6,820.3 1012.6,817.6 1013.7,814.9 1014.7,812.7 1015.7,811.0 1016.8,809.9 1017.8,809.3 1018.8,808.9 1019.8,808.7 1020.9,808.6 1021.9,808.6 1022.9,808.6 1024.0,808.6 1025.0,808.6 1026.0,808.6 1027.1,808.6 1028.1,808.7 1029.1,808.8 1030.1,808.9 1031.2,809.1 1032.2,809.3 1033.2,809.5 1034.3,809.8 1035.3,810.1 1036.3,810.3 1037.3,810.4 1038.4,810.5 1039.4,810.5 1040.4,810.5 1041.5,810.5 1042.5,810.5 1043.5,810.5 1044.6,810.5 1045.6,810.5 1046.6,810.5 1047.6,810.5 1048.7,810.9 1049.7,811.6 1050.7,812.5 1051.8,813.7 1052.8,815.4 1053.8,817.2 1054.8,819.1 1055.9,820.8 1056.9,822.2 1057.9,823.4 1059.0,824.4 1060.0,825.1 1061.0,825.6" class="rl"/>
<path d="M994.6,853.9 L994.6,852.9 995.7,848.9 996.7,841.8 997.7,831.9 998.8,820.8 999.8,811.5 1000.9,806.6 1001.9,805.2 1003.0,806.5 1004.0,809.6 1005.0,813.8 1006.1,818.0 1007.1,821.7 1008.2,825.0 1009.2,828.1 1010.3,831.1 1011.3,834.3 1012.3,837.7 1013.4,841.2 1014.4,844.6 1015.5,847.7 1016.5,850.0 1017.6,851.8 1018.6,853.1 1019.7,853.7 L1019.7,853.9 Z" fill="url(#gR2)"/>
<polyline points="994.6,852.9 995.7,848.9 996.7,841.8 997.7,831.9 998.8,820.8 999.8,811.5 1000.9,806.6 1001.9,805.2 1003.0,806.5 1004.0,809.6 1005.0,813.8 1006.1,818.0 1007.1,821.7 1008.2,825.0 1009.2,828.1 1010.3,831.1 1011.3,834.3 1012.3,837.7 1013.4,841.2 1014.4,844.6 1015.5,847.7 1016.5,850.0 1017.6,851.8 1018.6,853.1 1019.7,853.7" class="rl"/>
<path d="M990.5,882.1 L990.5,879.6 991.6,870.3 992.7,855.3 993.8,836.8 994.8,818.9 995.9,805.4 997.0,800.2 998.1,804.8 999.1,817.2 1000.2,832.4 1001.3,846.3 1002.4,858.0 1003.4,867.5 1004.5,874.7 1005.6,879.2 1006.7,881.5 L1006.7,882.1 Z" fill="url(#gR2)"/>
<polyline points="990.5,879.6 991.6,870.3 992.7,855.3 993.8,836.8 994.8,818.9 995.9,805.4 997.0,800.2 998.1,804.8 999.1,817.2 1000.2,832.4 1001.3,846.3 1002.4,858.0 1003.4,867.5 1004.5,874.7 1005.6,879.2 1006.7,881.5" class="rl"/>
<path d="M983.8,910.2 L983.8,908.7 985.0,902.7 986.1,892.4 987.2,878.2 988.3,862.0 989.4,846.1 990.5,833.9 991.6,829.9 992.8,834.7 993.9,846.6 995.0,861.6 996.1,875.8 997.2,888.0 998.3,897.6 999.4,904.3 1000.5,908.2 1001.7,909.9 L1001.7,910.2 Z" fill="url(#gR2)"/>
<polyline points="983.8,908.7 985.0,902.7 986.1,892.4 987.2,878.2 988.3,862.0 989.4,846.1 990.5,833.9 991.6,829.9 992.8,834.7 993.9,846.6 995.0,861.6 996.1,875.8 997.2,888.0 998.3,897.6 999.4,904.3 1000.5,908.2 1001.7,909.9" class="rl"/>
<path d="M969.0,938.4 L969.0,937.9 970.0,936.1 971.1,933.4 972.1,930.0 973.2,926.0 974.2,921.4 975.2,916.3 976.3,911.2 977.3,907.0 978.3,904.2 979.4,902.9 980.4,902.5 981.5,902.5 982.5,902.3 983.5,901.8 984.6,901.0 985.6,900.2 986.6,899.9 987.7,900.9 988.7,903.5 989.8,907.7 990.8,913.2 991.8,919.6 992.9,926.0 993.9,931.1 994.9,934.6 996.0,936.8 997.0,938.1 L997.0,938.4 Z" fill="url(#gR2)"/>
<polyline points="969.0,937.9 970.0,936.1 971.1,933.4 972.1,930.0 973.2,926.0 974.2,921.4 975.2,916.3 976.3,911.2 977.3,907.0 978.3,904.2 979.4,902.9 980.4,902.5 981.5,902.5 982.5,902.3 983.5,901.8 984.6,901.0 985.6,900.2 986.6,899.9 987.7,900.9 988.7,903.5 989.8,907.7 990.8,913.2 991.8,919.6 992.9,926.0 993.9,931.1 994.9,934.6 996.0,936.8 997.0,938.1" class="rl"/>
<path d="M929.3,966.6 L929.3,966.3 930.4,965.4 931.5,964.4 932.5,963.7 933.6,963.2 934.7,962.8 935.8,962.6 936.8,962.6 937.9,962.7 939.0,962.9 940.1,963.2 941.1,963.6 942.2,964.2 943.3,964.8 944.4,965.6 945.4,966.4 L945.4,966.6 Z" fill="url(#gR2)"/>
<polyline points="929.3,966.3 930.4,965.4 931.5,964.4 932.5,963.7 933.6,963.2 934.7,962.8 935.8,962.6 936.8,962.6 937.9,962.7 939.0,962.9 940.1,963.2 941.1,963.6 942.2,964.2 943.3,964.8 944.4,965.6 945.4,966.4" class="rl"/>
<path d="M951.0,966.6 L951.0,966.4 952.1,965.7 953.1,965.0 954.1,964.4 955.2,964.0 956.2,963.7 957.3,963.5 958.3,963.0 959.4,962.0 960.4,960.1 961.4,957.9 962.5,955.3 963.5,952.4 964.6,949.4 965.6,946.6 966.7,944.1 967.7,942.3 968.7,940.9 969.8,939.4 970.8,937.4 971.9,935.2 972.9,933.3 974.0,932.2 975.0,932.4 976.0,934.6 977.1,938.2 978.1,942.9 979.2,947.4 980.2,950.8 981.3,952.7 982.3,953.6 983.3,953.6 984.4,953.2 985.4,953.1 986.5,953.7 987.5,954.9 988.6,956.6 989.6,958.6 990.6,960.4 991.7,961.8 992.7,963.1 993.8,964.1 994.8,965.0 995.9,965.7 996.9,966.2 997.9,966.5 L997.9,966.6 Z" fill="url(#gR2)"/>
<polyline points="951.0,966.4 952.1,965.7 953.1,965.0 954.1,964.4 955.2,964.0 956.2,963.7 957.3,963.5 958.3,963.0 959.4,962.0 960.4,960.1 961.4,957.9 962.5,955.3 963.5,952.4 964.6,949.4 965.6,946.6 966.7,944.1 967.7,942.3 968.7,940.9 969.8,939.4 970.8,937.4 971.9,935.2 972.9,933.3 974.0,932.2 975.0,932.4 976.0,934.6 977.1,938.2 978.1,942.9 979.2,947.4 980.2,950.8 981.3,952.7 982.3,953.6 983.3,953.6 984.4,953.2 985.4,953.1 986.5,953.7 987.5,954.9 988.6,956.6 989.6,958.6 990.6,960.4 991.7,961.8 992.7,963.1 993.8,964.1 994.8,965.0 995.9,965.7 996.9,966.2 997.9,966.5" class="rl"/>
<path d="M1015.4,578.5V592.8M1015.4,609.1V625.2M1015.4,641.4V657.5M1015.4,673.8V689.9M1015.4,706.1V722.2M1015.4,738.5V754.6M1015.4,770.8V786.9M1015.4,803.2V819.3M1015.4,835.5V851.6M1015.4,867.9V884.0M1015.4,900.2V916.3M1015.4,932.6V948.7M1015.4,964.9V981.0" stroke="#ff0000" stroke-width="4.1" fill="none"/>
<path d="M1218.2,578.5V592.8M1218.2,609.1V625.2M1218.2,641.4V657.5M1218.2,673.8V689.9M1218.2,706.1V722.2M1218.2,738.5V754.6M1218.2,770.8V786.9M1218.2,803.2V819.3M1218.2,835.5V851.6M1218.2,867.9V884.0M1218.2,900.2V916.3M1218.2,932.6V948.7M1218.2,964.9V981.0" stroke="#0000f0" stroke-width="4.1" fill="none"/>
<text transform="translate(814.3,559.6) scale(0.947,1)" font-size="31.5" class="b">2020</text></g>
<g id="R3"><line x1="838.0" y1="1064.1" x2="838.0" y2="1475.5" class="vg"/>
<line x1="964.7" y1="1064.1" x2="964.7" y2="1475.5" class="vg"/>
<line x1="1091.5" y1="1064.1" x2="1091.5" y2="1475.5" class="vg"/>
<line x1="1218.2" y1="1064.1" x2="1218.2" y2="1475.5" class="vg"/>
<line x1="1344.9" y1="1064.1" x2="1344.9" y2="1475.5" class="vg"/>
<line x1="1471.6" y1="1064.1" x2="1471.6" y2="1475.5" class="vg"/>
<line x1="799.5" y1="1104.0" x2="1504.0" y2="1104.0" class="hg"/>
<line x1="799.5" y1="1135.5" x2="1504.0" y2="1135.5" class="hg"/>
<line x1="799.5" y1="1167.0" x2="1504.0" y2="1167.0" class="hg"/>
<line x1="799.5" y1="1198.5" x2="1504.0" y2="1198.5" class="hg"/>
<line x1="799.5" y1="1230.0" x2="1504.0" y2="1230.0" class="hg"/>
<line x1="799.5" y1="1261.5" x2="1504.0" y2="1261.5" class="hg"/>
<line x1="799.5" y1="1292.9" x2="1504.0" y2="1292.9" class="hg"/>
<line x1="799.5" y1="1324.4" x2="1504.0" y2="1324.4" class="hg"/>
<line x1="799.5" y1="1355.9" x2="1504.0" y2="1355.9" class="hg"/>
<line x1="799.5" y1="1387.4" x2="1504.0" y2="1387.4" class="hg"/>
<line x1="799.5" y1="1418.9" x2="1504.0" y2="1418.9" class="hg"/>
<line x1="799.5" y1="1450.4" x2="1504.0" y2="1450.4" class="hg"/>
<path d="M984.5,1104.0 L984.5,1103.8 985.6,1102.8 986.6,1101.4 987.6,1099.7 988.7,1097.6 989.7,1095.0 990.7,1092.0 991.8,1088.9 992.8,1085.6 993.8,1082.1 994.9,1078.7 995.9,1075.7 996.9,1073.0 998.0,1070.6 999.0,1068.6 1000.0,1067.2 1001.1,1066.0 1002.1,1065.3 1003.1,1064.9 1004.2,1064.7 1005.2,1064.8 1006.2,1065.5 1007.3,1066.6 1008.3,1068.3 1009.4,1070.6 1010.4,1073.3 1011.4,1076.1 1012.5,1078.8 1013.5,1081.4 1014.5,1083.7 1015.6,1085.7 1016.6,1087.1 1017.6,1088.3 1018.7,1089.2 1019.7,1089.8 1020.7,1090.2 1021.8,1090.5 1022.8,1090.7 1023.8,1091.0 1024.9,1091.4 1025.9,1091.8 1026.9,1092.3 1028.0,1093.0 1029.0,1094.0 1030.0,1095.2 1031.1,1096.6 1032.1,1098.0 1033.1,1099.4 1034.2,1100.8 1035.2,1101.9 1036.3,1102.8 1037.3,1103.5 1038.3,1103.9 L1038.3,1104.0 Z" fill="url(#gR3)"/>
<polyline points="984.5,1103.8 985.6,1102.8 986.6,1101.4 987.6,1099.7 988.7,1097.6 989.7,1095.0 990.7,1092.0 991.8,1088.9 992.8,1085.6 993.8,1082.1 994.9,1078.7 995.9,1075.7 996.9,1073.0 998.0,1070.6 999.0,1068.6 1000.0,1067.2 1001.1,1066.0 1002.1,1065.3 1003.1,1064.9 1004.2,1064.7 1005.2,1064.8 1006.2,1065.5 1007.3,1066.6 1008.3,1068.3 1009.4,1070.6 1010.4,1073.3 1011.4,1076.1 1012.5,1078.8 1013.5,1081.4 1014.5,1083.7 1015.6,1085.7 1016.6,1087.1 1017.6,1088.3 1018.7,1089.2 1019.7,1089.8 1020.7,1090.2 1021.8,1090.5 1022.8,1090.7 1023.8,1091.0 1024.9,1091.4 1025.9,1091.8 1026.9,1092.3 1028.0,1093.0 1029.0,1094.0 1030.0,1095.2 1031.1,1096.6 1032.1,1098.0 1033.1,1099.4 1034.2,1100.8 1035.2,1101.9 1036.3,1102.8 1037.3,1103.5 1038.3,1103.9" class="rl"/>
<path d="M999.4,1135.5 L999.4,1135.3 1000.4,1134.5 1001.4,1133.3 1002.5,1131.9 1003.5,1130.2 1004.5,1128.1 1005.6,1126.0 1006.6,1124.5 1007.6,1123.5 1008.7,1123.0 1009.7,1123.2 1010.7,1124.3 1011.8,1125.9 1012.8,1128.1 1013.8,1130.3 1014.9,1131.8 1015.9,1132.9 1017.0,1133.6 1018.0,1133.8 1019.0,1133.8 1020.1,1133.8 1021.1,1133.3 1022.1,1131.6 1023.2,1128.6 1024.2,1124.2 1025.2,1118.6 1026.3,1112.6 1027.3,1106.7 1028.3,1101.2 1029.4,1096.5 1030.4,1093.0 1031.4,1090.7 1032.5,1089.5 1033.5,1088.9 1034.5,1088.5 1035.6,1088.5 1036.6,1088.6 1037.6,1089.0 1038.7,1090.1 1039.7,1092.4 1040.7,1095.9 1041.8,1100.7 1042.8,1106.2 1043.8,1111.8 1044.9,1117.4 1045.9,1122.4 1047.0,1126.8 1048.0,1130.0 1049.0,1132.4 1050.1,1133.9 1051.1,1134.8 1052.1,1135.2 1053.2,1135.4 L1053.2,1135.5 Z" fill="url(#gR3)"/>
<polyline points="999.4,1135.3 1000.4,1134.5 1001.4,1133.3 1002.5,1131.9 1003.5,1130.2 1004.5,1128.1 1005.6,1126.0 1006.6,1124.5 1007.6,1123.5 1008.7,1123.0 1009.7,1123.2 1010.7,1124.3 1011.8,1125.9 1012.8,1128.1 1013.8,1130.3 1014.9,1131.8 1015.9,1132.9 1017.0,1133.6 1018.0,1133.8 1019.0,1133.8 1020.1,1133.8 1021.1,1133.3 1022.1,1131.6 1023.2,1128.6 1024.2,1124.2 1025.2,1118.6 1026.3,1112.6 1027.3,1106.7 1028.3,1101.2 1029.4,1096.5 1030.4,1093.0 1031.4,1090.7 1032.5,1089.5 1033.5,1088.9 1034.5,1088.5 1035.6,1088.5 1036.6,1088.6 1037.6,1089.0 1038.7,1090.1 1039.7,1092.4 1040.7,1095.9 1041.8,1100.7 1042.8,1106.2 1043.8,1111.8 1044.9,1117.4 1045.9,1122.4 1047.0,1126.8 1048.0,1130.0 1049.0,1132.4 1050.1,1133.9 1051.1,1134.8 1052.1,1135.2 1053.2,1135.4" class="rl"/>
<path d="M1032.4,1167.0 L1032.4,1166.7 1033.4,1165.6 1034.4,1163.7 1035.5,1160.9 1036.5,1157.2 1037.5,1152.8 1038.5,1148.0 1039.6,1143.2 1040.6,1138.7 1041.6,1134.6 1042.6,1131.3 1043.6,1128.8 1044.7,1127.3 1045.7,1126.7 1046.7,1127.2 1047.7,1128.9 1048.8,1131.3 1049.8,1134.0 1050.8,1136.6 1051.8,1138.8 1052.9,1140.7 1053.9,1142.4 1054.9,1143.8 1055.9,1144.9 1057.0,1145.6 1058.0,1146.1 1059.0,1146.5 1060.0,1147.0 1061.1,1147.5 1062.1,1148.0 1063.1,1148.6 1064.1,1149.2 1065.1,1149.9 1066.2,1150.6 1067.2,1151.1 1068.2,1151.5 1069.2,1151.7 1070.3,1151.8 1071.3,1151.6 1072.3,1151.6 1073.3,1152.1 1074.4,1153.4 1075.4,1155.1 1076.4,1156.8 1077.4,1158.5 1078.5,1160.1 1079.5,1161.6 1080.5,1162.9 1081.5,1164.0 1082.6,1165.0 1083.6,1165.8 1084.6,1166.4 1085.6,1166.9 L1085.6,1167.0 Z" fill="url(#gR3)"/>
<polyline points="1032.4,1166.7 1033.4,1165.6 1034.4,1163.7 1035.5,1160.9 1036.5,1157.2 1037.5,1152.8 1038.5,1148.0 1039.6,1143.2 1040.6,1138.7 1041.6,1134.6 1042.6,1131.3 1043.6,1128.8 1044.7,1127.3 1045.7,1126.7 1046.7,1127.2 1047.7,1128.9 1048.8,1131.3 1049.8,1134.0 1050.8,1136.6 1051.8,1138.8 1052.9,1140.7 1053.9,1142.4 1054.9,1143.8 1055.9,1144.9 1057.0,1145.6 1058.0,1146.1 1059.0,1146.5 1060.0,1147.0 1061.1,1147.5 1062.1,1148.0 1063.1,1148.6 1064.1,1149.2 1065.1,1149.9 1066.2,1150.6 1067.2,1151.1 1068.2,1151.5 1069.2,1151.7 1070.3,1151.8 1071.3,1151.6 1072.3,1151.6 1073.3,1152.1 1074.4,1153.4 1075.4,1155.1 1076.4,1156.8 1077.4,1158.5 1078.5,1160.1 1079.5,1161.6 1080.5,1162.9 1081.5,1164.0 1082.6,1165.0 1083.6,1165.8 1084.6,1166.4 1085.6,1166.9" class="rl"/>
<path d="M1072.3,1198.5 L1072.3,1198.2 1073.3,1197.4 1074.3,1196.3 1075.3,1195.2 1076.3,1194.1 1077.4,1192.9 1078.4,1191.7 1079.4,1190.5 1080.4,1189.5 1081.4,1188.6 1082.4,1187.9 1083.5,1187.3 1084.5,1186.8 1085.5,1186.4 1086.5,1186.1 1087.5,1185.8 1088.5,1185.6 1089.6,1185.5 1090.6,1185.4 1091.6,1185.5 1092.6,1185.7 1093.6,1185.9 1094.6,1186.1 1095.7,1186.4 1096.7,1186.7 1097.7,1187.0 1098.7,1187.4 1099.7,1187.7 1100.7,1188.0 1101.8,1188.2 1102.8,1188.4 1103.8,1188.5 1104.8,1188.5 1105.8,1188.4 1106.8,1188.3 1107.9,1188.2 1108.9,1188.3 1109.9,1188.6 1110.9,1188.9 1111.9,1189.3 1112.9,1189.6 1114.0,1190.0 1115.0,1190.4 1116.0,1190.8 1117.0,1191.1 1118.0,1191.3 1119.0,1191.5 1120.1,1191.6 1121.1,1191.7 1122.1,1191.8 1123.1,1191.9 1124.1,1191.9 1125.1,1191.7 1126.2,1191.5 1127.2,1191.2 1128.2,1190.7 1129.2,1189.8 1130.2,1188.4 1131.2,1186.4 1132.3,1184.1 1133.3,1181.3 1134.3,1178.0 1135.3,1174.9 1136.3,1172.2 1137.3,1169.6 1138.4,1167.6 1139.4,1166.7 1140.4,1167.4 1141.4,1169.2 1142.4,1171.8 1143.4,1174.9 1144.5,1178.7 1145.5,1183.0 1146.5,1187.1 1147.5,1190.5 1148.5,1193.5 1149.5,1196.1 1150.6,1198.0 L1150.6,1198.5 Z" fill="url(#gR3)"/>
<polyline points="1072.3,1198.2 1073.3,1197.4 1074.3,1196.3 1075.3,1195.2 1076.3,1194.1 1077.4,1192.9 1078.4,1191.7 1079.4,1190.5 1080.4,1189.5 1081.4,1188.6 1082.4,1187.9 1083.5,1187.3 1084.5,1186.8 1085.5,1186.4 1086.5,1186.1 1087.5,1185.8 1088.5,1185.6 1089.6,1185.5 1090.6,1185.4 1091.6,1185.5 1092.6,1185.7 1093.6,1185.9 1094.6,1186.1 1095.7,1186.4 1096.7,1186.7 1097.7,1187.0 1098.7,1187.4 1099.7,1187.7 1100.7,1188.0 1101.8,1188.2 1102.8,1188.4 1103.8,1188.5 1104.8,1188.5 1105.8,1188.4 1106.8,1188.3 1107.9,1188.2 1108.9,1188.3 1109.9,1188.6 1110.9,1188.9 1111.9,1189.3 1112.9,1189.6 1114.0,1190.0 1115.0,1190.4 1116.0,1190.8 1117.0,1191.1 1118.0,1191.3 1119.0,1191.5 1120.1,1191.6 1121.1,1191.7 1122.1,1191.8 1123.1,1191.9 1124.1,1191.9 1125.1,1191.7 1126.2,1191.5 1127.2,1191.2 1128.2,1190.7 1129.2,1189.8 1130.2,1188.4 1131.2,1186.4 1132.3,1184.1 1133.3,1181.3 1134.3,1178.0 1135.3,1174.9 1136.3,1172.2 1137.3,1169.6 1138.4,1167.6 1139.4,1166.7 1140.4,1167.4 1141.4,1169.2 1142.4,1171.8 1143.4,1174.9 1144.5,1178.7 1145.5,1183.0 1146.5,1187.1 1147.5,1190.5 1148.5,1193.5 1149.5,1196.1 1150.6,1198.0" class="rl"/>
<path d="M1126.1,1230.0 L1126.1,1229.7 1127.1,1228.6 1128.2,1226.6 1129.2,1223.6 1130.3,1219.1 1131.3,1212.9 1132.4,1204.7 1133.4,1195.0 1134.5,1184.4 1135.5,1173.8 1136.6,1164.0 1137.6,1155.4 1138.7,1149.4 1139.7,1146.4 1140.7,1147.3 1141.8,1152.1 1142.8,1160.2 1143.9,1170.7 1144.9,1182.3 1146.0,1194.1 1147.0,1204.8 1148.1,1213.6 1149.1,1220.0 1150.2,1224.2 1151.2,1227.0 1152.3,1228.8 1153.3,1229.8 L1153.3,1230.0 Z" fill="url(#gR3)"/>
<polyline points="1126.1,1229.7 1127.1,1228.6 1128.2,1226.6 1129.2,1223.6 1130.3,1219.1 1131.3,1212.9 1132.4,1204.7 1133.4,1195.0 1134.5,1184.4 1135.5,1173.8 1136.6,1164.0 1137.6,1155.4 1138.7,1149.4 1139.7,1146.4 1140.7,1147.3 1141.8,1152.1 1142.8,1160.2 1143.9,1170.7 1144.9,1182.3 1146.0,1194.1 1147.0,1204.8 1148.1,1213.6 1149.1,1220.0 1150.2,1224.2 1151.2,1227.0 1152.3,1228.8 1153.3,1229.8" class="rl"/>
<path d="M1068.0,1261.5 L1068.0,1261.3 1069.0,1260.9 1070.0,1260.1 1071.1,1259.1 1072.1,1257.9 1073.1,1256.3 1074.1,1254.2 1075.1,1252.2 1076.2,1251.0 1077.2,1250.2 1078.2,1250.0 1079.2,1250.4 1080.2,1251.3 1081.2,1252.6 1082.3,1254.2 1083.3,1255.6 1084.3,1256.6 1085.3,1257.3 1086.3,1257.8 1087.4,1258.0 1088.4,1257.9 1089.4,1257.4 1090.4,1256.8 1091.4,1256.0 1092.5,1255.0 1093.5,1253.8 1094.5,1252.2 1095.5,1250.3 1096.5,1247.8 1097.6,1245.1 1098.6,1242.5 1099.6,1239.9 1100.6,1237.5 1101.6,1235.3 1102.7,1233.6 1103.7,1232.3 1104.7,1231.3 1105.7,1230.5 1106.7,1230.0 1107.7,1229.6 1108.8,1229.5 1109.8,1229.8 1110.8,1230.5 1111.8,1231.6 1112.8,1233.2 1113.9,1235.3 1114.9,1237.7 1115.9,1240.1 1116.9,1242.7 1117.9,1245.3 1119.0,1247.7 1120.0,1249.9 1121.0,1251.9 1122.0,1253.5 1123.0,1254.6 1124.1,1255.6 1125.1,1256.3 1126.1,1256.9 1127.1,1257.1 1128.1,1257.2 1129.1,1257.1 1130.2,1257.0 1131.2,1256.9 1132.2,1256.8 1133.2,1256.5 1134.2,1256.1 1135.3,1255.6 1136.3,1254.9 1137.3,1253.9 1138.3,1252.9 1139.3,1252.1 1140.4,1251.6 1141.4,1251.4 1142.4,1251.7 1143.4,1252.7 1144.4,1254.1 1145.5,1255.8 1146.5,1257.5 1147.5,1258.8 1148.5,1259.9 1149.5,1260.8 1150.6,1261.3 L1150.6,1261.5 Z" fill="url(#gR3)"/>
<polyline points="1068.0,1261.3 1069.0,1260.9 1070.0,1260.1 1071.1,1259.1 1072.1,1257.9 1073.1,1256.3 1074.1,1254.2 1075.1,1252.2 1076.2,1251.0 1077.2,1250.2 1078.2,1250.0 1079.2,1250.4 1080.2,1251.3 1081.2,1252.6 1082.3,1254.2 1083.3,1255.6 1084.3,1256.6 1085.3,1257.3 1086.3,1257.8 1087.4,1258.0 1088.4,1257.9 1089.4,1257.4 1090.4,1256.8 1091.4,1256.0 1092.5,1255.0 1093.5,1253.8 1094.5,1252.2 1095.5,1250.3 1096.5,1247.8 1097.6,1245.1 1098.6,1242.5 1099.6,1239.9 1100.6,1237.5 1101.6,1235.3 1102.7,1233.6 1103.7,1232.3 1104.7,1231.3 1105.7,1230.5 1106.7,1230.0 1107.7,1229.6 1108.8,1229.5 1109.8,1229.8 1110.8,1230.5 1111.8,1231.6 1112.8,1233.2 1113.9,1235.3 1114.9,1237.7 1115.9,1240.1 1116.9,1242.7 1117.9,1245.3 1119.0,1247.7 1120.0,1249.9 1121.0,1251.9 1122.0,1253.5 1123.0,1254.6 1124.1,1255.6 1125.1,1256.3 1126.1,1256.9 1127.1,1257.1 1128.1,1257.2 1129.1,1257.1 1130.2,1257.0 1131.2,1256.9 1132.2,1256.8 1133.2,1256.5 1134.2,1256.1 1135.3,1255.6 1136.3,1254.9 1137.3,1253.9 1138.3,1252.9 1139.3,1252.1 1140.4,1251.6 1141.4,1251.4 1142.4,1251.7 1143.4,1252.7 1144.4,1254.1 1145.5,1255.8 1146.5,1257.5 1147.5,1258.8 1148.5,1259.9 1149.5,1260.8 1150.6,1261.3" class="rl"/>
<path d="M1048.5,1292.9 L1048.5,1291.9 1049.6,1288.3 1050.6,1282.9 1051.6,1276.5 1052.7,1269.8 1053.7,1264.7 1054.7,1261.2 1055.8,1258.7 1056.8,1257.0 1057.9,1255.8 1058.9,1255.0 1059.9,1254.6 1061.0,1254.3 1062.0,1254.2 1063.0,1254.2 1064.1,1254.4 1065.1,1254.7 1066.1,1255.1 1067.2,1255.6 1068.2,1256.5 1069.3,1257.5 1070.3,1259.0 1071.3,1261.2 1072.4,1264.0 1073.4,1267.5 1074.4,1271.5 1075.5,1275.5 1076.5,1279.4 1077.5,1282.8 1078.6,1285.6 1079.6,1287.9 1080.7,1289.7 1081.7,1291.1 1082.7,1292.1 1083.8,1292.8 L1083.8,1292.9 Z" fill="url(#gR3)"/>
<polyline points="1048.5,1291.9 1049.6,1288.3 1050.6,1282.9 1051.6,1276.5 1052.7,1269.8 1053.7,1264.7 1054.7,1261.2 1055.8,1258.7 1056.8,1257.0 1057.9,1255.8 1058.9,1255.0 1059.9,1254.6 1061.0,1254.3 1062.0,1254.2 1063.0,1254.2 1064.1,1254.4 1065.1,1254.7 1066.1,1255.1 1067.2,1255.6 1068.2,1256.5 1069.3,1257.5 1070.3,1259.0 1071.3,1261.2 1072.4,1264.0 1073.4,1267.5 1074.4,1271.5 1075.5,1275.5 1076.5,1279.4 1077.5,1282.8 1078.6,1285.6 1079.6,1287.9 1080.7,1289.7 1081.7,1291.1 1082.7,1292.1 1083.8,1292.8" class="rl"/>
<path d="M1038.3,1324.4 L1038.3,1323.2 1039.4,1318.0 1040.5,1307.5 1041.6,1291.0 1042.7,1271.5 1043.8,1252.6 1044.9,1238.4 1046.0,1232.4 1047.1,1234.3 1048.2,1243.0 1049.3,1256.2 1050.3,1270.6 1051.4,1284.0 1052.5,1295.8 1053.6,1305.6 1054.7,1312.8 1055.8,1317.9 1056.9,1321.2 1058.0,1323.2 1059.1,1324.2 L1059.1,1324.4 Z" fill="url(#gR3)"/>
<polyline points="1038.3,1323.2 1039.4,1318.0 1040.5,1307.5 1041.6,1291.0 1042.7,1271.5 1043.8,1252.6 1044.9,1238.4 1046.0,1232.4 1047.1,1234.3 1048.2,1243.0 1049.3,1256.2 1050.3,1270.6 1051.4,1284.0 1052.5,1295.8 1053.6,1305.6 1054.7,1312.8 1055.8,1317.9 1056.9,1321.2 1058.0,1323.2 1059.1,1324.2" class="rl"/>
<path d="M1023.1,1355.9 L1023.1,1355.6 1024.2,1354.3 1025.2,1352.3 1026.3,1349.8 1027.3,1346.8 1028.4,1343.1 1029.4,1339.2 1030.5,1335.0 1031.5,1330.8 1032.6,1326.5 1033.7,1322.3 1034.7,1318.0 1035.8,1313.8 1036.8,1309.6 1037.9,1305.6 1038.9,1301.8 1040.0,1298.7 1041.0,1296.4 1042.1,1294.8 1043.2,1294.3 1044.2,1294.8 1045.3,1297.4 1046.3,1302.5 1047.4,1309.5 1048.4,1317.8 1049.5,1326.3 1050.5,1334.1 1051.6,1340.8 1052.6,1346.2 1053.7,1350.4 1054.8,1353.1 1055.8,1354.9 1056.9,1355.7 L1056.9,1355.9 Z" fill="url(#gR3)"/>
<polyline points="1023.1,1355.6 1024.2,1354.3 1025.2,1352.3 1026.3,1349.8 1027.3,1346.8 1028.4,1343.1 1029.4,1339.2 1030.5,1335.0 1031.5,1330.8 1032.6,1326.5 1033.7,1322.3 1034.7,1318.0 1035.8,1313.8 1036.8,1309.6 1037.9,1305.6 1038.9,1301.8 1040.0,1298.7 1041.0,1296.4 1042.1,1294.8 1043.2,1294.3 1044.2,1294.8 1045.3,1297.4 1046.3,1302.5 1047.4,1309.5 1048.4,1317.8 1049.5,1326.3 1050.5,1334.1 1051.6,1340.8 1052.6,1346.2 1053.7,1350.4 1054.8,1353.1 1055.8,1354.9 1056.9,1355.7" class="rl"/>
<path d="M1018.8,1387.4 L1018.8,1387.1 1019.9,1386.1 1020.9,1384.6 1021.9,1382.7 1023.0,1380.4 1024.0,1377.9 1025.0,1375.6 1026.0,1373.6 1027.1,1372.1 1028.1,1371.3 1029.1,1371.4 1030.2,1372.3 1031.2,1374.2 1032.2,1377.1 1033.2,1379.3 1034.3,1380.7 1035.3,1381.1 1036.3,1379.6 1037.4,1375.5 1038.4,1369.9 1039.4,1363.6 1040.5,1356.8 1041.5,1349.4 1042.5,1342.0 1043.5,1335.5 1044.6,1331.0 1045.6,1329.1 1046.6,1329.5 1047.7,1332.4 1048.7,1337.7 1049.7,1344.3 1050.7,1351.3 1051.8,1357.8 1052.8,1363.8 1053.8,1369.1 1054.9,1373.6 1055.9,1377.5 1056.9,1380.6 1057.9,1382.9 1059.0,1384.7 1060.0,1385.9 1061.0,1386.8 1062.1,1387.3 L1062.1,1387.4 Z" fill="url(#gR3)"/>
<polyline points="1018.8,1387.1 1019.9,1386.1 1020.9,1384.6 1021.9,1382.7 1023.0,1380.4 1024.0,1377.9 1025.0,1375.6 1026.0,1373.6 1027.1,1372.1 1028.1,1371.3 1029.1,1371.4 1030.2,1372.3 1031.2,1374.2 1032.2,1377.1 1033.2,1379.3 1034.3,1380.7 1035.3,1381.1 1036.3,1379.6 1037.4,1375.5 1038.4,1369.9 1039.4,1363.6 1040.5,1356.8 1041.5,1349.4 1042.5,1342.0 1043.5,1335.5 1044.6,1331.0 1045.6,1329.1 1046.6,1329.5 1047.7,1332.4 1048.7,1337.7 1049.7,1344.3 1050.7,1351.3 1051.8,1357.8 1052.8,1363.8 1053.8,1369.1 1054.9,1373.6 1055.9,1377.5 1056.9,1380.6 1057.9,1382.9 1059.0,1384.7 1060.0,1385.9 1061.0,1386.8 1062.1,1387.3" class="rl"/>
<path d="M1010.5,1418.9 L1010.5,1418.6 1011.5,1417.8 1012.6,1416.7 1013.6,1415.6 1014.6,1414.5 1015.7,1413.3 1016.7,1412.3 1017.7,1411.4 1018.8,1410.8 1019.8,1410.4 1020.8,1410.0 1021.9,1409.7 1022.9,1409.4 1023.9,1409.0 1025.0,1408.6 1026.0,1407.8 1027.0,1406.5 1028.1,1404.5 1029.1,1401.1 1030.1,1396.3 1031.2,1390.4 1032.2,1383.5 1033.2,1376.0 1034.3,1368.2 1035.3,1360.7 1036.3,1354.0 1037.4,1348.9 1038.4,1345.8 1039.5,1345.0 1040.5,1346.7 1041.5,1352.0 1042.6,1361.0 1043.6,1371.1 1044.6,1381.2 1045.7,1390.5 1046.7,1398.7 1047.7,1405.8 1048.8,1411.4 1049.8,1415.4 1050.8,1417.6 1051.9,1418.7 L1051.9,1418.9 Z" fill="url(#gR3)"/>
<polyline points="1010.5,1418.6 1011.5,1417.8 1012.6,1416.7 1013.6,1415.6 1014.6,1414.5 1015.7,1413.3 1016.7,1412.3 1017.7,1411.4 1018.8,1410.8 1019.8,1410.4 1020.8,1410.0 1021.9,1409.7 1022.9,1409.4 1023.9,1409.0 1025.0,1408.6 1026.0,1407.8 1027.0,1406.5 1028.1,1404.5 1029.1,1401.1 1030.1,1396.3 1031.2,1390.4 1032.2,1383.5 1033.2,1376.0 1034.3,1368.2 1035.3,1360.7 1036.3,1354.0 1037.4,1348.9 1038.4,1345.8 1039.5,1345.0 1040.5,1346.7 1041.5,1352.0 1042.6,1361.0 1043.6,1371.1 1044.6,1381.2 1045.7,1390.5 1046.7,1398.7 1047.7,1405.8 1048.8,1411.4 1049.8,1415.4 1050.8,1417.6 1051.9,1418.7" class="rl"/>
<path d="M980.8,1450.4 L980.8,1450.2 981.8,1449.3 982.9,1447.8 983.9,1446.0 984.9,1443.6 985.9,1440.7 986.9,1437.4 988.0,1434.0 989.0,1430.5 990.0,1427.3 991.0,1424.4 992.1,1422.3 993.1,1421.2 994.1,1420.7 995.1,1420.7 996.1,1421.2 997.2,1422.1 998.2,1423.1 999.2,1424.3 1000.2,1425.4 1001.3,1426.4 1002.3,1427.3 1003.3,1428.0 1004.3,1428.2 1005.3,1428.2 1006.4,1428.1 1007.4,1427.8 1008.4,1427.3 1009.4,1426.8 1010.5,1426.4 1011.5,1426.2 1012.5,1426.3 1013.5,1427.3 1014.5,1429.0 1015.6,1431.4 1016.6,1434.2 1017.6,1437.1 1018.6,1439.9 1019.7,1442.4 1020.7,1444.6 1021.7,1446.4 1022.7,1447.8 1023.8,1448.8 1024.8,1449.6 1025.8,1450.1 1026.8,1450.3 L1026.8,1450.4 Z" fill="url(#gR3)"/>
<polyline points="980.8,1450.2 981.8,1449.3 982.9,1447.8 983.9,1446.0 984.9,1443.6 985.9,1440.7 986.9,1437.4 988.0,1434.0 989.0,1430.5 990.0,1427.3 991.0,1424.4 992.1,1422.3 993.1,1421.2 994.1,1420.7 995.1,1420.7 996.1,1421.2 997.2,1422.1 998.2,1423.1 999.2,1424.3 1000.2,1425.4 1001.3,1426.4 1002.3,1427.3 1003.3,1428.0 1004.3,1428.2 1005.3,1428.2 1006.4,1428.1 1007.4,1427.8 1008.4,1427.3 1009.4,1426.8 1010.5,1426.4 1011.5,1426.2 1012.5,1426.3 1013.5,1427.3 1014.5,1429.0 1015.6,1431.4 1016.6,1434.2 1017.6,1437.1 1018.6,1439.9 1019.7,1442.4 1020.7,1444.6 1021.7,1446.4 1022.7,1447.8 1023.8,1448.8 1024.8,1449.6 1025.8,1450.1 1026.8,1450.3" class="rl"/>
<path d="M1032.8,1450.4 L1032.8,1450.2 1033.8,1449.3 1034.9,1448.1 1035.9,1446.6 1037.0,1444.9 1038.1,1443.0 1039.1,1441.2 1040.2,1439.5 1041.2,1438.1 1042.3,1437.1 1043.4,1436.5 1044.4,1436.6 1045.5,1437.5 1046.5,1438.9 1047.6,1440.8 1048.7,1442.8 1049.7,1444.7 1050.8,1446.4 1051.8,1447.8 1052.9,1448.9 1054.0,1449.7 1055.0,1450.3 L1055.0,1450.4 Z" fill="url(#gR3)"/>
<polyline points="1032.8,1450.2 1033.8,1449.3 1034.9,1448.1 1035.9,1446.6 1037.0,1444.9 1038.1,1443.0 1039.1,1441.2 1040.2,1439.5 1041.2,1438.1 1042.3,1437.1 1043.4,1436.5 1044.4,1436.6 1045.5,1437.5 1046.5,1438.9 1047.6,1440.8 1048.7,1442.8 1049.7,1444.7 1050.8,1446.4 1051.8,1447.8 1052.9,1448.9 1054.0,1449.7 1055.0,1450.3" class="rl"/>
<path d="M1015.4,1064.1V1077.7M1015.4,1093.9V1110.0M1015.4,1126.3V1142.4M1015.4,1158.6V1174.7M1015.4,1191.0V1207.1M1015.4,1223.3V1239.4M1015.4,1255.7V1271.8M1015.4,1288.0V1304.1M1015.4,1320.4V1336.5M1015.4,1352.8V1368.8M1015.4,1385.1V1401.2M1015.4,1417.4V1433.5M1015.4,1449.8V1465.9" stroke="#ff0000" stroke-width="4.1" fill="none"/>
<path d="M1218.2,1064.1V1077.7M1218.2,1093.9V1110.0M1218.2,1126.3V1142.4M1218.2,1158.6V1174.7M1218.2,1191.0V1207.1M1218.2,1223.3V1239.4M1218.2,1255.7V1271.8M1218.2,1288.0V1304.1M1218.2,1320.4V1336.5M1218.2,1352.8V1368.8M1218.2,1385.1V1401.2M1218.2,1417.4V1433.5M1218.2,1449.8V1465.9" stroke="#0000f0" stroke-width="4.1" fill="none"/>
<text transform="translate(814.3,1045.7) scale(0.947,1)" font-size="31.5" class="b">2021</text></g>
<g id="R4"><line x1="838.0" y1="1549.5" x2="838.0" y2="1927.7" class="vg"/>
<line x1="964.7" y1="1549.5" x2="964.7" y2="1927.7" class="vg"/>
<line x1="1091.5" y1="1549.5" x2="1091.5" y2="1927.7" class="vg"/>
<line x1="1218.2" y1="1549.5" x2="1218.2" y2="1927.7" class="vg"/>
<line x1="1344.9" y1="1549.5" x2="1344.9" y2="1927.7" class="vg"/>
<line x1="1471.6" y1="1549.5" x2="1471.6" y2="1927.7" class="vg"/>
<line x1="799.5" y1="1620.3" x2="1504.0" y2="1620.3" class="hg"/>
<line x1="799.5" y1="1646.7" x2="1504.0" y2="1646.7" class="hg"/>
<line x1="799.5" y1="1673.0" x2="1504.0" y2="1673.0" class="hg"/>
<line x1="799.5" y1="1699.4" x2="1504.0" y2="1699.4" class="hg"/>
<line x1="799.5" y1="1725.8" x2="1504.0" y2="1725.8" class="hg"/>
<line x1="799.5" y1="1752.1" x2="1504.0" y2="1752.1" class="hg"/>
<line x1="799.5" y1="1778.5" x2="1504.0" y2="1778.5" class="hg"/>
<line x1="799.5" y1="1804.9" x2="1504.0" y2="1804.9" class="hg"/>
<line x1="799.5" y1="1831.3" x2="1504.0" y2="1831.3" class="hg"/>
<line x1="799.5" y1="1857.6" x2="1504.0" y2="1857.6" class="hg"/>
<line x1="799.5" y1="1884.0" x2="1504.0" y2="1884.0" class="hg"/>
<line x1="799.5" y1="1910.4" x2="1504.0" y2="1910.4" class="hg"/>
<path d="M1019.4,1620.3 L1019.4,1620.2 1020.4,1619.7 1021.5,1618.5 1022.5,1616.9 1023.5,1614.6 1024.6,1611.4 1025.6,1607.3 1026.6,1602.2 1027.7,1596.4 1028.7,1590.4 1029.7,1584.2 1030.8,1578.0 1031.8,1572.1 1032.8,1566.5 1033.8,1561.7 1034.9,1557.7 1035.9,1554.5 1036.9,1552.3 1038.0,1550.9 1039.0,1550.3 1040.0,1550.3 1041.1,1551.1 1042.1,1553.4 1043.1,1557.1 1044.2,1562.4 1045.2,1568.6 1046.2,1575.6 1047.3,1582.9 1048.3,1590.1 1049.3,1596.5 1050.4,1602.0 1051.4,1606.4 1052.4,1609.9 1053.5,1612.7 1054.5,1614.9 1055.5,1616.5 1056.6,1617.9 1057.6,1618.9 1058.6,1619.7 1059.7,1620.2 L1059.7,1620.3 Z" fill="url(#gR4)"/>
<polyline points="1019.4,1620.2 1020.4,1619.7 1021.5,1618.5 1022.5,1616.9 1023.5,1614.6 1024.6,1611.4 1025.6,1607.3 1026.6,1602.2 1027.7,1596.4 1028.7,1590.4 1029.7,1584.2 1030.8,1578.0 1031.8,1572.1 1032.8,1566.5 1033.8,1561.7 1034.9,1557.7 1035.9,1554.5 1036.9,1552.3 1038.0,1550.9 1039.0,1550.3 1040.0,1550.3 1041.1,1551.1 1042.1,1553.4 1043.1,1557.1 1044.2,1562.4 1045.2,1568.6 1046.2,1575.6 1047.3,1582.9 1048.3,1590.1 1049.3,1596.5 1050.4,1602.0 1051.4,1606.4 1052.4,1609.9 1053.5,1612.7 1054.5,1614.9 1055.5,1616.5 1056.6,1617.9 1057.6,1618.9 1058.6,1619.7 1059.7,1620.2" class="rl"/>
<path d="M1022.2,1646.7 L1022.2,1646.5 1023.2,1645.9 1024.2,1645.1 1025.3,1644.0 1026.3,1642.9 1027.3,1641.5 1028.3,1639.8 1029.4,1638.0 1030.4,1636.4 1031.4,1634.9 1032.4,1633.5 1033.5,1632.2 1034.5,1631.0 1035.5,1630.0 1036.5,1629.2 1037.6,1628.5 1038.6,1627.8 1039.6,1627.2 1040.6,1626.5 1041.7,1625.8 1042.7,1625.1 1043.7,1624.3 1044.7,1623.5 1045.8,1622.6 1046.8,1621.5 1047.8,1620.5 1048.8,1619.4 1049.9,1618.5 1050.9,1617.6 1051.9,1616.8 1052.9,1616.2 1054.0,1615.9 1055.0,1615.8 1056.0,1615.8 1057.0,1616.1 1058.1,1616.6 1059.1,1617.2 1060.1,1618.0 1061.1,1618.8 1062.1,1619.5 1063.2,1620.2 1064.2,1620.8 1065.2,1621.4 1066.2,1622.0 1067.3,1622.7 1068.3,1623.4 1069.3,1624.1 1070.3,1625.0 1071.4,1626.0 1072.4,1627.1 1073.4,1628.5 1074.4,1629.9 1075.5,1631.6 1076.5,1633.4 1077.5,1635.2 1078.5,1637.0 1079.6,1638.8 1080.6,1640.5 1081.6,1642.1 1082.6,1643.7 1083.7,1645.2 1084.7,1646.3 L1084.7,1646.7 Z" fill="url(#gR4)"/>
<polyline points="1022.2,1646.5 1023.2,1645.9 1024.2,1645.1 1025.3,1644.0 1026.3,1642.9 1027.3,1641.5 1028.3,1639.8 1029.4,1638.0 1030.4,1636.4 1031.4,1634.9 1032.4,1633.5 1033.5,1632.2 1034.5,1631.0 1035.5,1630.0 1036.5,1629.2 1037.6,1628.5 1038.6,1627.8 1039.6,1627.2 1040.6,1626.5 1041.7,1625.8 1042.7,1625.1 1043.7,1624.3 1044.7,1623.5 1045.8,1622.6 1046.8,1621.5 1047.8,1620.5 1048.8,1619.4 1049.9,1618.5 1050.9,1617.6 1051.9,1616.8 1052.9,1616.2 1054.0,1615.9 1055.0,1615.8 1056.0,1615.8 1057.0,1616.1 1058.1,1616.6 1059.1,1617.2 1060.1,1618.0 1061.1,1618.8 1062.1,1619.5 1063.2,1620.2 1064.2,1620.8 1065.2,1621.4 1066.2,1622.0 1067.3,1622.7 1068.3,1623.4 1069.3,1624.1 1070.3,1625.0 1071.4,1626.0 1072.4,1627.1 1073.4,1628.5 1074.4,1629.9 1075.5,1631.6 1076.5,1633.4 1077.5,1635.2 1078.5,1637.0 1079.6,1638.8 1080.6,1640.5 1081.6,1642.1 1082.6,1643.7 1083.7,1645.2 1084.7,1646.3" class="rl"/>
<path d="M1067.6,1673.0 L1067.6,1672.9 1068.7,1672.3 1069.7,1671.3 1070.7,1669.9 1071.7,1668.0 1072.8,1665.5 1073.8,1662.6 1074.8,1659.1 1075.8,1655.2 1076.8,1651.2 1077.9,1647.4 1078.9,1643.8 1079.9,1640.8 1080.9,1638.4 1082.0,1636.5 1083.0,1635.3 1084.0,1634.5 1085.0,1634.0 1086.1,1633.8 1087.1,1634.1 1088.1,1635.3 1089.1,1637.2 1090.2,1639.8 1091.2,1642.8 1092.2,1646.0 1093.2,1648.9 1094.3,1651.3 1095.3,1653.2 1096.3,1654.6 1097.3,1655.6 1098.4,1656.5 1099.4,1657.1 1100.4,1657.6 1101.4,1658.0 1102.5,1658.3 1103.5,1658.6 1104.5,1658.8 1105.5,1659.0 1106.5,1659.3 1107.6,1659.4 1108.6,1659.6 1109.6,1659.6 1110.6,1659.7 1111.7,1659.7 1112.7,1659.7 1113.7,1659.7 1114.7,1659.6 1115.8,1659.6 1116.8,1659.6 1117.8,1659.4 1118.8,1659.3 1119.9,1659.3 1120.9,1659.5 1121.9,1659.8 1122.9,1660.2 1124.0,1660.8 1125.0,1661.4 1126.0,1662.2 1127.0,1663.1 1128.1,1664.0 1129.1,1665.1 1130.1,1666.1 1131.1,1667.1 1132.2,1668.0 1133.2,1668.9 1134.2,1669.7 1135.2,1670.5 1136.3,1671.1 1137.3,1671.7 1138.3,1672.2 1139.3,1672.6 1140.3,1673.0 L1140.3,1673.0 Z" fill="url(#gR4)"/>
<polyline points="1067.6,1672.9 1068.7,1672.3 1069.7,1671.3 1070.7,1669.9 1071.7,1668.0 1072.8,1665.5 1073.8,1662.6 1074.8,1659.1 1075.8,1655.2 1076.8,1651.2 1077.9,1647.4 1078.9,1643.8 1079.9,1640.8 1080.9,1638.4 1082.0,1636.5 1083.0,1635.3 1084.0,1634.5 1085.0,1634.0 1086.1,1633.8 1087.1,1634.1 1088.1,1635.3 1089.1,1637.2 1090.2,1639.8 1091.2,1642.8 1092.2,1646.0 1093.2,1648.9 1094.3,1651.3 1095.3,1653.2 1096.3,1654.6 1097.3,1655.6 1098.4,1656.5 1099.4,1657.1 1100.4,1657.6 1101.4,1658.0 1102.5,1658.3 1103.5,1658.6 1104.5,1658.8 1105.5,1659.0 1106.5,1659.3 1107.6,1659.4 1108.6,1659.6 1109.6,1659.6 1110.6,1659.7 1111.7,1659.7 1112.7,1659.7 1113.7,1659.7 1114.7,1659.6 1115.8,1659.6 1116.8,1659.6 1117.8,1659.4 1118.8,1659.3 1119.9,1659.3 1120.9,1659.5 1121.9,1659.8 1122.9,1660.2 1124.0,1660.8 1125.0,1661.4 1126.0,1662.2 1127.0,1663.1 1128.1,1664.0 1129.1,1665.1 1130.1,1666.1 1131.1,1667.1 1132.2,1668.0 1133.2,1668.9 1134.2,1669.7 1135.2,1670.5 1136.3,1671.1 1137.3,1671.7 1138.3,1672.2 1139.3,1672.6 1140.3,1673.0" class="rl"/>
<path d="M1120.3,1699.4 L1120.3,1699.3 1121.3,1698.9 1122.4,1698.4 1123.4,1697.7 1124.4,1696.8 1125.4,1695.9 1126.5,1694.6 1127.5,1693.3 1128.5,1692.0 1129.5,1690.9 1130.6,1689.9 1131.6,1689.0 1132.6,1688.2 1133.6,1687.6 1134.6,1687.2 1135.7,1687.0 1136.7,1686.7 1137.7,1686.6 1138.7,1686.6 1139.8,1686.6 1140.8,1686.7 1141.8,1686.8 1142.8,1687.0 1143.9,1687.1 1144.9,1687.2 1145.9,1687.4 1146.9,1687.6 1148.0,1687.7 1149.0,1687.8 1150.0,1687.8 1151.0,1687.7 1152.0,1687.4 1153.1,1687.0 1154.1,1686.6 1155.1,1686.0 1156.1,1685.3 1157.2,1684.4 1158.2,1683.5 1159.2,1682.6 1160.2,1681.7 1161.3,1680.9 1162.3,1680.3 1163.3,1679.8 1164.3,1679.4 1165.4,1679.2 1166.4,1679.4 1167.4,1679.8 1168.4,1680.3 1169.4,1680.8 1170.5,1681.2 1171.5,1681.6 1172.5,1681.8 1173.5,1681.9 1174.6,1681.9 1175.6,1681.9 1176.6,1681.8 1177.6,1681.5 1178.7,1681.0 1179.7,1680.4 1180.7,1679.8 1181.7,1679.3 1182.8,1678.9 1183.8,1678.6 1184.8,1678.6 1185.8,1678.6 1186.9,1678.7 1187.9,1679.2 1188.9,1680.0 1189.9,1681.1 1190.9,1682.4 1192.0,1683.8 1193.0,1685.3 1194.0,1686.8 1195.0,1688.4 1196.1,1689.9 1197.1,1691.4 1198.1,1692.8 1199.1,1694.1 1200.2,1695.3 1201.2,1696.3 1202.2,1697.2 1203.2,1698.1 1204.3,1698.8 1205.3,1699.3 L1205.3,1699.4 Z" fill="url(#gR4)"/>
<polyline points="1120.3,1699.3 1121.3,1698.9 1122.4,1698.4 1123.4,1697.7 1124.4,1696.8 1125.4,1695.9 1126.5,1694.6 1127.5,1693.3 1128.5,1692.0 1129.5,1690.9 1130.6,1689.9 1131.6,1689.0 1132.6,1688.2 1133.6,1687.6 1134.6,1687.2 1135.7,1687.0 1136.7,1686.7 1137.7,1686.6 1138.7,1686.6 1139.8,1686.6 1140.8,1686.7 1141.8,1686.8 1142.8,1687.0 1143.9,1687.1 1144.9,1687.2 1145.9,1687.4 1146.9,1687.6 1148.0,1687.7 1149.0,1687.8 1150.0,1687.8 1151.0,1687.7 1152.0,1687.4 1153.1,1687.0 1154.1,1686.6 1155.1,1686.0 1156.1,1685.3 1157.2,1684.4 1158.2,1683.5 1159.2,1682.6 1160.2,1681.7 1161.3,1680.9 1162.3,1680.3 1163.3,1679.8 1164.3,1679.4 1165.4,1679.2 1166.4,1679.4 1167.4,1679.8 1168.4,1680.3 1169.4,1680.8 1170.5,1681.2 1171.5,1681.6 1172.5,1681.8 1173.5,1681.9 1174.6,1681.9 1175.6,1681.9 1176.6,1681.8 1177.6,1681.5 1178.7,1681.0 1179.7,1680.4 1180.7,1679.8 1181.7,1679.3 1182.8,1678.9 1183.8,1678.6 1184.8,1678.6 1185.8,1678.6 1186.9,1678.7 1187.9,1679.2 1188.9,1680.0 1189.9,1681.1 1190.9,1682.4 1192.0,1683.8 1193.0,1685.3 1194.0,1686.8 1195.0,1688.4 1196.1,1689.9 1197.1,1691.4 1198.1,1692.8 1199.1,1694.1 1200.2,1695.3 1201.2,1696.3 1202.2,1697.2 1203.2,1698.1 1204.3,1698.8 1205.3,1699.3" class="rl"/>
<path d="M1186.7,1725.8 L1186.7,1725.7 1187.8,1725.3 1188.8,1724.7 1189.8,1724.0 1190.9,1723.1 1191.9,1722.1 1193.0,1720.9 1194.0,1719.4 1195.0,1717.8 1196.1,1716.1 1197.1,1714.1 1198.2,1711.9 1199.2,1709.5 1200.2,1707.0 1201.3,1704.5 1202.3,1701.9 1203.3,1699.2 1204.4,1696.4 1205.4,1693.5 1206.5,1690.5 1207.5,1687.3 1208.5,1684.2 1209.6,1681.1 1210.6,1678.0 1211.7,1675.2 1212.7,1672.9 1213.7,1671.0 1214.8,1669.8 1215.8,1669.2 1216.9,1669.3 1217.9,1670.5 1218.9,1672.7 1220.0,1676.3 1221.0,1680.7 1222.0,1685.9 1223.1,1691.1 1224.1,1696.1 1225.2,1700.9 1226.2,1705.3 1227.2,1709.3 1228.3,1712.8 1229.3,1715.7 1230.4,1718.1 1231.4,1720.1 1232.4,1721.5 1233.5,1722.7 1234.5,1723.7 1235.6,1724.4 1236.6,1725.0 1237.6,1725.4 1238.7,1725.7 L1238.7,1725.8 Z" fill="url(#gR4)"/>
<polyline points="1186.7,1725.7 1187.8,1725.3 1188.8,1724.7 1189.8,1724.0 1190.9,1723.1 1191.9,1722.1 1193.0,1720.9 1194.0,1719.4 1195.0,1717.8 1196.1,1716.1 1197.1,1714.1 1198.2,1711.9 1199.2,1709.5 1200.2,1707.0 1201.3,1704.5 1202.3,1701.9 1203.3,1699.2 1204.4,1696.4 1205.4,1693.5 1206.5,1690.5 1207.5,1687.3 1208.5,1684.2 1209.6,1681.1 1210.6,1678.0 1211.7,1675.2 1212.7,1672.9 1213.7,1671.0 1214.8,1669.8 1215.8,1669.2 1216.9,1669.3 1217.9,1670.5 1218.9,1672.7 1220.0,1676.3 1221.0,1680.7 1222.0,1685.9 1223.1,1691.1 1224.1,1696.1 1225.2,1700.9 1226.2,1705.3 1227.2,1709.3 1228.3,1712.8 1229.3,1715.7 1230.4,1718.1 1231.4,1720.1 1232.4,1721.5 1233.5,1722.7 1234.5,1723.7 1235.6,1724.4 1236.6,1725.0 1237.6,1725.4 1238.7,1725.7" class="rl"/>
<path d="M1188.2,1752.1 L1188.2,1752.0 1189.2,1751.6 1190.3,1750.9 1191.3,1750.1 1192.3,1749.2 1193.4,1748.1 1194.4,1746.8 1195.4,1745.4 1196.5,1743.8 1197.5,1742.1 1198.5,1740.2 1199.6,1738.1 1200.6,1735.9 1201.6,1733.7 1202.7,1731.3 1203.7,1728.7 1204.7,1726.2 1205.8,1723.7 1206.8,1721.5 1207.8,1719.3 1208.9,1717.2 1209.9,1715.3 1210.9,1713.6 1212.0,1711.9 1213.0,1710.5 1214.0,1709.4 1215.1,1708.5 1216.1,1708.0 1217.1,1707.9 1218.2,1708.0 1219.2,1708.5 1220.2,1709.6 1221.3,1711.1 1222.3,1713.1 1223.3,1715.4 1224.4,1718.0 1225.4,1720.7 1226.4,1723.5 1227.5,1726.4 1228.5,1729.3 1229.5,1732.3 1230.6,1735.2 1231.6,1737.9 1232.6,1740.4 1233.7,1742.7 1234.7,1744.8 1235.7,1746.5 1236.8,1748.0 1237.8,1749.2 1238.8,1750.3 1239.9,1751.3 1240.9,1752.0 L1240.9,1752.1 Z" fill="url(#gR4)"/>
<polyline points="1188.2,1752.0 1189.2,1751.6 1190.3,1750.9 1191.3,1750.1 1192.3,1749.2 1193.4,1748.1 1194.4,1746.8 1195.4,1745.4 1196.5,1743.8 1197.5,1742.1 1198.5,1740.2 1199.6,1738.1 1200.6,1735.9 1201.6,1733.7 1202.7,1731.3 1203.7,1728.7 1204.7,1726.2 1205.8,1723.7 1206.8,1721.5 1207.8,1719.3 1208.9,1717.2 1209.9,1715.3 1210.9,1713.6 1212.0,1711.9 1213.0,1710.5 1214.0,1709.4 1215.1,1708.5 1216.1,1708.0 1217.1,1707.9 1218.2,1708.0 1219.2,1708.5 1220.2,1709.6 1221.3,1711.1 1222.3,1713.1 1223.3,1715.4 1224.4,1718.0 1225.4,1720.7 1226.4,1723.5 1227.5,1726.4 1228.5,1729.3 1229.5,1732.3 1230.6,1735.2 1231.6,1737.9 1232.6,1740.4 1233.7,1742.7 1234.7,1744.8 1235.7,1746.5 1236.8,1748.0 1237.8,1749.2 1238.8,1750.3 1239.9,1751.3 1240.9,1752.0" class="rl"/>
<path d="M1034.2,1778.5 L1034.2,1778.4 1035.2,1777.8 1036.3,1777.1 1037.3,1776.6 1038.3,1776.3 1039.3,1776.1 1040.3,1776.1 1041.3,1776.0 1042.3,1776.0 1043.3,1776.0 1044.3,1775.9 1045.3,1775.9 1046.4,1775.9 1047.4,1775.9 1048.4,1775.8 1049.4,1775.8 1050.4,1775.8 1051.4,1775.8 1052.4,1775.7 1053.4,1775.7 1054.4,1775.7 1055.4,1775.7 1056.5,1775.7 1057.5,1775.7 1058.5,1775.7 1059.5,1775.7 1060.5,1775.7 1061.5,1775.7 1062.5,1775.7 1063.5,1775.7 1064.5,1775.8 1065.5,1775.8 1066.5,1775.8 1067.6,1775.8 1068.6,1775.8 1069.6,1775.8 1070.6,1775.8 1071.6,1775.8 1072.6,1775.8 1073.6,1775.7 1074.6,1775.7 1075.6,1775.7 1076.6,1775.6 1077.7,1775.6 1078.7,1775.5 1079.7,1775.5 1080.7,1775.5 1081.7,1775.5 1082.7,1775.5 1083.7,1775.5 1084.7,1775.6 1085.7,1775.6 1086.7,1775.7 1087.7,1775.7 1088.8,1775.8 1089.8,1775.8 1090.8,1775.8 1091.8,1775.8 1092.8,1775.8 1093.8,1775.8 1094.8,1775.7 1095.8,1775.6 1096.8,1775.6 1097.8,1775.5 1098.9,1775.4 1099.9,1775.3 1100.9,1775.3 1101.9,1775.3 1102.9,1775.3 1103.9,1775.4 1104.9,1775.5 1105.9,1775.6 1106.9,1775.7 1107.9,1775.9 1109.0,1776.0 1110.0,1776.1 1111.0,1776.3 1112.0,1776.4 1113.0,1776.6 1114.0,1776.7 1115.0,1776.9 1116.0,1777.0 1117.0,1777.1 1118.0,1777.1 1119.0,1777.1 1120.1,1777.1 1121.1,1777.1 1122.1,1777.1 1123.1,1777.1 1124.1,1776.9 1125.1,1776.0 1126.1,1774.6 1127.1,1772.9 1128.1,1770.9 1129.1,1768.4 1130.2,1765.7 1131.2,1763.0 1132.2,1760.1 1133.2,1757.1 1134.2,1754.5 1135.2,1752.3 1136.2,1750.5 1137.2,1749.2 1138.2,1748.5 1139.2,1748.2 1140.2,1748.5 1141.3,1749.5 1142.3,1751.2 1143.3,1753.7 1144.3,1756.5 1145.3,1759.4 1146.3,1762.3 1147.3,1764.8 1148.3,1766.9 1149.3,1768.7 1150.3,1770.2 1151.4,1771.4 1152.4,1772.4 1153.4,1773.2 1154.4,1773.7 1155.4,1773.9 1156.4,1773.9 1157.4,1773.8 1158.4,1773.6 1159.4,1773.5 1160.4,1773.3 1161.5,1773.2 1162.5,1773.1 1163.5,1772.9 1164.5,1772.9 1165.5,1772.9 1166.5,1772.9 1167.5,1772.9 1168.5,1772.9 1169.5,1772.9 1170.5,1772.8 1171.5,1772.7 1172.6,1772.5 1173.6,1772.2 1174.6,1771.9 1175.6,1771.6 1176.6,1771.1 1177.6,1770.5 1178.6,1769.8 1179.6,1769.0 1180.6,1768.3 1181.6,1767.5 1182.7,1766.7 1183.7,1765.9 1184.7,1765.1 1185.7,1764.3 1186.7,1763.6 1187.7,1763.0 1188.7,1762.5 1189.7,1762.0 1190.7,1761.6 1191.7,1761.3 1192.8,1761.1 1193.8,1761.1 1194.8,1761.5 1195.8,1762.3 1196.8,1763.4 1197.8,1764.8 1198.8,1766.4 1199.8,1768.0 1200.8,1769.6 1201.8,1771.2 1202.8,1772.6 1203.9,1773.9 1204.9,1775.1 1205.9,1776.1 1206.9,1776.9 1207.9,1777.6 1208.9,1778.1 1209.9,1778.4 L1209.9,1778.5 Z" fill="url(#gR4)"/>
<polyline points="1034.2,1778.4 1035.2,1777.8 1036.3,1777.1 1037.3,1776.6 1038.3,1776.3 1039.3,1776.1 1040.3,1776.1 1041.3,1776.0 1042.3,1776.0 1043.3,1776.0 1044.3,1775.9 1045.3,1775.9 1046.4,1775.9 1047.4,1775.9 1048.4,1775.8 1049.4,1775.8 1050.4,1775.8 1051.4,1775.8 1052.4,1775.7 1053.4,1775.7 1054.4,1775.7 1055.4,1775.7 1056.5,1775.7 1057.5,1775.7 1058.5,1775.7 1059.5,1775.7 1060.5,1775.7 1061.5,1775.7 1062.5,1775.7 1063.5,1775.7 1064.5,1775.8 1065.5,1775.8 1066.5,1775.8 1067.6,1775.8 1068.6,1775.8 1069.6,1775.8 1070.6,1775.8 1071.6,1775.8 1072.6,1775.8 1073.6,1775.7 1074.6,1775.7 1075.6,1775.7 1076.6,1775.6 1077.7,1775.6 1078.7,1775.5 1079.7,1775.5 1080.7,1775.5 1081.7,1775.5 1082.7,1775.5 1083.7,1775.5 1084.7,1775.6 1085.7,1775.6 1086.7,1775.7 1087.7,1775.7 1088.8,1775.8 1089.8,1775.8 1090.8,1775.8 1091.8,1775.8 1092.8,1775.8 1093.8,1775.8 1094.8,1775.7 1095.8,1775.6 1096.8,1775.6 1097.8,1775.5 1098.9,1775.4 1099.9,1775.3 1100.9,1775.3 1101.9,1775.3 1102.9,1775.3 1103.9,1775.4 1104.9,1775.5 1105.9,1775.6 1106.9,1775.7 1107.9,1775.9 1109.0,1776.0 1110.0,1776.1 1111.0,1776.3 1112.0,1776.4 1113.0,1776.6 1114.0,1776.7 1115.0,1776.9 1116.0,1777.0 1117.0,1777.1 1118.0,1777.1 1119.0,1777.1 1120.1,1777.1 1121.1,1777.1 1122.1,1777.1 1123.1,1777.1 1124.1,1776.9 1125.1,1776.0 1126.1,1774.6 1127.1,1772.9 1128.1,1770.9 1129.1,1768.4 1130.2,1765.7 1131.2,1763.0 1132.2,1760.1 1133.2,1757.1 1134.2,1754.5 1135.2,1752.3 1136.2,1750.5 1137.2,1749.2 1138.2,1748.5 1139.2,1748.2 1140.2,1748.5 1141.3,1749.5 1142.3,1751.2 1143.3,1753.7 1144.3,1756.5 1145.3,1759.4 1146.3,1762.3 1147.3,1764.8 1148.3,1766.9 1149.3,1768.7 1150.3,1770.2 1151.4,1771.4 1152.4,1772.4 1153.4,1773.2 1154.4,1773.7 1155.4,1773.9 1156.4,1773.9 1157.4,1773.8 1158.4,1773.6 1159.4,1773.5 1160.4,1773.3 1161.5,1773.2 1162.5,1773.1 1163.5,1772.9 1164.5,1772.9 1165.5,1772.9 1166.5,1772.9 1167.5,1772.9 1168.5,1772.9 1169.5,1772.9 1170.5,1772.8 1171.5,1772.7 1172.6,1772.5 1173.6,1772.2 1174.6,1771.9 1175.6,1771.6 1176.6,1771.1 1177.6,1770.5 1178.6,1769.8 1179.6,1769.0 1180.6,1768.3 1181.6,1767.5 1182.7,1766.7 1183.7,1765.9 1184.7,1765.1 1185.7,1764.3 1186.7,1763.6 1187.7,1763.0 1188.7,1762.5 1189.7,1762.0 1190.7,1761.6 1191.7,1761.3 1192.8,1761.1 1193.8,1761.1 1194.8,1761.5 1195.8,1762.3 1196.8,1763.4 1197.8,1764.8 1198.8,1766.4 1199.8,1768.0 1200.8,1769.6 1201.8,1771.2 1202.8,1772.6 1203.9,1773.9 1204.9,1775.1 1205.9,1776.1 1206.9,1776.9 1207.9,1777.6 1208.9,1778.1 1209.9,1778.4" class="rl"/>
<path d="M1085.6,1804.9 L1085.6,1804.8 1086.7,1804.2 1087.7,1803.1 1088.7,1801.4 1089.8,1799.0 1090.8,1795.8 1091.9,1791.9 1092.9,1787.2 1093.9,1781.8 1095.0,1775.9 1096.0,1769.6 1097.1,1763.2 1098.1,1756.7 1099.1,1750.7 1100.2,1745.3 1101.2,1741.1 1102.3,1738.5 1103.3,1737.0 1104.3,1736.7 1105.4,1737.8 1106.4,1740.3 1107.5,1744.8 1108.5,1750.8 1109.5,1757.5 1110.6,1764.3 1111.6,1770.5 1112.7,1776.0 1113.7,1780.9 1114.7,1785.4 1115.8,1789.4 1116.8,1792.8 1117.9,1795.7 1118.9,1798.2 1119.9,1800.3 1121.0,1802.0 1122.0,1803.2 1123.1,1804.0 1124.1,1804.6 1125.1,1804.8 L1125.1,1804.9 Z" fill="url(#gR4)"/>
<polyline points="1085.6,1804.8 1086.7,1804.2 1087.7,1803.1 1088.7,1801.4 1089.8,1799.0 1090.8,1795.8 1091.9,1791.9 1092.9,1787.2 1093.9,1781.8 1095.0,1775.9 1096.0,1769.6 1097.1,1763.2 1098.1,1756.7 1099.1,1750.7 1100.2,1745.3 1101.2,1741.1 1102.3,1738.5 1103.3,1737.0 1104.3,1736.7 1105.4,1737.8 1106.4,1740.3 1107.5,1744.8 1108.5,1750.8 1109.5,1757.5 1110.6,1764.3 1111.6,1770.5 1112.7,1776.0 1113.7,1780.9 1114.7,1785.4 1115.8,1789.4 1116.8,1792.8 1117.9,1795.7 1118.9,1798.2 1119.9,1800.3 1121.0,1802.0 1122.0,1803.2 1123.1,1804.0 1124.1,1804.6 1125.1,1804.8" class="rl"/>
<path d="M1083.8,1831.3 L1083.8,1831.1 1084.8,1830.5 1085.8,1829.5 1086.9,1828.1 1087.9,1826.3 1088.9,1824.1 1090.0,1821.4 1091.0,1818.5 1092.1,1815.1 1093.1,1811.4 1094.1,1807.5 1095.2,1803.2 1096.2,1798.9 1097.2,1795.0 1098.3,1791.4 1099.3,1788.2 1100.3,1785.4 1101.4,1782.8 1102.4,1780.8 1103.4,1779.3 1104.5,1778.3 1105.5,1777.8 1106.5,1777.9 1107.6,1778.4 1108.6,1779.7 1109.7,1781.8 1110.7,1784.6 1111.7,1788.1 1112.8,1792.0 1113.8,1796.1 1114.8,1800.3 1115.9,1804.5 1116.9,1808.7 1117.9,1812.7 1119.0,1816.5 1120.0,1820.0 1121.0,1822.9 1122.1,1825.4 1123.1,1827.3 1124.1,1828.6 1125.2,1829.6 1126.2,1830.4 1127.3,1831.0 1128.3,1831.2 L1128.3,1831.3 Z" fill="url(#gR4)"/>
<polyline points="1083.8,1831.1 1084.8,1830.5 1085.8,1829.5 1086.9,1828.1 1087.9,1826.3 1088.9,1824.1 1090.0,1821.4 1091.0,1818.5 1092.1,1815.1 1093.1,1811.4 1094.1,1807.5 1095.2,1803.2 1096.2,1798.9 1097.2,1795.0 1098.3,1791.4 1099.3,1788.2 1100.3,1785.4 1101.4,1782.8 1102.4,1780.8 1103.4,1779.3 1104.5,1778.3 1105.5,1777.8 1106.5,1777.9 1107.6,1778.4 1108.6,1779.7 1109.7,1781.8 1110.7,1784.6 1111.7,1788.1 1112.8,1792.0 1113.8,1796.1 1114.8,1800.3 1115.9,1804.5 1116.9,1808.7 1117.9,1812.7 1119.0,1816.5 1120.0,1820.0 1121.0,1822.9 1122.1,1825.4 1123.1,1827.3 1124.1,1828.6 1125.2,1829.6 1126.2,1830.4 1127.3,1831.0 1128.3,1831.2" class="rl"/>
<path d="M1066.7,1857.6 L1066.7,1857.5 1067.7,1856.9 1068.7,1856.1 1069.8,1855.2 1070.8,1854.1 1071.8,1852.7 1072.8,1851.2 1073.9,1849.6 1074.9,1848.0 1075.9,1846.4 1076.9,1844.8 1077.9,1843.4 1079.0,1842.1 1080.0,1840.9 1081.0,1839.9 1082.0,1839.3 1083.1,1838.9 1084.1,1838.7 1085.1,1838.5 1086.1,1838.3 1087.1,1838.1 1088.2,1837.8 1089.2,1837.0 1090.2,1835.5 1091.2,1833.5 1092.3,1831.2 1093.3,1828.3 1094.3,1825.2 1095.3,1821.9 1096.3,1818.4 1097.4,1815.0 1098.4,1811.9 1099.4,1809.2 1100.4,1807.2 1101.5,1806.1 1102.5,1805.8 1103.5,1806.6 1104.5,1808.6 1105.5,1812.2 1106.6,1816.9 1107.6,1822.0 1108.6,1827.1 1109.6,1832.1 1110.6,1836.8 1111.7,1841.1 1112.7,1844.8 1113.7,1848.1 1114.7,1850.9 1115.8,1853.0 1116.8,1854.5 1117.8,1855.7 1118.8,1856.5 1119.8,1857.2 1120.9,1857.5 L1120.9,1857.6 Z" fill="url(#gR4)"/>
<polyline points="1066.7,1857.5 1067.7,1856.9 1068.7,1856.1 1069.8,1855.2 1070.8,1854.1 1071.8,1852.7 1072.8,1851.2 1073.9,1849.6 1074.9,1848.0 1075.9,1846.4 1076.9,1844.8 1077.9,1843.4 1079.0,1842.1 1080.0,1840.9 1081.0,1839.9 1082.0,1839.3 1083.1,1838.9 1084.1,1838.7 1085.1,1838.5 1086.1,1838.3 1087.1,1838.1 1088.2,1837.8 1089.2,1837.0 1090.2,1835.5 1091.2,1833.5 1092.3,1831.2 1093.3,1828.3 1094.3,1825.2 1095.3,1821.9 1096.3,1818.4 1097.4,1815.0 1098.4,1811.9 1099.4,1809.2 1100.4,1807.2 1101.5,1806.1 1102.5,1805.8 1103.5,1806.6 1104.5,1808.6 1105.5,1812.2 1106.6,1816.9 1107.6,1822.0 1108.6,1827.1 1109.6,1832.1 1110.6,1836.8 1111.7,1841.1 1112.7,1844.8 1113.7,1848.1 1114.7,1850.9 1115.8,1853.0 1116.8,1854.5 1117.8,1855.7 1118.8,1856.5 1119.8,1857.2 1120.9,1857.5" class="rl"/>
<path d="M982.3,1884.0 L982.3,1883.9 983.3,1883.3 984.3,1882.6 985.3,1881.9 986.4,1881.0 987.4,1880.1 988.4,1879.0 989.4,1878.0 990.4,1876.9 991.4,1875.9 992.5,1875.0 993.5,1874.2 994.5,1873.4 995.5,1872.7 996.5,1872.2 997.6,1871.8 998.6,1871.5 999.6,1871.3 1000.6,1871.1 1001.6,1870.9 1002.6,1870.9 1003.7,1870.9 1004.7,1871.0 1005.7,1871.3 1006.7,1871.6 1007.7,1872.0 1008.7,1872.4 1009.8,1873.0 1010.8,1873.7 1011.8,1874.5 1012.8,1875.4 1013.8,1876.1 1014.8,1876.8 1015.9,1877.4 1016.9,1878.0 1017.9,1878.5 1018.9,1878.9 1019.9,1879.2 1020.9,1879.4 1022.0,1879.6 1023.0,1879.8 1024.0,1879.9 1025.0,1880.0 1026.0,1880.1 1027.0,1880.1 1028.1,1880.0 1029.1,1879.8 1030.1,1879.6 1031.1,1879.4 1032.1,1879.1 1033.1,1878.6 1034.2,1878.1 1035.2,1877.4 1036.2,1876.6 1037.2,1875.6 1038.2,1874.3 1039.2,1872.8 1040.3,1871.2 1041.3,1869.6 1042.3,1867.9 1043.3,1866.3 1044.3,1864.9 1045.3,1864.0 1046.4,1863.3 1047.4,1862.8 1048.4,1862.6 1049.4,1862.8 1050.4,1863.5 1051.5,1864.5 1052.5,1865.7 1053.5,1867.5 1054.5,1869.7 1055.5,1871.8 1056.5,1873.7 1057.6,1875.5 1058.6,1877.1 1059.6,1878.4 1060.6,1879.1 1061.6,1879.5 1062.6,1879.7 1063.7,1879.9 1064.7,1880.0 1065.7,1880.0 1066.7,1879.8 1067.7,1879.1 1068.7,1877.9 1069.8,1876.4 1070.8,1874.6 1071.8,1872.3 1072.8,1869.8 1073.8,1867.5 1074.8,1865.1 1075.9,1863.0 1076.9,1861.2 1077.9,1860.1 1078.9,1859.4 1079.9,1859.0 1080.9,1859.1 1082.0,1860.0 1083.0,1861.3 1084.0,1863.0 1085.0,1865.3 1086.0,1867.7 1087.0,1870.1 1088.1,1872.5 1089.1,1874.9 1090.1,1876.9 1091.1,1878.7 1092.1,1880.2 1093.1,1881.4 1094.2,1882.5 1095.2,1883.3 1096.2,1883.9 L1096.2,1884.0 Z" fill="url(#gR4)"/>
<polyline points="982.3,1883.9 983.3,1883.3 984.3,1882.6 985.3,1881.9 986.4,1881.0 987.4,1880.1 988.4,1879.0 989.4,1878.0 990.4,1876.9 991.4,1875.9 992.5,1875.0 993.5,1874.2 994.5,1873.4 995.5,1872.7 996.5,1872.2 997.6,1871.8 998.6,1871.5 999.6,1871.3 1000.6,1871.1 1001.6,1870.9 1002.6,1870.9 1003.7,1870.9 1004.7,1871.0 1005.7,1871.3 1006.7,1871.6 1007.7,1872.0 1008.7,1872.4 1009.8,1873.0 1010.8,1873.7 1011.8,1874.5 1012.8,1875.4 1013.8,1876.1 1014.8,1876.8 1015.9,1877.4 1016.9,1878.0 1017.9,1878.5 1018.9,1878.9 1019.9,1879.2 1020.9,1879.4 1022.0,1879.6 1023.0,1879.8 1024.0,1879.9 1025.0,1880.0 1026.0,1880.1 1027.0,1880.1 1028.1,1880.0 1029.1,1879.8 1030.1,1879.6 1031.1,1879.4 1032.1,1879.1 1033.1,1878.6 1034.2,1878.1 1035.2,1877.4 1036.2,1876.6 1037.2,1875.6 1038.2,1874.3 1039.2,1872.8 1040.3,1871.2 1041.3,1869.6 1042.3,1867.9 1043.3,1866.3 1044.3,1864.9 1045.3,1864.0 1046.4,1863.3 1047.4,1862.8 1048.4,1862.6 1049.4,1862.8 1050.4,1863.5 1051.5,1864.5 1052.5,1865.7 1053.5,1867.5 1054.5,1869.7 1055.5,1871.8 1056.5,1873.7 1057.6,1875.5 1058.6,1877.1 1059.6,1878.4 1060.6,1879.1 1061.6,1879.5 1062.6,1879.7 1063.7,1879.9 1064.7,1880.0 1065.7,1880.0 1066.7,1879.8 1067.7,1879.1 1068.7,1877.9 1069.8,1876.4 1070.8,1874.6 1071.8,1872.3 1072.8,1869.8 1073.8,1867.5 1074.8,1865.1 1075.9,1863.0 1076.9,1861.2 1077.9,1860.1 1078.9,1859.4 1079.9,1859.0 1080.9,1859.1 1082.0,1860.0 1083.0,1861.3 1084.0,1863.0 1085.0,1865.3 1086.0,1867.7 1087.0,1870.1 1088.1,1872.5 1089.1,1874.9 1090.1,1876.9 1091.1,1878.7 1092.1,1880.2 1093.1,1881.4 1094.2,1882.5 1095.2,1883.3 1096.2,1883.9" class="rl"/>
<path d="M1039.2,1910.4 L1039.2,1910.3 1040.3,1909.7 1041.3,1908.6 1042.3,1906.9 1043.4,1904.3 1044.4,1900.7 1045.4,1896.2 1046.5,1890.7 1047.5,1884.1 1048.5,1876.7 1049.6,1868.6 1050.6,1860.5 1051.6,1852.8 1052.7,1845.9 1053.7,1840.1 1054.8,1835.8 1055.8,1833.0 1056.8,1831.9 1057.9,1832.0 1058.9,1834.0 1059.9,1838.5 1061.0,1845.6 1062.0,1854.2 1063.0,1863.5 1064.1,1872.5 1065.1,1880.7 1066.1,1887.9 1067.2,1894.1 1068.2,1899.1 1069.2,1903.0 1070.3,1905.9 1071.3,1907.7 1072.3,1908.9 1073.4,1909.6 1074.4,1910.1 1075.4,1910.3 L1075.4,1910.4 Z" fill="url(#gR4)"/>
<polyline points="1039.2,1910.3 1040.3,1909.7 1041.3,1908.6 1042.3,1906.9 1043.4,1904.3 1044.4,1900.7 1045.4,1896.2 1046.5,1890.7 1047.5,1884.1 1048.5,1876.7 1049.6,1868.6 1050.6,1860.5 1051.6,1852.8 1052.7,1845.9 1053.7,1840.1 1054.8,1835.8 1055.8,1833.0 1056.8,1831.9 1057.9,1832.0 1058.9,1834.0 1059.9,1838.5 1061.0,1845.6 1062.0,1854.2 1063.0,1863.5 1064.1,1872.5 1065.1,1880.7 1066.1,1887.9 1067.2,1894.1 1068.2,1899.1 1069.2,1903.0 1070.3,1905.9 1071.3,1907.7 1072.3,1908.9 1073.4,1909.6 1074.4,1910.1 1075.4,1910.3" class="rl"/>
<path d="M1015.4,1552.0V1568.1M1015.4,1584.3V1600.4M1015.4,1616.7V1632.8M1015.4,1649.0V1665.1M1015.4,1681.4V1697.5M1015.4,1713.8V1729.8M1015.4,1746.1V1762.2M1015.4,1778.5V1794.5M1015.4,1810.8V1826.9M1015.4,1843.2V1859.2M1015.4,1875.5V1891.6M1015.4,1907.8V1923.9" stroke="#ff0000" stroke-width="4.1" fill="none"/>
<path d="M1218.2,1552.0V1568.1M1218.2,1584.3V1600.4M1218.2,1616.7V1632.8M1218.2,1649.0V1665.1M1218.2,1681.4V1697.5M1218.2,1713.8V1729.8M1218.2,1746.1V1762.2M1218.2,1778.5V1794.5M1218.2,1810.8V1826.9M1218.2,1843.2V1859.2M1218.2,1875.5V1891.6M1218.2,1907.8V1923.9" stroke="#0000f0" stroke-width="4.1" fill="none"/>
<text transform="translate(814.3,1531.8) scale(0.947,1)" font-size="31.5" class="b">2022</text></g>
<text transform="translate(111.2,1956.0) scale(0.962,1)" font-size="31.2" text-anchor="middle" class="b">15</text>
<text transform="translate(233.6,1956.0) scale(0.962,1)" font-size="31.2" text-anchor="middle" class="b">20</text>
<text transform="translate(356.0,1956.0) scale(0.962,1)" font-size="31.2" text-anchor="middle" class="b">25</text>
<text transform="translate(478.4,1956.0) scale(0.962,1)" font-size="31.2" text-anchor="middle" class="b">30</text>
<text transform="translate(600.8,1956.0) scale(0.962,1)" font-size="31.2" text-anchor="middle" class="b">35</text>
<text transform="translate(723.2,1956.0) scale(0.962,1)" font-size="31.2" text-anchor="middle" class="b">40</text>
<text transform="translate(838.0,1958.2) scale(0.962,1)" font-size="31.2" text-anchor="middle" class="b">15</text>
<text transform="translate(964.7,1958.2) scale(0.962,1)" font-size="31.2" text-anchor="middle" class="b">20</text>
<text transform="translate(1091.5,1958.2) scale(0.962,1)" font-size="31.2" text-anchor="middle" class="b">25</text>
<text transform="translate(1218.2,1958.2) scale(0.962,1)" font-size="31.2" text-anchor="middle" class="b">30</text>
<text transform="translate(1344.9,1958.2) scale(0.962,1)" font-size="31.2" text-anchor="middle" class="b">35</text>
<text transform="translate(1471.6,1958.2) scale(0.962,1)" font-size="31.2" text-anchor="middle" class="b">40</text>
<text transform="translate(876.2,2004.2) scale(0.962,1)" font-size="29.3" text-anchor="middle" class="b">Temperature (ºC)</text>
<text transform="translate(27.6,1005.2) rotate(-90) scale(0.962,1)" font-size="29.1" text-anchor="middle" class="b">Months</text>
<text transform="translate(419.2,110.1) scale(0.978,1)" font-size="34.9" style="fill:#0000f0">Surface</text>
<text transform="translate(1258.4,133.2) scale(0.981,1)" font-size="34.9" style="fill:#0000f0">Subsurface</text>
<text transform="translate(1548.3,726.4) scale(0.982,1)" font-size="31.25">Temp. [ºC]</text>
<rect x="1548.4" y="745.7" width="56.6" height="565.7" fill="url(#gbar)"/>
<line x1="1548.4" x2="1559.8" y1="834.0" y2="834.0" stroke="#fff" stroke-opacity=".7" stroke-width="1.2"/>
<line x1="1593.6" x2="1605" y1="834.0" y2="834.0" stroke="#fff" stroke-opacity=".7" stroke-width="1.2"/>
<text transform="translate(1618.2,843.7) scale(1.027,1)" font-size="26.9">35</text>
<line x1="1548.4" x2="1559.8" y1="970.3" y2="970.3" stroke="#fff" stroke-opacity=".7" stroke-width="1.2"/>
<line x1="1593.6" x2="1605" y1="970.3" y2="970.3" stroke="#fff" stroke-opacity=".7" stroke-width="1.2"/>
<text transform="translate(1618.2,980.0) scale(1.027,1)" font-size="26.9">30</text>
<line x1="1548.4" x2="1559.8" y1="1106.6" y2="1106.6" stroke="#fff" stroke-opacity=".7" stroke-width="1.2"/>
<line x1="1593.6" x2="1605" y1="1106.6" y2="1106.6" stroke="#fff" stroke-opacity=".7" stroke-width="1.2"/>
<text transform="translate(1618.2,1116.3) scale(1.027,1)" font-size="26.9">25</text>
<line x1="1548.4" x2="1559.8" y1="1243.0" y2="1243.0" stroke="#fff" stroke-opacity=".7" stroke-width="1.2"/>
<line x1="1593.6" x2="1605" y1="1243.0" y2="1243.0" stroke="#fff" stroke-opacity=".7" stroke-width="1.2"/>
<text transform="translate(1618.2,1252.7) scale(1.027,1)" font-size="26.9">20</text>
<rect x="34.6" y="34.6" width="1690.4" height="1942.4" fill="none" stroke="#000" stroke-width="4.4"/>
</svg>
</body></html>
